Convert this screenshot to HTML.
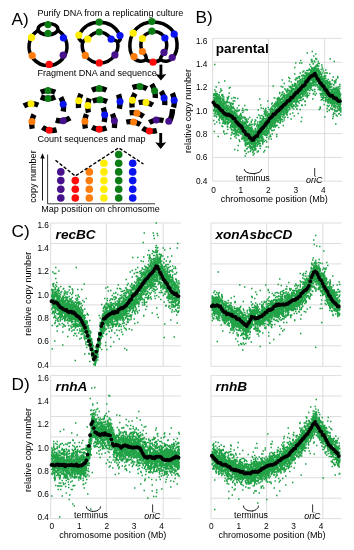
<!DOCTYPE html>
<html lang="en"><head><meta charset="utf-8"><title>Replication profiles</title>
<style>html,body{margin:0;padding:0;background:#fff;}body{width:354px;height:550px;overflow:hidden;}svg{display:block;font-family:'Liberation Sans', Arial, Helvetica, sans-serif;fill:#000;}</style></head><body>
<svg width="354" height="550" viewBox="0 0 354 550">
<rect width="354" height="550" fill="#fff"/>
<g id="plotB">
<path d="M212.6 38.4H342.4M212.6 62.2H342.4M212.6 86.0H342.4M212.6 109.8H342.4M212.6 133.6H342.4M212.6 157.4H342.4M212.6 181.2H342.4M268.5 38.4V181.2M324.7 38.4V181.2M212.6 38.4V181.2" stroke="#d9d9d9" stroke-width="0.9" fill="none"/>
<path d="M222.5 103h1.5M312 71.5h1.5M268.5 123.5h1.5M305 85.5h1.5M337.5 110h1.5M281.5 104h1.5M276.5 117h1.5M222 109h1.5M247 121.5h1.5M276.5 106h1.5M299.5 91h1.5M315 72h1.5M261.5 125.5h1.5M221.5 115.5h1.5M249.5 135.5h1.5M328.5 95.5h1.5M240 131.5h1.5M270.5 117h1.5M331.5 105h1.5M216 99h1.5M289.5 92h1.5M334 113.5h1.5M242 137h1.5M282.5 111h1.5M328.5 83.5h1.5M230 114.5h1.5M279.5 104.5h1.5M308.5 74.5h1.5M298 91.5h1.5M272.5 114.5h1.5M239 141.5h1.5M275.5 105h1.5M260.5 128h1.5M273.5 109h1.5M259.5 124h1.5M319.5 107h1.5M310.5 87h1.5M253 142h1.5M286 106.5h1.5M248 138.5h1.5M270.5 119.5h1.5M258 115h1.5M296.5 78.5h1.5M260 134.5h1.5M271.5 103h1.5M304.5 92.5h1.5M265.5 130h1.5M328 95h1.5M236 124.5h1.5M307 85.5h1.5M266.5 120h1.5M267 134h1.5M293.5 93.5h1.5M279.5 104.5h1.5M265.5 135.5h1.5M213 103.5h1.5M224.5 116h1.5M303 92.5h1.5M279.5 123h1.5M301.5 87h1.5M334.5 99h1.5M300 80.5h1.5M219.5 108h1.5M252 149.5h1.5M288.5 96h1.5M243 124h1.5M335.5 89h1.5M333 89.5h1.5M321 75h1.5M273 116.5h1.5M320 83.5h1.5M229.5 87.5h1.5M252 142h1.5M272 125.5h1.5M307.5 86h1.5M274.5 110h1.5M230.5 121.5h1.5M256.5 132h1.5M254 122h1.5M251 129.5h1.5M234 111.5h1.5M265.5 122.5h1.5M270 123.5h1.5M311.5 51.5h1.5M314 62h1.5M279.5 117h1.5M271.5 112.5h1.5M312 90h1.5M326 92.5h1.5M299 81h1.5M315 79h1.5M332.5 103h1.5M218 82.5h1.5M324.5 86.5h1.5M248 143.5h1.5M273.5 107h1.5M314.5 76.5h1.5M304 86.5h1.5M231.5 130h1.5M296.5 100h1.5M221.5 107h1.5M258.5 124.5h1.5M316.5 73.5h1.5M267.5 123h1.5M289 99.5h1.5M305.5 80h1.5M317.5 71.5h1.5M309.5 86.5h1.5M214 101h1.5M266.5 119h1.5M272 120.5h1.5M220 109.5h1.5M282 107h1.5M290 105.5h1.5M318.5 73h1.5M332.5 98.5h1.5M229 122h1.5M242 122.5h1.5M297 93.5h1.5M230 120h1.5M241.5 131h1.5M286 103h1.5M234.5 113.5h1.5M312.5 70.5h1.5M322 84.5h1.5M217 104h1.5M280.5 106.5h1.5M314.5 70.5h1.5M337 89.5h1.5M248 138.5h1.5M234.5 114.5h1.5M324.5 97.5h1.5M328.5 110.5h1.5M238 135.5h1.5M269 127.5h1.5M304.5 80h1.5M320.5 76.5h1.5M234.5 118.5h1.5M297.5 97.5h1.5M315.5 75h1.5M283 96.5h1.5M234 125h1.5M217.5 103h1.5M248.5 141h1.5M315.5 75h1.5M218.5 102h1.5M214 100.5h1.5M259 137h1.5M221 105.5h1.5M232 126.5h1.5M216 100h1.5M279.5 118.5h1.5M301.5 79h1.5M267 116h1.5M230 125h1.5M255 146h1.5M288 99h1.5M332.5 101.5h1.5M339 88.5h1.5M243.5 124h1.5M214 103.5h1.5M318.5 109.5h1.5M331 93.5h1.5M271.5 108.5h1.5M311 62h1.5M323 85.5h1.5M290.5 102h1.5M324 85h1.5M216 106h1.5M247.5 129.5h1.5M248 142.5h1.5M228 117.5h1.5M329 73.5h1.5M217 101.5h1.5M298.5 97.5h1.5M222 109h1.5M259 99h1.5M266 121.5h1.5M236 115h1.5M279 93.5h1.5M281 111h1.5M253 147h1.5M306.5 78h1.5M233.5 114h1.5M237.5 122h1.5M258 130h1.5M261 129h1.5M239 128.5h1.5M330 84.5h1.5M318.5 76.5h1.5M226.5 124h1.5M260 130h1.5M242.5 129.5h1.5M270.5 121h1.5M248 129.5h1.5M276.5 103.5h1.5M330.5 108.5h1.5M261.5 128.5h1.5M295.5 86h1.5M288.5 105h1.5M308.5 77h1.5M220.5 102.5h1.5M307.5 77h1.5M333.5 88.5h1.5M289.5 92.5h1.5M249.5 141.5h1.5M298.5 90h1.5M303.5 82.5h1.5M296.5 109h1.5M231.5 122h1.5M337 96.5h1.5M334.5 88.5h1.5M267 119.5h1.5M288.5 107.5h1.5M218 100h1.5M338.5 113.5h1.5M317 75h1.5M294 74h1.5M309.5 75.5h1.5M237 131.5h1.5M252 135h1.5M244.5 136h1.5M288.5 104h1.5M224.5 102.5h1.5M327 97.5h1.5M271.5 126h1.5M269.5 124.5h1.5M226 101.5h1.5M300 90h1.5M317 80.5h1.5M293 100.5h1.5M243.5 141h1.5M313 77h1.5M231.5 117.5h1.5M318 66h1.5M287 94.5h1.5M249.5 151.5h1.5M278 103.5h1.5M293 94h1.5M246 122h1.5M320.5 80.5h1.5M266.5 115.5h1.5M326.5 93h1.5M319 79.5h1.5M225.5 114h1.5M295 83.5h1.5M252.5 138h1.5M309 84h1.5M282 87h1.5M271 114.5h1.5M327 90h1.5M220 112.5h1.5M284 108.5h1.5M254.5 140.5h1.5M217.5 107.5h1.5M309 84h1.5M284.5 103h1.5M326.5 90h1.5M289 92h1.5M256 134h1.5M338.5 98.5h1.5M227.5 123h1.5M219.5 100h1.5M306 85h1.5M260 126h1.5M259 132h1.5M324.5 94h1.5M254.5 136.5h1.5M326 84h1.5M295 94h1.5M255 142.5h1.5M220.5 110h1.5M244 134.5h1.5M336 90.5h1.5M264.5 131.5h1.5M233.5 116.5h1.5M251 130h1.5M327.5 93.5h1.5M234 111h1.5M312 79.5h1.5M230 126h1.5M335 95h1.5M280.5 103h1.5M218.5 113.5h1.5M331.5 99.5h1.5M258.5 138h1.5M306 70.5h1.5M279.5 104.5h1.5M224.5 122.5h1.5M226.5 107.5h1.5M232 115h1.5M233.5 120.5h1.5M219.5 108.5h1.5M219 105.5h1.5M333.5 81h1.5M224.5 114.5h1.5M277.5 104.5h1.5M228 120h1.5M240 134h1.5M310 71.5h1.5M332.5 97h1.5M272.5 127h1.5M213.5 113.5h1.5M340 107.5h1.5M219 104h1.5M262.5 130.5h1.5M281.5 101.5h1.5M326.5 111.5h1.5M317.5 80h1.5M290.5 106.5h1.5M263.5 111.5h1.5M319 77h1.5M323.5 79h1.5M324 81h1.5M304 76.5h1.5M225.5 114.5h1.5M251 132.5h1.5M274.5 126h1.5M277 109.5h1.5M319 77h1.5M243 125h1.5M297.5 94.5h1.5M260.5 132.5h1.5M311.5 70.5h1.5M238 105.5h1.5M273.5 113.5h1.5M226 107h1.5M240 126h1.5M332 90.5h1.5M253 140.5h1.5M326.5 83.5h1.5M279.5 111h1.5M218 104.5h1.5M314 80h1.5M219.5 106.5h1.5M318 82.5h1.5M214 101.5h1.5M298.5 88.5h1.5M234 116h1.5M256.5 127h1.5M334 99h1.5M275 114.5h1.5M296.5 101.5h1.5M307 84h1.5M227 124.5h1.5M319.5 108.5h1.5M329 95.5h1.5M232.5 112.5h1.5M282.5 105h1.5M249 142h1.5M307 80.5h1.5M216.5 112h1.5M278 109h1.5M314 75h1.5M306.5 95h1.5M226.5 117h1.5M319 82h1.5M243 131.5h1.5M315.5 78.5h1.5M276 113h1.5M233.5 126h1.5M306.5 78.5h1.5M315.5 93.5h1.5M302 88h1.5M335.5 94h1.5M245.5 122.5h1.5M243 124h1.5M231.5 120.5h1.5M281.5 104.5h1.5M263.5 134h1.5M258.5 128h1.5M271.5 112h1.5M248 133h1.5M213.5 99.5h1.5M273 115.5h1.5M248 128h1.5M270 118.5h1.5M331 84h1.5M235.5 123h1.5M294 94h1.5M295 92.5h1.5M248.5 130.5h1.5M273 116.5h1.5M336.5 100.5h1.5M256.5 124.5h1.5M303.5 91h1.5M320 79.5h1.5M259 135.5h1.5M339 110.5h1.5M292.5 88.5h1.5M276.5 98.5h1.5M304 78.5h1.5M267 124h1.5M303.5 78.5h1.5M248 129.5h1.5M331 106h1.5M282 106h1.5M243.5 136h1.5M268.5 127.5h1.5M327 100.5h1.5M315.5 65.5h1.5M274.5 117.5h1.5M257.5 138.5h1.5M261 137h1.5M337.5 91h1.5M227 107.5h1.5M326 91.5h1.5M322 85h1.5M241.5 126h1.5M257.5 130.5h1.5M285.5 102h1.5M315 72h1.5M334 99.5h1.5M339 92.5h1.5M248.5 129.5h1.5M237.5 121h1.5M275 113.5h1.5M284 112h1.5M296.5 90h1.5M226.5 100h1.5M295 107h1.5M330 102.5h1.5M329.5 98h1.5M333 100h1.5M330.5 95h1.5M335 124h1.5M219 100h1.5M329.5 99h1.5M247.5 139h1.5M253.5 153.5h1.5M271.5 118h1.5M334.5 108h1.5M290 101.5h1.5M258 127.5h1.5M260.5 124h1.5M328 100.5h1.5M317.5 70.5h1.5M230.5 115h1.5M244.5 156h1.5M260 125h1.5M240.5 130.5h1.5M284.5 117h1.5M241.5 138h1.5M286 108h1.5M332 92h1.5M321 95h1.5M225.5 115.5h1.5M239 126.5h1.5M265.5 118.5h1.5M295 63h1.5M262 131.5h1.5M245 129h1.5M257 124.5h1.5M239 131h1.5M322.5 87.5h1.5M301.5 83.5h1.5M265 123h1.5M302 90h1.5M279 114h1.5M280 104h1.5M259.5 145.5h1.5M275 112.5h1.5M338.5 94.5h1.5M312.5 75h1.5M318 79.5h1.5M228.5 122.5h1.5M277 117h1.5M259.5 118h1.5M224 104h1.5M263 132.5h1.5M222.5 111.5h1.5M242.5 123.5h1.5M314.5 71h1.5M300 98.5h1.5M302 72h1.5M223 118.5h1.5M234 127h1.5M215.5 96.5h1.5M225.5 108.5h1.5M226 115h1.5M335 99.5h1.5M326.5 94h1.5M239 133h1.5M245 128.5h1.5M335 99.5h1.5M285.5 106.5h1.5M260 129h1.5M272.5 117.5h1.5M247.5 144h1.5M287 89h1.5M305 85.5h1.5M278.5 108h1.5M317.5 61.5h1.5M227.5 112.5h1.5M289.5 101.5h1.5M339 106.5h1.5M232 114h1.5M276 118h1.5M293 105h1.5M256 137.5h1.5M335.5 104h1.5M274.5 118h1.5M274 120h1.5M328 87h1.5M215 112h1.5M323.5 90h1.5M229.5 127.5h1.5M261 135h1.5M275 109.5h1.5M273.5 123.5h1.5M218 115h1.5M253 146h1.5M258.5 129.5h1.5M334.5 96h1.5M329.5 103h1.5M287.5 97h1.5M331.5 102h1.5M323 87h1.5M260.5 126.5h1.5M228 112.5h1.5M290 92h1.5M254 141.5h1.5M214 99.5h1.5M337.5 100.5h1.5M336 98.5h1.5M281 111h1.5M291.5 104h1.5M298 81.5h1.5M331 98.5h1.5M272.5 113.5h1.5M287 101h1.5M241.5 128h1.5M243.5 140.5h1.5M279.5 119.5h1.5M242 127.5h1.5M216.5 104.5h1.5M260 140.5h1.5M308.5 83.5h1.5M248 147h1.5M322.5 81.5h1.5M302.5 93.5h1.5M296 90h1.5M326.5 73h1.5M222.5 115h1.5M235.5 116.5h1.5M328.5 98.5h1.5M328.5 91.5h1.5M223 118.5h1.5M311.5 69h1.5M215 94.5h1.5M230 138.5h1.5M227 129.5h1.5M250.5 138.5h1.5M262.5 119h1.5M329 99.5h1.5M268.5 137h1.5M228.5 113h1.5M247.5 132.5h1.5M213.5 98h1.5M216.5 108.5h1.5M267.5 122h1.5M278 102h1.5M244.5 127h1.5M261 136h1.5M226 106h1.5M296.5 93.5h1.5M263 134.5h1.5M233.5 125h1.5M276 102.5h1.5M239.5 129.5h1.5M250 130.5h1.5M228.5 102.5h1.5M312 78h1.5M248.5 125.5h1.5M334.5 97h1.5M264.5 133.5h1.5M232.5 122.5h1.5M302.5 85h1.5M306 88h1.5M325 89.5h1.5M229.5 121h1.5M313.5 82h1.5M322.5 71h1.5M251.5 149h1.5M270.5 118h1.5M291.5 97.5h1.5M244 133.5h1.5M324 85.5h1.5M302 84h1.5M322 88h1.5M270 116h1.5M279 113.5h1.5M237.5 128.5h1.5M253 136h1.5M305.5 80.5h1.5M335 102h1.5M232.5 118.5h1.5M219.5 111.5h1.5M221.5 108.5h1.5M268.5 119.5h1.5M314 73h1.5M241.5 130h1.5M273.5 123h1.5M278.5 100.5h1.5M319.5 78h1.5M234 117.5h1.5M215 99h1.5M277.5 109h1.5M258 140.5h1.5M250 143.5h1.5M311 73.5h1.5M300 79.5h1.5M223.5 113h1.5M282.5 109.5h1.5M314.5 66.5h1.5M328.5 94.5h1.5M213 105h1.5M315.5 78.5h1.5M218.5 99.5h1.5M299.5 92h1.5M289 98.5h1.5M334 103h1.5M293.5 97h1.5M222 118h1.5M298 90.5h1.5M245.5 130.5h1.5M319 81.5h1.5M217 111h1.5M254 135.5h1.5M299 91.5h1.5M232.5 134h1.5M295 84h1.5M301.5 78.5h1.5M306.5 76.5h1.5M324.5 86h1.5M265.5 125h1.5M231 103.5h1.5M246 120.5h1.5M262.5 139h1.5M220 99h1.5M303 89.5h1.5M221 126h1.5M220 89h1.5M331.5 99.5h1.5M315.5 74.5h1.5M245 130h1.5M256.5 137.5h1.5M318 78h1.5M291.5 100.5h1.5M246.5 144.5h1.5M270 121.5h1.5M322 77h1.5M213 111h1.5M339 108h1.5M285 113h1.5M236 125h1.5M314.5 79h1.5M222.5 122h1.5M265 125h1.5M286 99.5h1.5M244.5 140h1.5M325.5 87.5h1.5M301.5 94h1.5M233.5 116.5h1.5M232.5 116h1.5M221 110.5h1.5M285.5 105.5h1.5M236.5 118.5h1.5M282 117h1.5M317 74.5h1.5M325 98.5h1.5M227.5 108.5h1.5M255 133h1.5M266 121h1.5M261.5 130.5h1.5M266 125h1.5M271.5 119.5h1.5M309 79.5h1.5M252 152.5h1.5M256.5 141h1.5M262.5 125.5h1.5M232 119.5h1.5M293 98.5h1.5M264 131.5h1.5M329.5 97.5h1.5M317.5 75.5h1.5M242 127h1.5M243.5 131h1.5M312.5 79h1.5M284 98.5h1.5M214 90h1.5M293 93.5h1.5M263 128h1.5M313 71.5h1.5M308 78h1.5M330.5 90h1.5M302 90h1.5M329 82h1.5M249 136h1.5M256 132h1.5M220.5 108.5h1.5M323 87.5h1.5M232.5 101h1.5M283 113h1.5M277.5 116h1.5M316.5 86h1.5M262.5 133.5h1.5M231 123h1.5M261.5 137h1.5M219 117h1.5M251.5 120h1.5M293 95h1.5M220 102.5h1.5M339 106.5h1.5M281 110h1.5M251 148.5h1.5M319 81.5h1.5M230.5 116h1.5M254 137.5h1.5M332 92h1.5M243.5 118h1.5M306 82h1.5M223 108h1.5M280.5 102.5h1.5M296.5 85h1.5M239.5 127h1.5M254.5 131h1.5M283 108h1.5M288 99.5h1.5M232.5 114.5h1.5M265 115.5h1.5M340 104h1.5M254 143.5h1.5M313 75h1.5M238.5 121.5h1.5M271.5 122h1.5M279 115.5h1.5M288.5 97.5h1.5M304 101h1.5M314 91.5h1.5M302 96h1.5M315.5 77h1.5M325.5 92.5h1.5M254.5 124h1.5M318 77.5h1.5M279 110.5h1.5M246 137h1.5M235 118.5h1.5M310 66.5h1.5M294 102h1.5M222 110h1.5M287.5 107h1.5M218.5 107.5h1.5M262.5 124.5h1.5M285.5 103.5h1.5M295.5 78h1.5M233 133.5h1.5M218.5 110.5h1.5M286 110h1.5M317 76h1.5M314.5 86h1.5M258.5 140.5h1.5M286.5 92h1.5M304.5 73.5h1.5M324 89h1.5M275.5 105.5h1.5M324.5 87h1.5M253.5 138h1.5M241 125.5h1.5M250.5 146.5h1.5M306 86h1.5M325.5 93.5h1.5M273 118.5h1.5M301.5 105.5h1.5M230.5 125h1.5M277.5 108h1.5M268 125h1.5M268 117.5h1.5M237 122.5h1.5M292 96h1.5M298.5 81.5h1.5M294 83.5h1.5M307.5 73.5h1.5M271 122h1.5M321.5 67h1.5M285.5 112h1.5M325 76h1.5M265 120.5h1.5M302 83.5h1.5M238 129h1.5M223.5 110.5h1.5M331.5 80.5h1.5M260 127.5h1.5M218.5 108.5h1.5M291.5 104h1.5M331.5 97.5h1.5M310.5 77h1.5M338.5 97h1.5M332 118.5h1.5M271 114h1.5M242.5 126.5h1.5M221 111h1.5M247.5 142.5h1.5M293.5 84.5h1.5M329 99.5h1.5M213 110h1.5M317 78.5h1.5M310 66.5h1.5M301 83.5h1.5M229 113.5h1.5M219.5 109.5h1.5M306.5 74h1.5M294.5 92.5h1.5M260 135.5h1.5M257 131.5h1.5M217 104h1.5M339.5 98.5h1.5M319.5 72h1.5M337 97.5h1.5M317 75.5h1.5M271.5 123h1.5M320.5 77.5h1.5M238 116.5h1.5M298.5 87h1.5M243 124h1.5M263 131.5h1.5M324 83.5h1.5M267 101h1.5M326.5 95h1.5M289 99h1.5M250.5 138.5h1.5M246 135.5h1.5M213.5 109.5h1.5M285.5 97.5h1.5M319.5 85h1.5M241.5 128.5h1.5M274 116h1.5M338 100h1.5M263 125h1.5M332.5 98h1.5M318 79h1.5M276 118h1.5M293.5 116h1.5M221 95h1.5M278.5 122.5h1.5M309.5 85.5h1.5M242 112.5h1.5M219.5 106.5h1.5M216.5 105.5h1.5M233.5 127h1.5M243 124h1.5M315.5 84.5h1.5M271.5 111.5h1.5M281 106h1.5M252.5 135.5h1.5M251 130.5h1.5M283.5 99h1.5M308 77h1.5M236 120.5h1.5M268 118h1.5M295 88h1.5M335 82.5h1.5M247 132.5h1.5M263 139.5h1.5M285.5 114h1.5M231 124.5h1.5M290.5 95.5h1.5M337 103h1.5M247.5 131.5h1.5M274 112.5h1.5M228 115.5h1.5M279 117h1.5M336.5 92.5h1.5M282 103h1.5M240 126.5h1.5M252.5 130.5h1.5M292.5 101.5h1.5M322 91h1.5M270.5 126.5h1.5M275.5 119h1.5M316 71.5h1.5M226.5 111.5h1.5M334 92h1.5M272 119.5h1.5M255 150h1.5M312 70.5h1.5M245.5 136.5h1.5M231.5 126.5h1.5M245.5 126h1.5M298.5 103h1.5M225.5 103h1.5M270.5 119h1.5M243 132h1.5M282.5 112.5h1.5M230.5 122h1.5M311.5 73.5h1.5M330.5 91h1.5M253.5 124h1.5M258 130.5h1.5M289 107.5h1.5M307 76.5h1.5M220.5 117h1.5M299 94h1.5M316.5 78.5h1.5M313.5 71h1.5M268.5 118h1.5M317.5 77.5h1.5M282.5 96h1.5M236.5 132h1.5M249.5 130h1.5M288.5 96.5h1.5M283 102h1.5M315 71.5h1.5M304 87h1.5M240 134h1.5M263.5 130.5h1.5M312 99h1.5M271 116.5h1.5M241.5 132.5h1.5M332 101.5h1.5M270 120.5h1.5M252 143.5h1.5M278 105h1.5M251 146.5h1.5M247.5 139.5h1.5M297 92.5h1.5M314 72h1.5M265 131h1.5M233.5 113h1.5M273.5 121h1.5M264 132.5h1.5M268.5 137h1.5M243.5 129.5h1.5M311 86h1.5M238.5 129h1.5M218 96.5h1.5M302 78.5h1.5M307.5 78h1.5M243.5 137.5h1.5M235 130.5h1.5M287 99h1.5M330 101h1.5M245 133.5h1.5M281.5 92.5h1.5M246.5 140.5h1.5M307.5 90h1.5M272.5 86h1.5M261 124h1.5M296.5 92h1.5M280.5 108.5h1.5M238.5 140h1.5M266 132h1.5M334.5 95h1.5M315 78h1.5M278 107.5h1.5M297 90h1.5M231 119h1.5M265.5 128.5h1.5M327 82.5h1.5M237 150.5h1.5M338 103.5h1.5M321 83.5h1.5M300 93h1.5M260.5 127h1.5M224.5 113.5h1.5M250.5 122.5h1.5M307 70.5h1.5M266.5 121.5h1.5M315 71h1.5M240.5 124.5h1.5M317.5 74h1.5M322.5 89h1.5M305 91.5h1.5M239 122.5h1.5M241.5 134.5h1.5M221 111.5h1.5M219.5 100h1.5M307 73h1.5M275.5 115h1.5M310 85.5h1.5M249 130.5h1.5M257 122h1.5M326.5 105.5h1.5M340 109h1.5M226 109.5h1.5M312 83h1.5M283.5 118h1.5M213.5 98h1.5M291.5 95h1.5M248.5 133.5h1.5M257.5 141h1.5M336 94.5h1.5M307.5 79h1.5M220 116h1.5M299.5 95.5h1.5M214.5 110.5h1.5M325.5 84h1.5M289 103h1.5M293 92h1.5M215 110h1.5M223.5 114h1.5M280 114h1.5M261.5 128.5h1.5M317 78h1.5M249 138.5h1.5M264 126h1.5M228 117h1.5M277 107h1.5M334.5 82h1.5M246.5 110h1.5M313.5 74h1.5M234 125.5h1.5M325.5 92.5h1.5M278 99.5h1.5M229 118h1.5M312.5 76.5h1.5M326 89.5h1.5M231.5 119.5h1.5M228 118h1.5M245 140.5h1.5M278.5 119h1.5M334 110h1.5M322.5 89h1.5M254 134.5h1.5M217.5 114.5h1.5M288.5 93h1.5M286 108.5h1.5M243.5 124.5h1.5M289.5 96h1.5M338 108.5h1.5M231.5 114.5h1.5M253 146h1.5M321 87.5h1.5M233 119h1.5M229.5 120.5h1.5M235 125.5h1.5M311 79h1.5M229 107.5h1.5M224.5 124h1.5M292.5 94.5h1.5M310.5 78h1.5M309 82.5h1.5M268 121.5h1.5M329.5 96h1.5M232 121h1.5M269 123h1.5M260 132.5h1.5M282.5 115.5h1.5M237.5 121.5h1.5M231.5 116h1.5M338 93.5h1.5M251.5 124.5h1.5M276.5 117.5h1.5M329.5 97.5h1.5M251.5 147.5h1.5M259.5 123h1.5M284.5 100h1.5M221.5 106h1.5M216 117h1.5M293.5 101h1.5M260 130.5h1.5M223 110.5h1.5M249.5 138.5h1.5M301 81h1.5M309.5 84.5h1.5M277 106h1.5M241 128.5h1.5M319.5 86h1.5M239.5 128h1.5M309 75h1.5M232.5 117.5h1.5M332 101.5h1.5M311.5 70.5h1.5M276.5 105h1.5M268 120.5h1.5M286 100h1.5M297 90.5h1.5M284 105.5h1.5M301.5 85h1.5M224 109h1.5M266 137.5h1.5M309 83.5h1.5M268.5 127h1.5M336.5 100h1.5M281 106h1.5M252.5 141.5h1.5M326.5 82h1.5M266.5 117h1.5M282.5 112h1.5M294.5 91.5h1.5M322 80.5h1.5M239.5 119.5h1.5M324 90.5h1.5M286 96h1.5M259.5 148.5h1.5M255.5 139h1.5M338 90h1.5M333.5 94.5h1.5M282.5 100.5h1.5M257 138h1.5M337 103h1.5M215 101h1.5M219 103.5h1.5M275 117.5h1.5M287.5 97.5h1.5M213.5 111h1.5M237 119h1.5M224 113h1.5M244.5 119.5h1.5M236 125h1.5M228.5 111.5h1.5M229.5 117.5h1.5M260 146h1.5M229.5 114.5h1.5M311.5 61.5h1.5M264 114h1.5M228 114.5h1.5M296 87h1.5M313 68h1.5M258.5 138.5h1.5M213.5 99.5h1.5M295.5 98.5h1.5M309 85h1.5M326 87.5h1.5M303.5 85.5h1.5M289 92.5h1.5M256.5 137.5h1.5M244 130h1.5M221 118h1.5M317 82h1.5M284 103.5h1.5M249.5 132h1.5M229 113.5h1.5M249.5 136.5h1.5M309.5 83.5h1.5M240.5 132.5h1.5M219.5 100h1.5M261.5 123h1.5M255.5 138h1.5M301.5 79h1.5M283.5 104.5h1.5M273 105.5h1.5M337 97.5h1.5M320.5 79h1.5M229 113.5h1.5M244.5 127h1.5M266.5 126.5h1.5M222 114.5h1.5M309.5 83h1.5M310.5 75.5h1.5M250 135h1.5M328 83h1.5M283 101h1.5M241.5 126.5h1.5M292 95h1.5M298.5 86h1.5M304 85h1.5M336.5 104.5h1.5M329 89.5h1.5M265.5 123h1.5M268 125h1.5M216 105.5h1.5M266 119h1.5M235.5 114.5h1.5M228 118h1.5M316.5 69.5h1.5M215.5 106.5h1.5M229.5 109.5h1.5M297.5 101.5h1.5M285 97.5h1.5M267.5 147h1.5M315.5 79h1.5M243 138h1.5M239 133h1.5M278.5 118h1.5M226.5 111h1.5M300.5 121.5h1.5M332 93.5h1.5M316 76.5h1.5M325 70h1.5M222 109.5h1.5M267 131h1.5M328 88.5h1.5M320 82.5h1.5M288.5 98.5h1.5M296 90.5h1.5M246.5 137.5h1.5M246.5 138.5h1.5M221.5 98.5h1.5M327.5 82h1.5M249.5 139.5h1.5M339 94.5h1.5M214 100.5h1.5M314.5 68.5h1.5M280 115.5h1.5M218 119.5h1.5M297.5 87.5h1.5M302.5 99h1.5M302 87.5h1.5M301.5 85h1.5M299 96h1.5M310.5 89.5h1.5M261.5 128h1.5M335 96.5h1.5M274.5 126.5h1.5M247 139h1.5M339 84.5h1.5M248.5 133h1.5M269 109.5h1.5M301.5 83h1.5M314.5 74.5h1.5M253 136h1.5M217.5 103.5h1.5M286.5 115h1.5M288 77.5h1.5M305.5 83.5h1.5M246 136.5h1.5M317.5 68.5h1.5M311.5 70h1.5M322.5 78.5h1.5M309 84.5h1.5M298.5 83.5h1.5M283.5 108.5h1.5M322 77.5h1.5M241.5 110.5h1.5M297.5 93.5h1.5M313.5 79.5h1.5M311.5 68.5h1.5M229.5 109.5h1.5M253 142.5h1.5M331.5 90h1.5M311.5 69.5h1.5M232.5 103.5h1.5M274.5 116.5h1.5M316 59h1.5M322.5 95.5h1.5M279 119.5h1.5M226 119.5h1.5M241 126h1.5M216 100.5h1.5M234 127h1.5M220.5 101.5h1.5M302 99.5h1.5M302 82.5h1.5M269.5 136.5h1.5M325 93.5h1.5M231.5 115h1.5M237.5 122.5h1.5M290.5 92.5h1.5M280 109.5h1.5M228.5 118h1.5M328.5 93h1.5M292 94.5h1.5M290.5 98.5h1.5M260.5 138h1.5M290 104h1.5M222 116h1.5M251 134.5h1.5M293.5 92h1.5M289 102.5h1.5M280 107h1.5M219.5 97.5h1.5M254 146.5h1.5M338 101h1.5M333 98h1.5M317.5 73.5h1.5M221 110h1.5M222 114.5h1.5M240 128h1.5M318 69.5h1.5M239 122h1.5M241.5 131h1.5M246 134h1.5M306 88h1.5M280 107h1.5M322.5 84.5h1.5M222.5 115h1.5M219.5 107h1.5M320.5 87.5h1.5M227 102h1.5M304 78.5h1.5M290 104h1.5M239.5 130h1.5M246 137h1.5M307 93h1.5M215.5 116.5h1.5M334.5 91h1.5M218.5 116h1.5M233.5 125h1.5M294.5 86.5h1.5M227.5 105.5h1.5M340 104h1.5M268 117.5h1.5M221.5 112h1.5M234 118h1.5M282 97.5h1.5M323.5 81.5h1.5M245.5 129.5h1.5M263.5 126.5h1.5M285.5 113.5h1.5M295.5 88.5h1.5M305 86h1.5M254 136h1.5M260 130h1.5M324 73h1.5M328 89.5h1.5M266 115h1.5M339.5 105.5h1.5M235 127.5h1.5M317.5 80h1.5M328.5 105.5h1.5M284.5 105.5h1.5M301 92h1.5M220.5 106h1.5M320 86h1.5M300 82h1.5M286.5 100h1.5M287 108h1.5M233.5 119h1.5M320.5 80.5h1.5M280 108h1.5M290.5 101h1.5M234.5 129h1.5M293 86h1.5M243 129h1.5M310 77h1.5M216.5 100.5h1.5M228.5 114.5h1.5M240 129h1.5M264 133h1.5M323.5 76h1.5M214 95.5h1.5M283.5 105.5h1.5M217.5 96.5h1.5M261 132h1.5M251 132h1.5M234 119h1.5M274 98h1.5M256.5 129h1.5M246 149h1.5M290.5 95.5h1.5M244 139h1.5M336.5 98.5h1.5M244.5 134.5h1.5M338.5 95.5h1.5M233.5 122h1.5M334 94h1.5M221 90.5h1.5M214 64.5h1.5M225.5 110.5h1.5M303 89h1.5M242.5 123.5h1.5M248 127.5h1.5M298.5 85.5h1.5M216.5 114.5h1.5M281.5 80h1.5M264 130h1.5M233.5 126h1.5M329 84.5h1.5M259 126h1.5M250 134h1.5M301.5 76h1.5M322 89.5h1.5M242 128h1.5M229 111.5h1.5M335 100h1.5M267.5 129.5h1.5M281 105h1.5M271 113h1.5M318 84h1.5M267.5 132.5h1.5M309 88h1.5M279.5 114h1.5M223 108.5h1.5M277.5 116h1.5M322 87.5h1.5M280.5 112h1.5M263 126.5h1.5M216 111h1.5M302 91.5h1.5M263 120h1.5M254 142h1.5M260 125h1.5M266 124.5h1.5M255.5 135h1.5M250 140h1.5M271.5 115h1.5M219 104.5h1.5M241.5 125h1.5M268.5 118h1.5M325.5 80.5h1.5M267.5 125.5h1.5M283.5 101.5h1.5M326.5 93h1.5M315.5 74h1.5M303.5 90.5h1.5M291.5 100.5h1.5M288.5 92h1.5M237 122.5h1.5M230 117.5h1.5M220 98h1.5M225 107.5h1.5M291 102.5h1.5M290.5 106h1.5M217.5 109.5h1.5M319.5 85.5h1.5M269 122.5h1.5M281.5 119.5h1.5M222.5 110h1.5M322 90.5h1.5M223 131h1.5M239.5 128.5h1.5M272 117.5h1.5M276 103.5h1.5M280.5 98.5h1.5M332 109.5h1.5M217.5 106h1.5M299 84h1.5M267.5 115.5h1.5M316 69h1.5M298 90.5h1.5M316.5 66.5h1.5M323 89.5h1.5M312 85.5h1.5M229.5 119h1.5M281.5 108h1.5M311.5 77h1.5M311.5 85.5h1.5M331 87h1.5M266 118.5h1.5M214 100h1.5M305.5 75.5h1.5M248.5 138.5h1.5M296.5 90h1.5M219 101.5h1.5M258 136.5h1.5M293.5 94.5h1.5M229 118h1.5M253.5 139h1.5M231.5 114.5h1.5M326.5 84h1.5M311.5 79.5h1.5M294 89h1.5M279 116.5h1.5M337.5 103.5h1.5M246 132.5h1.5M302.5 81h1.5M224 134h1.5M292 93h1.5M238 132h1.5M214 94.5h1.5M328.5 110h1.5M248.5 138h1.5M339 107.5h1.5M299.5 94.5h1.5M298.5 89.5h1.5M298.5 78h1.5M339 102h1.5M241.5 124h1.5M338.5 99h1.5M254 149h1.5M225 117.5h1.5M330 97h1.5M225.5 122h1.5M273.5 122h1.5M319 84h1.5M248 135h1.5M304.5 85h1.5M294.5 97.5h1.5M301 117.5h1.5M232 112h1.5M302.5 87h1.5M319.5 79h1.5M231 132.5h1.5M335 96h1.5M334 106h1.5M253.5 143h1.5M334.5 102h1.5M332.5 103.5h1.5M227.5 117.5h1.5M307.5 79.5h1.5M335.5 111h1.5M317.5 71.5h1.5M230 105.5h1.5M265 121.5h1.5M284.5 109.5h1.5M260 127.5h1.5M262 130h1.5M225 118.5h1.5M214 108h1.5M252 142.5h1.5M267 131h1.5M286.5 103.5h1.5M334.5 105.5h1.5M224.5 113.5h1.5M257 144.5h1.5M323.5 94.5h1.5M318 80h1.5M227 121.5h1.5M299 96h1.5M224.5 117.5h1.5M333 100.5h1.5M246 127h1.5M290 96.5h1.5M273 123.5h1.5M278 120.5h1.5M240 118.5h1.5M258.5 128.5h1.5M249 124.5h1.5M291 90.5h1.5M266.5 128.5h1.5M288 98h1.5M281 112h1.5M297.5 113.5h1.5M337 78h1.5M281 110.5h1.5M282.5 109.5h1.5M291 101.5h1.5M282.5 114h1.5M265 133.5h1.5M244 135.5h1.5M281 103.5h1.5M244 139h1.5M297 106h1.5M325.5 84.5h1.5M314.5 74h1.5M313 79h1.5M240 125.5h1.5M217 108.5h1.5M239 128.5h1.5M285.5 111.5h1.5M229 114.5h1.5M225.5 112.5h1.5M340 115h1.5M258 141.5h1.5M221 107.5h1.5M278 105.5h1.5M301.5 88h1.5M271.5 123h1.5M229.5 116h1.5M278.5 104h1.5M221.5 103h1.5M306 79.5h1.5M332.5 98h1.5M218 109.5h1.5M285.5 111.5h1.5M318.5 76h1.5M294.5 90h1.5M232 108.5h1.5M221.5 103.5h1.5M271 118h1.5M219 106h1.5M319.5 80.5h1.5M278.5 112.5h1.5M253 135h1.5M311 69h1.5M240 128.5h1.5M278.5 117.5h1.5M277.5 108h1.5M226 133.5h1.5M315 58.5h1.5M302 78h1.5M238 121.5h1.5M267.5 119h1.5M252.5 134h1.5M332 98.5h1.5M298 98h1.5M333 106h1.5M310.5 79.5h1.5M313.5 85h1.5M252.5 130.5h1.5M321 82.5h1.5M255.5 137h1.5M318 77h1.5M303 85h1.5M277.5 110.5h1.5M234.5 117.5h1.5M289.5 92.5h1.5M292.5 90h1.5M300 87h1.5M221.5 112h1.5M244.5 135h1.5M284.5 109.5h1.5M321.5 69h1.5M242.5 123.5h1.5M327 84.5h1.5M337 100h1.5M224 111.5h1.5M305 81h1.5M263.5 141.5h1.5M230.5 110.5h1.5M241 128.5h1.5M259 136h1.5M215 107.5h1.5M301.5 85.5h1.5M270.5 139h1.5M257 139h1.5M323.5 92.5h1.5M336 100.5h1.5M271 120h1.5M252.5 135h1.5M289.5 87.5h1.5M264.5 110h1.5M326.5 81h1.5M249.5 136.5h1.5M229 106.5h1.5M215 101h1.5M234.5 115.5h1.5M225 112h1.5M329 92.5h1.5M299.5 97.5h1.5M287 107.5h1.5M333 107h1.5M291.5 98h1.5M302.5 75h1.5M233 125.5h1.5M249.5 148.5h1.5M291.5 95h1.5M319.5 89.5h1.5M249 135h1.5M270.5 120h1.5M249 135h1.5M249.5 133h1.5M286 100h1.5M330 84h1.5M337 101h1.5M285 105h1.5M216 109.5h1.5M248 135h1.5M296.5 95h1.5M330.5 109h1.5M231.5 132.5h1.5M318.5 78.5h1.5M325 90.5h1.5M224.5 111.5h1.5M328 101h1.5M288.5 97h1.5M320.5 89.5h1.5M298.5 92.5h1.5M299.5 73h1.5M324 90.5h1.5M310 75h1.5M265 120h1.5M261.5 129.5h1.5M336 101.5h1.5M246.5 148.5h1.5M261 130.5h1.5M231 112.5h1.5M256 135h1.5M287 104.5h1.5M237.5 111h1.5M267 121.5h1.5M290.5 88.5h1.5M262 121.5h1.5M309 77h1.5M278.5 115.5h1.5M254.5 132h1.5M305 78h1.5M283.5 105h1.5M270.5 113h1.5M233.5 116.5h1.5M338.5 95.5h1.5M235 132h1.5M262 126h1.5M287.5 110h1.5M331.5 97h1.5M251.5 149.5h1.5M227.5 108h1.5M303 87h1.5M334 83h1.5M270.5 127.5h1.5M340 110.5h1.5M254 136h1.5M325 101.5h1.5M213 120.5h1.5M299.5 98.5h1.5M325.5 99.5h1.5M248.5 136h1.5M321 78h1.5M289 90.5h1.5M253.5 145h1.5M218.5 95h1.5M297 90.5h1.5M260.5 141h1.5M282 109.5h1.5M238 117h1.5M215.5 99h1.5M225 120h1.5M294.5 79.5h1.5M229 113h1.5M251 129.5h1.5M288 100.5h1.5M247.5 131h1.5M273 123h1.5M265.5 111h1.5M312 74h1.5M264 111.5h1.5M249 144h1.5M338.5 108.5h1.5M235 119.5h1.5M294.5 95.5h1.5M292.5 99.5h1.5M257.5 141h1.5M307.5 70.5h1.5M309 74h1.5M273.5 130h1.5M254 145.5h1.5M227.5 117.5h1.5M323.5 87h1.5M338 106h1.5M248.5 141h1.5M253.5 144h1.5M295 87h1.5M312 76.5h1.5M320.5 85h1.5M310.5 80h1.5M299.5 82.5h1.5M292 95.5h1.5M214.5 98h1.5M275 112h1.5M303 87h1.5M251.5 147h1.5M244.5 135h1.5M265.5 131.5h1.5M282 108h1.5M214.5 96h1.5M308.5 80.5h1.5M303 83h1.5M241.5 117.5h1.5M244.5 127.5h1.5M235 124.5h1.5M265.5 131.5h1.5M335 98h1.5M262.5 108.5h1.5M330.5 95h1.5M236 112h1.5M243.5 138h1.5M277.5 104.5h1.5M232 124h1.5M227.5 112.5h1.5M298 93h1.5M256.5 131h1.5M302 90h1.5M242 128.5h1.5M251 137h1.5M326.5 84.5h1.5M286.5 99h1.5M228.5 88h1.5M266.5 127h1.5M225.5 110.5h1.5M221.5 118.5h1.5M284.5 95h1.5M227 123.5h1.5M240 129.5h1.5M222 107h1.5M227 116.5h1.5M270 112h1.5M234 101h1.5M253 147h1.5M268.5 109.5h1.5M237.5 124.5h1.5M230 125h1.5M231.5 119h1.5M332.5 116.5h1.5M257.5 133h1.5M271 115h1.5M308.5 87h1.5M313 81h1.5M301.5 86.5h1.5M326.5 99.5h1.5M280.5 101.5h1.5M234 127h1.5M291 92.5h1.5M270.5 121h1.5M318.5 80h1.5M244 132h1.5M299 93h1.5M214 124h1.5M261.5 138.5h1.5M257 135.5h1.5M225 112.5h1.5M317.5 71.5h1.5M318 89.5h1.5M245 137.5h1.5M303.5 81.5h1.5M327.5 94h1.5M286.5 112h1.5M260 127.5h1.5M299.5 91h1.5M263 127.5h1.5M285.5 100h1.5M297 92.5h1.5M250 125h1.5M297 98h1.5M277.5 109.5h1.5M288.5 101.5h1.5M249.5 128.5h1.5M308 95.5h1.5M232 127.5h1.5M274 103.5h1.5M280.5 105h1.5M214 99h1.5M314.5 68h1.5M283.5 97.5h1.5M223 102h1.5M321 78h1.5M303.5 86.5h1.5M329.5 95.5h1.5M299.5 97h1.5M277 111.5h1.5M313.5 61h1.5M258.5 132h1.5M268.5 128.5h1.5M258 126h1.5M254.5 139h1.5M333 102h1.5M277.5 97.5h1.5M277.5 109h1.5M261 115.5h1.5M254.5 146.5h1.5M242.5 133h1.5M333.5 98h1.5M306 86.5h1.5M274 120h1.5M289 94.5h1.5M319.5 73h1.5M260 122.5h1.5M249 117.5h1.5M273.5 121h1.5M271.5 134h1.5M318.5 89h1.5M326.5 83h1.5M322 85h1.5M301 105h1.5M280 120.5h1.5M235 119.5h1.5M331.5 93.5h1.5M321.5 82h1.5M280 112h1.5M309 84.5h1.5M327.5 106.5h1.5M251.5 136h1.5M286 112h1.5M335 92.5h1.5M241.5 132h1.5M232 127h1.5M333.5 105h1.5M324.5 91h1.5M218.5 104.5h1.5M286.5 102h1.5M295 89h1.5M304 80.5h1.5M291.5 91.5h1.5M284.5 111.5h1.5M290 91.5h1.5M291.5 93h1.5M224.5 120h1.5M235 124h1.5M249.5 147.5h1.5M331 105.5h1.5M272.5 120.5h1.5M291 105h1.5M336 92.5h1.5M225.5 114h1.5M237.5 135h1.5M248.5 139h1.5M330 96.5h1.5M304.5 101.5h1.5M229.5 121.5h1.5M222 101h1.5M234.5 128.5h1.5M329.5 59h1.5M266.5 127.5h1.5M323.5 93.5h1.5M320.5 80.5h1.5M336 95h1.5M282 105h1.5M247.5 152h1.5M278.5 104.5h1.5M326.5 86.5h1.5M333.5 97h1.5M263.5 122.5h1.5M275 126h1.5M314.5 76.5h1.5M263.5 127h1.5M243.5 135.5h1.5M248.5 138h1.5M274 115h1.5M243 128.5h1.5M310 78h1.5M298 90.5h1.5M331.5 94h1.5M308 80.5h1.5M270.5 127.5h1.5M236 115.5h1.5M243 132.5h1.5M325.5 95h1.5M294 95h1.5M226.5 113.5h1.5M276.5 120.5h1.5M310.5 76h1.5M315.5 84h1.5M319.5 85.5h1.5M329 95.5h1.5M274.5 117h1.5M298 96.5h1.5M222 119.5h1.5M297 85.5h1.5M278.5 118h1.5M240 123h1.5M245 127h1.5M303 87.5h1.5M241.5 130h1.5M256.5 125h1.5M261 141h1.5M309.5 76.5h1.5M237.5 128.5h1.5M223 113.5h1.5M236 127h1.5M303.5 86h1.5M219.5 110h1.5M283.5 106.5h1.5M277 111h1.5M260.5 138h1.5M257 136h1.5M281.5 110.5h1.5M220.5 105.5h1.5M254 134.5h1.5M266 126h1.5M231 98.5h1.5M279.5 119h1.5M252.5 138h1.5M221 107.5h1.5M229 110h1.5M254.5 138.5h1.5M297 95.5h1.5M314.5 78.5h1.5M275 111h1.5M219 92.5h1.5M290 98.5h1.5M328 93h1.5M219.5 98.5h1.5M257 142.5h1.5M215 98.5h1.5M286.5 97.5h1.5M226 119h1.5M332.5 95h1.5M264.5 125h1.5M292 92h1.5M254.5 130h1.5M255.5 132h1.5M214.5 93.5h1.5M323 91h1.5M247 136.5h1.5M244.5 143.5h1.5M258.5 132.5h1.5M236.5 120h1.5M252.5 146h1.5M248.5 129h1.5M337 106.5h1.5M324.5 85.5h1.5M249 125h1.5M319.5 79.5h1.5M218 104.5h1.5M285 107.5h1.5M323 80h1.5M240.5 129h1.5M233.5 121.5h1.5M314 69.5h1.5M296 86h1.5M337 95.5h1.5M233 97.5h1.5M232 119h1.5M220 117.5h1.5M254 136h1.5M219 103.5h1.5M291 90.5h1.5M224 115h1.5M270.5 126h1.5M278.5 98h1.5M224 123.5h1.5M301 97h1.5M339 98h1.5M262.5 128.5h1.5M278.5 112h1.5M260.5 133h1.5M337.5 98.5h1.5M321 89.5h1.5M336 103.5h1.5M262 144h1.5M253 139h1.5M215 100.5h1.5M222.5 116.5h1.5M334.5 98.5h1.5M287.5 103h1.5M269.5 121h1.5M233 117.5h1.5M332.5 94h1.5M218 103.5h1.5M295.5 89h1.5M289 97h1.5M306 94h1.5M307.5 80.5h1.5M298.5 85.5h1.5M283.5 100h1.5M268 139h1.5M315 70h1.5M230 119h1.5M249 125.5h1.5M312.5 63.5h1.5M326 92h1.5M297 81.5h1.5M219 111h1.5M318.5 85h1.5M336 94.5h1.5M271.5 115.5h1.5M262.5 125.5h1.5M257.5 129.5h1.5M290 96.5h1.5M234.5 118.5h1.5M230 115h1.5M339 101.5h1.5M276.5 116h1.5M278.5 114h1.5M251 139h1.5M218.5 102.5h1.5M221 112h1.5M220.5 113h1.5M302.5 88h1.5M312 71.5h1.5M334 111h1.5M337.5 87h1.5M232 122.5h1.5M215 105.5h1.5M300 97.5h1.5M250 148.5h1.5M330.5 99h1.5M275 112h1.5M268.5 124.5h1.5M266.5 117h1.5M252 140h1.5M284.5 100h1.5M236.5 126h1.5M337 76.5h1.5M315.5 72.5h1.5M321.5 85.5h1.5M333.5 96h1.5M300 87h1.5M327.5 82.5h1.5M307 80.5h1.5M273 125.5h1.5M215.5 101h1.5M278.5 103.5h1.5M281.5 101.5h1.5M306.5 79.5h1.5M323.5 91h1.5M293 94.5h1.5M224 116h1.5M224.5 120h1.5M323.5 82h1.5M325 90.5h1.5M264 125h1.5M221.5 115h1.5M226.5 118h1.5M227.5 116.5h1.5M329 87.5h1.5M264.5 124h1.5M272 117.5h1.5M317 76.5h1.5M244 127h1.5M280.5 110h1.5M286.5 105h1.5M265.5 126.5h1.5M228 110h1.5M267 121h1.5M227 107h1.5M253.5 134.5h1.5M264 130.5h1.5M237 122.5h1.5M340 101h1.5M300.5 94.5h1.5M331.5 92.5h1.5M331.5 96h1.5M249.5 128h1.5M231.5 123.5h1.5M339 99h1.5M278 116.5h1.5M299 94h1.5M323 86h1.5M256 139h1.5M288.5 81h1.5M251 135h1.5M240.5 115.5h1.5M217.5 111.5h1.5M243 133h1.5M244.5 151h1.5M308 88.5h1.5M278.5 120h1.5M311.5 76h1.5M249.5 127.5h1.5M240 124h1.5M286.5 115h1.5M247.5 138h1.5M309 86.5h1.5M261.5 134h1.5M248.5 139.5h1.5M309 78h1.5M237 117h1.5M305 89h1.5M262.5 123h1.5M223.5 121h1.5M293 99.5h1.5M290.5 102.5h1.5M225.5 112.5h1.5M271.5 108.5h1.5M272 106h1.5M304 90.5h1.5M238 117h1.5M284 98h1.5M339 110.5h1.5M215 91.5h1.5M304 84h1.5M257.5 136.5h1.5M274.5 127h1.5M249 142.5h1.5M271.5 121h1.5M276 103h1.5M330 93h1.5M324 77.5h1.5M331.5 97.5h1.5M336 91h1.5M263 133.5h1.5M312.5 80h1.5M326 87.5h1.5M228 117h1.5M305.5 86.5h1.5M286.5 103.5h1.5M238 125h1.5M293.5 106h1.5M300.5 88.5h1.5M296 90.5h1.5M213.5 105.5h1.5M330.5 91h1.5M257.5 151h1.5M315 78.5h1.5M232.5 107h1.5M289.5 97.5h1.5M220.5 107.5h1.5M284 105h1.5M295.5 96.5h1.5M262 137h1.5M304.5 105h1.5M273.5 105h1.5M220 113.5h1.5M218 95h1.5M219.5 114h1.5M256 138.5h1.5M331 91h1.5M254.5 131h1.5M316.5 73.5h1.5M295 101h1.5M302.5 78.5h1.5M296.5 90h1.5M238.5 127.5h1.5M324 97.5h1.5M266 121h1.5M332 98h1.5M215 94.5h1.5M227.5 120.5h1.5M230 109.5h1.5M305.5 85.5h1.5M226.5 115.5h1.5M268 120h1.5M278 127.5h1.5M278.5 122.5h1.5M250.5 138h1.5M325 91h1.5M270.5 120.5h1.5M235 129h1.5M284 110h1.5M227 114.5h1.5M298 90h1.5M235 117h1.5M326 89h1.5M223 110.5h1.5M252.5 150h1.5M240.5 132h1.5M285.5 91h1.5M264.5 123h1.5M270.5 127h1.5M270 127h1.5M291 87.5h1.5M246 132h1.5M254 148h1.5M246 128.5h1.5M231.5 115.5h1.5M292.5 97h1.5M331.5 90h1.5M328.5 100h1.5M335.5 100.5h1.5M227 114.5h1.5M304 75.5h1.5M222.5 116h1.5M316.5 74.5h1.5M320.5 77.5h1.5M274 115h1.5M338.5 93h1.5M272 114.5h1.5M282 121.5h1.5M256 131h1.5M317 71.5h1.5M284.5 104.5h1.5M276.5 115h1.5M267 125.5h1.5M309 83h1.5M222 99.5h1.5M293.5 92.5h1.5M222 96.5h1.5M240.5 131.5h1.5M217 108.5h1.5M279 115.5h1.5M333 88h1.5M240 114.5h1.5M227.5 114h1.5M280 103.5h1.5M215.5 97.5h1.5M257.5 129h1.5M269.5 111h1.5M223 99h1.5M326 92h1.5M262 131h1.5M287.5 106h1.5M227 115.5h1.5M336 100h1.5M236 125h1.5M272 115.5h1.5M224 111.5h1.5M233 117h1.5M230 103h1.5M262 134h1.5M224 121.5h1.5M272.5 126.5h1.5M285 103h1.5M237 125.5h1.5M310.5 79h1.5M222.5 120.5h1.5M286 113h1.5M316 70.5h1.5M291 87h1.5M213.5 100h1.5M222.5 106h1.5M219 116.5h1.5M229.5 104h1.5M280 102.5h1.5M335 90h1.5M260 127h1.5M313 79h1.5M247.5 119h1.5M336.5 104.5h1.5M261.5 139.5h1.5M237.5 125h1.5M237 131h1.5M227.5 112.5h1.5M223.5 112.5h1.5M331 93.5h1.5M305 90.5h1.5M231.5 120h1.5M289.5 103.5h1.5M272 130.5h1.5M222 116h1.5M338.5 95h1.5M243 131.5h1.5M286 99h1.5M259 130h1.5M275 114.5h1.5M339 105h1.5M310.5 78h1.5M243 128.5h1.5M302.5 94h1.5M272 120.5h1.5M243 117h1.5M284 107.5h1.5M242.5 126.5h1.5M316 79.5h1.5M250.5 142h1.5M225.5 122.5h1.5M322.5 83.5h1.5M234.5 133h1.5M303 84.5h1.5M323.5 82.5h1.5M305.5 73.5h1.5M334 99.5h1.5M247.5 143h1.5M260.5 128h1.5M293.5 101.5h1.5M228 115h1.5M338.5 106h1.5M297 91h1.5M299.5 92.5h1.5M287 95.5h1.5M277 117h1.5M237.5 135.5h1.5M226.5 119.5h1.5M245.5 125h1.5M216.5 94h1.5M292 97.5h1.5M236 115.5h1.5M330 94h1.5M227 119.5h1.5M253.5 125h1.5M322 83.5h1.5M292 96h1.5M265.5 135h1.5M306 85h1.5M264 150.5h1.5M233 122h1.5M337.5 104.5h1.5M324 75.5h1.5M307 81.5h1.5M248.5 134h1.5M277.5 112h1.5M224 117.5h1.5M218 99h1.5M333.5 61.5h1.5M266 135.5h1.5M240.5 126.5h1.5M313.5 70h1.5M280 118.5h1.5M297 96.5h1.5M226.5 114.5h1.5M269.5 122.5h1.5M265 130.5h1.5M250.5 132h1.5M235.5 123h1.5M324 117h1.5M307.5 85h1.5M284.5 106.5h1.5M247.5 147h1.5M293.5 97h1.5M265 135.5h1.5M213 105h1.5M292 95.5h1.5M297.5 94h1.5M335.5 101h1.5M318 70.5h1.5M223 123h1.5M253 142.5h1.5M218.5 120.5h1.5M221.5 105h1.5M272 116h1.5M239.5 119h1.5M220.5 108h1.5M292.5 100.5h1.5M330 108h1.5M318 76h1.5M219.5 106h1.5M251 144.5h1.5M217.5 110h1.5M266.5 120h1.5M332 94h1.5M237.5 120.5h1.5M306 90.5h1.5M276 110.5h1.5M279 108.5h1.5M319 87.5h1.5M252.5 136.5h1.5M254.5 144.5h1.5M307 73.5h1.5M231 113.5h1.5M226.5 122h1.5M265 134.5h1.5M263 122.5h1.5M251.5 132h1.5M245 109.5h1.5M325 91h1.5M265 124h1.5M252 141.5h1.5M313 75h1.5M320.5 100h1.5M302 94.5h1.5M335.5 90h1.5M228.5 117h1.5M270 112.5h1.5M316 77h1.5M337 98.5h1.5M238 126.5h1.5M307.5 79h1.5M240 113.5h1.5M263.5 131h1.5M308.5 69h1.5M311 72h1.5M220 98h1.5M245.5 133.5h1.5M335.5 91.5h1.5M285.5 103h1.5M286.5 104h1.5M245.5 144.5h1.5M270.5 115.5h1.5M247.5 136h1.5M230.5 121h1.5M249 135.5h1.5M284 108.5h1.5M279.5 116h1.5M279.5 106h1.5M256.5 117.5h1.5M268.5 120h1.5M324 89.5h1.5M330 98h1.5M327 95h1.5M243 137h1.5M293.5 95.5h1.5M310.5 74.5h1.5M254.5 130.5h1.5M273.5 98h1.5M322 90.5h1.5M302.5 82.5h1.5M305.5 78.5h1.5M223 132h1.5M219.5 100h1.5M300.5 93.5h1.5M286 97h1.5M234.5 118h1.5M213.5 100h1.5M243 132h1.5M292 94.5h1.5M259 146h1.5M295.5 89.5h1.5M232.5 130.5h1.5M295.5 91h1.5M227 102.5h1.5M327 85.5h1.5M245.5 119h1.5M213.5 105h1.5M315 54h1.5M253.5 145.5h1.5M265 120h1.5M231.5 114.5h1.5M239 132h1.5M263.5 114h1.5M250 150.5h1.5M277 107h1.5M247 122h1.5M268.5 131h1.5M216.5 104h1.5M277 101.5h1.5M289.5 103.5h1.5M327 102h1.5M304 94.5h1.5M223 119h1.5M259.5 126h1.5M309.5 75.5h1.5M304.5 89.5h1.5M219.5 110.5h1.5M216.5 101h1.5M276 134.5h1.5M270 112h1.5M230.5 127h1.5M246.5 126.5h1.5M257.5 131h1.5M313 74h1.5M246 138h1.5M315.5 82h1.5M320 72h1.5M244.5 117.5h1.5M321.5 79.5h1.5M223 109.5h1.5M261.5 124.5h1.5M225.5 105.5h1.5M254 147.5h1.5M249 146.5h1.5M310 79h1.5M319 86h1.5M255.5 135h1.5M256 126h1.5M335.5 87.5h1.5M233.5 124h1.5M273 116h1.5M288 100h1.5M296.5 85.5h1.5M232.5 120h1.5M253 140.5h1.5M232 127h1.5M309 87.5h1.5M305.5 79h1.5M317.5 89.5h1.5M267.5 128.5h1.5M215.5 114.5h1.5M327.5 91.5h1.5M226.5 119.5h1.5M241.5 118h1.5M217 113.5h1.5M263 123h1.5M301 94h1.5M331 91.5h1.5M282.5 107h1.5M224 112.5h1.5M325.5 81.5h1.5M225.5 113.5h1.5M239 132h1.5M241 129.5h1.5M325.5 97.5h1.5M265 140.5h1.5M320 83.5h1.5M283.5 114.5h1.5M273.5 117.5h1.5M313 68.5h1.5M239.5 131.5h1.5M247.5 127h1.5M329 94.5h1.5M289.5 114h1.5M261.5 125.5h1.5M293 89h1.5M308 78h1.5M303.5 88h1.5M277.5 118h1.5M292.5 93h1.5M243 126h1.5M274 125h1.5M325 89h1.5M329 101h1.5M215.5 99.5h1.5M245.5 153.5h1.5M246 135h1.5M254.5 137.5h1.5M251.5 129h1.5M248.5 134h1.5M273 116h1.5M243.5 138h1.5M306 84h1.5M216.5 99h1.5M335.5 90.5h1.5M237 129.5h1.5M326.5 84h1.5M299.5 100.5h1.5M325.5 91.5h1.5M268 118.5h1.5M254 133h1.5M290.5 119h1.5M238 123.5h1.5M266.5 125h1.5M282 94.5h1.5M228.5 116h1.5M315 67h1.5M271 104h1.5M280.5 107.5h1.5M299.5 88.5h1.5M327 84h1.5M230.5 135h1.5M237.5 116.5h1.5M228.5 109.5h1.5M335.5 101h1.5M268 124.5h1.5M304.5 86h1.5M234 117h1.5M331 105.5h1.5M229 110.5h1.5M299 63h1.5M216.5 98.5h1.5M323 85h1.5M262.5 130h1.5M293 109h1.5M289 99h1.5M238.5 122.5h1.5M270.5 111.5h1.5M213 97.5h1.5M312.5 80.5h1.5M271 111.5h1.5M248 144h1.5M263 122h1.5M265 121.5h1.5M233 120h1.5M259.5 121.5h1.5M299 90.5h1.5M284 105h1.5M339 110h1.5M308 85h1.5M318.5 63.5h1.5M231.5 120.5h1.5M279 104h1.5M244 124.5h1.5M243.5 124.5h1.5M255 150h1.5M285.5 101h1.5M265.5 125h1.5M263.5 133h1.5M259.5 143.5h1.5M338.5 98.5h1.5M266.5 124.5h1.5M330 96h1.5M339 102h1.5M292 94h1.5M337 93h1.5M340 98.5h1.5M316.5 64.5h1.5M304 78.5h1.5M241 124h1.5M236.5 122.5h1.5M219.5 103.5h1.5M240.5 124.5h1.5M280 115h1.5M268.5 126h1.5M309 73h1.5M251 127h1.5M292 113h1.5M259 131.5h1.5M241 139h1.5M311.5 76.5h1.5M250 148.5h1.5M279 113h1.5M245 131h1.5M295.5 89.5h1.5M235 120.5h1.5M221 95.5h1.5M292.5 98h1.5M276 113.5h1.5M295.5 96.5h1.5M223 113.5h1.5M312 69.5h1.5M219 112h1.5M334.5 98.5h1.5M332.5 103.5h1.5M315 84h1.5M252.5 137h1.5M295 80h1.5M339 101h1.5M304 84h1.5M297 85.5h1.5M216.5 108h1.5M217.5 104.5h1.5M293 100h1.5M272 109.5h1.5M275.5 116h1.5M237.5 122.5h1.5M251.5 137.5h1.5M326 96.5h1.5M259.5 128h1.5M336.5 97h1.5M234 125.5h1.5M280.5 99h1.5M294 99h1.5M300 83.5h1.5M315.5 59.5h1.5M309 88h1.5M317 87h1.5M220.5 109h1.5M223 104h1.5M230 105h1.5M238 126.5h1.5M304.5 93.5h1.5M281.5 98h1.5M303 85h1.5M289 109.5h1.5M284 110h1.5M236.5 121.5h1.5M322.5 98h1.5M311 68.5h1.5M309 82.5h1.5M331.5 102.5h1.5M263 118.5h1.5M266.5 120h1.5M273 114h1.5M257.5 151.5h1.5M278 110.5h1.5M292.5 95h1.5M287.5 97.5h1.5M235.5 138h1.5M305 96h1.5M222 96h1.5M239.5 120.5h1.5M263.5 131h1.5M318 81.5h1.5M245 134h1.5M318 74h1.5M287 90.5h1.5M302 87.5h1.5M250.5 131.5h1.5M336.5 116h1.5M295.5 94h1.5M223 112h1.5M315.5 77h1.5M272.5 113.5h1.5M319 82h1.5M302 79.5h1.5M336 99h1.5M328.5 96.5h1.5M297.5 91.5h1.5M310.5 60h1.5M220.5 112h1.5M314 69.5h1.5M306.5 96h1.5M333 97.5h1.5M309 79h1.5M291.5 100.5h1.5M312 72.5h1.5M289.5 99.5h1.5M274.5 113h1.5M337.5 104h1.5M276 119.5h1.5M226 107h1.5M218.5 104h1.5M260 126.5h1.5M271 130.5h1.5M283.5 100.5h1.5M222 109h1.5M283 105h1.5M335 92.5h1.5M308.5 83.5h1.5M302.5 84.5h1.5M278.5 117.5h1.5M325.5 83.5h1.5M224.5 113.5h1.5M312 90.5h1.5M303.5 90.5h1.5M261 130h1.5M275.5 120h1.5M232 111h1.5M213.5 106.5h1.5M255.5 138.5h1.5M256 144h1.5M279 114h1.5M257 139.5h1.5M326 86.5h1.5M231.5 114.5h1.5M317.5 72h1.5M282 110.5h1.5M241 116.5h1.5M324.5 87.5h1.5M283.5 100.5h1.5M225 113.5h1.5M323 100.5h1.5M247.5 131h1.5M285.5 110.5h1.5M299.5 109.5h1.5M307.5 74h1.5M304 83.5h1.5M318.5 81.5h1.5M311 72h1.5M237 120.5h1.5M284 104h1.5M275.5 115h1.5M230 113h1.5M268 129h1.5M311.5 80h1.5M269.5 120h1.5M263 130h1.5M273.5 105.5h1.5M285 95h1.5M310 70h1.5M321.5 85.5h1.5M249.5 146h1.5M246.5 130.5h1.5M253 132h1.5M323 80h1.5M327.5 93.5h1.5M256.5 127h1.5M319 74.5h1.5M282 111h1.5M335 106h1.5M285.5 104.5h1.5M328 92.5h1.5M283.5 103.5h1.5M257.5 138h1.5M321 65h1.5M256 137h1.5M313 76.5h1.5M280.5 106.5h1.5M254 135.5h1.5M273.5 118.5h1.5M328 86h1.5M250.5 142h1.5M224 106h1.5M328 95.5h1.5M228 120h1.5M242.5 122.5h1.5M274 122h1.5M312 78.5h1.5M337.5 102h1.5M236.5 131.5h1.5M242.5 132h1.5M339.5 96h1.5M284.5 108.5h1.5M322.5 92.5h1.5M259.5 129.5h1.5M250 135.5h1.5M324 86h1.5M239 122.5h1.5M246.5 128.5h1.5M260 136h1.5M255.5 143h1.5M234 112.5h1.5M250 136h1.5M235 119.5h1.5M280.5 113h1.5M301.5 94h1.5M278.5 117h1.5M222 126.5h1.5M288 106.5h1.5M303.5 89h1.5M235.5 125h1.5M274.5 122h1.5M336.5 96.5h1.5M318 63.5h1.5M271 124.5h1.5M246 138.5h1.5M233.5 130h1.5M218.5 106.5h1.5M242.5 122.5h1.5M275 117h1.5M276.5 122h1.5M235 118h1.5M270.5 118.5h1.5M269 117.5h1.5M316 66h1.5M330 102.5h1.5M334.5 96h1.5M275 125h1.5M321 81h1.5M292 86h1.5M226 107h1.5M222 103.5h1.5M290 94.5h1.5M299.5 87.5h1.5M296 90.5h1.5M274.5 125.5h1.5M288.5 86.5h1.5M297.5 85h1.5M302.5 87h1.5M231 122.5h1.5M273.5 117h1.5M255 136.5h1.5M274.5 123h1.5M263 125h1.5M222 108h1.5M313.5 77h1.5M279.5 101h1.5M324 88h1.5M218.5 102h1.5M225 113.5h1.5M229 112.5h1.5M323.5 104.5h1.5M277.5 115.5h1.5M308.5 82h1.5M222.5 105h1.5M308 84h1.5M223 97h1.5M328.5 99h1.5M278 116.5h1.5M335 100h1.5M293.5 99h1.5M289.5 90.5h1.5M234 117.5h1.5M293.5 90h1.5M309 83h1.5M290.5 101.5h1.5M300.5 97.5h1.5M325.5 83h1.5M301.5 81.5h1.5M294.5 96.5h1.5M280 105.5h1.5M271 109.5h1.5M303.5 88.5h1.5M318.5 79h1.5M305.5 79.5h1.5M225.5 119h1.5M245.5 131.5h1.5M291 89h1.5M285 102.5h1.5M329.5 94.5h1.5M338 96.5h1.5M327 97.5h1.5M290 102.5h1.5M304.5 88.5h1.5M321 88.5h1.5M231.5 116.5h1.5M252.5 136.5h1.5M216 105.5h1.5M292.5 94h1.5M330 103.5h1.5M213.5 98h1.5M229 107.5h1.5M238.5 128.5h1.5M312 75.5h1.5M260 123h1.5M238 129.5h1.5M260.5 136h1.5M245.5 127.5h1.5M245 124.5h1.5M285 109.5h1.5M298 95h1.5M244.5 136.5h1.5M283 104.5h1.5M216.5 111h1.5M336.5 110.5h1.5M226 117.5h1.5M284 109.5h1.5M340 109.5h1.5M254 142h1.5M249.5 137h1.5M307 84.5h1.5M272 124h1.5M247 136.5h1.5M286 114.5h1.5M318 77h1.5M298 90.5h1.5M243.5 122h1.5M298 97h1.5M331 98.5h1.5M238 119h1.5M296 96h1.5M276.5 109h1.5M297.5 95h1.5M230.5 129h1.5M242.5 130.5h1.5M257 130.5h1.5M319.5 79.5h1.5M262 131h1.5M256 134h1.5M307.5 85.5h1.5M230.5 106h1.5M253.5 147.5h1.5M283 105.5h1.5M257 135h1.5M289 108h1.5M289.5 105.5h1.5M231 107h1.5M230 108h1.5M312.5 81.5h1.5M266 119.5h1.5M232 113h1.5M222.5 115h1.5M266 123.5h1.5M320 84.5h1.5M239 120.5h1.5M339.5 99h1.5M215.5 103.5h1.5M288.5 102h1.5M302 93h1.5M280.5 86.5h1.5M246 128h1.5M253 134.5h1.5M283.5 106.5h1.5M327 87h1.5M266.5 124.5h1.5M257 141.5h1.5M264 127.5h1.5M340 109.5h1.5M247 133.5h1.5M234.5 110h1.5M326.5 90.5h1.5M229 117h1.5M319.5 77.5h1.5M292.5 95.5h1.5M335 106h1.5M253.5 141.5h1.5M322 69h1.5M224 103.5h1.5M312.5 80h1.5M254.5 141h1.5M271.5 111h1.5M314.5 72.5h1.5M293.5 95.5h1.5M271 124.5h1.5M250 142h1.5M309 93.5h1.5M272 113.5h1.5M244 105.5h1.5M263 127.5h1.5M314 80.5h1.5M220.5 101.5h1.5M254 131.5h1.5M305.5 84.5h1.5M291 98h1.5M269 129h1.5M232.5 116.5h1.5M219 123h1.5M264 132h1.5M300.5 100.5h1.5M247 126h1.5M327.5 95.5h1.5M291.5 108h1.5M271 117.5h1.5M309 90.5h1.5M251 143h1.5M326.5 108.5h1.5M259.5 134.5h1.5M213.5 109.5h1.5M337.5 89.5h1.5M276 112.5h1.5M328 90h1.5M227 114h1.5M238.5 122.5h1.5M274.5 107.5h1.5M327 94h1.5M224.5 113.5h1.5M281.5 107.5h1.5M309.5 85h1.5M262.5 126h1.5M269.5 126h1.5M331.5 101h1.5M281 102.5h1.5M300.5 93h1.5M298.5 88.5h1.5M327 94h1.5M256.5 133h1.5M282.5 125.5h1.5M240 129.5h1.5M255 120.5h1.5M317.5 72h1.5M335.5 91h1.5M254.5 135.5h1.5M310 88.5h1.5M281.5 108.5h1.5M301 63h1.5M259.5 118.5h1.5M258 133.5h1.5M239 124h1.5M276.5 118h1.5M220 111.5h1.5M322.5 87h1.5M244 150.5h1.5M293.5 100h1.5M277.5 116.5h1.5M257 131.5h1.5M333 99.5h1.5M321 93.5h1.5M306.5 75h1.5M228 96.5h1.5M271.5 115h1.5M295.5 99.5h1.5M225 112h1.5M301.5 82.5h1.5M317 80h1.5M333.5 97.5h1.5M277 112.5h1.5M216.5 97h1.5M239.5 114.5h1.5M315.5 77h1.5M232 115h1.5M292 101h1.5M296 105h1.5M269.5 125.5h1.5M313 68h1.5M228.5 116.5h1.5M292 93.5h1.5M261.5 131.5h1.5M322 97.5h1.5M263.5 125.5h1.5M237 127h1.5M256.5 136h1.5M279.5 112.5h1.5M223 115.5h1.5M323 85.5h1.5M296 109h1.5M252.5 147.5h1.5M290.5 93h1.5M338 99.5h1.5M289.5 99h1.5M264.5 114h1.5M299.5 83.5h1.5M309 87h1.5M300.5 92h1.5M240 127h1.5M215.5 106h1.5M253 145h1.5M268 114.5h1.5M318.5 89h1.5M224 107.5h1.5M320 80h1.5M220.5 102h1.5M253 141.5h1.5M264.5 121h1.5M331.5 95.5h1.5M333.5 92h1.5M218 113.5h1.5M238 132.5h1.5M270 109h1.5M247.5 126h1.5M334 90h1.5M291 102.5h1.5M254.5 129.5h1.5M289 94h1.5M298.5 89h1.5M322 93.5h1.5M326 90.5h1.5M266.5 122h1.5M309.5 83h1.5M337 89.5h1.5M281 101.5h1.5M306 88.5h1.5M275 121h1.5M261.5 137h1.5M239 127.5h1.5M224.5 109.5h1.5M254 136.5h1.5M258 144h1.5M285.5 97.5h1.5M298 98h1.5M303.5 85h1.5M311 68h1.5M285.5 106.5h1.5M278 106.5h1.5M290.5 100.5h1.5M302.5 88.5h1.5M320.5 97h1.5M245 128h1.5M322 73h1.5M238 127h1.5M215 108h1.5M314.5 72.5h1.5M242.5 124.5h1.5M319.5 84.5h1.5M258.5 137.5h1.5M258 131h1.5M323.5 92h1.5M309.5 80h1.5M220.5 108h1.5M333 90h1.5M239.5 122h1.5M297.5 95h1.5M332.5 114.5h1.5M320 89h1.5M275 114h1.5M333.5 95.5h1.5M300 83h1.5M244.5 126.5h1.5M335.5 97h1.5M285 110h1.5M254 145.5h1.5M268 124h1.5M237.5 132h1.5M286 97.5h1.5M285 103h1.5M233 124h1.5M265.5 125h1.5M247 137.5h1.5M327 83.5h1.5M237.5 145.5h1.5M290.5 96.5h1.5M294.5 85.5h1.5M289.5 99.5h1.5M260.5 108h1.5M244 128.5h1.5M214 115.5h1.5M239 122h1.5M316.5 82h1.5M248.5 125h1.5M281 99.5h1.5M251 128h1.5M221 117h1.5M266.5 112h1.5M339 103h1.5M264 121.5h1.5M255.5 140.5h1.5M286 96.5h1.5M258.5 128.5h1.5M243 135h1.5M261.5 118.5h1.5M327.5 79.5h1.5M231 130h1.5M229.5 117h1.5M309 82.5h1.5M237 123.5h1.5M229.5 118h1.5M244 130.5h1.5M325 91.5h1.5M332.5 89h1.5M331.5 80h1.5M253 135.5h1.5M328 102.5h1.5M221 104.5h1.5M274 104h1.5M283 115.5h1.5M270 126h1.5M337.5 96.5h1.5M309 84.5h1.5M273.5 119.5h1.5M306 74.5h1.5M310 86h1.5M227 117.5h1.5M254 141h1.5M254.5 144.5h1.5M333 85h1.5M321.5 83.5h1.5M251 148h1.5M338.5 109h1.5M222 100.5h1.5M255.5 140.5h1.5M238.5 121h1.5M279 112.5h1.5M328 88.5h1.5M313 84h1.5M217.5 136.5h1.5M244.5 138h1.5M312 83.5h1.5M248.5 137h1.5M317 76h1.5M292 106.5h1.5M301.5 92.5h1.5M304 90h1.5M286.5 99h1.5M236.5 108h1.5M316 81.5h1.5M284.5 110.5h1.5M304.5 84.5h1.5M216 106h1.5M236 114h1.5M285 95.5h1.5M315 68h1.5M259 136.5h1.5M308.5 79h1.5M213 103h1.5M218.5 97.5h1.5M300.5 89h1.5M338.5 91h1.5M253 150.5h1.5M255.5 137h1.5M256 139h1.5M286.5 105.5h1.5M263 123h1.5M259 141h1.5M310.5 79.5h1.5M213 102h1.5M323.5 94h1.5M307 76h1.5M334.5 103h1.5M320 93.5h1.5M314 72h1.5M250 140.5h1.5M312 68.5h1.5M289 102h1.5M257.5 136.5h1.5M316 65.5h1.5M275 125h1.5M338 114h1.5M304.5 72.5h1.5M325 92h1.5M327.5 88h1.5M287.5 100.5h1.5M326.5 94h1.5M289 101h1.5M278 110.5h1.5M339.5 104h1.5M301.5 85h1.5M301 89.5h1.5M338.5 92.5h1.5M293 102h1.5M213.5 116h1.5M299 90.5h1.5M293 94.5h1.5M305.5 92h1.5M337 88h1.5M306.5 81h1.5M339.5 95h1.5M313 72h1.5M337.5 94h1.5M268.5 120.5h1.5M244 139h1.5M283 101.5h1.5M326 89h1.5M322.5 92.5h1.5M298 94h1.5M264.5 131.5h1.5M248 134.5h1.5M216 102h1.5M266 122h1.5M277 110.5h1.5M338 92.5h1.5M285 89.5h1.5M286.5 95.5h1.5M272 119h1.5M215 100.5h1.5M249.5 143.5h1.5M296.5 99.5h1.5M303 86.5h1.5M334 96h1.5M274 118.5h1.5M300.5 85h1.5M314.5 73h1.5M309.5 74h1.5M229 111.5h1.5M326 94.5h1.5M308.5 77.5h1.5M298 94h1.5M231 118h1.5M333 98h1.5M299.5 94.5h1.5M237 110.5h1.5M287.5 99h1.5M232 123h1.5M220 117h1.5M303.5 88.5h1.5M306.5 97.5h1.5M278.5 119h1.5M232 119.5h1.5M254.5 120h1.5M226 111h1.5M242 127.5h1.5M221.5 110h1.5M297.5 94h1.5M312 68.5h1.5M278.5 118.5h1.5M297 90h1.5M232 114.5h1.5M328.5 85.5h1.5M288.5 102h1.5M228.5 112.5h1.5M281 94.5h1.5M271.5 119h1.5M323.5 85.5h1.5M308.5 70h1.5M225.5 116h1.5M295.5 91.5h1.5M219.5 110.5h1.5M276 106h1.5M319.5 77.5h1.5M237 125.5h1.5M295.5 97.5h1.5M264.5 121.5h1.5M227.5 98h1.5M325.5 91h1.5M304.5 82.5h1.5M247 142.5h1.5M238.5 110.5h1.5M258.5 136h1.5M304 75.5h1.5M329.5 96h1.5M278.5 108.5h1.5M213.5 104.5h1.5M214.5 103.5h1.5M244 129.5h1.5M312.5 85.5h1.5M234.5 128h1.5M286 103h1.5M216.5 99.5h1.5M254 133h1.5M297 98.5h1.5M299.5 89.5h1.5M215 100h1.5M235.5 117.5h1.5M242.5 137.5h1.5M245.5 133h1.5M258.5 127.5h1.5M313 85h1.5M226 115h1.5M242 120.5h1.5M274.5 107.5h1.5M312 78h1.5M311 73h1.5M226.5 107h1.5M281 119.5h1.5M295.5 105.5h1.5M268.5 133h1.5M321.5 87h1.5M227 115h1.5M284 89h1.5M304 77.5h1.5M337.5 101h1.5M214 104.5h1.5M305 89.5h1.5M256.5 140.5h1.5M307.5 84h1.5M280 118.5h1.5M312 78h1.5M234 128.5h1.5M329.5 87.5h1.5M262 141h1.5M315 77.5h1.5M250 129h1.5M230 118.5h1.5M256.5 146h1.5M299 86.5h1.5M330 98h1.5M276 113h1.5M255.5 146h1.5M331.5 97.5h1.5M307 78h1.5M270.5 122.5h1.5M296 96h1.5M245.5 133h1.5M276.5 110h1.5M264 118.5h1.5M244 131h1.5M224 101.5h1.5M242 123.5h1.5M314.5 74.5h1.5M309.5 85.5h1.5M268.5 127h1.5M325 78.5h1.5M233 126h1.5M306.5 53h1.5M310 80h1.5M221.5 110h1.5M323 92h1.5M311.5 78.5h1.5M272 124.5h1.5M276 110h1.5M287 101h1.5M274 121.5h1.5M220 101h1.5M268 119h1.5M323 87h1.5M281 99h1.5M244 129.5h1.5M328.5 87.5h1.5M267 132.5h1.5M236.5 131h1.5M288.5 105h1.5M235 135.5h1.5M292.5 98h1.5M299 87.5h1.5M237.5 126.5h1.5M253 141.5h1.5M287.5 99.5h1.5M241 130h1.5M317.5 70.5h1.5M306 76.5h1.5M235 123.5h1.5M288 93.5h1.5M286 110.5h1.5M260.5 133.5h1.5M296.5 88.5h1.5M267.5 129.5h1.5M269.5 122h1.5M263 152h1.5M286 102h1.5M213 95.5h1.5M289.5 102.5h1.5M228 108.5h1.5M242 135h1.5M316.5 78.5h1.5M242 108.5h1.5M292 97h1.5M245 133.5h1.5M339.5 94h1.5M338 99h1.5M255 135h1.5M329 81.5h1.5M329 95.5h1.5M239 125h1.5M260.5 121h1.5M237 121h1.5M242 129.5h1.5M280 116.5h1.5M277 115.5h1.5M270.5 118h1.5M238 122.5h1.5M281 101.5h1.5M333.5 103.5h1.5M258.5 135h1.5M300.5 85h1.5M242 137.5h1.5M308.5 85h1.5M286 97.5h1.5M329.5 98h1.5M223 111.5h1.5M296.5 94.5h1.5M266.5 128.5h1.5M260 129.5h1.5M255.5 133.5h1.5M327.5 86h1.5M245 134h1.5M293.5 95h1.5M216 94.5h1.5M335.5 99.5h1.5M315 79.5h1.5M300.5 89h1.5M279 109h1.5M258.5 137.5h1.5M268.5 118.5h1.5M297 83h1.5M277.5 121.5h1.5M326.5 82.5h1.5M254 142.5h1.5M322.5 97h1.5M251 135.5h1.5M231.5 125.5h1.5M229 113h1.5M246.5 132.5h1.5M329.5 83.5h1.5M314.5 78h1.5M306.5 78.5h1.5M252 144h1.5M240.5 122h1.5M259 133.5h1.5M298 92h1.5M233.5 128.5h1.5M280 121.5h1.5M260 124.5h1.5M309.5 85h1.5M295 93.5h1.5M232 114.5h1.5M252 137h1.5M315.5 81h1.5M326 80.5h1.5M278 105h1.5M318 72.5h1.5M239.5 126.5h1.5M264.5 124.5h1.5M295 87h1.5M216.5 104h1.5M280.5 108h1.5M321.5 82h1.5M239.5 127h1.5M214.5 111h1.5M295.5 93.5h1.5M297 92.5h1.5M244 134.5h1.5M254.5 136h1.5M256.5 133.5h1.5M223.5 107h1.5M307.5 77h1.5M240 122h1.5M311 79.5h1.5M296 78.5h1.5M226 109.5h1.5M308 81.5h1.5M231 124h1.5M296.5 101h1.5M223 100.5h1.5M287 98h1.5M269.5 119.5h1.5M279.5 99h1.5M308 75.5h1.5M307 82h1.5M218.5 105h1.5M233.5 108.5h1.5M338 104.5h1.5M269 115.5h1.5M317.5 77.5h1.5M283 95.5h1.5M311.5 76.5h1.5M222 114.5h1.5M276.5 125.5h1.5M308.5 85h1.5M265.5 127.5h1.5M304 79h1.5M318.5 71h1.5M316.5 84.5h1.5M239 117.5h1.5M328.5 87.5h1.5M287 111.5h1.5M236 123h1.5M314 82.5h1.5M245.5 129h1.5M255 143h1.5M266 142h1.5M277 108.5h1.5M235 121h1.5M321 80h1.5M317 76h1.5M251.5 136h1.5M336.5 104h1.5M220.5 114h1.5M228.5 116.5h1.5M310.5 83h1.5M244 124.5h1.5M239.5 128.5h1.5M215.5 101h1.5M255 144h1.5M222.5 115h1.5M294 67.5h1.5M213.5 103h1.5M268.5 113.5h1.5M325.5 88h1.5M284.5 110.5h1.5M255 149.5h1.5M226.5 116h1.5M334.5 101h1.5M215 107.5h1.5M276.5 111.5h1.5M260 105h1.5M310.5 89.5h1.5M288 102.5h1.5M332.5 97h1.5M334 100h1.5M305.5 86h1.5M273.5 117h1.5M281 114.5h1.5M330 94h1.5M306.5 89h1.5M308 78.5h1.5M332.5 94.5h1.5M260.5 124.5h1.5M318.5 74.5h1.5M309 64.5h1.5M261.5 121.5h1.5M309 78h1.5M226.5 118.5h1.5M215 99h1.5M324 85.5h1.5M337 99h1.5M268 121.5h1.5M262.5 116.5h1.5M242 125h1.5M332 109.5h1.5M246 138.5h1.5M295 89.5h1.5M316.5 77.5h1.5M270.5 125.5h1.5M335 95.5h1.5M259.5 135.5h1.5M311.5 77.5h1.5M240 122h1.5M274 116h1.5M302 79.5h1.5M245 131.5h1.5M319 82h1.5M332.5 93.5h1.5M249.5 139.5h1.5M276 115h1.5M215 104.5h1.5M264.5 123.5h1.5M289 95h1.5M233.5 121h1.5M337.5 101h1.5M235 135.5h1.5M277.5 101.5h1.5M214 105h1.5M251 136.5h1.5M315 71h1.5M265 108.5h1.5M322 98.5h1.5M317 87h1.5M268 122h1.5M232.5 122h1.5M316 65.5h1.5M330 93h1.5M244 132h1.5M222.5 109.5h1.5M320.5 74h1.5M290.5 96.5h1.5M246 143h1.5M235 127.5h1.5M276 116h1.5M331 99h1.5M234 136.5h1.5M305 87h1.5M245 124.5h1.5M288 90.5h1.5M269.5 121h1.5M285 104h1.5M230 105h1.5M322.5 83h1.5M338 100h1.5M276 108.5h1.5M264 112.5h1.5M313.5 67.5h1.5M234.5 113h1.5M222 116.5h1.5M304 83h1.5M282.5 100h1.5M293.5 99h1.5M216.5 94.5h1.5M323 82.5h1.5M298 93.5h1.5M227 107.5h1.5M297 85h1.5M337.5 89.5h1.5M245.5 127h1.5M333 101.5h1.5M335 100.5h1.5M320 95h1.5M275 110.5h1.5M269.5 135h1.5M259 121.5h1.5M313 69h1.5M232 104.5h1.5M280.5 111h1.5M282.5 107.5h1.5M331.5 108.5h1.5M328.5 85.5h1.5M274.5 112h1.5M289 78.5h1.5M303 71h1.5M282 106.5h1.5M249 124h1.5M233 125.5h1.5M284.5 97.5h1.5M268.5 122.5h1.5M247.5 134.5h1.5M256.5 124h1.5M218.5 110h1.5M283.5 112h1.5M222.5 110h1.5M226.5 117h1.5M311 80.5h1.5M226.5 108.5h1.5M302 90.5h1.5M275 125h1.5M244 123.5h1.5M285.5 105.5h1.5M279.5 103h1.5M329 93h1.5M335.5 96.5h1.5M272 115h1.5M259.5 132h1.5M287.5 97.5h1.5M227 115h1.5M280 96h1.5M225.5 117h1.5M248 131h1.5M309.5 74.5h1.5M311 83.5h1.5M273.5 126h1.5M335.5 102.5h1.5M232 122h1.5M252.5 140.5h1.5M288.5 94.5h1.5M269.5 128h1.5M295.5 98.5h1.5M224 114.5h1.5M304.5 82.5h1.5M233.5 116.5h1.5M247.5 129.5h1.5M236 130.5h1.5M304.5 79h1.5M218 109.5h1.5M337 97h1.5M260.5 123.5h1.5M242.5 127.5h1.5M254.5 128.5h1.5M276 111.5h1.5M242 128h1.5M310 73h1.5M309 77h1.5M293 96.5h1.5M328 92.5h1.5M305 76h1.5M233.5 120h1.5M246.5 128.5h1.5M273.5 110h1.5M252.5 137.5h1.5M263.5 124.5h1.5M273.5 126.5h1.5M312.5 77h1.5M282 104h1.5M319.5 93.5h1.5M290.5 105.5h1.5M214 90h1.5M338.5 91.5h1.5M231.5 111.5h1.5M263 134h1.5M215.5 97h1.5M279.5 109h1.5M299 87.5h1.5M249.5 143.5h1.5M331 92.5h1.5M232 121h1.5M333.5 94.5h1.5M313 93.5h1.5M232.5 121.5h1.5M226 117h1.5M221.5 107h1.5M286.5 101.5h1.5M245 146h1.5M336.5 111h1.5M227.5 113.5h1.5M315.5 81.5h1.5M260.5 124h1.5M214.5 113h1.5M306.5 75h1.5M287.5 104h1.5M242 131.5h1.5M258 128.5h1.5M232 111.5h1.5M230 115.5h1.5M285.5 109.5h1.5M281.5 99h1.5M239 119.5h1.5M250.5 121.5h1.5M339.5 100.5h1.5M258 126.5h1.5M275 106.5h1.5M233 119h1.5M216 100.5h1.5M291 102.5h1.5M243.5 137h1.5M307.5 88h1.5M242.5 127h1.5M260 128.5h1.5M295.5 98h1.5M301 94h1.5M256.5 131.5h1.5M305.5 82.5h1.5M284.5 103h1.5M316.5 81h1.5M309.5 76h1.5M317.5 63.5h1.5M246.5 137h1.5M223 116h1.5M213.5 104h1.5M255 148.5h1.5M265.5 124.5h1.5M246.5 125.5h1.5M233.5 124.5h1.5M267.5 120h1.5M252 131h1.5M217 112.5h1.5M319.5 80.5h1.5M279 92.5h1.5M235 125h1.5M255 137h1.5M286 99.5h1.5M225 109h1.5M279 113.5h1.5M306.5 85.5h1.5M234 124.5h1.5M277.5 118.5h1.5M327 87.5h1.5M302.5 96h1.5M270 136.5h1.5M216 106h1.5M331.5 98.5h1.5M338 103.5h1.5M312.5 94h1.5M242 110.5h1.5M287 117.5h1.5M315 70.5h1.5M280.5 109h1.5M336.5 102h1.5M289 104h1.5M213.5 102h1.5M250.5 141h1.5M339.5 109h1.5M337.5 102h1.5M330.5 103h1.5M239 122.5h1.5M245 120h1.5M290 98h1.5M217.5 105.5h1.5M326.5 90h1.5M275 104.5h1.5M306 74h1.5M291 95h1.5M259 132.5h1.5M328 91h1.5M244 138h1.5M278 114.5h1.5M266.5 125h1.5M304.5 82.5h1.5M303 76h1.5M270.5 121.5h1.5M255 135h1.5M239.5 130.5h1.5M219 118.5h1.5M269 121h1.5M213.5 131.5h1.5M258 130h1.5M336 91h1.5M296 86.5h1.5M265.5 125.5h1.5M333 84.5h1.5M339.5 103h1.5M311.5 79h1.5M251.5 143.5h1.5M325.5 91.5h1.5M313.5 79.5h1.5M295.5 97.5h1.5M272.5 117.5h1.5M247 136h1.5M251 135h1.5M279 109h1.5M277 121.5h1.5M270.5 112h1.5M314 81h1.5M244.5 136h1.5M228.5 93h1.5M234.5 98h1.5M292 93.5h1.5M217 110.5h1.5M252.5 137h1.5M234.5 125.5h1.5M216.5 104h1.5M333 88.5h1.5M259 135h1.5M327.5 103h1.5M274 113.5h1.5M336.5 98h1.5M230.5 108.5h1.5M260 136h1.5M244.5 141.5h1.5M308 81h1.5M244 122h1.5M284 96.5h1.5M237 123h1.5M221.5 101h1.5M326 86.5h1.5M311 60h1.5M314 75h1.5M340 94.5h1.5M321 89h1.5M222 118.5h1.5M249 145h1.5M265.5 115h1.5M333.5 105h1.5M215.5 107h1.5M307 85.5h1.5M221.5 112h1.5M235 125.5h1.5M244 133.5h1.5M269.5 121.5h1.5M328 92.5h1.5M322 81h1.5M253 145.5h1.5M338 100h1.5M220.5 106.5h1.5M220.5 113.5h1.5M274 118.5h1.5M256 135h1.5M323.5 86.5h1.5M216 93.5h1.5M325.5 73h1.5M249 133.5h1.5M313.5 78.5h1.5M215 106.5h1.5M329.5 86.5h1.5M318 75.5h1.5M287 103h1.5M319 85h1.5M315 68.5h1.5M321.5 79h1.5M300 80.5h1.5M336.5 99h1.5M286.5 104h1.5M301.5 92.5h1.5M273.5 114.5h1.5M338.5 106.5h1.5M215.5 105h1.5M306.5 83h1.5M243.5 122.5h1.5M298.5 100.5h1.5M235.5 120.5h1.5M256.5 152h1.5M300.5 92h1.5M265 123.5h1.5M297.5 87.5h1.5M295 104h1.5M227.5 110h1.5M301 75.5h1.5M248.5 130.5h1.5M267 118h1.5M278 107h1.5M261 138.5h1.5M246.5 133.5h1.5M233.5 126.5h1.5M292.5 98.5h1.5M309 78.5h1.5M237 121.5h1.5M289.5 92.5h1.5M229.5 117.5h1.5M295 94h1.5M251 138h1.5M258.5 132h1.5M298.5 93.5h1.5M272 114h1.5M270 111.5h1.5M251.5 134.5h1.5M316.5 65h1.5M251.5 140h1.5M295.5 102.5h1.5M220.5 105h1.5M328.5 99.5h1.5M336 111h1.5M236 121h1.5M269 124h1.5M226.5 117h1.5M265.5 147h1.5M323.5 89h1.5M288.5 96h1.5M230.5 113h1.5M336.5 93.5h1.5M284 104h1.5M222.5 113.5h1.5M259.5 135.5h1.5M231.5 114.5h1.5M325.5 92.5h1.5M262.5 117.5h1.5M276.5 112.5h1.5M320 89.5h1.5M285 103h1.5M219 104.5h1.5M222.5 117.5h1.5M235 129.5h1.5M298.5 90h1.5M291.5 84.5h1.5M258.5 137.5h1.5M252.5 151h1.5M223 105h1.5M222 123.5h1.5M293.5 89.5h1.5M314 89.5h1.5M277 118.5h1.5M300.5 93h1.5M270 115.5h1.5M220 113h1.5M213 94h1.5M315 73.5h1.5M323 86.5h1.5M338 101h1.5M252 132.5h1.5M306.5 77.5h1.5M307 70.5h1.5M297.5 102h1.5M317.5 79h1.5M334.5 94.5h1.5M238.5 127h1.5M305.5 83h1.5M265.5 134.5h1.5M318 71h1.5M329 101h1.5M332.5 77h1.5M309 78.5h1.5M330 97.5h1.5M228 113h1.5M225 118h1.5M266 125.5h1.5M304.5 80.5h1.5M315.5 71.5h1.5M319.5 89.5h1.5M229.5 116h1.5M300 86.5h1.5M283.5 83.5h1.5M234 112h1.5M273.5 110.5h1.5M311.5 80.5h1.5M234 127.5h1.5M327 87.5h1.5M234 149.5h1.5M223.5 113.5h1.5M259 133h1.5M312 78h1.5M311.5 72h1.5M323 92.5h1.5M236 123.5h1.5M240.5 131.5h1.5M239 116h1.5M239.5 117.5h1.5M266.5 128.5h1.5M339.5 110.5h1.5M299 88.5h1.5M256 134h1.5M335 98.5h1.5M284.5 98h1.5M218 99.5h1.5M222 94.5h1.5M283.5 114h1.5M237.5 121h1.5M247 139h1.5M260.5 121.5h1.5M289 103.5h1.5M331.5 103.5h1.5M224 109.5h1.5M330.5 101.5h1.5M267.5 124.5h1.5M252.5 155h1.5M249.5 135.5h1.5M258.5 132h1.5M266.5 117.5h1.5M263.5 127h1.5M320.5 94h1.5M256 131.5h1.5M243.5 138.5h1.5M331.5 93h1.5M312 78h1.5M216.5 114h1.5M283.5 98h1.5M292.5 97.5h1.5M231.5 117h1.5M255 132.5h1.5M236 126h1.5M224 81h1.5M278 105h1.5M222.5 109.5h1.5M271.5 120h1.5M273.5 111h1.5M289 92h1.5M321.5 94.5h1.5M216.5 114h1.5M235.5 126h1.5M298 92h1.5M267.5 130h1.5M236 124.5h1.5M237 116h1.5M236.5 123.5h1.5M330 101h1.5M261.5 120h1.5M286 99.5h1.5M285.5 105h1.5M309 79.5h1.5M274 112h1.5M262 130.5h1.5M303.5 87.5h1.5M254.5 149.5h1.5M225.5 107.5h1.5M340 102h1.5M331.5 89.5h1.5M271 126h1.5M305 86h1.5M317 80.5h1.5M261.5 132.5h1.5M236 133.5h1.5M233 118h1.5M324.5 90h1.5M339 104.5h1.5M270 113.5h1.5M337.5 91h1.5M273 122h1.5M270.5 120h1.5M247 139h1.5M285 104h1.5M262.5 127h1.5M323 85h1.5M334 99.5h1.5M303.5 83h1.5M268.5 119h1.5M259.5 140h1.5M336.5 106.5h1.5M299.5 89.5h1.5M292.5 106.5h1.5M213 100h1.5M338.5 106.5h1.5M256 143h1.5M277 111.5h1.5M234 131h1.5M335.5 92.5h1.5M325 89h1.5M263.5 124.5h1.5M314.5 95h1.5M340 104h1.5M323.5 83h1.5M226 112h1.5M223 106h1.5M257 142h1.5M275 104h1.5M242.5 125h1.5M233 125.5h1.5M242.5 126.5h1.5M335 100h1.5M316 76h1.5M232.5 116.5h1.5M267.5 113.5h1.5M320.5 69.5h1.5M247.5 135.5h1.5M279 108.5h1.5M249.5 140h1.5M331 98.5h1.5M278 110.5h1.5M252 137.5h1.5M306.5 87h1.5M243 110.5h1.5M245.5 122h1.5M330.5 98h1.5M326.5 90h1.5M235 117h1.5M225.5 105h1.5M325 100h1.5M268 124.5h1.5M311 78.5h1.5M257.5 110h1.5M221 114.5h1.5M228.5 111h1.5M272 121h1.5M307.5 84h1.5M329 83.5h1.5M252.5 131.5h1.5M266.5 114.5h1.5M303.5 78.5h1.5M301 91.5h1.5M312.5 83h1.5M308 82h1.5M280 106.5h1.5M309 74.5h1.5M270 129h1.5M312 76h1.5M271.5 106.5h1.5M227 113.5h1.5M316 78.5h1.5M233 117h1.5M282 104h1.5M306 73h1.5M293 98.5h1.5M284.5 100h1.5M337 104h1.5M246.5 134h1.5M276.5 114h1.5M307.5 77h1.5M337.5 103h1.5M243 122.5h1.5M217 108h1.5M315.5 84h1.5M295 107h1.5M269.5 113.5h1.5M329 97h1.5M337.5 100.5h1.5M260.5 128.5h1.5M266.5 134.5h1.5M284 97h1.5M262 132.5h1.5M269.5 115h1.5M243 138h1.5M319 82.5h1.5M269.5 135.5h1.5M328 100.5h1.5M317.5 80.5h1.5M276 105.5h1.5M238.5 110h1.5M214.5 105h1.5M248.5 133.5h1.5M316 81.5h1.5M283.5 93.5h1.5M311 78h1.5M225.5 108h1.5M309 82h1.5M338.5 103h1.5M216 96h1.5M230 116.5h1.5M321.5 91h1.5M261.5 132h1.5M254 146h1.5M321 78.5h1.5M325 78.5h1.5M339 96.5h1.5M245 124.5h1.5M286.5 112.5h1.5M225.5 113h1.5M277 118h1.5M319.5 90.5h1.5M255 138h1.5M278 98.5h1.5M297.5 77h1.5M222 114h1.5M249.5 142h1.5M259.5 116h1.5M329.5 97h1.5M301.5 90.5h1.5M292 98h1.5M243.5 122h1.5M321.5 91.5h1.5M241.5 122h1.5M311 80.5h1.5M247.5 125.5h1.5M333.5 92h1.5M219.5 113h1.5M227 99h1.5M326.5 81.5h1.5M234 119.5h1.5M287.5 100h1.5M258.5 125.5h1.5M286.5 104.5h1.5M291 101h1.5M273 117.5h1.5M276 136.5h1.5M306.5 78h1.5M236 130.5h1.5M302 85.5h1.5M217 97h1.5M313 56h1.5M264.5 116h1.5M300 60.5h1.5M232 120h1.5M335.5 88h1.5M330 92.5h1.5M324.5 88h1.5M316.5 74.5h1.5M308.5 85h1.5M215.5 87h1.5M272.5 111h1.5M239.5 132h1.5M222.5 115.5h1.5M301.5 84.5h1.5M339 94.5h1.5M336.5 94.5h1.5M263 132h1.5M242 139h1.5M289.5 94.5h1.5M230 115h1.5M317 70.5h1.5M327 97.5h1.5M291 98h1.5M325.5 94.5h1.5M238.5 120.5h1.5M324.5 95.5h1.5M253.5 141.5h1.5M278 117h1.5M330 89.5h1.5M277 102.5h1.5M315 75h1.5M240 128h1.5M219 114h1.5M333 113h1.5M330 86.5h1.5M312.5 64h1.5M276 120.5h1.5M242.5 126h1.5M218 103.5h1.5M322 88.5h1.5M327 92.5h1.5M243.5 130.5h1.5M296.5 94.5h1.5M277 110h1.5M275.5 113h1.5M274.5 112h1.5M278 113h1.5M221.5 105h1.5M241.5 137h1.5M243 135h1.5M264 126h1.5M262 134.5h1.5M337.5 102h1.5M330.5 100h1.5M301.5 90h1.5M260 123h1.5M284.5 111.5h1.5M274 121.5h1.5M260 126h1.5M321.5 99.5h1.5M311.5 69h1.5M303.5 91h1.5M260 129h1.5M264.5 126h1.5M259 138h1.5M300.5 94.5h1.5M306.5 87h1.5M316 66.5h1.5M285 110.5h1.5M250.5 134h1.5M315 72.5h1.5M292 99h1.5M335.5 79.5h1.5M260.5 137.5h1.5M233.5 119h1.5M319.5 74.5h1.5M213 94h1.5M233 112h1.5M290.5 82h1.5M301 90h1.5M245 135h1.5M217 113.5h1.5M283.5 120h1.5M312 81.5h1.5M339 86.5h1.5M252.5 150h1.5M252 141h1.5M303 90h1.5M313 81h1.5M249.5 138h1.5M227 127h1.5M245 142h1.5M244.5 145h1.5M278 107.5h1.5M237.5 118h1.5M222.5 108.5h1.5M335.5 115h1.5M290 86.5h1.5M215 103h1.5M304 78h1.5M236 122h1.5M263 130h1.5M282.5 100.5h1.5M306 90h1.5M335.5 111.5h1.5M245 129h1.5M218 112h1.5M238.5 119.5h1.5M255 130.5h1.5M240.5 132h1.5M266.5 128.5h1.5M267.5 107.5h1.5M333.5 101.5h1.5M334 106.5h1.5M268.5 118h1.5M259 122.5h1.5M325.5 91.5h1.5M302 93h1.5M326 90h1.5M266.5 127h1.5M215.5 101.5h1.5M251 140h1.5M238.5 123.5h1.5M292 98h1.5M288 105.5h1.5M227 113h1.5M315 72.5h1.5M299.5 79.5h1.5M265.5 113h1.5M268.5 117.5h1.5M272.5 117h1.5M300 86.5h1.5M275 115h1.5M327.5 88h1.5M292.5 93h1.5M259 128.5h1.5M312 76h1.5M286.5 106.5h1.5M237 121.5h1.5M297.5 81h1.5M327 86h1.5M271.5 112.5h1.5M286.5 103h1.5M222.5 116h1.5M220 91h1.5M245.5 127.5h1.5M334 93.5h1.5M226.5 126.5h1.5M253.5 134.5h1.5M296.5 95h1.5M326.5 100h1.5M335 95.5h1.5M294.5 93h1.5M218.5 106h1.5M269 122h1.5M327 87h1.5M252 140h1.5M213.5 99.5h1.5M330.5 90.5h1.5M326 99.5h1.5M305.5 73.5h1.5M234 126.5h1.5M304 83h1.5M229 115h1.5M244.5 127h1.5M216 105.5h1.5M240.5 130.5h1.5M326 83h1.5M308 84h1.5M299 76.5h1.5M289.5 94h1.5M240.5 119h1.5M224 109h1.5M245 135.5h1.5M322 80h1.5M278.5 112h1.5M222 108h1.5M249 143.5h1.5M270.5 108h1.5M235.5 110.5h1.5M226.5 111h1.5M275 102h1.5M324.5 88.5h1.5M242.5 129.5h1.5M268 115.5h1.5M314.5 68.5h1.5M285 105.5h1.5M293 97.5h1.5M304 80h1.5M316.5 79.5h1.5M219.5 97h1.5M285.5 104.5h1.5M224 117.5h1.5M233 125.5h1.5M219.5 101h1.5M235 116h1.5M324 82h1.5M234.5 123h1.5M215.5 110h1.5M245 124h1.5M311 59.5h1.5M280.5 109.5h1.5M282 92h1.5M297 97h1.5M253 139h1.5M313.5 69.5h1.5M275.5 119.5h1.5M252 139h1.5M246.5 122.5h1.5M338 114h1.5M313 74.5h1.5M283.5 105.5h1.5M278 113h1.5M290 96h1.5M216 108h1.5M223.5 107.5h1.5M295.5 98.5h1.5M298.5 91h1.5M326 91.5h1.5M291.5 103.5h1.5M307.5 73.5h1.5M285 104h1.5M264 135h1.5M271 124.5h1.5M334.5 96.5h1.5M331.5 92h1.5M325.5 94.5h1.5M286 92h1.5M240 133h1.5M223 99h1.5M328.5 87h1.5M226 118h1.5M258 132.5h1.5M316.5 70h1.5M239 133h1.5M314.5 75.5h1.5M243 126h1.5M312.5 79h1.5M303.5 87h1.5M249.5 133h1.5M256 140.5h1.5M259 135h1.5M286.5 94h1.5M328.5 94.5h1.5M282.5 108.5h1.5M266 127h1.5M262.5 122.5h1.5M235 127.5h1.5M298 81h1.5M276 106h1.5M327 89.5h1.5M278.5 111h1.5M334.5 97h1.5M269 122h1.5M278.5 114h1.5M236 134.5h1.5M313.5 72.5h1.5M216.5 109.5h1.5M235.5 118.5h1.5M253 139h1.5M319.5 76.5h1.5M290.5 95h1.5M252 147h1.5M329.5 93h1.5M318.5 81.5h1.5M217 98h1.5M243.5 133.5h1.5M301.5 90h1.5M323.5 89.5h1.5M307.5 87.5h1.5M325.5 89.5h1.5M229 111.5h1.5M214 106h1.5M269 123.5h1.5M221 119.5h1.5M297 89h1.5M329.5 96h1.5M266 132.5h1.5M286.5 102h1.5M262 142.5h1.5M234 134h1.5M228 115h1.5M304 89h1.5M328 99h1.5M259.5 128.5h1.5M230 111.5h1.5M318.5 87h1.5M246.5 139h1.5M310.5 75.5h1.5M296 89h1.5M252.5 132.5h1.5M278 102.5h1.5M260 137h1.5M229 117.5h1.5M241.5 127.5h1.5M285.5 95h1.5M312 71h1.5M224.5 112.5h1.5M238 117h1.5M214.5 104h1.5M338 97h1.5M226.5 97.5h1.5M261 133h1.5M220 103.5h1.5M276.5 100h1.5M293.5 93.5h1.5M279.5 100.5h1.5M299 94.5h1.5M240.5 124h1.5M329.5 93h1.5M310.5 84h1.5M237 98.5h1.5M270.5 120h1.5M215.5 110h1.5M318.5 82.5h1.5M327 85h1.5M279.5 112h1.5M258.5 143h1.5M314.5 68h1.5M258 130h1.5M219 111h1.5M297.5 91h1.5M264.5 124.5h1.5M340 112h1.5M278.5 107h1.5M227.5 119.5h1.5M312.5 68h1.5M335 81h1.5M228.5 114.5h1.5M253.5 143h1.5M274.5 112h1.5M303 96h1.5M302.5 86.5h1.5M292.5 100h1.5M323 87.5h1.5M306.5 75.5h1.5M216 122h1.5M336.5 108h1.5M318.5 87.5h1.5M298.5 97.5h1.5M312.5 84h1.5M318 84h1.5M219 115h1.5M293.5 97h1.5" stroke="#21a246" stroke-width="1.5" fill="none"/>
<path d="M213.4 102.4h0M214.7 104.5h0M215.9 105.7h0M217.2 106.0h0M218.4 106.9h0M219.7 108.6h0M220.9 110.1h0M222.2 110.8h0M223.4 112.4h0M224.7 113.8h0M225.9 114.3h0M227.2 115.1h0M228.4 114.4h0M229.7 115.1h0M230.9 116.0h0M232.2 116.8h0M233.4 118.4h0M234.7 118.7h0M236.0 121.5h0M237.2 122.8h0M238.5 124.2h0M239.7 125.3h0M241.0 126.3h0M242.2 128.0h0M243.5 130.7h0M244.7 131.8h0M246.0 134.2h0M247.2 134.8h0M248.5 135.2h0M249.7 137.5h0M251.0 138.3h0M252.2 140.0h0M253.5 139.7h0M254.7 137.5h0M256.0 136.2h0M257.3 135.9h0M258.5 133.0h0M259.8 131.5h0M261.0 129.8h0M262.3 128.3h0M263.5 127.2h0M264.8 125.6h0M266.0 123.7h0M267.3 122.3h0M268.5 121.0h0M269.8 118.3h0M271.0 117.6h0M272.3 116.2h0M273.5 114.2h0M274.8 114.3h0M276.0 112.7h0M277.3 111.3h0M278.5 110.4h0M279.8 109.2h0M281.1 107.8h0M282.3 106.7h0M283.6 105.1h0M284.8 104.5h0M286.1 103.0h0M287.3 101.2h0M288.6 100.8h0M289.8 100.0h0M291.1 97.6h0M292.3 97.6h0M293.6 95.9h0M294.8 94.5h0M296.1 92.8h0M297.3 92.5h0M298.6 90.5h0M299.8 89.7h0M301.1 87.9h0M302.4 86.3h0M303.6 85.8h0M304.9 84.7h0M306.1 82.0h0M307.4 80.9h0M308.6 79.1h0M309.9 77.4h0M311.1 76.3h0M312.4 75.8h0M313.6 75.0h0M314.9 73.8h0M316.1 76.1h0M317.4 78.6h0M318.6 80.0h0M319.9 82.4h0M321.1 83.7h0M322.4 85.6h0M323.7 86.4h0M324.9 88.9h0M326.2 90.3h0M327.4 92.3h0M328.7 93.9h0M329.9 95.6h0M331.2 95.8h0M332.4 96.0h0M333.7 97.8h0M334.9 98.3h0M336.2 98.4h0M337.4 100.0h0M338.7 101.1h0M339.9 101.1h0" stroke="#000" stroke-width="3.9" fill="none" stroke-linecap="round"/>
<text x="215.8" y="52.8" font-size="13.6" text-anchor="start" font-weight="bold" font-style="normal" >parental</text>
<text x="207.5" y="43.8" font-size="8.3" text-anchor="end" font-weight="normal" font-style="normal" >1.6</text>
<text x="207.5" y="67.1" font-size="8.3" text-anchor="end" font-weight="normal" font-style="normal" >1.4</text>
<text x="207.5" y="90.4" font-size="8.3" text-anchor="end" font-weight="normal" font-style="normal" >1.2</text>
<text x="207.5" y="113.7" font-size="8.3" text-anchor="end" font-weight="normal" font-style="normal" >1.0</text>
<text x="207.5" y="137.0" font-size="8.3" text-anchor="end" font-weight="normal" font-style="normal" >0.8</text>
<text x="207.5" y="160.3" font-size="8.3" text-anchor="end" font-weight="normal" font-style="normal" >0.6</text>
<text x="207.5" y="183.6" font-size="8.3" text-anchor="end" font-weight="normal" font-style="normal" >0.4</text>
</g>
<text x="195.6" y="22.8" font-size="17.2" text-anchor="start" font-weight="normal" font-style="normal" >B)</text>
<text x="0" y="0" font-size="9.05" text-anchor="middle" font-weight="normal" font-style="normal" transform="translate(190.6 111) rotate(-90)">relative copy number</text>
<text x="213.5" y="192.8" font-size="8.3" text-anchor="middle" font-weight="normal" font-style="normal" >0</text>
<text x="240.9" y="192.8" font-size="8.3" text-anchor="middle" font-weight="normal" font-style="normal" >1</text>
<text x="268.4" y="192.8" font-size="8.3" text-anchor="middle" font-weight="normal" font-style="normal" >2</text>
<text x="295.9" y="192.8" font-size="8.3" text-anchor="middle" font-weight="normal" font-style="normal" >3</text>
<text x="323.3" y="192.8" font-size="8.3" text-anchor="middle" font-weight="normal" font-style="normal" >4</text>
<text x="274.3" y="202.0" font-size="9.05" text-anchor="middle" font-weight="normal" font-style="normal" >chromosome position (Mb)</text>
<text x="252.8" y="181.2" font-size="8.9" text-anchor="middle" font-weight="normal" font-style="normal" >terminus</text>
<path d="M244.2 169.0A8.7 4.6 0 0 0 261.6 169.0" stroke="#000" stroke-width="0.9" fill="none"/>
<text x="314.2" y="182.8" font-size="8.9" text-anchor="middle" font-weight="normal" font-style="italic" >oriC</text>
<path d="M314.7 168.0V176.3" stroke="#000" stroke-width="0.8" fill="none"/>
<g id="plotC1">
<path d="M50.7 223.0H181.0M50.7 243.5H181.0M50.7 263.9H181.0M50.7 284.4H181.0M50.7 304.9H181.0M50.7 325.4H181.0M50.7 345.8H181.0M50.7 366.3H181.0M106.4 223.0V366.3M163.2 223.0V366.3M50.7 223.0V366.3" stroke="#d9d9d9" stroke-width="0.9" fill="none"/>
<path d="M86.5 313.5h1.5M94 357.5h1.5M103.5 321.5h1.5M124.5 314h1.5M162.5 278h1.5M64.5 313.5h1.5M130.5 304h1.5M69.5 306h1.5M138.5 279h1.5M139 297h1.5M163 271h1.5M142.5 261.5h1.5M132 295h1.5M156.5 248h1.5M160 263.5h1.5M72 293h1.5M154 280.5h1.5M151 271h1.5M63.5 309.5h1.5M127.5 308h1.5M172 294.5h1.5M122.5 319h1.5M91.5 351h1.5M80.5 323h1.5M177 288h1.5M137.5 286h1.5M160.5 277.5h1.5M145 277h1.5M70 312.5h1.5M71.5 308h1.5M55 306.5h1.5M126 305h1.5M88.5 336.5h1.5M108 316h1.5M147 278h1.5M110.5 324h1.5M81 324h1.5M75 295.5h1.5M159 282.5h1.5M143 281h1.5M89.5 341h1.5M175 296h1.5M111.5 320h1.5M132 289h1.5M165 279.5h1.5M62.5 299h1.5M73.5 317h1.5M134.5 297.5h1.5M147.5 280.5h1.5M174 290h1.5M84.5 327.5h1.5M78 304.5h1.5M174 292.5h1.5M105 345.5h1.5M64.5 293h1.5M130.5 304h1.5M68.5 290h1.5M115 313.5h1.5M77.5 310h1.5M96 353.5h1.5M163 262.5h1.5M77 309h1.5M109 310h1.5M132 298h1.5M139 298.5h1.5M168 280h1.5M64 303h1.5M91 347h1.5M120.5 317.5h1.5M69 308h1.5M110 321h1.5M58 303h1.5M90 344h1.5M129 299h1.5M100 332.5h1.5M145 272h1.5M145 276h1.5M162.5 275.5h1.5M171 288h1.5M93 360h1.5M147.5 277h1.5M59 310h1.5M116.5 324h1.5M156.5 268h1.5M131.5 295h1.5M124 302h1.5M61.5 323.5h1.5M122 297h1.5M155.5 270h1.5M71.5 310h1.5M96 357h1.5M124.5 309h1.5M59.5 305.5h1.5M98.5 336.5h1.5M102.5 315.5h1.5M137 290h1.5M122.5 301h1.5M173 302h1.5M137.5 283h1.5M126.5 316h1.5M74.5 310.5h1.5M106.5 325h1.5M98.5 340.5h1.5M147 274h1.5M170 291h1.5M127 307h1.5M103 329h1.5M83.5 315h1.5M177 296h1.5M80 326.5h1.5M176.5 323h1.5M78.5 308.5h1.5M61 313.5h1.5M134 305h1.5M104 327h1.5M130 309.5h1.5M86 330.5h1.5M155 260h1.5M59 303.5h1.5M120.5 298.5h1.5M155.5 277.5h1.5M132.5 299.5h1.5M103.5 323.5h1.5M173 306.5h1.5M116.5 316.5h1.5M97 343.5h1.5M123 299.5h1.5M98 338h1.5M97.5 346h1.5M104.5 316h1.5M55.5 305h1.5M170.5 282h1.5M114.5 320h1.5M81 289.5h1.5M117.5 305.5h1.5M62 345h1.5M132.5 304.5h1.5M82.5 327.5h1.5M116 315.5h1.5M152 278.5h1.5M90.5 344h1.5M96 350h1.5M146.5 294h1.5M89 335h1.5M154 296h1.5M61 291.5h1.5M87.5 334h1.5M103 319h1.5M118.5 305.5h1.5M120.5 301.5h1.5M100 333h1.5M145 289.5h1.5M80 312.5h1.5M142 290h1.5M153.5 261.5h1.5M169 283h1.5M157 267.5h1.5M54 316h1.5M155 274.5h1.5M77.5 310h1.5M112.5 318h1.5M70 301.5h1.5M132.5 293.5h1.5M86 347.5h1.5M127.5 307h1.5M55.5 309h1.5M52.5 301.5h1.5M155.5 250h1.5M71 310.5h1.5M65 317.5h1.5M64 307h1.5M124.5 312h1.5M77.5 317.5h1.5M86 329h1.5M115.5 304.5h1.5M102.5 333.5h1.5M147 274.5h1.5M140.5 296h1.5M169 277h1.5M106 321.5h1.5M99.5 325h1.5M68 318.5h1.5M108 312h1.5M95 352.5h1.5M83.5 323.5h1.5M123 310.5h1.5M143.5 299.5h1.5M57 305.5h1.5M131.5 305.5h1.5M114 307h1.5M134 294.5h1.5M53.5 314h1.5M119.5 318.5h1.5M168.5 295.5h1.5M134 311h1.5M147.5 271h1.5M122 315.5h1.5M113.5 318.5h1.5M143 275h1.5M143 257h1.5M53 296.5h1.5M73 312h1.5M90 344.5h1.5M146 270h1.5M168 275.5h1.5M104 298.5h1.5M121.5 315.5h1.5M53 311.5h1.5M74.5 360.5h1.5M75.5 318h1.5M165.5 279h1.5M163 281.5h1.5M51.5 302.5h1.5M65 305h1.5M155 268h1.5M171.5 281.5h1.5M100.5 335.5h1.5M155 262h1.5M129 305.5h1.5M147 287h1.5M100.5 322.5h1.5M88 333.5h1.5M146 283.5h1.5M99 339h1.5M165 274.5h1.5M99.5 337.5h1.5M124.5 314.5h1.5M155.5 269.5h1.5M124.5 303h1.5M61 317h1.5M51.5 295.5h1.5M103 317.5h1.5M110 322.5h1.5M168.5 289.5h1.5M82 300.5h1.5M151.5 274.5h1.5M102 336.5h1.5M79 310.5h1.5M80.5 320h1.5M120.5 291.5h1.5M61 301.5h1.5M135 296h1.5M121 313.5h1.5M80.5 334.5h1.5M98.5 343.5h1.5M130.5 299.5h1.5M115.5 326h1.5M129.5 301h1.5M57.5 306.5h1.5M156.5 289h1.5M82 323h1.5M176 288h1.5M131 308.5h1.5M65.5 307.5h1.5M117 312.5h1.5M88.5 341.5h1.5M101.5 320.5h1.5M115 314h1.5M107.5 319.5h1.5M103 333h1.5M133.5 294h1.5M59 304.5h1.5M72.5 319.5h1.5M97.5 345h1.5M147.5 274.5h1.5M164 283.5h1.5M58.5 299.5h1.5M101.5 323h1.5M105 316.5h1.5M75.5 309.5h1.5M125.5 302.5h1.5M151 286h1.5M92 345.5h1.5M129 301.5h1.5M75 311.5h1.5M118.5 319h1.5M145.5 284h1.5M166.5 288h1.5M158.5 292.5h1.5M125 311.5h1.5M155.5 245.5h1.5M97 343h1.5M59 307h1.5M118.5 318h1.5M163 276.5h1.5M88 336.5h1.5M151 284.5h1.5M77.5 324.5h1.5M77 315.5h1.5M58.5 312h1.5M60.5 317h1.5M127.5 310.5h1.5M114.5 316.5h1.5M103.5 328.5h1.5M86 332h1.5M154.5 293h1.5M79 315h1.5M141 282h1.5M64 308h1.5M71 310h1.5M135.5 292h1.5M129 316.5h1.5M64.5 318.5h1.5M64.5 302h1.5M169 287h1.5M140 288h1.5M132 257.5h1.5M98.5 337.5h1.5M147.5 280.5h1.5M75.5 316.5h1.5M118.5 307.5h1.5M136 298h1.5M165.5 261h1.5M145 276h1.5M77.5 326.5h1.5M77 299.5h1.5M94.5 358.5h1.5M147.5 297h1.5M77.5 312.5h1.5M105.5 311.5h1.5M72 321.5h1.5M54.5 309.5h1.5M67 320h1.5M123 308.5h1.5M64.5 309.5h1.5M79 304h1.5M59.5 303.5h1.5M109 325.5h1.5M159 278h1.5M103 319h1.5M171.5 287h1.5M156 308h1.5M140 291h1.5M154.5 268h1.5M86 335h1.5M124 311.5h1.5M163 276h1.5M76 303.5h1.5M167.5 294.5h1.5M139 290h1.5M161 261h1.5M54 341h1.5M175 301.5h1.5M67.5 302h1.5M68 321h1.5M160 262h1.5M127 302.5h1.5M76.5 311.5h1.5M141 285.5h1.5M63 306h1.5M124 348.5h1.5M143 316h1.5M62.5 296h1.5M112 322h1.5M97.5 344h1.5M123 304h1.5M164 276.5h1.5M53.5 307.5h1.5M103.5 313h1.5M111 331h1.5M51 300h1.5M102.5 332h1.5M63 309.5h1.5M101.5 330.5h1.5M75.5 267.5h1.5M93.5 358.5h1.5M174.5 294h1.5M82 310h1.5M123 313.5h1.5M135 310.5h1.5M79.5 310h1.5M150 264.5h1.5M111 319.5h1.5M170 285h1.5M82.5 333h1.5M107 318h1.5M51.5 308h1.5M132.5 286.5h1.5M103.5 321h1.5M115 310.5h1.5M68 315h1.5M168.5 295h1.5M101.5 321.5h1.5M110 309h1.5M78.5 308h1.5M51 309.5h1.5M163.5 271.5h1.5M146.5 288.5h1.5M86.5 331.5h1.5M131 302.5h1.5M132.5 295.5h1.5M124 308.5h1.5M75 307h1.5M91 342.5h1.5M79 325h1.5M78 319.5h1.5M84.5 318h1.5M153 266h1.5M100.5 328h1.5M175 288.5h1.5M113.5 317.5h1.5M65.5 316h1.5M174 298h1.5M91.5 344.5h1.5M63.5 293h1.5M147 279.5h1.5M88 337.5h1.5M120 312h1.5M151.5 267.5h1.5M97.5 341.5h1.5M65 301h1.5M149.5 270.5h1.5M84.5 332h1.5M78 316h1.5M89.5 344h1.5M112 312.5h1.5M82.5 327h1.5M65 317h1.5M109.5 312h1.5M108.5 311.5h1.5M60.5 305.5h1.5M88 338h1.5M123.5 313h1.5M122.5 306.5h1.5M113.5 313.5h1.5M110 346.5h1.5M125.5 330h1.5M160 299.5h1.5M170 282h1.5M64.5 310.5h1.5M133.5 294h1.5M136.5 292h1.5M175 268.5h1.5M91.5 343.5h1.5M162 275.5h1.5M106.5 315h1.5M73.5 309.5h1.5M110.5 315.5h1.5M158.5 258.5h1.5M117.5 306.5h1.5M89.5 343.5h1.5M160.5 275h1.5M132.5 293.5h1.5M134 323.5h1.5M101.5 335.5h1.5M124 309h1.5M86.5 327.5h1.5M77.5 303.5h1.5M98 332.5h1.5M109 319.5h1.5M152 264h1.5M93.5 360.5h1.5M73 313h1.5M58 304h1.5M129 300h1.5M108 316h1.5M66 297h1.5M167 275h1.5M102 326.5h1.5M178 292h1.5M129 296.5h1.5M70 304.5h1.5M73.5 318.5h1.5M106.5 320.5h1.5M145.5 275h1.5M170 320h1.5M160.5 274.5h1.5M109.5 328h1.5M88 337.5h1.5M127 306h1.5M94.5 358.5h1.5M142 279h1.5M123 303.5h1.5M95 355.5h1.5M90 341.5h1.5M143.5 287h1.5M59.5 297h1.5M115 313.5h1.5M77.5 296h1.5M155 290h1.5M74 310.5h1.5M121.5 308h1.5M116 320.5h1.5M174.5 290.5h1.5M118.5 306.5h1.5M122.5 310h1.5M177.5 303h1.5M88 341h1.5M80.5 324h1.5M99 337h1.5M77.5 321.5h1.5M142.5 279h1.5M150.5 281h1.5M140 294.5h1.5M177 312.5h1.5M175 287h1.5M157.5 284.5h1.5M51.5 313.5h1.5M130.5 300h1.5M130 301h1.5M113 324.5h1.5M160 266.5h1.5M65 312h1.5M75 327h1.5M172 266h1.5M87 330.5h1.5M76 306.5h1.5M54.5 305.5h1.5M106.5 305h1.5M146.5 297.5h1.5M80 325.5h1.5M171 301.5h1.5M152 272h1.5M176 293h1.5M169 276h1.5M113 316.5h1.5M101.5 324h1.5M75.5 316h1.5M159 254.5h1.5M62 302.5h1.5M54 303h1.5M115 313h1.5M145 279.5h1.5M66.5 310.5h1.5M136.5 280.5h1.5M73 318.5h1.5M84 320.5h1.5M108 325h1.5M112.5 315h1.5M109 322.5h1.5M82 320.5h1.5M165.5 285h1.5M103.5 317.5h1.5M58.5 302h1.5M71 294.5h1.5M156.5 266h1.5M139.5 297.5h1.5M94 361h1.5M173.5 286h1.5M97.5 344h1.5M123 307h1.5M59 295.5h1.5M86.5 331h1.5M143 278h1.5M169.5 308.5h1.5M148.5 273.5h1.5M64.5 314h1.5M82 317h1.5M63 304.5h1.5M176.5 294h1.5M133 295.5h1.5M101.5 316.5h1.5M128.5 293.5h1.5M76 319h1.5M99.5 328.5h1.5M63 324.5h1.5M74 307.5h1.5M83.5 324h1.5M99.5 326h1.5M114 312h1.5M119.5 295.5h1.5M65.5 317h1.5M112.5 326h1.5M150.5 283.5h1.5M141 277h1.5M81.5 325.5h1.5M166.5 276h1.5M169.5 276h1.5M74 315.5h1.5M126 307.5h1.5M86 323h1.5M96.5 353h1.5M88 339h1.5M136 286h1.5M115.5 313h1.5M73.5 305.5h1.5M83 324.5h1.5M149.5 297.5h1.5M83.5 331.5h1.5M127 306h1.5M157 260h1.5M64.5 306h1.5M70.5 321.5h1.5M171.5 286.5h1.5M84.5 328.5h1.5M178.5 299h1.5M116 316h1.5M173.5 286h1.5M98 338h1.5M114 309h1.5M106 316.5h1.5M168 282h1.5M71.5 315h1.5M115.5 311.5h1.5M175 279h1.5M165.5 275h1.5M97.5 343h1.5M151 278h1.5M66.5 304h1.5M152.5 263h1.5M157.5 271h1.5M77 314h1.5M158 283.5h1.5M128 298h1.5M160 278.5h1.5M175 289h1.5M67 302h1.5M60 308h1.5M177 293.5h1.5M52.5 306h1.5M151.5 277.5h1.5M78.5 303.5h1.5M156.5 267.5h1.5M60.5 298.5h1.5M125.5 304.5h1.5M51 297h1.5M58 295.5h1.5M59 313.5h1.5M113 297h1.5M67.5 309h1.5M113 307.5h1.5M86.5 314.5h1.5M65 298h1.5M96.5 347h1.5M96 347.5h1.5M65.5 306h1.5M104.5 315.5h1.5M162.5 272.5h1.5M175 274h1.5M173.5 292h1.5M176 295h1.5M104 314.5h1.5M135.5 296h1.5M141 288h1.5M88 331.5h1.5M121.5 316h1.5M73.5 313h1.5M147 291.5h1.5M67.5 308.5h1.5M136.5 301h1.5M75.5 316h1.5M156 262.5h1.5M131.5 270.5h1.5M57.5 300.5h1.5M72.5 304.5h1.5M173.5 282h1.5M151 279h1.5M170 297.5h1.5M131 304.5h1.5M92.5 357h1.5M57.5 297.5h1.5M88 342h1.5M138.5 280.5h1.5M75.5 305.5h1.5M138.5 285h1.5M88 334h1.5M114.5 315h1.5M63 310h1.5M113 314h1.5M60.5 311h1.5M164 272.5h1.5M170.5 279.5h1.5M169 289h1.5M59.5 315h1.5M80.5 321h1.5M151 269h1.5M104.5 321.5h1.5M73.5 311h1.5M58 303h1.5M155.5 265.5h1.5M122.5 306h1.5M63 317h1.5M98.5 344h1.5M80.5 323h1.5M120.5 301.5h1.5M172 304.5h1.5M99.5 329.5h1.5M72.5 317h1.5M68.5 286.5h1.5M173.5 292.5h1.5M171.5 296h1.5M124 306.5h1.5M117.5 306.5h1.5M66 299.5h1.5M93.5 359h1.5M102 328.5h1.5M138.5 297h1.5M156.5 264h1.5M155 280h1.5M144 290.5h1.5M156 277h1.5M104 321.5h1.5M81.5 327h1.5M148 278.5h1.5M175 295h1.5M155.5 259.5h1.5M86.5 321.5h1.5M106.5 315.5h1.5M120.5 308h1.5M95.5 352h1.5M72 308h1.5M138.5 285.5h1.5M123 315h1.5M51 295.5h1.5M92.5 353h1.5M55 320.5h1.5M72 290h1.5M177 292.5h1.5M104 329.5h1.5M173 283.5h1.5M69 318h1.5M51.5 293h1.5M125.5 303h1.5M83 323.5h1.5M158 272.5h1.5M153 275.5h1.5M78.5 311.5h1.5M56 296h1.5M87.5 335h1.5M100 333.5h1.5M160 264h1.5M128 301h1.5M176 287h1.5M171.5 294.5h1.5M61 315.5h1.5M62.5 289h1.5M114 309.5h1.5M116 314.5h1.5M157.5 259h1.5M91 340.5h1.5M155 275.5h1.5M54 308.5h1.5M171.5 290h1.5M175 285.5h1.5M155.5 265h1.5M136 288.5h1.5M84 322.5h1.5M174.5 296h1.5M96 355h1.5M95 357.5h1.5M96.5 347.5h1.5M120.5 305h1.5M86.5 335.5h1.5M105 308h1.5M145.5 272h1.5M178 298h1.5M54.5 287.5h1.5M130.5 300.5h1.5M177.5 292.5h1.5M177 297.5h1.5M107 321.5h1.5M150.5 272.5h1.5M123 306h1.5M155 274.5h1.5M89 345.5h1.5M51.5 303.5h1.5M56 299.5h1.5M160 284h1.5M81 314h1.5M106 313.5h1.5M73.5 310.5h1.5M149 284.5h1.5M112.5 308h1.5M144.5 276h1.5M158 275.5h1.5M148 298.5h1.5M112 309.5h1.5M104 312.5h1.5M172.5 281h1.5M132.5 305.5h1.5M154.5 265.5h1.5M52.5 311.5h1.5M152.5 264.5h1.5M112 311.5h1.5M143.5 284.5h1.5M145 276h1.5M96 351.5h1.5M132 311h1.5M105.5 313.5h1.5M164.5 269h1.5M130.5 295.5h1.5M85.5 333h1.5M167 284h1.5M57.5 310h1.5M132 297.5h1.5M139.5 289h1.5M85.5 328.5h1.5M162 277h1.5M121.5 307h1.5M136 276h1.5M70.5 328h1.5M99.5 342h1.5M83 325.5h1.5M114 318.5h1.5M143.5 273h1.5M141.5 286h1.5M61 317h1.5M172.5 282.5h1.5M80 326h1.5M108 323h1.5M139.5 273.5h1.5M105.5 319.5h1.5M126 313.5h1.5M142.5 283.5h1.5M128.5 307.5h1.5M136.5 280.5h1.5M69.5 315.5h1.5M85 330.5h1.5M152 283.5h1.5M61.5 300h1.5M148.5 278h1.5M135.5 298h1.5M115 309h1.5M94 360h1.5M96 358h1.5M104.5 317.5h1.5M53.5 293h1.5M163 279h1.5M75 310.5h1.5M61.5 303h1.5M120.5 316h1.5M57.5 304h1.5M145.5 273h1.5M168.5 275h1.5M53.5 299h1.5M141 295.5h1.5M167 287h1.5M63.5 311.5h1.5M55 292.5h1.5M65.5 314h1.5M87 331h1.5M163 287.5h1.5M129 311h1.5M107.5 315.5h1.5M108.5 307h1.5M127 318.5h1.5M88.5 339h1.5M94 359h1.5M106.5 311.5h1.5M178 290h1.5M125 307h1.5M62 306.5h1.5M167 291.5h1.5M142.5 242.5h1.5M54.5 301h1.5M110.5 324.5h1.5M169.5 292h1.5M169 275.5h1.5M91.5 352h1.5M115.5 309h1.5M53 295h1.5M132 293h1.5M87.5 330h1.5M110.5 313.5h1.5M124.5 308h1.5M178.5 292.5h1.5M167.5 276.5h1.5M143 284h1.5M52.5 292h1.5M107 314.5h1.5M77.5 312h1.5M167.5 291h1.5M166.5 282h1.5M58.5 324h1.5M124 306.5h1.5M127 322.5h1.5M119 310h1.5M158.5 269.5h1.5M107.5 304h1.5M165 286h1.5M93.5 355.5h1.5M125.5 304h1.5M166 283h1.5M65.5 314.5h1.5M86 321h1.5M125.5 306h1.5M177.5 296h1.5M120 303.5h1.5M112 312h1.5M152.5 269.5h1.5M152.5 275.5h1.5M77 309h1.5M137 286.5h1.5M162.5 284.5h1.5M165 279h1.5M87.5 328.5h1.5M177 305.5h1.5M146.5 283h1.5M118 312h1.5M67 305.5h1.5M154.5 279.5h1.5M86.5 327.5h1.5M143.5 280h1.5M97.5 349h1.5M116 312h1.5M147 275.5h1.5M129.5 307h1.5M77 317.5h1.5M136 292.5h1.5M57 297.5h1.5M153.5 270.5h1.5M154 264.5h1.5M85 331.5h1.5M121 306.5h1.5M60.5 316h1.5M118.5 326h1.5M105 329.5h1.5M116 313.5h1.5M90 342h1.5M76.5 309h1.5M119.5 307h1.5M84 323.5h1.5M152 251h1.5M148.5 271h1.5M62 300h1.5M93.5 353.5h1.5M167.5 280.5h1.5M177 311.5h1.5M94 358.5h1.5M150 297h1.5M126.5 300h1.5M139.5 273.5h1.5M151 283h1.5M105.5 319h1.5M100.5 337.5h1.5M124 307h1.5M57 307.5h1.5M138.5 287h1.5M142.5 275h1.5M112 316h1.5M125 318.5h1.5M120.5 314.5h1.5M62 307.5h1.5M66 307h1.5M117.5 308h1.5M162.5 295.5h1.5M148 280.5h1.5M75 312h1.5M106 309.5h1.5M169.5 281h1.5M162 273.5h1.5M95.5 356h1.5M137 296h1.5M117 294.5h1.5M160.5 268h1.5M87.5 340h1.5M165.5 291.5h1.5M67 336.5h1.5M59 324.5h1.5M61 311h1.5M128 302h1.5M117 314.5h1.5M172 294.5h1.5M158.5 271.5h1.5M56.5 305h1.5M100 333h1.5M89.5 343h1.5M171 292h1.5M130.5 303h1.5M138.5 287.5h1.5M178 293.5h1.5M90 347.5h1.5M123.5 300.5h1.5M173.5 289h1.5M109 318h1.5M103.5 330.5h1.5M71 308h1.5M95.5 348.5h1.5M54.5 296.5h1.5M68.5 330h1.5M136.5 288h1.5M125 315h1.5M149.5 258h1.5M171.5 277.5h1.5M159.5 268h1.5M62 311.5h1.5M74 321.5h1.5M93 351.5h1.5M143 283.5h1.5M118 317h1.5M61 313.5h1.5M104.5 318h1.5M77.5 318h1.5M129 299.5h1.5M129 307.5h1.5M70 326h1.5M177.5 295h1.5M87.5 341h1.5M112 314.5h1.5M69 305.5h1.5M69.5 315h1.5M107.5 323.5h1.5M134 294.5h1.5M120.5 312.5h1.5M76 311h1.5M149 282h1.5M161.5 268.5h1.5M85.5 324h1.5M56.5 331h1.5M79 320h1.5M63.5 300.5h1.5M86 328.5h1.5M123.5 302h1.5M59.5 317h1.5M65 305h1.5M171 279.5h1.5M72 309.5h1.5M160 254.5h1.5M154 266.5h1.5M143.5 269.5h1.5M123 293.5h1.5M149.5 282h1.5M158 297h1.5M151.5 280h1.5M163 285h1.5M98 333h1.5M123.5 301h1.5M90 348h1.5M159.5 279.5h1.5M52 297.5h1.5M89 338h1.5M55.5 308.5h1.5M52 292h1.5M159.5 260.5h1.5M143.5 274h1.5M63.5 294h1.5M166.5 284h1.5M162.5 287h1.5M132.5 302.5h1.5M134.5 289h1.5M111.5 319h1.5M117 305.5h1.5M106.5 298.5h1.5M164.5 276.5h1.5M178 300h1.5M96.5 344h1.5M99.5 332h1.5M149 277h1.5M75.5 315.5h1.5M151 287.5h1.5M77 309h1.5M105 312h1.5M57.5 306h1.5M130.5 308.5h1.5M140.5 289h1.5M108.5 313h1.5M84 324h1.5M171.5 302.5h1.5M146.5 286.5h1.5M93 358.5h1.5M72 313h1.5M69.5 318h1.5M64 313h1.5M148 281.5h1.5M112 312.5h1.5M123 306.5h1.5M141.5 292.5h1.5M58.5 293.5h1.5M136.5 287h1.5M148 268h1.5M91.5 351.5h1.5M167 298h1.5M155.5 275h1.5M121.5 310.5h1.5M99.5 318h1.5M141.5 302.5h1.5M121 313h1.5M102.5 328.5h1.5M166.5 286.5h1.5M144 289.5h1.5M136 303h1.5M71.5 305.5h1.5M145 288h1.5M126 290h1.5M116.5 319h1.5M128 316h1.5M139.5 289.5h1.5M171.5 298h1.5M97 360h1.5M117.5 315.5h1.5M72.5 315h1.5M72 307.5h1.5M125 307h1.5M135 290.5h1.5M80.5 334h1.5M71 310h1.5M80.5 320h1.5M96.5 351.5h1.5M159 279h1.5M177.5 297h1.5M153 273.5h1.5M140 285.5h1.5M91 350.5h1.5M111 317.5h1.5M166.5 282h1.5M117.5 309h1.5M71.5 324.5h1.5M106 316.5h1.5M131.5 312.5h1.5M113.5 321.5h1.5M164 274h1.5M139.5 296h1.5M132.5 295.5h1.5M62.5 308h1.5M137.5 294h1.5M74 324.5h1.5M103.5 318h1.5M102.5 330h1.5M111 310.5h1.5M137.5 293.5h1.5M91.5 355.5h1.5M157 270h1.5M86.5 323h1.5M140.5 285.5h1.5M138.5 280h1.5M93.5 358h1.5M168.5 287h1.5M155.5 261.5h1.5M98 347h1.5M120 324.5h1.5M120.5 304h1.5M62 327h1.5M118.5 312h1.5M146 291h1.5M72.5 311h1.5M118 302.5h1.5M133.5 306.5h1.5M140.5 293h1.5M119.5 298h1.5M90 344h1.5M114.5 313.5h1.5M106 321.5h1.5M129.5 304.5h1.5M65 311h1.5M159 283.5h1.5M165 275.5h1.5M125 304h1.5M83 319h1.5M104.5 319h1.5M75 310h1.5M84 322h1.5M89 336h1.5M117 307.5h1.5M160.5 276h1.5M173.5 286.5h1.5M148 278h1.5M110 322h1.5M157 272h1.5M151.5 283h1.5M124 295h1.5M65.5 305h1.5M63.5 306h1.5M58.5 307h1.5M94.5 359.5h1.5M147.5 273.5h1.5M171.5 295h1.5M173.5 295h1.5M71 304h1.5M165 285.5h1.5M159 261.5h1.5M57.5 317.5h1.5M57 303h1.5M145.5 281.5h1.5M54 308.5h1.5M55.5 296.5h1.5M87.5 327.5h1.5M90.5 344.5h1.5M74.5 322.5h1.5M134.5 301.5h1.5M162 267.5h1.5M174 287h1.5M95 360.5h1.5M148 295.5h1.5M148 268.5h1.5M87 331h1.5M85.5 329h1.5M114.5 302h1.5M145 286.5h1.5M82.5 327h1.5M156 269.5h1.5M168.5 280h1.5M166.5 282h1.5M95 359h1.5M84.5 324h1.5M95 356h1.5M157 266h1.5M134.5 303.5h1.5M156.5 278.5h1.5M95.5 357.5h1.5M86 330.5h1.5M149.5 280h1.5M119 313.5h1.5M100 327h1.5M119.5 319h1.5M88 334h1.5M167 285.5h1.5M166.5 274.5h1.5M126.5 301.5h1.5M141 294.5h1.5M88.5 336.5h1.5M67.5 300.5h1.5M105 304h1.5M73.5 306h1.5M138 285.5h1.5M86.5 331.5h1.5M81 312h1.5M156 265h1.5M135.5 287.5h1.5M137 294.5h1.5M109 316h1.5M171.5 283.5h1.5M97 345.5h1.5M105 316h1.5M176.5 295.5h1.5M118.5 306.5h1.5M70.5 315h1.5M76 310.5h1.5M85.5 323h1.5M124.5 310.5h1.5M69.5 301.5h1.5M119.5 320h1.5M55 300h1.5M82 320h1.5M99.5 343h1.5M156 257.5h1.5M55 311h1.5M139 291h1.5M93 357h1.5M139.5 299h1.5M167.5 298.5h1.5M78 319h1.5M132 302h1.5M90.5 345.5h1.5M127 297h1.5M77.5 307.5h1.5M80.5 331.5h1.5M91.5 350.5h1.5M107.5 311h1.5M59.5 302h1.5M153 275h1.5M95 355.5h1.5M125.5 308h1.5M135 307.5h1.5M164.5 292h1.5M60.5 299h1.5M144 280.5h1.5M75 314h1.5M88 337h1.5M100.5 331.5h1.5M151 259h1.5M145 272.5h1.5M82.5 328.5h1.5M75.5 325h1.5M165.5 281.5h1.5M106.5 300.5h1.5M127.5 292.5h1.5M57.5 309h1.5M169 302h1.5M67 316h1.5M75 310h1.5M88 340h1.5M52 272h1.5M92.5 350.5h1.5M94.5 358h1.5M87 330h1.5M168.5 272.5h1.5M173.5 301h1.5M60.5 311h1.5M85.5 321h1.5M126.5 322h1.5M95.5 361h1.5M88 338h1.5M51.5 301h1.5M130.5 287.5h1.5M144 294h1.5M59.5 304h1.5M96 356h1.5M110.5 318h1.5M140 287.5h1.5M99 336h1.5M127.5 293h1.5M64.5 309.5h1.5M135 294.5h1.5M61.5 303h1.5M93.5 350.5h1.5M122.5 299.5h1.5M71 315h1.5M53 305h1.5M154.5 286.5h1.5M103 314.5h1.5M86.5 328h1.5M84 325.5h1.5M176.5 288h1.5M116 305h1.5M128.5 308.5h1.5M90.5 349h1.5M108 312.5h1.5M51.5 294.5h1.5M143 315.5h1.5M173 288.5h1.5M63.5 297.5h1.5M150 277h1.5M63.5 293.5h1.5M177 295h1.5M104.5 315.5h1.5M164.5 277.5h1.5M86 327h1.5M170 299h1.5M134 289h1.5M174.5 287.5h1.5M133.5 296.5h1.5M82.5 321.5h1.5M70.5 311h1.5M55 305.5h1.5M132.5 295.5h1.5M77.5 308h1.5M69 307.5h1.5M125 313.5h1.5M53.5 303.5h1.5M112 326h1.5M68 303.5h1.5M175 305h1.5M64 315.5h1.5M123.5 303h1.5M120.5 303.5h1.5M165 273.5h1.5M61.5 319.5h1.5M64.5 319h1.5M91 339h1.5M153.5 281.5h1.5M137.5 303.5h1.5M65 304.5h1.5M89 342.5h1.5M176.5 290h1.5M100 334.5h1.5M83 328h1.5M100 329.5h1.5M148 261h1.5M76.5 330h1.5M116 315.5h1.5M86 322h1.5M136.5 302h1.5M121 317h1.5M72 302.5h1.5M99 338.5h1.5M106.5 313h1.5M123 308h1.5M69.5 319h1.5M174 299.5h1.5M168.5 289h1.5M75.5 311.5h1.5M55 308h1.5M150 282h1.5M69 319h1.5M146 293.5h1.5M158.5 265.5h1.5M116.5 315h1.5M155.5 252h1.5M103 328.5h1.5M156 254.5h1.5M134.5 298.5h1.5M145 267.5h1.5M87 335.5h1.5M57.5 290.5h1.5M119.5 312.5h1.5M116.5 316h1.5M165.5 275h1.5M140.5 298h1.5M144.5 289h1.5M143 273.5h1.5M152 264.5h1.5M149.5 288.5h1.5M91 342h1.5M175.5 304.5h1.5M56.5 307h1.5M112.5 306h1.5M176 272.5h1.5M156.5 270h1.5M117.5 313h1.5M73.5 311h1.5M83.5 338h1.5M101 331h1.5M130.5 292.5h1.5M137 272.5h1.5M71.5 297.5h1.5M122 303h1.5M168.5 279h1.5M80.5 321.5h1.5M149 256h1.5M103.5 327h1.5M87 337h1.5M139 283.5h1.5M84.5 336.5h1.5M122 311.5h1.5M159 267h1.5M145 295h1.5M64 307h1.5M61 306h1.5M107.5 319.5h1.5M119 305.5h1.5M100.5 336.5h1.5M139.5 300.5h1.5M174 283.5h1.5M171.5 297h1.5M56 313.5h1.5M158.5 271h1.5M79.5 326h1.5M141.5 299.5h1.5M173.5 294.5h1.5M123.5 328h1.5M169 298h1.5M93 355h1.5M69.5 308.5h1.5M85 338.5h1.5M87 330.5h1.5M100.5 337.5h1.5M71.5 310.5h1.5M166.5 297h1.5M56 304h1.5M114 310.5h1.5M105 321h1.5M147 285h1.5M108 312.5h1.5M118 314.5h1.5M148 274.5h1.5M164 282.5h1.5M132.5 290h1.5M126 299h1.5M144.5 297.5h1.5M123 326h1.5M66 308.5h1.5M83 328h1.5M127.5 305.5h1.5M160 273.5h1.5M91.5 356h1.5M146 284h1.5M157.5 263.5h1.5M71 301.5h1.5M166.5 270h1.5M114.5 324.5h1.5M114.5 317h1.5M122.5 315h1.5M109.5 319.5h1.5M152 267.5h1.5M99 334h1.5M99.5 333.5h1.5M98.5 315.5h1.5M107.5 291h1.5M169.5 282.5h1.5M100.5 322.5h1.5M66.5 307h1.5M164 284h1.5M111.5 327.5h1.5M97.5 350.5h1.5M151 266h1.5M173 282.5h1.5M135 302h1.5M94.5 358h1.5M125 307.5h1.5M154.5 269.5h1.5M54.5 306h1.5M124.5 292.5h1.5M148.5 279h1.5M112.5 303.5h1.5M136.5 300h1.5M167 280h1.5M118 307h1.5M141.5 292h1.5M68 315.5h1.5M150.5 274.5h1.5M117 318.5h1.5M81.5 313h1.5M160.5 282.5h1.5M93 360.5h1.5M70.5 309.5h1.5M53.5 307.5h1.5M97.5 347.5h1.5M97 355h1.5M60 304h1.5M114 299.5h1.5M112 310.5h1.5M56 306.5h1.5M106 319h1.5M67.5 311h1.5M115.5 297.5h1.5M142.5 284h1.5M137 301.5h1.5M58 310.5h1.5M138.5 283h1.5M67.5 317h1.5M88 330.5h1.5M154.5 270h1.5M150 269h1.5M70.5 307.5h1.5M126.5 301h1.5M99 335h1.5M95.5 352h1.5M107 322h1.5M175 291.5h1.5M62.5 312.5h1.5M66 309.5h1.5M67 309h1.5M69 301h1.5M115.5 305h1.5M98 341h1.5M92 347.5h1.5M175 298h1.5M102 321h1.5M113.5 307.5h1.5M90 343h1.5M99.5 335.5h1.5M70 309h1.5M138 306.5h1.5M169.5 296.5h1.5M89.5 342h1.5M141 273h1.5M176.5 283h1.5M109 318.5h1.5M172.5 299h1.5M81 318h1.5M149 270h1.5M175 292h1.5M78.5 311.5h1.5M86.5 332h1.5M102 326.5h1.5M101 322h1.5M105.5 324h1.5M138.5 297.5h1.5M178 287.5h1.5M124 290.5h1.5M126.5 305.5h1.5M56 282.5h1.5M175.5 301h1.5M168 281.5h1.5M69 311h1.5M138.5 303h1.5M119 298.5h1.5M160 283.5h1.5M82.5 329.5h1.5M65.5 292h1.5M89 336h1.5M175.5 311h1.5M135 299.5h1.5M130 309.5h1.5M144.5 282h1.5M67.5 317h1.5M77 289.5h1.5M92 349.5h1.5M58 317.5h1.5M53 308h1.5M174.5 291h1.5M101 335h1.5M105.5 312.5h1.5M133 286h1.5M101.5 329h1.5M107.5 314.5h1.5M163 280h1.5M164 285h1.5M128 307h1.5M81.5 327h1.5M141.5 281.5h1.5M122 305h1.5M103.5 324h1.5M165.5 292h1.5M148 267.5h1.5M129.5 290h1.5M105.5 312.5h1.5M107 317.5h1.5M165 283.5h1.5M146 270.5h1.5M109 317.5h1.5M91 355h1.5M124 290.5h1.5M74 314.5h1.5M132.5 298.5h1.5M143 280.5h1.5M100.5 336.5h1.5M154 277h1.5M150.5 263h1.5M89.5 343.5h1.5M122 319h1.5M57.5 302h1.5M77.5 318h1.5M134.5 300h1.5M94.5 364h1.5M178.5 308h1.5M121 314h1.5M103.5 328h1.5M167.5 286.5h1.5M105 342.5h1.5M85.5 321.5h1.5M123 310h1.5M61.5 309.5h1.5M135.5 296.5h1.5M63.5 304h1.5M89.5 344.5h1.5M176.5 287h1.5M104.5 314.5h1.5M144.5 274h1.5M76.5 326.5h1.5M112.5 315h1.5M140 279.5h1.5M111 304.5h1.5M151.5 271h1.5M69.5 311.5h1.5M93.5 364.5h1.5M109.5 322h1.5M157 235.5h1.5M171 298.5h1.5M164.5 286h1.5M147 299h1.5M89.5 347h1.5M168.5 298h1.5M71 308h1.5M154.5 261h1.5M68 313.5h1.5M104.5 321.5h1.5M93 360.5h1.5M58.5 290.5h1.5M152 268.5h1.5M162.5 248h1.5M84 338h1.5M136 298h1.5M170 296.5h1.5M149.5 276h1.5M99.5 322.5h1.5M69.5 311.5h1.5M73 315h1.5M51.5 296h1.5M127.5 307h1.5M130 300h1.5M87.5 338.5h1.5M144 266h1.5M136.5 280.5h1.5M147.5 287h1.5M97.5 357h1.5M92.5 349.5h1.5M119 304.5h1.5M58 307h1.5M131 296.5h1.5M75 320h1.5M137.5 291h1.5M104.5 322.5h1.5M76.5 308.5h1.5M112.5 310.5h1.5M128.5 304.5h1.5M77 311.5h1.5M89 331h1.5M101.5 329.5h1.5M91.5 358h1.5M159.5 256.5h1.5M62 297h1.5M73.5 324h1.5M65.5 309.5h1.5M84 339.5h1.5M129.5 304.5h1.5M65 318h1.5M167 277.5h1.5M84 336.5h1.5M71.5 305.5h1.5M99.5 338h1.5M172.5 298h1.5M63 288.5h1.5M69.5 315.5h1.5M176.5 291h1.5M167.5 289h1.5M138 304.5h1.5M109.5 303h1.5M126 311.5h1.5M145.5 270.5h1.5M114.5 319.5h1.5M63 317h1.5M108.5 311h1.5M108 305h1.5M105 320.5h1.5M64.5 316h1.5M70.5 306.5h1.5M153.5 263.5h1.5M72 313.5h1.5M60.5 316h1.5M110 310h1.5M80.5 316h1.5M169 283h1.5M91.5 346h1.5M140.5 282.5h1.5M157.5 269.5h1.5M129.5 307.5h1.5M153 285.5h1.5M165 288.5h1.5M115.5 309h1.5M83.5 323h1.5M121.5 306.5h1.5M155 275h1.5M142 292h1.5M83.5 322.5h1.5M128 316h1.5M106.5 313.5h1.5M117.5 306h1.5M99 332.5h1.5M89 343h1.5M67 318.5h1.5M152 282.5h1.5M149.5 263h1.5M144.5 288h1.5M135.5 276.5h1.5M106 317h1.5M68.5 296.5h1.5M124 308.5h1.5M53.5 305h1.5M71 322.5h1.5M165 277.5h1.5M122.5 321.5h1.5M101 326h1.5M158 270h1.5M141.5 273.5h1.5M70.5 299h1.5M143.5 301h1.5M87.5 331.5h1.5M78 314h1.5M102 323.5h1.5M91 347h1.5M128.5 306.5h1.5M55 309.5h1.5M139 295h1.5M106 325h1.5M128.5 329h1.5M59.5 308h1.5M59 312.5h1.5M81 323.5h1.5M80.5 316.5h1.5M119 317.5h1.5M89 338h1.5M118.5 303h1.5M76 323.5h1.5M82.5 331h1.5M149 266.5h1.5M70 317h1.5M144.5 289h1.5M57 293h1.5M75 308h1.5M177 243.5h1.5M120.5 307h1.5M156 274.5h1.5M144 294h1.5M173.5 337h1.5M81 322h1.5M154 265.5h1.5M120.5 318h1.5M64 316.5h1.5M58 288h1.5M152 279h1.5M148.5 267h1.5M175.5 310.5h1.5M163 282h1.5M52 307h1.5M122 305h1.5M66.5 309h1.5M140.5 270.5h1.5M135 292.5h1.5M138 301.5h1.5M58 300h1.5M71 305h1.5M133.5 303.5h1.5M168.5 288h1.5M66 308h1.5M104.5 314h1.5M156 275h1.5M121 297h1.5M86 328h1.5M171.5 285.5h1.5M112.5 310.5h1.5M149 286h1.5M169 306h1.5M172 285h1.5M174 297.5h1.5M76 311.5h1.5M145 274.5h1.5M116.5 308.5h1.5M116.5 304h1.5M138.5 293.5h1.5M54.5 300.5h1.5M106 310h1.5M87.5 325.5h1.5M67.5 312h1.5M137.5 299h1.5M127.5 298h1.5M108 320h1.5M59.5 314.5h1.5M140.5 283h1.5M170 297h1.5M79.5 314.5h1.5M94.5 358h1.5M118 304.5h1.5M83.5 319.5h1.5M98 339h1.5M177 312h1.5M176.5 288h1.5M175 294h1.5M123.5 306.5h1.5M176.5 291h1.5M95 354.5h1.5M167 280h1.5M96 348.5h1.5M113 293.5h1.5M101 323.5h1.5M136 303.5h1.5M141 286.5h1.5M129 297.5h1.5M63.5 317h1.5M154.5 269h1.5M170 287h1.5M133 285h1.5M171.5 297h1.5M128 300.5h1.5M76 306.5h1.5M112 299.5h1.5M84 309h1.5M112.5 315h1.5M137 287.5h1.5M171 280.5h1.5M89.5 342.5h1.5M151 271h1.5M122.5 299.5h1.5M74 310.5h1.5M72 310h1.5M74 305h1.5M88 338.5h1.5M82 334h1.5M101 324h1.5M170.5 297.5h1.5M94.5 359h1.5M53 290h1.5M142.5 288.5h1.5M117 316h1.5M117.5 320h1.5M161.5 287h1.5M175 304h1.5M138.5 286.5h1.5M173 285.5h1.5M145 302.5h1.5M90.5 340h1.5M149 283h1.5M123 312h1.5M63.5 310.5h1.5M137 277h1.5M172.5 282h1.5M104 305.5h1.5M129.5 308h1.5M69.5 304.5h1.5M167 280h1.5M140 292h1.5M160 292.5h1.5M79 310.5h1.5M58 301h1.5M85.5 328h1.5M158.5 276.5h1.5M99.5 336.5h1.5M65 320h1.5M75 309h1.5M110 299h1.5M73.5 304.5h1.5M140.5 290h1.5M121.5 309.5h1.5M80.5 323.5h1.5M162 267.5h1.5M158.5 254h1.5M74.5 306h1.5M113 310h1.5M74.5 319h1.5M82.5 319.5h1.5M86.5 337.5h1.5M94.5 360h1.5M171.5 288h1.5M92.5 354h1.5M153 258.5h1.5M83 326.5h1.5M157 280h1.5M121 312.5h1.5M61.5 299h1.5M137.5 286.5h1.5M135.5 272.5h1.5M174.5 294h1.5M96 349h1.5M86.5 334h1.5M71.5 319h1.5M142.5 279h1.5M83.5 284h1.5M130 309.5h1.5M55.5 302h1.5M125 306.5h1.5M77 308h1.5M138 291h1.5M105.5 310.5h1.5M167.5 287.5h1.5M75.5 324h1.5M170.5 283h1.5M82 323h1.5M87 332h1.5M162 269h1.5M115 321h1.5M149.5 270.5h1.5M166.5 264.5h1.5M99.5 337h1.5M77.5 320h1.5M164.5 286h1.5M91 343.5h1.5M66 299h1.5M76.5 318h1.5M94 364.5h1.5M76 306.5h1.5M81.5 321.5h1.5M171 285.5h1.5M168.5 288h1.5M152.5 286h1.5M171 285h1.5M93 357.5h1.5M86 332h1.5M160 269.5h1.5M162.5 284h1.5M65.5 314.5h1.5M72.5 312.5h1.5M150 284.5h1.5M144 276.5h1.5M61.5 306h1.5M119.5 305.5h1.5M114 316.5h1.5M55.5 303.5h1.5M85 332h1.5M152 282.5h1.5M92 355.5h1.5M87 337h1.5M166.5 288h1.5M81 329h1.5M100 323h1.5M124.5 312h1.5M163 279h1.5M51.5 289.5h1.5M118.5 304h1.5M58.5 298h1.5M99 339h1.5M81 325.5h1.5M107.5 317.5h1.5M86 325.5h1.5M142 279h1.5M128 303h1.5M101 321h1.5M60.5 299.5h1.5M136.5 279h1.5M148.5 275h1.5M154.5 276.5h1.5M154.5 265h1.5M66.5 310.5h1.5M102.5 314h1.5M162.5 271h1.5M88.5 345.5h1.5M172 278.5h1.5M111 330h1.5M174 287.5h1.5M88.5 330.5h1.5M73 311.5h1.5M177.5 295.5h1.5M135 299h1.5M168.5 294h1.5M81 316.5h1.5M126 314h1.5M148.5 283h1.5M69.5 317h1.5M74 324h1.5M98 345.5h1.5M69 312h1.5M111 317h1.5M136 299.5h1.5M158.5 259h1.5M168.5 302.5h1.5M88 336.5h1.5M57 299.5h1.5M64.5 326h1.5M154.5 290.5h1.5M101 319.5h1.5M147.5 275.5h1.5M94 357.5h1.5M178 281h1.5M108 321h1.5M91 347.5h1.5M65 297h1.5M54 307h1.5M153 284h1.5M104 314h1.5M174 289h1.5M141.5 287h1.5M110 337.5h1.5M90 341h1.5M73.5 316.5h1.5M98 346.5h1.5M104 318.5h1.5M168 284.5h1.5M147.5 272h1.5M84 322h1.5M93.5 356h1.5M71 303.5h1.5M141.5 289h1.5M127.5 322h1.5M130.5 307h1.5M54 296h1.5M137 291h1.5M83.5 321h1.5M166.5 269h1.5M84 354h1.5M125.5 288h1.5M58.5 301.5h1.5M155 265.5h1.5M144.5 274.5h1.5M129.5 310h1.5M107 311.5h1.5M81 312.5h1.5M114.5 315.5h1.5M170.5 288h1.5M153 252h1.5M104.5 313.5h1.5M164 277h1.5M129 320h1.5M123 308h1.5M54.5 322.5h1.5M96 348.5h1.5M100.5 323.5h1.5M132.5 302.5h1.5M68.5 321h1.5M54.5 287.5h1.5M157 269.5h1.5M87.5 328.5h1.5M138 294.5h1.5M82.5 316.5h1.5M175 296.5h1.5M92.5 354.5h1.5M150.5 266h1.5M122 319.5h1.5M75 318.5h1.5M65.5 304h1.5M144 272.5h1.5M175 288.5h1.5M127 297h1.5M76 311h1.5M158.5 283h1.5M122.5 298h1.5M113 317.5h1.5M73.5 319.5h1.5M139 278.5h1.5M163.5 286h1.5M144.5 292h1.5M85 342h1.5M128 300h1.5M163.5 282.5h1.5M81.5 317h1.5M144.5 272h1.5M135.5 301h1.5M63 318.5h1.5M125.5 298.5h1.5M106.5 312.5h1.5M131 285h1.5M162 277.5h1.5M116.5 319h1.5M78 312h1.5M58 309.5h1.5M56.5 300.5h1.5M56.5 296.5h1.5M154.5 264.5h1.5M112 323.5h1.5M156 280.5h1.5M145.5 280.5h1.5M124 302.5h1.5M155 252h1.5M134 312.5h1.5M89 345.5h1.5M134.5 288h1.5M166.5 286h1.5M51.5 302h1.5M55.5 305.5h1.5M67 323h1.5M149 274h1.5M149.5 287h1.5M79 326h1.5M168 307h1.5M64 310h1.5M51.5 305h1.5M135.5 295h1.5M166 297.5h1.5M74.5 325.5h1.5M148 270.5h1.5M83 326h1.5M68.5 310h1.5M78 312.5h1.5M94 357h1.5M71 331h1.5M153 277h1.5M165 278h1.5M172 297.5h1.5M65.5 307.5h1.5M64.5 317h1.5M159.5 273h1.5M168 272h1.5M133 303.5h1.5M129 308h1.5M54.5 288.5h1.5M156 273.5h1.5M90 346.5h1.5M136 296h1.5M153 270.5h1.5M89 361.5h1.5M176.5 298.5h1.5M107 287h1.5M144 284.5h1.5M115 316.5h1.5M57 305h1.5M118.5 317.5h1.5M128.5 300h1.5M128 300.5h1.5M172 278h1.5M135 298.5h1.5M152.5 282h1.5M133.5 296.5h1.5M143 278.5h1.5M67 306.5h1.5M67 311.5h1.5M102 314.5h1.5M128 303.5h1.5M155.5 223h1.5M67 304h1.5M101 331h1.5M75 318.5h1.5M136.5 291.5h1.5M150.5 279h1.5M161.5 279h1.5M164.5 266.5h1.5M96.5 346.5h1.5M145.5 297.5h1.5M158.5 268h1.5M54 304h1.5M104 314h1.5M151.5 270h1.5M100 332h1.5M164 271.5h1.5M129 299.5h1.5M155.5 287h1.5M80.5 313h1.5M62 332h1.5M79 339h1.5M60 286.5h1.5M170.5 286h1.5M171.5 307h1.5M139 291h1.5M119.5 304h1.5M152 274h1.5M95.5 356h1.5M157 264h1.5M150 260.5h1.5M145.5 288h1.5M140 280.5h1.5M53 311h1.5M129 309h1.5M158.5 274h1.5M95 353h1.5M133 299.5h1.5M134 295.5h1.5M138.5 310.5h1.5M167 269h1.5M92 350h1.5M177.5 288.5h1.5M161 273.5h1.5M85 325.5h1.5M58 314.5h1.5M94.5 365h1.5M74.5 311.5h1.5M94 360.5h1.5M131.5 303h1.5M173 268.5h1.5M113.5 318.5h1.5M152.5 262h1.5M162 267h1.5M67 312h1.5M116.5 301h1.5M124 301h1.5M155 266.5h1.5M63.5 309.5h1.5M164.5 294h1.5M104 313h1.5M156 268.5h1.5M110 319.5h1.5M77 315.5h1.5M91.5 350h1.5M57 296h1.5M167 257h1.5M118.5 305.5h1.5M126.5 313.5h1.5M85 321.5h1.5M163 280h1.5M96.5 357.5h1.5M57 310.5h1.5M154 269.5h1.5M157 272h1.5M130.5 291h1.5M97.5 350h1.5M148 278h1.5M136 293h1.5M64 291h1.5M165 265h1.5M109 309.5h1.5M67.5 307.5h1.5M127.5 291h1.5M55 310.5h1.5M128 313.5h1.5M92.5 355.5h1.5M101 332.5h1.5M112.5 314h1.5M77 310.5h1.5M145.5 267h1.5M95 358h1.5M128 304h1.5M76.5 319h1.5M103 319.5h1.5M76 307h1.5M136 285h1.5M93.5 358h1.5M79 319.5h1.5M149 281h1.5M92 348.5h1.5M74 333.5h1.5M71.5 312h1.5M166.5 277.5h1.5M67.5 305h1.5M167 279h1.5M150 276.5h1.5M53 299.5h1.5M96.5 351.5h1.5M58.5 301h1.5M139 294h1.5M70.5 316h1.5M75 319h1.5M58 309.5h1.5M144 275.5h1.5M94 359h1.5M138.5 282.5h1.5M116 318h1.5M69 312h1.5M164 279h1.5M126 303.5h1.5M149 265.5h1.5M159.5 275h1.5M163.5 337.5h1.5M65 311h1.5M124 300h1.5M132 303h1.5M144 280h1.5M69.5 310h1.5M127 302.5h1.5M61.5 304h1.5M74.5 319.5h1.5M73 303.5h1.5M119 307.5h1.5M61 313h1.5M58 313.5h1.5M172.5 293h1.5M160 287h1.5M150.5 292.5h1.5M99.5 323.5h1.5M176 281h1.5M157.5 266.5h1.5M127.5 293h1.5M86 335h1.5M98.5 341h1.5M60 300.5h1.5M85.5 330.5h1.5M141.5 291.5h1.5M139.5 299.5h1.5M97 340h1.5M134.5 306.5h1.5M139.5 282.5h1.5M130 294.5h1.5M66.5 314h1.5M55 303h1.5M141.5 274.5h1.5M128 298.5h1.5M163.5 270.5h1.5M59.5 310h1.5M118 326.5h1.5M163 269h1.5M163.5 294h1.5M157.5 266.5h1.5M129 294h1.5M149.5 294h1.5M135 296h1.5M83.5 325h1.5M108.5 311.5h1.5M62 316.5h1.5M157 263.5h1.5M62.5 307.5h1.5M107.5 319.5h1.5M89.5 348h1.5M101.5 328.5h1.5M167.5 287.5h1.5M101.5 324h1.5M93 352.5h1.5M109.5 322.5h1.5M155 281h1.5M158 275h1.5M175.5 300.5h1.5M136 293h1.5M123 309h1.5M153 260h1.5M158.5 283h1.5M106 349.5h1.5M123.5 299h1.5M54.5 293h1.5M77 321.5h1.5M152.5 280h1.5M157 258h1.5M146 283h1.5M153.5 271.5h1.5M62.5 303.5h1.5M103 319h1.5M129.5 302.5h1.5M139.5 286h1.5M100.5 334h1.5M85.5 332.5h1.5M142 269h1.5M151.5 290.5h1.5M88 331.5h1.5M58 291.5h1.5M174 301h1.5M105 315.5h1.5M96.5 350h1.5M54.5 305h1.5M57 295h1.5M161.5 292.5h1.5M142 276.5h1.5M103.5 322h1.5M61 310.5h1.5M54.5 301.5h1.5M131.5 298h1.5M56 296h1.5M165 279h1.5M94 358h1.5M79 319h1.5M93 353h1.5M112 319h1.5M129.5 295.5h1.5M116.5 310h1.5M78.5 322.5h1.5M78.5 315.5h1.5M58.5 312.5h1.5M132 299.5h1.5M112 305h1.5M68 301.5h1.5M76.5 298h1.5M75 299h1.5M131.5 299h1.5M167.5 293h1.5M153.5 280.5h1.5M129.5 291h1.5M158 265.5h1.5M142 280.5h1.5M169.5 248.5h1.5M115 298.5h1.5M105 316h1.5M149 278.5h1.5M68 307h1.5M129 290h1.5M162 289h1.5M178 297h1.5M103.5 319h1.5M52.5 284h1.5M85.5 323.5h1.5M164 324h1.5M130.5 317h1.5M129.5 315h1.5M130.5 294h1.5M121 295h1.5M91.5 348.5h1.5M104 313h1.5M67.5 308.5h1.5M91.5 353h1.5M91.5 346.5h1.5M69.5 310h1.5M151.5 271h1.5M132 296.5h1.5M55 267.5h1.5M76.5 307h1.5M165 271.5h1.5M102 319h1.5M177.5 300h1.5M123.5 314.5h1.5M117 310.5h1.5M153 291.5h1.5M146 288h1.5M166.5 290.5h1.5M148.5 273.5h1.5M86.5 330h1.5M115.5 315.5h1.5M130.5 290.5h1.5M139 290h1.5M132 288h1.5M154.5 264h1.5M160 285h1.5M68.5 309.5h1.5M108 314.5h1.5M164 286.5h1.5M91.5 344h1.5M84.5 329h1.5M149 274h1.5M103 319h1.5M128.5 304h1.5M129 304h1.5M66 313.5h1.5M172 272h1.5M160.5 256h1.5M102 327h1.5M66.5 300h1.5M75 321.5h1.5M141 284h1.5M137 267.5h1.5M80.5 338h1.5M115.5 323.5h1.5M149 285h1.5M96 349h1.5M130 303h1.5M150.5 261.5h1.5M95 358h1.5M116 314h1.5M171.5 298h1.5M92.5 355h1.5M101 331h1.5M145 288.5h1.5M143.5 303.5h1.5M170.5 295.5h1.5M131 296h1.5M53.5 312h1.5M115 293h1.5M77.5 312h1.5M74.5 317h1.5M146.5 285.5h1.5M98 341.5h1.5M80.5 303.5h1.5M174 293h1.5M129.5 286h1.5M173.5 311.5h1.5M177 300.5h1.5M131.5 289h1.5M129.5 302.5h1.5M146.5 280.5h1.5M166.5 279.5h1.5M148.5 285.5h1.5M71.5 311.5h1.5M168 267.5h1.5M79 302h1.5M154.5 283.5h1.5M65 309h1.5M129 293.5h1.5M110.5 306h1.5M55 316h1.5M69.5 315.5h1.5M56.5 289.5h1.5M178.5 290.5h1.5M79 313.5h1.5M152.5 276.5h1.5M72.5 307h1.5M79.5 320h1.5M53.5 299.5h1.5M137.5 279.5h1.5M120 311h1.5M168.5 286.5h1.5M136.5 287.5h1.5M125 295.5h1.5M55 293h1.5M64 295h1.5M166.5 271.5h1.5M161 273h1.5M122.5 300.5h1.5M104.5 317h1.5M176 285h1.5M134.5 306.5h1.5M60 311.5h1.5M87.5 335.5h1.5M138 288h1.5M120 289h1.5M155.5 263.5h1.5M108.5 317h1.5M66 294h1.5M142 292.5h1.5M141 286.5h1.5M145 273.5h1.5M56 305.5h1.5M103.5 325.5h1.5M59.5 303.5h1.5M129 305.5h1.5M140.5 291.5h1.5M125 303.5h1.5M131.5 294.5h1.5M172 296h1.5M92.5 357.5h1.5M151.5 272h1.5M70 305.5h1.5M137 301.5h1.5M148.5 272h1.5M96 352h1.5M176.5 296h1.5M71 316.5h1.5M101 324.5h1.5M94.5 347h1.5M117 308h1.5M177 308h1.5M177 308h1.5M172.5 297.5h1.5M57 301h1.5M151.5 270.5h1.5M114.5 319h1.5M82 317h1.5M116.5 321.5h1.5M55 278.5h1.5M111.5 325h1.5M89.5 338h1.5M128.5 303.5h1.5M59.5 303.5h1.5M133.5 273.5h1.5M170.5 297.5h1.5M81.5 322.5h1.5M133.5 300.5h1.5M156.5 281.5h1.5M150.5 286h1.5M84.5 330h1.5M159 276h1.5M107.5 328h1.5M155 271h1.5M141.5 282h1.5M63 313h1.5M80.5 308h1.5M147 268.5h1.5M63 308.5h1.5M51.5 299h1.5M150 281h1.5M122.5 303.5h1.5M105 317.5h1.5M158.5 263h1.5M160.5 290.5h1.5M96.5 348.5h1.5M92 354h1.5M140 288h1.5M79 325.5h1.5M80 317h1.5M81 315h1.5M160.5 254.5h1.5M56.5 293.5h1.5M81.5 305.5h1.5M150 281.5h1.5M78.5 303.5h1.5M169.5 261h1.5M59 303.5h1.5M159.5 259.5h1.5M110 312.5h1.5M111.5 312h1.5M56 286.5h1.5M146 287h1.5M146.5 278.5h1.5M114.5 312.5h1.5M149 257.5h1.5M155.5 266.5h1.5M136.5 290.5h1.5M101.5 330h1.5M152.5 277h1.5M97.5 351h1.5M52 290.5h1.5M126 315h1.5M118.5 330.5h1.5M128 298.5h1.5M121 307.5h1.5M76 311h1.5M113.5 313h1.5M56 305.5h1.5M135.5 298.5h1.5M126 304h1.5M113 303.5h1.5M161 280h1.5M73.5 309.5h1.5M150.5 281.5h1.5M92 354h1.5M171.5 276.5h1.5M156.5 233.5h1.5M63 307h1.5M142.5 283h1.5M143 288h1.5M133.5 287.5h1.5M173.5 298h1.5M154.5 272.5h1.5M108.5 306h1.5M146 302h1.5M139.5 286.5h1.5M164 285h1.5M90 348h1.5M165.5 279.5h1.5M125 288h1.5M119 310.5h1.5M126 298.5h1.5M87.5 333.5h1.5M125.5 308h1.5M83.5 320h1.5M107 321h1.5M175.5 298h1.5M152 285h1.5M156 295.5h1.5M95.5 359.5h1.5M114.5 318.5h1.5M144.5 282.5h1.5M125 311.5h1.5M100.5 333.5h1.5M66 298.5h1.5M57 309.5h1.5M105 318h1.5M162.5 282.5h1.5M123.5 323h1.5M100 343.5h1.5M174.5 267h1.5M94 363h1.5M165.5 291h1.5M163 270h1.5M107 318.5h1.5M95 362h1.5M99 338.5h1.5M140 296.5h1.5M104.5 309.5h1.5M171.5 292.5h1.5M170.5 282.5h1.5M126 316.5h1.5M125.5 279.5h1.5M61.5 298h1.5M54 294h1.5M136 282h1.5M60 318.5h1.5M122 315h1.5M75 313h1.5M161 270h1.5M133.5 293.5h1.5M100.5 324.5h1.5M101.5 328h1.5M165 286h1.5M82 327.5h1.5M126 308h1.5M172 292h1.5M89 334h1.5M73 319.5h1.5M130 305h1.5M178.5 303h1.5M83.5 335h1.5M171.5 286h1.5M90 333h1.5M132 298h1.5M106 324.5h1.5M56.5 307h1.5M167.5 290h1.5M89.5 339.5h1.5M108 319.5h1.5M154 268.5h1.5M104 331h1.5M126.5 307h1.5M105 288h1.5M124.5 296.5h1.5M166 278h1.5M150 276.5h1.5M123 318h1.5M101.5 331.5h1.5M69 306h1.5M157 268.5h1.5M80 320h1.5M78.5 304h1.5M72.5 330h1.5M157 261h1.5M71 318.5h1.5M82.5 326h1.5M148.5 258.5h1.5M121.5 320h1.5M51.5 325.5h1.5M145.5 282h1.5M127 320h1.5M74 316.5h1.5M87 338h1.5M111 323.5h1.5M53 286.5h1.5M111.5 322.5h1.5M165.5 284.5h1.5M129 305h1.5M167 270h1.5M54 323.5h1.5M63 311.5h1.5M166 276.5h1.5M52.5 301h1.5M121 332h1.5M146 288.5h1.5M128.5 299.5h1.5M135 292.5h1.5M116 330h1.5M73.5 303h1.5M75.5 314.5h1.5M56.5 319h1.5M74 321.5h1.5M79.5 310.5h1.5M69.5 319.5h1.5M121.5 315.5h1.5M171.5 290h1.5M59.5 321h1.5M135.5 309h1.5M122.5 314.5h1.5M119 315.5h1.5M139.5 280.5h1.5M78.5 311h1.5M150.5 269h1.5M77.5 325.5h1.5M159.5 257h1.5M173.5 293h1.5M90.5 339h1.5M106 312h1.5M172 275h1.5M54 294.5h1.5M140.5 299.5h1.5M108 319.5h1.5M147.5 286h1.5M52 298.5h1.5M157.5 264.5h1.5M131 301.5h1.5M159 279.5h1.5M157 256.5h1.5M107 321.5h1.5M67 310h1.5M145 295h1.5M58.5 307h1.5M82 321.5h1.5M88 336h1.5M150.5 265h1.5M69 314h1.5M122.5 300.5h1.5M101 328h1.5M117.5 317h1.5M65.5 309.5h1.5M165 306h1.5M100 330h1.5M73 311.5h1.5M72 301h1.5M140 285h1.5M163.5 281h1.5M55 318h1.5M106.5 307h1.5M158.5 277h1.5M85.5 327.5h1.5M110.5 323h1.5M94.5 365.5h1.5M157.5 262.5h1.5M164.5 294h1.5M81 309.5h1.5M115.5 310.5h1.5M161.5 279h1.5M117 304.5h1.5M161 268h1.5M162 269h1.5M78 333h1.5M121 312h1.5M132.5 298.5h1.5M59 309.5h1.5M53.5 273.5h1.5M156 270.5h1.5M87.5 335.5h1.5M100.5 329.5h1.5M165.5 281h1.5M149.5 275h1.5M156 266.5h1.5M134 292h1.5M89.5 341h1.5M131.5 287h1.5M84 322.5h1.5M88 332.5h1.5M67 306.5h1.5M54.5 289.5h1.5M129.5 305.5h1.5M150.5 279.5h1.5M155.5 250h1.5M109 305h1.5M138 299.5h1.5M60.5 310.5h1.5M156.5 270.5h1.5M175.5 299h1.5M107 318h1.5M67 307h1.5M92.5 357.5h1.5M145 268h1.5M59.5 319.5h1.5M66 309h1.5M173 290.5h1.5M109 307h1.5M122.5 308h1.5M76 309.5h1.5M113 315h1.5M113.5 324h1.5M133 306.5h1.5M95.5 354h1.5M124 305h1.5M151.5 266.5h1.5M158 281.5h1.5M65 300h1.5M70 310h1.5M143.5 233h1.5M129.5 272h1.5M57 307h1.5M150.5 271.5h1.5M135.5 294h1.5M123 307h1.5M69 320.5h1.5M125 296.5h1.5M51.5 349h1.5M70 307.5h1.5M149 282h1.5M150 279.5h1.5M142 305h1.5M66.5 305.5h1.5M67 309.5h1.5M60 301.5h1.5M63.5 313h1.5M134.5 300h1.5M77.5 305.5h1.5M53 283.5h1.5M135.5 288.5h1.5M104 322h1.5M161.5 265.5h1.5M147.5 264.5h1.5M96 350.5h1.5M139 283h1.5M159 278h1.5M77 315h1.5M130 300h1.5M154.5 261h1.5M173 284.5h1.5M141 289h1.5M170.5 294h1.5M120.5 317h1.5M124 312.5h1.5M105.5 323h1.5M155 251h1.5M169.5 289h1.5M119.5 308h1.5M64 303h1.5M76.5 325h1.5M136 295h1.5M111.5 310h1.5M65 317.5h1.5M162.5 275.5h1.5M76 307.5h1.5M172.5 294.5h1.5M104 320.5h1.5M68.5 303.5h1.5M141 297.5h1.5M167.5 300.5h1.5M83 329h1.5M90.5 344h1.5M98.5 345.5h1.5M167.5 296h1.5M70 312h1.5M71 319.5h1.5M77 310h1.5M95 356h1.5M89.5 343h1.5M123 306h1.5M141 280h1.5M149 259h1.5M116.5 319.5h1.5M111.5 304h1.5M147.5 278.5h1.5M61.5 315h1.5M161 270h1.5M109 321.5h1.5M128 319.5h1.5M170 294.5h1.5M155.5 279.5h1.5M107 323h1.5M96.5 354.5h1.5M141 286h1.5M160.5 282.5h1.5M118.5 310h1.5M119.5 298h1.5M173.5 307h1.5M148.5 283h1.5M165 284h1.5M56.5 301.5h1.5M62 310h1.5M127.5 283.5h1.5M138.5 280.5h1.5M85.5 333.5h1.5M125.5 300.5h1.5M62.5 303.5h1.5M168.5 283h1.5M94.5 355h1.5M117 303.5h1.5M131 305.5h1.5M112 325h1.5M139.5 290h1.5M54 301.5h1.5M67 305h1.5M77.5 314h1.5M175 309.5h1.5M136 293h1.5M90 347h1.5M116.5 308.5h1.5M108 324.5h1.5M83 323.5h1.5M70 313h1.5M83 324h1.5M55.5 296h1.5M60.5 298.5h1.5M153.5 276.5h1.5M114.5 319h1.5M68.5 312.5h1.5M62 301.5h1.5M157 271h1.5M85.5 336h1.5M88 340.5h1.5M163.5 267h1.5M115.5 313h1.5M160.5 272h1.5M152.5 276h1.5M126 309h1.5M77 308h1.5M61 298.5h1.5M156.5 255h1.5M166 276.5h1.5M81.5 323.5h1.5M68.5 306.5h1.5M107.5 316h1.5M80.5 313.5h1.5M118 310.5h1.5M138 278h1.5M174.5 296h1.5M139.5 283h1.5M125 310h1.5M94 360.5h1.5M126.5 289.5h1.5M128.5 311.5h1.5M63 316.5h1.5M92 352.5h1.5M59 308h1.5M72.5 314.5h1.5M125.5 302.5h1.5M165 276.5h1.5M144.5 290h1.5M81.5 318h1.5M135 293.5h1.5M128 296h1.5M176 315h1.5M91 356h1.5M125 303h1.5M53 317.5h1.5M96 350.5h1.5M89 344h1.5M86 323.5h1.5M79 319h1.5M168.5 296h1.5M76 302.5h1.5M136.5 290.5h1.5M105.5 304h1.5M97 346h1.5M138 280.5h1.5M121.5 308h1.5M131.5 296h1.5M148 284.5h1.5M120.5 298h1.5M79 320.5h1.5M173 284.5h1.5M114 319h1.5M170 280.5h1.5M88.5 344.5h1.5M104.5 323h1.5M71 320h1.5M149.5 271h1.5M98 346h1.5M109 306.5h1.5M107 318h1.5M65 313.5h1.5M170 291h1.5M60 314.5h1.5M138 282h1.5M120 314.5h1.5M143 280h1.5M60 294.5h1.5M111 315h1.5M167.5 272h1.5M134 295h1.5M105 307h1.5M53.5 292.5h1.5M106.5 317.5h1.5M115.5 316h1.5M119 288.5h1.5M99 336.5h1.5M135 283h1.5M168 287h1.5M174 292.5h1.5M127 305.5h1.5M82 315.5h1.5M76 319.5h1.5M74.5 312h1.5M131.5 277h1.5M176 292h1.5M116.5 309.5h1.5M144 291.5h1.5M97.5 341h1.5M126 306.5h1.5M173 307h1.5M55 300.5h1.5M157.5 262h1.5M57 296h1.5M178 283h1.5M80.5 322h1.5M57 320.5h1.5M149 282.5h1.5M93.5 357h1.5M143 285.5h1.5M104.5 307.5h1.5M111.5 309h1.5M142.5 291h1.5M124.5 307h1.5M119.5 315h1.5M52 292h1.5M89 346h1.5M123.5 304h1.5M170 289h1.5M113.5 309.5h1.5M163 287h1.5M75.5 314h1.5M137.5 286.5h1.5M164.5 271h1.5M83.5 319h1.5M110.5 310h1.5M177.5 312h1.5M83.5 318h1.5M55 310.5h1.5M81 310h1.5M79 331h1.5M158 260.5h1.5M165.5 289h1.5M121 303.5h1.5M174.5 283.5h1.5M157.5 266.5h1.5M171.5 270h1.5M96.5 346h1.5M169.5 279.5h1.5M166.5 285.5h1.5M69.5 293h1.5M66 315.5h1.5M90.5 345.5h1.5M94 352.5h1.5M53.5 313.5h1.5M98 343.5h1.5M162 275.5h1.5M148.5 257.5h1.5M94 355.5h1.5M154.5 252.5h1.5M83.5 316.5h1.5M133.5 296h1.5M132 301.5h1.5M107.5 325h1.5M87 332.5h1.5M107 315h1.5M176 292h1.5M143.5 289.5h1.5M105.5 325h1.5M88 330.5h1.5M102 315.5h1.5M74.5 302h1.5M94.5 360h1.5M62.5 318.5h1.5M92 353.5h1.5M89.5 345.5h1.5M104 313h1.5M112 316.5h1.5M136 288.5h1.5M93 357h1.5M79.5 314.5h1.5M166 283.5h1.5M64 317h1.5M137.5 282.5h1.5M77 317h1.5M81 317.5h1.5M95 353h1.5M94.5 362h1.5M171 312h1.5M108.5 318.5h1.5M124 307h1.5M144.5 284h1.5M52 305h1.5M168.5 299h1.5M74.5 310h1.5M117.5 317.5h1.5M100.5 330.5h1.5M155.5 259.5h1.5M98.5 342h1.5M161 272h1.5M94.5 360h1.5M138.5 287h1.5M78.5 312h1.5M107.5 312h1.5M110.5 314h1.5M162.5 283.5h1.5M165.5 283.5h1.5M91.5 351h1.5M87 330h1.5M106 303h1.5M155.5 274.5h1.5M60 306h1.5M174 290h1.5M154.5 258.5h1.5M153 286.5h1.5M121 308.5h1.5M97.5 342.5h1.5M177.5 304h1.5M159 267h1.5M154.5 272.5h1.5M73 326.5h1.5M169 287h1.5M74.5 316h1.5M65.5 309.5h1.5M147 275h1.5M166.5 288.5h1.5M60.5 313.5h1.5M77 321h1.5M133.5 292h1.5M156.5 276.5h1.5M169.5 266.5h1.5M131.5 292.5h1.5M89.5 336h1.5M104.5 317h1.5M60 306h1.5M159.5 262.5h1.5M134 292.5h1.5M82 319h1.5M79.5 324h1.5M163 281.5h1.5M169 281.5h1.5M98 335h1.5M156 255h1.5M178 311h1.5M51 299.5h1.5M171 297h1.5M175.5 298h1.5M144 288.5h1.5M166 281.5h1.5M167.5 276.5h1.5M81.5 312.5h1.5M54 308.5h1.5M123 295.5h1.5M125 297.5h1.5M134.5 301h1.5M79.5 314h1.5M71.5 315h1.5M112.5 314h1.5M71 316h1.5M117 313.5h1.5M62.5 298h1.5M83 330.5h1.5M95 354h1.5M120.5 313h1.5M62 308h1.5M142 288h1.5M167.5 264.5h1.5M171.5 286.5h1.5M105.5 329h1.5M134.5 304h1.5M117.5 307h1.5M107 326h1.5M177 304h1.5M117 316h1.5M175 291.5h1.5M64 315h1.5M148.5 276h1.5M133 308h1.5M96 353.5h1.5M172 301.5h1.5M60.5 302h1.5M100.5 338.5h1.5M91 353.5h1.5M147.5 273.5h1.5M134.5 314h1.5M168.5 282h1.5M69.5 300h1.5M56 294.5h1.5M122 311h1.5M165.5 285h1.5M51 296h1.5M105.5 318h1.5M52 284.5h1.5M69 309.5h1.5M100 330h1.5M58.5 304.5h1.5M103 314h1.5M83.5 319h1.5M170 281h1.5M146.5 268h1.5M99 334.5h1.5M91.5 354h1.5M88.5 354h1.5M121.5 306h1.5M153.5 272.5h1.5M57 326h1.5M154.5 276h1.5M62 308h1.5M121.5 306.5h1.5M74.5 328h1.5M170 294h1.5M54.5 292h1.5M88 328.5h1.5M105.5 321h1.5M89 339h1.5M117 322.5h1.5M110.5 304.5h1.5M77.5 295h1.5M118 312.5h1.5M141.5 276.5h1.5M81.5 327.5h1.5M152.5 277.5h1.5M99.5 341h1.5M126.5 285h1.5M175.5 279.5h1.5M130.5 306.5h1.5M144.5 270h1.5M74 319.5h1.5M51.5 291h1.5M68 325.5h1.5M135.5 291.5h1.5M115 313h1.5M128.5 310.5h1.5M131 304h1.5M58.5 304h1.5M154.5 298.5h1.5M56 300h1.5M152.5 259.5h1.5M168.5 295.5h1.5M52 302h1.5M51.5 295h1.5M169 281.5h1.5M141 289.5h1.5M123.5 315.5h1.5M154 277.5h1.5M134 282h1.5M165.5 281h1.5M161 271.5h1.5M126 310.5h1.5M170 277.5h1.5M72.5 310h1.5M112 318h1.5M113 314h1.5M72.5 314h1.5M116 325h1.5M125.5 313h1.5M85.5 321.5h1.5M175 304.5h1.5M83 329.5h1.5M99.5 328.5h1.5M58 304h1.5M63.5 305.5h1.5M125 312.5h1.5M84 315.5h1.5M163 274.5h1.5M82.5 328h1.5M73 308h1.5M109 313h1.5M159 281.5h1.5M70 307h1.5M145 309.5h1.5M74 310.5h1.5M99.5 324h1.5M109.5 322.5h1.5M176.5 295.5h1.5M61.5 315h1.5M156.5 274h1.5M74.5 326h1.5M171.5 299.5h1.5M149 270.5h1.5M106 334h1.5M165 284h1.5M90 339.5h1.5M100 328.5h1.5M153 289h1.5M135.5 289h1.5M52.5 307.5h1.5M133.5 295.5h1.5M160.5 279.5h1.5M135 286h1.5M121.5 307h1.5M84.5 315.5h1.5M93.5 364h1.5M94.5 360h1.5M128.5 294h1.5M110.5 314h1.5M60.5 311.5h1.5M119.5 309h1.5M177 285h1.5M55 291.5h1.5M75.5 317h1.5M86 334.5h1.5M67 292h1.5M82 316.5h1.5M122.5 303.5h1.5M109 314.5h1.5M115 318h1.5M174 301h1.5M97.5 342h1.5M93 351.5h1.5M80 312h1.5M172.5 302.5h1.5M64.5 307.5h1.5M146.5 287.5h1.5M131.5 302.5h1.5M122 323.5h1.5M74.5 302h1.5M64.5 302h1.5M59.5 302.5h1.5M75 333.5h1.5M127.5 302h1.5M172 295.5h1.5M122.5 291h1.5M140 285.5h1.5M149 285.5h1.5M123 315h1.5M120.5 306.5h1.5M124.5 299.5h1.5M67.5 306.5h1.5M149 272.5h1.5M174.5 306.5h1.5M103 317h1.5M87 336h1.5M135 304.5h1.5M70 309h1.5M110.5 308h1.5M122 305h1.5M75 314h1.5M168 287h1.5M75 307.5h1.5M154 277.5h1.5M143 272.5h1.5M152 268.5h1.5M86 329.5h1.5M83.5 324h1.5M55 285h1.5M79.5 317.5h1.5M104.5 316h1.5M98.5 337h1.5M64 308.5h1.5M171.5 294.5h1.5M158 275h1.5M134.5 292.5h1.5M69 313.5h1.5M137 313h1.5M178.5 303h1.5M150.5 288h1.5M81.5 313.5h1.5M120.5 326.5h1.5M135.5 300.5h1.5M77.5 302h1.5M105.5 317h1.5M174 290.5h1.5M61.5 305h1.5M117 307h1.5M132.5 309h1.5M137 292.5h1.5M142.5 293h1.5M88.5 330.5h1.5M117.5 317h1.5M106 308h1.5M155.5 277h1.5M166 283.5h1.5M108 316h1.5M157 258h1.5M70.5 310h1.5M126.5 290h1.5M143.5 281.5h1.5M107 316h1.5M139.5 284.5h1.5M146.5 280.5h1.5M153 270.5h1.5M174 306h1.5M61.5 309h1.5M157.5 281.5h1.5M68.5 306.5h1.5M88.5 340h1.5M73.5 318h1.5M137.5 292h1.5M132 300.5h1.5M59 316.5h1.5M108 319h1.5M126 305.5h1.5M65.5 314h1.5M132.5 289h1.5M149 277h1.5M148 272h1.5M135.5 300h1.5M104 315.5h1.5M93 361h1.5M93 355.5h1.5M155.5 272h1.5M97 351h1.5M166 267h1.5M121 317.5h1.5M87 329h1.5M134.5 297h1.5M130 315.5h1.5M80.5 322.5h1.5M171.5 310h1.5M99 334h1.5M144.5 284.5h1.5M148.5 275.5h1.5M135 269.5h1.5M166 290h1.5M141.5 268h1.5M114.5 318.5h1.5M68.5 304h1.5M163 288h1.5M155.5 257.5h1.5M135 297.5h1.5M123 313.5h1.5M143.5 302h1.5M75 313h1.5M157 250.5h1.5M111 324h1.5M76 326h1.5M52 292h1.5M52.5 307h1.5M150.5 272h1.5M171.5 279.5h1.5M68.5 317h1.5M124 312h1.5M133 310.5h1.5M144.5 280.5h1.5M153 262h1.5M174 288h1.5M96 345.5h1.5M162.5 277.5h1.5M122.5 305h1.5M119.5 314h1.5M131.5 307.5h1.5M104.5 322h1.5M160 288h1.5M140 298.5h1.5M130.5 319h1.5M87.5 339.5h1.5M58 297h1.5M87 330h1.5M76 316h1.5M67 297.5h1.5M60 292.5h1.5M169.5 274.5h1.5M124.5 309.5h1.5M53 302.5h1.5M95 355h1.5M156.5 277.5h1.5M110.5 302.5h1.5M130 303h1.5M176.5 298h1.5M125.5 315h1.5M63.5 326h1.5M86 330.5h1.5M117 301.5h1.5M110.5 307.5h1.5M89 343.5h1.5M88.5 339h1.5M113.5 314h1.5M87.5 342.5h1.5M100.5 326h1.5M70 315.5h1.5M136.5 284h1.5M134 304h1.5M126 350h1.5M165.5 305.5h1.5M97 353.5h1.5M170.5 292.5h1.5M93.5 357.5h1.5M172.5 291.5h1.5M81 322h1.5M57.5 321.5h1.5M131 290h1.5M101.5 322h1.5M80.5 309.5h1.5M93.5 356.5h1.5M153 266h1.5M111 316.5h1.5M61 299.5h1.5M121.5 307h1.5M144 278h1.5M109.5 307.5h1.5M96 352.5h1.5M91 355h1.5M119 300h1.5M85.5 298.5h1.5M152 275h1.5M69 308h1.5M79 316h1.5M161 275.5h1.5M111 309.5h1.5M169 279.5h1.5M167.5 285h1.5M108 306.5h1.5M89 335.5h1.5M120 306.5h1.5M118.5 314h1.5M107.5 326h1.5M76.5 312.5h1.5M80.5 313h1.5M155 272h1.5M129.5 292h1.5M164.5 271.5h1.5M95.5 354h1.5M98.5 338.5h1.5M102 322.5h1.5M118 299h1.5M98.5 339.5h1.5M104.5 319.5h1.5M56.5 298h1.5M95 360.5h1.5M129 298h1.5M115 313.5h1.5M129.5 301h1.5M121.5 310.5h1.5M101.5 318.5h1.5M113.5 314.5h1.5M138.5 283.5h1.5M149 255h1.5M92 357h1.5M101.5 316h1.5M120 307h1.5M178.5 283.5h1.5M165.5 275.5h1.5M164.5 272h1.5M76 336h1.5M107.5 311.5h1.5M82 312.5h1.5M109 300.5h1.5M66 307.5h1.5M140 284.5h1.5M131.5 299.5h1.5M90 341.5h1.5M57 299h1.5M97.5 342h1.5M66.5 294h1.5M113 342h1.5M148 275h1.5M96 352h1.5M52 304.5h1.5M99.5 342.5h1.5M83 322h1.5M169 262h1.5M89 345.5h1.5M56.5 297h1.5M162 268h1.5M141 292.5h1.5M87 325.5h1.5M165.5 279.5h1.5M61.5 306h1.5M73 316h1.5M155 262h1.5M59 296.5h1.5M146.5 270h1.5M149 277h1.5M123 299h1.5M103 322h1.5M68 318h1.5M123.5 305.5h1.5M173 285.5h1.5M98 337h1.5M73 335.5h1.5M120.5 329.5h1.5M158.5 278.5h1.5M73 325.5h1.5M78 309.5h1.5M80.5 317.5h1.5M89 336.5h1.5M107 325.5h1.5M153 255.5h1.5M107 325h1.5M163.5 266.5h1.5M136 289h1.5M169.5 288.5h1.5M138.5 285h1.5M127 304.5h1.5M167.5 286.5h1.5M154 279.5h1.5M76 311.5h1.5M118.5 315h1.5M139 286.5h1.5M122.5 319h1.5M67 308.5h1.5M63.5 307h1.5M102.5 321h1.5M171 292.5h1.5M85.5 334h1.5M117.5 314.5h1.5M141.5 287h1.5M73 306h1.5M127.5 304.5h1.5M125.5 317h1.5M58.5 306.5h1.5M98.5 346.5h1.5M84.5 323h1.5M86 336h1.5M81 329.5h1.5M98.5 340.5h1.5M65 300h1.5M51 300h1.5M99 336h1.5M124.5 293h1.5M131.5 294h1.5M139 284h1.5M140 299h1.5M63 305h1.5M149.5 286h1.5M106 314h1.5M170 289.5h1.5M155 247.5h1.5M146 271.5h1.5M147.5 285h1.5M142.5 273.5h1.5M86.5 345h1.5M156 252.5h1.5M87.5 340.5h1.5M109.5 312.5h1.5M146.5 272h1.5M131.5 287h1.5M52 291.5h1.5M103.5 312h1.5M67 314.5h1.5M102.5 322h1.5M133 290h1.5M52 297.5h1.5M108.5 308h1.5M97.5 343h1.5M142 288h1.5M72 292h1.5M84.5 321.5h1.5M66 303h1.5M124 305h1.5M80.5 330.5h1.5M97.5 348.5h1.5M100.5 334.5h1.5M174.5 285h1.5M87 333h1.5M119 312h1.5M118.5 301.5h1.5M165.5 285.5h1.5M128 310.5h1.5M127 289.5h1.5M121.5 313.5h1.5M58 302.5h1.5M114 315.5h1.5M56.5 293h1.5M94.5 360h1.5M172 295.5h1.5M148 265h1.5M107.5 318h1.5M63 302h1.5M164 275h1.5M115 305.5h1.5M82.5 316.5h1.5M174.5 295.5h1.5M79 311h1.5M85 327h1.5M78.5 315h1.5M147 274h1.5M62 304.5h1.5M137.5 302.5h1.5M89.5 343h1.5M73.5 330h1.5M71.5 327h1.5M176 286.5h1.5M62 306h1.5M121.5 311h1.5M68.5 312h1.5M99.5 333h1.5M83 315.5h1.5M150 280h1.5M141.5 276h1.5M70.5 310h1.5M60.5 306h1.5M98 335h1.5M102.5 327.5h1.5M116.5 335.5h1.5M131.5 297.5h1.5M58 304.5h1.5M106 318.5h1.5M63.5 311h1.5M92 350.5h1.5M128 299.5h1.5M178.5 291h1.5M83.5 328h1.5M105.5 334.5h1.5M53 296.5h1.5M108.5 314.5h1.5M76.5 319.5h1.5M84 332.5h1.5M140.5 272.5h1.5M74 315.5h1.5M71.5 309.5h1.5M102.5 311h1.5M54.5 312.5h1.5M143.5 273h1.5M95 363h1.5M174.5 303h1.5M157 264.5h1.5M101 329.5h1.5M133.5 302.5h1.5M157.5 271h1.5M133.5 296.5h1.5M126 315.5h1.5M157.5 275h1.5M52 298.5h1.5M147 255h1.5M61.5 314h1.5M104.5 322.5h1.5M65.5 307.5h1.5M125 328.5h1.5M68 317h1.5M118.5 339h1.5M64 306.5h1.5M76.5 312.5h1.5M93.5 355.5h1.5M90.5 338.5h1.5M119.5 318.5h1.5M118 307.5h1.5M151.5 253.5h1.5M97 346.5h1.5M73 312.5h1.5M174.5 288h1.5M81 320.5h1.5M89 347h1.5M65.5 306.5h1.5M130.5 298h1.5M162 285.5h1.5M91 350.5h1.5M98.5 338h1.5M177.5 296h1.5M93 358h1.5M171 307h1.5M116.5 313h1.5M123.5 311.5h1.5M86 336h1.5M167.5 294h1.5M146.5 280.5h1.5M118.5 325h1.5M137 289.5h1.5M64 308.5h1.5M63.5 301h1.5M117.5 304h1.5M157 266h1.5M105 321h1.5M148.5 293h1.5M178 286.5h1.5M120.5 307h1.5M116 319.5h1.5M175.5 301.5h1.5M66 310.5h1.5M166.5 285.5h1.5M124.5 310h1.5M86 328.5h1.5M145.5 295h1.5M124.5 309.5h1.5M155 264h1.5M79 329h1.5M120.5 314.5h1.5M147 270h1.5M87.5 332h1.5M93 357h1.5M140 297h1.5M64 319.5h1.5M134.5 291.5h1.5M79.5 318.5h1.5M131 330h1.5M75 302.5h1.5M81.5 331.5h1.5M148 250.5h1.5M105.5 319h1.5M149.5 275h1.5M114.5 297h1.5M99.5 347.5h1.5M70.5 312.5h1.5M151.5 313h1.5M147 267.5h1.5M129 297.5h1.5M165 280h1.5M145.5 275.5h1.5M117 316.5h1.5M163.5 302h1.5M104.5 313h1.5M167.5 275h1.5M67.5 308h1.5M55 309h1.5M127 308h1.5M70.5 314h1.5M173 283h1.5M171.5 292.5h1.5M104.5 312.5h1.5M59 302h1.5M176.5 300.5h1.5M103 310.5h1.5M114.5 313h1.5M94.5 357h1.5M89.5 343.5h1.5M87.5 331.5h1.5M91.5 342.5h1.5M137.5 287h1.5M97 349h1.5M146.5 275.5h1.5M141.5 291h1.5M154 284.5h1.5M64.5 298h1.5M168 283.5h1.5M157 272.5h1.5M92 356h1.5M68.5 316.5h1.5M165.5 286h1.5M115.5 309h1.5M106.5 308.5h1.5M169 271h1.5M101 304.5h1.5M160.5 277.5h1.5M168.5 290h1.5M146.5 283.5h1.5M66 313.5h1.5M166.5 285h1.5M91.5 346.5h1.5M85.5 327.5h1.5M132.5 305h1.5M114 317h1.5M142 284h1.5M176.5 296.5h1.5M178.5 301.5h1.5M110 317.5h1.5M133 286.5h1.5M153 280h1.5M116 308.5h1.5M160.5 285.5h1.5M101 331.5h1.5M144.5 272.5h1.5M59.5 311.5h1.5M172.5 301h1.5M90 347.5h1.5M108.5 331.5h1.5M135 294h1.5M85.5 324h1.5M54 317h1.5M70.5 317h1.5M156.5 259h1.5M133 288h1.5M176 305h1.5M172.5 289h1.5M128.5 298.5h1.5M109 317h1.5M124.5 309h1.5M171 271h1.5M94.5 353h1.5M96 349h1.5M134.5 293h1.5M120 314.5h1.5M131 315h1.5M121.5 307h1.5M130.5 291h1.5M57.5 298h1.5M125.5 306.5h1.5M156 264h1.5M160 292.5h1.5M118.5 314.5h1.5M76.5 307.5h1.5M164 288h1.5M81 309.5h1.5M91.5 353.5h1.5M85 329.5h1.5M174 302h1.5M153.5 238.5h1.5M147 282h1.5M65.5 311.5h1.5M93.5 359.5h1.5M107 307h1.5M158 273h1.5M53 305h1.5M133.5 285h1.5M87.5 329.5h1.5M97.5 342.5h1.5M168.5 289.5h1.5M73.5 310h1.5M142 292h1.5M78.5 315.5h1.5M68.5 314h1.5M117.5 285h1.5M160 273.5h1.5M104 328.5h1.5M68 302.5h1.5M154 269h1.5M90 346.5h1.5M148 274h1.5M161 264.5h1.5M153.5 289.5h1.5M86 332h1.5M86 331h1.5M125.5 324.5h1.5M172.5 291h1.5M92.5 345.5h1.5M67 300.5h1.5M56 326.5h1.5M163 282h1.5M155.5 257h1.5M162 277h1.5M133 287h1.5M122.5 310.5h1.5M167.5 297h1.5M71 309.5h1.5M57 307h1.5M101.5 327h1.5M109 308.5h1.5M101 333.5h1.5M70 318h1.5M138 297.5h1.5M119 306.5h1.5M83 328h1.5M132.5 296.5h1.5M74 316h1.5M148.5 289.5h1.5M95 355h1.5M70.5 302.5h1.5M101.5 319h1.5M164.5 288.5h1.5M140.5 261h1.5M56.5 297.5h1.5M106 311.5h1.5M171 256h1.5M119 316h1.5M55.5 301.5h1.5M114 316h1.5M145.5 268h1.5M138 291h1.5M133.5 319h1.5M158.5 259h1.5M66 298h1.5M121 314h1.5M151 268.5h1.5M133.5 297h1.5M161 266.5h1.5M98.5 340.5h1.5M79.5 325.5h1.5M141 277h1.5M109 319.5h1.5M89 344h1.5M87.5 341h1.5M152.5 264h1.5M154 255.5h1.5M68.5 315h1.5M114 304h1.5M116.5 312h1.5M112 314.5h1.5M153.5 262.5h1.5M70 320h1.5M59.5 314h1.5M65.5 313h1.5M174 301.5h1.5M178 296h1.5M77 315.5h1.5M92.5 356.5h1.5M151.5 276.5h1.5M98.5 337h1.5M127.5 301.5h1.5M118.5 324h1.5M93 358.5h1.5M69 299h1.5M166 288h1.5M112.5 326.5h1.5M147 292h1.5M56.5 304h1.5M83.5 317.5h1.5M175.5 282h1.5M95.5 356h1.5M141 285.5h1.5M60.5 312h1.5M110 315h1.5M144.5 289.5h1.5M81.5 317.5h1.5M175 295.5h1.5M108 314h1.5M137.5 284.5h1.5M148.5 271.5h1.5M123 298h1.5M130.5 305.5h1.5M160.5 275h1.5M60 313h1.5M58 271h1.5M132 301h1.5M166 274h1.5M127.5 296.5h1.5M155.5 259.5h1.5M165.5 280.5h1.5M52.5 286h1.5M85 332h1.5M67.5 308h1.5M127.5 303.5h1.5M67.5 310.5h1.5M97 346.5h1.5M123 310h1.5M131.5 295h1.5M109.5 314h1.5M70 300h1.5M139 271.5h1.5M162.5 282h1.5M102.5 322h1.5M113.5 314h1.5M96.5 348h1.5M143 277.5h1.5M54 306.5h1.5M87 334h1.5M139 278h1.5M142 290.5h1.5M86.5 342h1.5M175 287h1.5M87.5 338h1.5M60.5 309.5h1.5M60 301h1.5M144.5 291h1.5M56.5 298h1.5M91.5 354.5h1.5M126 292h1.5M136 296.5h1.5M91 352h1.5M91.5 349h1.5M162 278h1.5M140.5 275.5h1.5M97.5 349h1.5M113.5 317.5h1.5M100.5 334.5h1.5M131 306.5h1.5M56.5 291h1.5M119 311.5h1.5M79.5 310.5h1.5M94.5 363.5h1.5M142.5 294.5h1.5M81 321.5h1.5M116.5 288.5h1.5M141 297.5h1.5M78.5 322.5h1.5M57.5 289.5h1.5M163.5 259h1.5M144 305h1.5M89 320.5h1.5M158.5 266.5h1.5M103.5 307h1.5M165 284.5h1.5M108.5 322h1.5M114 306.5h1.5M79 323h1.5M113 303.5h1.5M152.5 233h1.5M161 269h1.5M114 333h1.5M71.5 310.5h1.5M67.5 303h1.5M81.5 320.5h1.5M146 306.5h1.5M163 284.5h1.5M175 286h1.5M68 321h1.5M88.5 334h1.5M106 324h1.5M81.5 320.5h1.5M130 295.5h1.5M108.5 322.5h1.5M57.5 303h1.5M145 279.5h1.5M161.5 286h1.5M158.5 266h1.5M77 317h1.5M143.5 301h1.5M118 309.5h1.5M66.5 320.5h1.5M154 280h1.5M108 312.5h1.5M76.5 317h1.5M98 339h1.5M105 314h1.5M171 294h1.5M166.5 268.5h1.5M146 270.5h1.5M85.5 334h1.5M165.5 277h1.5M53 317.5h1.5M110 290.5h1.5M165 278.5h1.5M94 353.5h1.5M75.5 305h1.5M125 317.5h1.5M83.5 326h1.5M80.5 319h1.5M155.5 267.5h1.5M79 311h1.5M65 307.5h1.5M131.5 303h1.5M66 300.5h1.5M95.5 353.5h1.5M80 307h1.5M90 331.5h1.5M151.5 267.5h1.5M159.5 260.5h1.5M133.5 286h1.5M57.5 303h1.5M73.5 313h1.5M154 274.5h1.5M142 299h1.5M163 263h1.5M127 322.5h1.5M71.5 312.5h1.5M113 314.5h1.5M59.5 313h1.5M87.5 340h1.5M122 334.5h1.5M83.5 302h1.5M85 324h1.5M131.5 304.5h1.5M98 341.5h1.5M71.5 306.5h1.5M172 293h1.5M156 279h1.5M151.5 280.5h1.5M96.5 346h1.5M140.5 286h1.5M62.5 312h1.5M101.5 329.5h1.5M74.5 315.5h1.5M70.5 308h1.5M139.5 278.5h1.5M116.5 316.5h1.5M102.5 315h1.5M161.5 256h1.5M140.5 286h1.5M90.5 341h1.5M144 278h1.5M101 332h1.5M107.5 312h1.5M92.5 352h1.5M171.5 277.5h1.5M145 291h1.5M107 307h1.5M77 316.5h1.5M64 315.5h1.5M152.5 288.5h1.5M73.5 315h1.5M153.5 276.5h1.5M83 323.5h1.5M103 307.5h1.5M146.5 279.5h1.5M100 325h1.5M123.5 320h1.5M71.5 318h1.5M68 304.5h1.5M168.5 297h1.5M109.5 321.5h1.5M119 311h1.5M121.5 319.5h1.5M112.5 316h1.5M168.5 306h1.5M74.5 315.5h1.5M172 284h1.5M119 300.5h1.5M59 310.5h1.5M68 307h1.5M93 355.5h1.5M156 267h1.5M123 315h1.5M136.5 294h1.5M96 349.5h1.5M176 295.5h1.5M144 282.5h1.5M128.5 300h1.5M117 310h1.5M152.5 275h1.5M93 364.5h1.5M94.5 361.5h1.5M84 321.5h1.5M52.5 297h1.5M51 290h1.5M173.5 299h1.5M138.5 289h1.5M64.5 315h1.5M157 261h1.5M81 319h1.5M134.5 297h1.5M69 304h1.5M75.5 309h1.5M70.5 310.5h1.5M172.5 291h1.5M74 314h1.5M166.5 273.5h1.5M169.5 277h1.5M107 320.5h1.5M101.5 319.5h1.5M129 305h1.5M147.5 273h1.5M54 304.5h1.5M81 323.5h1.5M166.5 291.5h1.5M170.5 303h1.5M128.5 295h1.5M88.5 345h1.5M122.5 305h1.5M123.5 309.5h1.5M164 281.5h1.5M147.5 274.5h1.5M78.5 326h1.5M97.5 341h1.5M115 304h1.5M149 281.5h1.5M121 308.5h1.5M62 304h1.5M115 326h1.5M89 337.5h1.5M153.5 266h1.5M143.5 272h1.5M136.5 295.5h1.5M76 320.5h1.5M116.5 316h1.5M136.5 311.5h1.5M160.5 265.5h1.5M148.5 281.5h1.5M173 288h1.5M158 265.5h1.5M92.5 353h1.5M94.5 359h1.5M115.5 303.5h1.5M55 303.5h1.5M74 311h1.5M72.5 316h1.5M150.5 267.5h1.5M137 293h1.5M175 300.5h1.5M144 272.5h1.5M101 332.5h1.5M98.5 334h1.5M57.5 304h1.5M87.5 335.5h1.5M75.5 306h1.5M172.5 305h1.5M141 274h1.5M137.5 286.5h1.5M141 282.5h1.5M103 329h1.5M67.5 310h1.5M54.5 302h1.5M100.5 333h1.5M156 274h1.5M100 331h1.5M163.5 287.5h1.5M143.5 286.5h1.5M78.5 312.5h1.5M162 270h1.5M103.5 320h1.5M78.5 308.5h1.5M61.5 305.5h1.5M170 289.5h1.5M57 314h1.5M176.5 298h1.5M60.5 308h1.5M157.5 317.5h1.5M102.5 311h1.5M178.5 306h1.5M176.5 248h1.5M157 262h1.5M168.5 287.5h1.5M88 353.5h1.5M86.5 328h1.5M68.5 307h1.5M73 309.5h1.5M83 331.5h1.5M71 308h1.5M57.5 318.5h1.5M133 302h1.5M136.5 290h1.5M131.5 299h1.5M132.5 304.5h1.5M137 257.5h1.5M96.5 348.5h1.5M66 305.5h1.5M53.5 305h1.5M178 302h1.5M173 301.5h1.5M164.5 282.5h1.5M87 333h1.5M82 323h1.5M65.5 311.5h1.5M164 281h1.5M165 274.5h1.5M108 324.5h1.5M110.5 315h1.5M87.5 315h1.5M64 302.5h1.5M95.5 360.5h1.5M175 287.5h1.5M145 294.5h1.5M162 280h1.5M54.5 293h1.5M111 313h1.5M150.5 282h1.5M109 315h1.5M85.5 332h1.5M69 320.5h1.5M100 326h1.5M171 280h1.5M87.5 331h1.5M57 304.5h1.5M164 286h1.5M126.5 311.5h1.5M76 300.5h1.5M107 321h1.5M101 327.5h1.5M119 306.5h1.5M90.5 350.5h1.5M159 270h1.5M108 325.5h1.5M57 304h1.5M98 343.5h1.5M101 349.5h1.5M111 299h1.5M93.5 356h1.5M100.5 337.5h1.5M110 322h1.5M71 302h1.5M147.5 282h1.5M129.5 307.5h1.5M164 287h1.5M166.5 272.5h1.5M137 322.5h1.5M156.5 252h1.5M77.5 307.5h1.5M82 311h1.5M165.5 275h1.5M60.5 313.5h1.5M55.5 304.5h1.5M127 305h1.5M130 305h1.5M117 320h1.5M169 294.5h1.5M164 250h1.5M77.5 316.5h1.5M61 304.5h1.5M57 309h1.5M159.5 278.5h1.5M121.5 291.5h1.5M140.5 277.5h1.5M171 305h1.5M94 350.5h1.5M175 305.5h1.5M116.5 318h1.5M153.5 284.5h1.5M157 247.5h1.5M112 299h1.5M80 312.5h1.5M101.5 321h1.5M144 292h1.5M140 288h1.5M87.5 334h1.5M153 235.5h1.5M80 320.5h1.5M113 316.5h1.5M175.5 292h1.5M98 345h1.5M161 271h1.5M86.5 329.5h1.5M175.5 296h1.5M51 289.5h1.5M112 319h1.5M172 280h1.5M156 276.5h1.5M52.5 294.5h1.5M111.5 299h1.5M163 287h1.5M151.5 267.5h1.5M123.5 301.5h1.5M106 311.5h1.5M126.5 297.5h1.5M72 310h1.5M102.5 327.5h1.5M70.5 314h1.5M175 287h1.5M156.5 314.5h1.5M163 282.5h1.5M76.5 310.5h1.5M122 301.5h1.5M64 321h1.5M128.5 297.5h1.5M111.5 320.5h1.5M69 307.5h1.5M82 316.5h1.5M55 294.5h1.5M165.5 287h1.5M86 338.5h1.5M150.5 299h1.5M91 353.5h1.5M76 313.5h1.5M92 356.5h1.5M106.5 322.5h1.5M73 319h1.5M115 292.5h1.5M142.5 272h1.5M89 343.5h1.5M92 346.5h1.5M75 310.5h1.5M111 318h1.5M114 318h1.5M125.5 314h1.5M140 296.5h1.5M69 310.5h1.5M90 345h1.5M82 330h1.5M78.5 297h1.5M77.5 306h1.5M63 306.5h1.5M170.5 302.5h1.5M52 312h1.5M122.5 317.5h1.5M172 294h1.5M84 327h1.5M155 252.5h1.5M101 329.5h1.5M76 313.5h1.5M175 293.5h1.5M120.5 316h1.5M101.5 335.5h1.5M138.5 299.5h1.5M91 353.5h1.5M81.5 323.5h1.5M119.5 319h1.5M104.5 317h1.5M73.5 317.5h1.5M99.5 335.5h1.5M85 344h1.5M102.5 308.5h1.5M146.5 276.5h1.5M64 305h1.5M149.5 273h1.5M174 295h1.5M138.5 303h1.5M136 285h1.5M128.5 296h1.5M98.5 342.5h1.5M121 315h1.5M143.5 302.5h1.5M98.5 343.5h1.5M150 275.5h1.5M159 258h1.5M86 332h1.5M154 267.5h1.5M86 327h1.5M80 319.5h1.5M176 291h1.5M121.5 302h1.5M136 288.5h1.5M153.5 279h1.5M164.5 285h1.5M99.5 345h1.5M141 288h1.5M68.5 329h1.5M108 312h1.5M51.5 301h1.5M143 281.5h1.5M62 308.5h1.5M96.5 348h1.5M73 324h1.5M165.5 284.5h1.5M133.5 296h1.5M168.5 278h1.5M62 311h1.5M143 286h1.5M89 338.5h1.5M171 285.5h1.5M68 313.5h1.5M141 274.5h1.5M151 261h1.5M150 270h1.5M141 291h1.5M81.5 315h1.5M111.5 295.5h1.5M145 281h1.5M87.5 330h1.5M152 271h1.5M107 323.5h1.5M97 349h1.5M160 258h1.5M105.5 317.5h1.5M120 303.5h1.5M138 295h1.5M155.5 274h1.5M60.5 315h1.5M101 331h1.5M82.5 322.5h1.5M85 331h1.5M69.5 287h1.5M157.5 260h1.5M83.5 336.5h1.5M78.5 324h1.5M118.5 300h1.5M170 281h1.5M55 273.5h1.5M78 326h1.5M154 281.5h1.5M99.5 332.5h1.5M163 288.5h1.5M70 307.5h1.5M76.5 319h1.5M154.5 262.5h1.5M90 338.5h1.5M55.5 297h1.5M87 326h1.5M154.5 259h1.5M169.5 270.5h1.5M109.5 313.5h1.5M84.5 326.5h1.5M156.5 269.5h1.5M130 299.5h1.5M143.5 278h1.5M157 273.5h1.5M171 298h1.5M74.5 306h1.5M170.5 292h1.5M131.5 293h1.5M167.5 277.5h1.5M79.5 324h1.5M63.5 301.5h1.5M75.5 314h1.5M173 295h1.5M124 309h1.5M144 288.5h1.5M64 309h1.5M62.5 308h1.5M102 319.5h1.5M56 295.5h1.5M101.5 320h1.5M72 312h1.5M109 311.5h1.5M107 313.5h1.5M131 283.5h1.5M108.5 311h1.5M173.5 283.5h1.5M102 328.5h1.5M136 291.5h1.5M110 307.5h1.5M70 306.5h1.5M177 297h1.5M83.5 324h1.5M158 262h1.5M118.5 309h1.5M53.5 297.5h1.5M104 328.5h1.5M66.5 297.5h1.5M82 323h1.5M125.5 293.5h1.5M136 300h1.5M135.5 289.5h1.5M169.5 291h1.5M128 305h1.5M63.5 294h1.5M143 294h1.5M130.5 301h1.5M164 269h1.5M75 308h1.5M106 317.5h1.5M155.5 277h1.5M97 352.5h1.5M54.5 304h1.5M174 274h1.5M88 330.5h1.5M162 286h1.5M109 309.5h1.5M154 269.5h1.5M54 303h1.5M96 356h1.5M125 304h1.5M78.5 315h1.5M106.5 319h1.5M165.5 283.5h1.5M110.5 316.5h1.5M123.5 306h1.5M71.5 322h1.5M159 262.5h1.5M69 317.5h1.5M169 285.5h1.5M51.5 297h1.5M152 263h1.5M130 304h1.5M170.5 295.5h1.5M176.5 296.5h1.5M143.5 283h1.5M176 297h1.5M162 256h1.5M71.5 289h1.5M145 279h1.5M161 280h1.5M140.5 282.5h1.5" stroke="#21a246" stroke-width="1.5" fill="none"/>
<path d="M51.5 301.3h0M52.7 301.4h0M54.0 302.7h0M55.2 302.5h0M56.5 302.6h0M57.7 303.7h0M59.0 305.6h0M60.2 307.2h0M61.5 307.7h0M62.7 308.8h0M64.0 309.6h0M65.2 310.0h0M66.4 310.0h0M67.7 311.4h0M68.9 312.2h0M70.2 311.8h0M71.4 311.8h0M72.7 312.9h0M73.9 312.5h0M75.2 313.9h0M76.4 315.5h0M77.6 316.2h0M78.9 317.0h0M80.1 318.4h0M81.4 320.7h0M82.6 322.9h0M83.9 325.1h0M85.1 327.7h0M86.4 331.9h0M87.6 335.7h0M88.9 340.9h0M90.1 344.9h0M91.3 349.3h0M92.6 354.2h0M93.8 359.2h0M95.1 357.0h0M96.3 351.6h0M97.6 345.8h0M98.8 339.5h0M100.1 334.0h0M101.3 326.1h0M102.5 323.5h0M103.8 318.8h0M105.0 318.5h0M106.3 316.8h0M107.5 315.8h0M108.8 314.7h0M110.0 314.0h0M111.3 313.5h0M112.5 312.2h0M113.8 313.2h0M115.0 311.8h0M116.2 312.4h0M117.5 312.0h0M118.7 309.7h0M120.0 308.9h0M121.2 308.0h0M122.5 308.3h0M123.7 307.4h0M125.0 306.2h0M126.2 305.4h0M127.5 303.4h0M128.7 302.2h0M129.9 300.3h0M131.2 299.2h0M132.4 296.3h0M133.7 295.2h0M134.9 294.2h0M136.2 293.0h0M137.4 291.1h0M138.7 289.7h0M139.9 287.8h0M141.1 286.1h0M142.4 284.2h0M143.6 282.7h0M144.9 280.8h0M146.1 279.1h0M147.4 278.1h0M148.6 276.6h0M149.9 275.0h0M151.1 273.7h0M152.4 272.4h0M153.6 270.9h0M154.8 268.8h0M156.1 266.2h0M157.3 266.8h0M158.6 269.1h0M159.8 272.1h0M161.1 274.2h0M162.3 276.9h0M163.6 279.5h0M164.8 280.9h0M166.0 282.7h0M167.3 284.3h0M168.5 287.2h0M169.8 288.5h0M171.0 291.1h0M172.3 292.2h0M173.5 293.1h0M174.8 294.2h0M176.0 293.7h0M177.3 295.7h0M178.5 296.1h0" stroke="#000" stroke-width="3.9" fill="none" stroke-linecap="round"/>
<text x="55.6" y="239.0" font-size="13.6" text-anchor="start" font-weight="bold" font-style="italic" >recBC</text>
<text x="49.0" y="227.5" font-size="8.3" text-anchor="end" font-weight="normal" font-style="normal" >1.6</text>
<text x="49.0" y="250.8" font-size="8.3" text-anchor="end" font-weight="normal" font-style="normal" >1.4</text>
<text x="49.0" y="274.2" font-size="8.3" text-anchor="end" font-weight="normal" font-style="normal" >1.2</text>
<text x="49.0" y="297.5" font-size="8.3" text-anchor="end" font-weight="normal" font-style="normal" >1.0</text>
<text x="49.0" y="320.9" font-size="8.3" text-anchor="end" font-weight="normal" font-style="normal" >0.8</text>
<text x="49.0" y="344.2" font-size="8.3" text-anchor="end" font-weight="normal" font-style="normal" >0.6</text>
<text x="49.0" y="367.6" font-size="8.3" text-anchor="end" font-weight="normal" font-style="normal" >0.4</text>
</g>
<text x="11.6" y="236.9" font-size="17.2" text-anchor="start" font-weight="normal" font-style="normal" >C)</text>
<text x="0" y="0" font-size="9.05" text-anchor="middle" font-weight="normal" font-style="normal" transform="translate(30.6 293.8) rotate(-90)">relative copy number</text>
<g id="plotC2">
<path d="M211.0 223.0H341.3M211.0 243.5H341.3M211.0 263.9H341.3M211.0 284.4H341.3M211.0 304.9H341.3M211.0 325.4H341.3M211.0 345.8H341.3M211.0 366.3H341.3M266.6 223.0V366.3M322.8 223.0V366.3M211.0 223.0V366.3" stroke="#d9d9d9" stroke-width="0.9" fill="none"/>
<path d="M252.5 320h1.5M338 301h1.5M298.5 294.5h1.5M223 309.5h1.5M227 316.5h1.5M335 314h1.5M234 319h1.5M291 300h1.5M336.5 303h1.5M258.5 318h1.5M260.5 310h1.5M294 307.5h1.5M217.5 310.5h1.5M243 328.5h1.5M235.5 313.5h1.5M289 304h1.5M312 277.5h1.5M267 310h1.5M323 294.5h1.5M236 309.5h1.5M232.5 328.5h1.5M291 306.5h1.5M321.5 284.5h1.5M320 291.5h1.5M227 306.5h1.5M218.5 304h1.5M220.5 325h1.5M319 271h1.5M310 289.5h1.5M311.5 282.5h1.5M305 301h1.5M270.5 317h1.5M281 305.5h1.5M285 312.5h1.5M213.5 299.5h1.5M217.5 304.5h1.5M241 327.5h1.5M297 299.5h1.5M217.5 293.5h1.5M312.5 283.5h1.5M300.5 294.5h1.5M235.5 321.5h1.5M309.5 307.5h1.5M289 305.5h1.5M298.5 305.5h1.5M301.5 296.5h1.5M232 309h1.5M224.5 318.5h1.5M330.5 299.5h1.5M276 314.5h1.5M314 271.5h1.5M323 282h1.5M322 295.5h1.5M295.5 285h1.5M281.5 319h1.5M300.5 289.5h1.5M218.5 315.5h1.5M293.5 304h1.5M254 321.5h1.5M312 291.5h1.5M216 303.5h1.5M330.5 303.5h1.5M284 307.5h1.5M263 318.5h1.5M276 316.5h1.5M291 301h1.5M310.5 277.5h1.5M324.5 279h1.5M248.5 319.5h1.5M293 293h1.5M269 303.5h1.5M252 319.5h1.5M285.5 308.5h1.5M306.5 288h1.5M278 306h1.5M221.5 301.5h1.5M235 320.5h1.5M249.5 320.5h1.5M280.5 328.5h1.5M229.5 320h1.5M333.5 295h1.5M292 296h1.5M227 314h1.5M285 311.5h1.5M263 309h1.5M219.5 311.5h1.5M229.5 307.5h1.5M304.5 280.5h1.5M338 303h1.5M248 317.5h1.5M248.5 313.5h1.5M298.5 301h1.5M255 292h1.5M272.5 307h1.5M326.5 294h1.5M315.5 280h1.5M281.5 304.5h1.5M271 304.5h1.5M311.5 281.5h1.5M322 276.5h1.5M258.5 330.5h1.5M292.5 298.5h1.5M308 292h1.5M242 350h1.5M264 320h1.5M236.5 327h1.5M277 302.5h1.5M264.5 320.5h1.5M289.5 304.5h1.5M302.5 301h1.5M234.5 301.5h1.5M245.5 322h1.5M271 313.5h1.5M277 312.5h1.5M231 310.5h1.5M258.5 312.5h1.5M230 308.5h1.5M292 305h1.5M245.5 322.5h1.5M282.5 305h1.5M300.5 309h1.5M246 332h1.5M332 296h1.5M310.5 269h1.5M270.5 326.5h1.5M286 298.5h1.5M285 302h1.5M259 315.5h1.5M256 317.5h1.5M277 310.5h1.5M286 322.5h1.5M219 302h1.5M322 284h1.5M288 299.5h1.5M235 329h1.5M302.5 297h1.5M274 315h1.5M247.5 325h1.5M306.5 295.5h1.5M289 295h1.5M262 318.5h1.5M320.5 304h1.5M310.5 281h1.5M329 291h1.5M305.5 283.5h1.5M260.5 314h1.5M246 336.5h1.5M313 277.5h1.5M322.5 276h1.5M241 317h1.5M279 307.5h1.5M262.5 320.5h1.5M331 296h1.5M313.5 266.5h1.5M234 313.5h1.5M264.5 313.5h1.5M256 311.5h1.5M247.5 331h1.5M224 323.5h1.5M296.5 303.5h1.5M288.5 304h1.5M309 276.5h1.5M314 278.5h1.5M266.5 310.5h1.5M218 299h1.5M306 297.5h1.5M284.5 309h1.5M286 309.5h1.5M267 311h1.5M317 273h1.5M299 307.5h1.5M314 268h1.5M331 287h1.5M313.5 286.5h1.5M275 316.5h1.5M292.5 307h1.5M234.5 316h1.5M328 292.5h1.5M263 314h1.5M304 291.5h1.5M249.5 320h1.5M249.5 323.5h1.5M336.5 298h1.5M318.5 277.5h1.5M240 319.5h1.5M299.5 301h1.5M216.5 303h1.5M267.5 307h1.5M309.5 286.5h1.5M336.5 306h1.5M239 321.5h1.5M329.5 301.5h1.5M326.5 283h1.5M301.5 297.5h1.5M315 272h1.5M219 297.5h1.5M327 293.5h1.5M286 311h1.5M268.5 311.5h1.5M237 322.5h1.5M266 314.5h1.5M236.5 314h1.5M274 313h1.5M274 324.5h1.5M256.5 306h1.5M211.5 296h1.5M306 289h1.5M236.5 313.5h1.5M266.5 320.5h1.5M249 317h1.5M295 309.5h1.5M291 305.5h1.5M323.5 292.5h1.5M212.5 303h1.5M236.5 318h1.5M314.5 282.5h1.5M236 309h1.5M309.5 285.5h1.5M267 307.5h1.5M254 305.5h1.5M243 329.5h1.5M305 294h1.5M257.5 310.5h1.5M260.5 317h1.5M289.5 308.5h1.5M288 299h1.5M216.5 302h1.5M303.5 284h1.5M262 314.5h1.5M320.5 278.5h1.5M328.5 287h1.5M254 317.5h1.5M262 312.5h1.5M219.5 311h1.5M295 302h1.5M332.5 315.5h1.5M334 295h1.5M218 297h1.5M273.5 309h1.5M282 316h1.5M254.5 322h1.5M273.5 304.5h1.5M256 330.5h1.5M311 281h1.5M212.5 308.5h1.5M329.5 295h1.5M231.5 317.5h1.5M295.5 299.5h1.5M235.5 312h1.5M224.5 306h1.5M276 292.5h1.5M333 310h1.5M314.5 278h1.5M227 317.5h1.5M215 309h1.5M216.5 303.5h1.5M311.5 282.5h1.5M214.5 302h1.5M335.5 298h1.5M325.5 292h1.5M254 316.5h1.5M325 289.5h1.5M258.5 320.5h1.5M302.5 296.5h1.5M235 339h1.5M324.5 288h1.5M263.5 319h1.5M247.5 329.5h1.5M259.5 346.5h1.5M309 279h1.5M250 321.5h1.5M321 275h1.5M224.5 323.5h1.5M238.5 316.5h1.5M313.5 281h1.5M309.5 277.5h1.5M253.5 310h1.5M301 307.5h1.5M299.5 299.5h1.5M259 321h1.5M231.5 328h1.5M330.5 302h1.5M236.5 325.5h1.5M290.5 310h1.5M213.5 306.5h1.5M308.5 291.5h1.5M312 260h1.5M287.5 305.5h1.5M228 308.5h1.5M234.5 302.5h1.5M292.5 302.5h1.5M215.5 298h1.5M281.5 295h1.5M254 317.5h1.5M312 272.5h1.5M267 306.5h1.5M268 301h1.5M231 319h1.5M247 327h1.5M321.5 281.5h1.5M225 318.5h1.5M260 322h1.5M237 322.5h1.5M327.5 296h1.5M324 293h1.5M220 312.5h1.5M259 316h1.5M237 322h1.5M330.5 295.5h1.5M248 339h1.5M261 317h1.5M308.5 283.5h1.5M223 314.5h1.5M269 320.5h1.5M332 308h1.5M324.5 300.5h1.5M273 295.5h1.5M292 300h1.5M327.5 289h1.5M317.5 279.5h1.5M331 295.5h1.5M308 297h1.5M295 301h1.5M245.5 319.5h1.5M252 310.5h1.5M306.5 290.5h1.5M315 264h1.5M332.5 290.5h1.5M301 295h1.5M287 307h1.5M302 293h1.5M336.5 311h1.5M242.5 329.5h1.5M231 310.5h1.5M226 320h1.5M218 320h1.5M310 277.5h1.5M274 295.5h1.5M279.5 305.5h1.5M212 308.5h1.5M335.5 308h1.5M329 292h1.5M279 334.5h1.5M218 310h1.5M281 307.5h1.5M234.5 321.5h1.5M268 313.5h1.5M216 306.5h1.5M304 287h1.5M239 323.5h1.5M239.5 313h1.5M301 300.5h1.5M218.5 304.5h1.5M330 297h1.5M292 292.5h1.5M223.5 323h1.5M312.5 272.5h1.5M318 280h1.5M291 304h1.5M322 269.5h1.5M242.5 309h1.5M296.5 309h1.5M314.5 277.5h1.5M243.5 331.5h1.5M275.5 314h1.5M217 312h1.5M321 280.5h1.5M306.5 296h1.5M282.5 319h1.5M333 304h1.5M292 295.5h1.5M230.5 311h1.5M246.5 313h1.5M231 320h1.5M290.5 301h1.5M242.5 321h1.5M241.5 320.5h1.5M319.5 273.5h1.5M322 287h1.5M309.5 286.5h1.5M242 322.5h1.5M311 276.5h1.5M223 318.5h1.5M223 304.5h1.5M330.5 291.5h1.5M287.5 310h1.5M242 320.5h1.5M239 321.5h1.5M226 303h1.5M289 297.5h1.5M336.5 304h1.5M265.5 310h1.5M243 322h1.5M326 295.5h1.5M246.5 310.5h1.5M302.5 302h1.5M233 322.5h1.5M278.5 306h1.5M328 292.5h1.5M243 319.5h1.5M231.5 311h1.5M228 314.5h1.5M277.5 302.5h1.5M278 309.5h1.5M333.5 293.5h1.5M263.5 325.5h1.5M291.5 304h1.5M331 290.5h1.5M282 304h1.5M234 302.5h1.5M297.5 305h1.5M245.5 322h1.5M237 322.5h1.5M231.5 307h1.5M240.5 326.5h1.5M311.5 286h1.5M318.5 287.5h1.5M269.5 308h1.5M227.5 315h1.5M308.5 278h1.5M251.5 310h1.5M211.5 304.5h1.5M252 319h1.5M271.5 306.5h1.5M217 318.5h1.5M227.5 319h1.5M323 278h1.5M213 303h1.5M286.5 309h1.5M302.5 292h1.5M285 315h1.5M270 321h1.5M261 323.5h1.5M277.5 309h1.5M258 320h1.5M327.5 299h1.5M237.5 336h1.5M338.5 301.5h1.5M225.5 310h1.5M285.5 298h1.5M294.5 298.5h1.5M244 320.5h1.5M281 306.5h1.5M214 310.5h1.5M329 288h1.5M226 316h1.5M329 296h1.5M219.5 313h1.5M271.5 307.5h1.5M288.5 295.5h1.5M213 303.5h1.5M264.5 302h1.5M310 278h1.5M330 291h1.5M320.5 283h1.5M245.5 330.5h1.5M269 313.5h1.5M221.5 308h1.5M233.5 314h1.5M290 316h1.5M291.5 302.5h1.5M213.5 305h1.5M247.5 325.5h1.5M331 296.5h1.5M248.5 314h1.5M326.5 290.5h1.5M307 293h1.5M291.5 305h1.5M309 274h1.5M237.5 318h1.5M300 293h1.5M255 303h1.5M292 308h1.5M261 310h1.5M254 315.5h1.5M292.5 310.5h1.5M295 294.5h1.5M331 311h1.5M233.5 296.5h1.5M324 279h1.5M219.5 314.5h1.5M320.5 281.5h1.5M303.5 290.5h1.5M238.5 324.5h1.5M259 312h1.5M246.5 327.5h1.5M224.5 312h1.5M239 320h1.5M312 275h1.5M273.5 311.5h1.5M319 270h1.5M307.5 290.5h1.5M247 325.5h1.5M222 308.5h1.5M223 307.5h1.5M251.5 315h1.5M298 303h1.5M250.5 324h1.5M327 290h1.5M321 280h1.5M270.5 319h1.5M324 285h1.5M230 316.5h1.5M328.5 297h1.5M304.5 276h1.5M299.5 293h1.5M223.5 321.5h1.5M336 303h1.5M319.5 276h1.5M244.5 331h1.5M264 321h1.5M261.5 310h1.5M332.5 295h1.5M250 323.5h1.5M247 316h1.5M322 290.5h1.5M337 289.5h1.5M252 318h1.5M268.5 323.5h1.5M328.5 293.5h1.5M322 274h1.5M326.5 287.5h1.5M310.5 285.5h1.5M222.5 309.5h1.5M326.5 300h1.5M308.5 285.5h1.5M279 299h1.5M331 298.5h1.5M324.5 280h1.5M328 297h1.5M234.5 322.5h1.5M318 269.5h1.5M215 313.5h1.5M309 286h1.5M332 297h1.5M218 308.5h1.5M315 273.5h1.5M318 265h1.5M215 310.5h1.5M224 311.5h1.5M250.5 325.5h1.5M323 286h1.5M280 307h1.5M217.5 311h1.5M215.5 311h1.5M289 289h1.5M325 283h1.5M266.5 314h1.5M290.5 307h1.5M229 309h1.5M287.5 309h1.5M241.5 320h1.5M216.5 303h1.5M251.5 324.5h1.5M334.5 311h1.5M324.5 278.5h1.5M311 279h1.5M221.5 310.5h1.5M308.5 286.5h1.5M225 318h1.5M272.5 314h1.5M216 303h1.5M282 307.5h1.5M226.5 325h1.5M325 292.5h1.5M274.5 307h1.5M220.5 299.5h1.5M283 301.5h1.5M320.5 283.5h1.5M301 299.5h1.5M215.5 318.5h1.5M244 338.5h1.5M241 313h1.5M338.5 305.5h1.5M223.5 309.5h1.5M339 308.5h1.5M294 309.5h1.5M223 305.5h1.5M264.5 320.5h1.5M269.5 315h1.5M309.5 293.5h1.5M280.5 298h1.5M335.5 292h1.5M289 304.5h1.5M284 306h1.5M253 325.5h1.5M322.5 288h1.5M331.5 301h1.5M293.5 303.5h1.5M278 308.5h1.5M304 282.5h1.5M229 311.5h1.5M285.5 305h1.5M244.5 321.5h1.5M246.5 330h1.5M224.5 308h1.5M224 313h1.5M304.5 287.5h1.5M337 308.5h1.5M249.5 321h1.5M232 314.5h1.5M325.5 288.5h1.5M335.5 305.5h1.5M284.5 300.5h1.5M266.5 304h1.5M283 303.5h1.5M241 324h1.5M254.5 316.5h1.5M309.5 283.5h1.5M218 316.5h1.5M220.5 309h1.5M250 324.5h1.5M224 317.5h1.5M314.5 269h1.5M282.5 302.5h1.5M263.5 314.5h1.5M303.5 292h1.5M256.5 305h1.5M336 300.5h1.5M337.5 307.5h1.5M287 307h1.5M286 286.5h1.5M259 321h1.5M315 279h1.5M320 279.5h1.5M247.5 323.5h1.5M265 327h1.5M317.5 274h1.5M296 293h1.5M334 295.5h1.5M253 324.5h1.5M254 324h1.5M309 278.5h1.5M231 318.5h1.5M262.5 304h1.5M254.5 315.5h1.5M213 313.5h1.5M307.5 276h1.5M271 315h1.5M297 295h1.5M276 307h1.5M299 301.5h1.5M335.5 298.5h1.5M234.5 314h1.5M321 285h1.5M213 312.5h1.5M288 299h1.5M319 281.5h1.5M301.5 289h1.5M314.5 274.5h1.5M240.5 318.5h1.5M324 271.5h1.5M296 292h1.5M243 329h1.5M228 314h1.5M239.5 323h1.5M297.5 292h1.5M267.5 321.5h1.5M293.5 313.5h1.5M274.5 305h1.5M225.5 310h1.5M224 309.5h1.5M331 306.5h1.5M276.5 311h1.5M329 296h1.5M297.5 298h1.5M237.5 327h1.5M294.5 304h1.5M226.5 307.5h1.5M246.5 322h1.5M275.5 309.5h1.5M318 275.5h1.5M322.5 286.5h1.5M224.5 313h1.5M324 286h1.5M252.5 316h1.5M233.5 317h1.5M242 329.5h1.5M311 276h1.5M232.5 317.5h1.5M237.5 317h1.5M321 273h1.5M332.5 295.5h1.5M244 315h1.5M277.5 317.5h1.5M259 325h1.5M321 280h1.5M224.5 308.5h1.5M220.5 310h1.5M259 319h1.5M261 302h1.5M297.5 304h1.5M236.5 311h1.5M317.5 277.5h1.5M214.5 307h1.5M242.5 316h1.5M326.5 293h1.5M277.5 307.5h1.5M213.5 305.5h1.5M254.5 306.5h1.5M249.5 322h1.5M233.5 324h1.5M251 326.5h1.5M327.5 296.5h1.5M289.5 315h1.5M214 308h1.5M306 278.5h1.5M230 314.5h1.5M239 319h1.5M301.5 302.5h1.5M295.5 295.5h1.5M241 312.5h1.5M277 316.5h1.5M290.5 305.5h1.5M278.5 319h1.5M241.5 323h1.5M211.5 306h1.5M221 308h1.5M263 310h1.5M242.5 301.5h1.5M250.5 314h1.5M216.5 311h1.5M297.5 302.5h1.5M262 318h1.5M294 298h1.5M264.5 312.5h1.5M256.5 311h1.5M293 308h1.5M287.5 296h1.5M322 289.5h1.5M230 317.5h1.5M256.5 321h1.5M329 303.5h1.5M259.5 316.5h1.5M325.5 290h1.5M246 329.5h1.5M293.5 296h1.5M299.5 297h1.5M254 321h1.5M261 312.5h1.5M308 286.5h1.5M265 313.5h1.5M294 320.5h1.5M335 301.5h1.5M253.5 314.5h1.5M256 310.5h1.5M295.5 302.5h1.5M314 265.5h1.5M335 305.5h1.5M334 295h1.5M216 309h1.5M318 273h1.5M296 313.5h1.5M218 303h1.5M277.5 305h1.5M234 310.5h1.5M316.5 275h1.5M295 306h1.5M264 308.5h1.5M272 316h1.5M242.5 334h1.5M334.5 296h1.5M231.5 325.5h1.5M317.5 275h1.5M336 294.5h1.5M219.5 299.5h1.5M222.5 321h1.5M225.5 311h1.5M237.5 309.5h1.5M233 320.5h1.5M286 302.5h1.5M270.5 308h1.5M282 310.5h1.5M216.5 303.5h1.5M275.5 306h1.5M229 308h1.5M262.5 307h1.5M278.5 316h1.5M266 309h1.5M268 319.5h1.5M338 313.5h1.5M337.5 308h1.5M256.5 317h1.5M326.5 295.5h1.5M251 315h1.5M233 319.5h1.5M269 315.5h1.5M308.5 288h1.5M262 324h1.5M234.5 311h1.5M277 301h1.5M284.5 305h1.5M274.5 293h1.5M290 303h1.5M308.5 280h1.5M334 295.5h1.5M256.5 317.5h1.5M243.5 321h1.5M297 300.5h1.5M251 314h1.5M281 308h1.5M227 319.5h1.5M331.5 299.5h1.5M336 303.5h1.5M313.5 279.5h1.5M238.5 320.5h1.5M296.5 307h1.5M271.5 315h1.5M299 294h1.5M275 307h1.5M299.5 286h1.5M257 311.5h1.5M296.5 290.5h1.5M225 307h1.5M325 290h1.5M313.5 276h1.5M333.5 296h1.5M236 322.5h1.5M260 322.5h1.5M328 302.5h1.5M323.5 282h1.5M220 300h1.5M276 303h1.5M283.5 329.5h1.5M310 276.5h1.5M242.5 326h1.5M221 308h1.5M318.5 285h1.5M298.5 302h1.5M233 326.5h1.5M277.5 307h1.5M240.5 321.5h1.5M292.5 295h1.5M334.5 301.5h1.5M335 298h1.5M292.5 301.5h1.5M213.5 310h1.5M311.5 278.5h1.5M266.5 306h1.5M302.5 289.5h1.5M304.5 282h1.5M299.5 287h1.5M218.5 312h1.5M215 294.5h1.5M328.5 302.5h1.5M288 299.5h1.5M224.5 314.5h1.5M302 297h1.5M267.5 305.5h1.5M247 330h1.5M311 275.5h1.5M319.5 282.5h1.5M252.5 315h1.5M272.5 306h1.5M304 303.5h1.5M314 276h1.5M324 275.5h1.5M217.5 306h1.5M284.5 297h1.5M254.5 318h1.5M219 318h1.5M227.5 315h1.5M306 278h1.5M280 309.5h1.5M233.5 323.5h1.5M218.5 297h1.5M233 314h1.5M295.5 306h1.5M259.5 322h1.5M285 289h1.5M276 309h1.5M329 295h1.5M216.5 304h1.5M216.5 312.5h1.5M296 291.5h1.5M260 322.5h1.5M220 314.5h1.5M221 311h1.5M338.5 310.5h1.5M306 279.5h1.5M324 291.5h1.5M255 321.5h1.5M277.5 311.5h1.5M217.5 308h1.5M294 297h1.5M239.5 321.5h1.5M259 317.5h1.5M218.5 316h1.5M283.5 306h1.5M332.5 299h1.5M285 300.5h1.5M232 313h1.5M234.5 317h1.5M321 276h1.5M267 316h1.5M298 290h1.5M321.5 263.5h1.5M271.5 307h1.5M309.5 284.5h1.5M286 302h1.5M225 309h1.5M212 307h1.5M304.5 301h1.5M319 274.5h1.5M311 287h1.5M223 316.5h1.5M322.5 281.5h1.5M216.5 306h1.5M325 269.5h1.5M251.5 322h1.5M237.5 311h1.5M269.5 309h1.5M244 318.5h1.5M279 306.5h1.5M272.5 304.5h1.5M231 319h1.5M311.5 272.5h1.5M263.5 316h1.5M314 268.5h1.5M274.5 315.5h1.5M243 324h1.5M326.5 291h1.5M292 290.5h1.5M309.5 289h1.5M250 322.5h1.5M212.5 304.5h1.5M258 318h1.5M337.5 309h1.5M335 293h1.5M264.5 316h1.5M338 306h1.5M225.5 306h1.5M309 280h1.5M239 329h1.5M312.5 287h1.5M304.5 299h1.5M226.5 320h1.5M291.5 303.5h1.5M321.5 274.5h1.5M318 287.5h1.5M229.5 312.5h1.5M305 285.5h1.5M275 315h1.5M323.5 293h1.5M264.5 320.5h1.5M289.5 290.5h1.5M225 309h1.5M236 330h1.5M258.5 332h1.5M328.5 299h1.5M212.5 308.5h1.5M282.5 306h1.5M320 275.5h1.5M303.5 291h1.5M272.5 319h1.5M251 305h1.5M297.5 294.5h1.5M240 317h1.5M270.5 312h1.5M251.5 322h1.5M277 307.5h1.5M325.5 304.5h1.5M313 269.5h1.5M292.5 303.5h1.5M297.5 292.5h1.5M252.5 314h1.5M260 313.5h1.5M240.5 323.5h1.5M222.5 308.5h1.5M266 308.5h1.5M242.5 319h1.5M270 307h1.5M332.5 285.5h1.5M233 322h1.5M211.5 299h1.5M257 312.5h1.5M288 312.5h1.5M221 305h1.5M270 302.5h1.5M237.5 315h1.5M322 282.5h1.5M318 281h1.5M267 312h1.5M292 305h1.5M259 326h1.5M274 317h1.5M220.5 307h1.5M242 319h1.5M249 337.5h1.5M277.5 321.5h1.5M283 290.5h1.5M239.5 322h1.5M241.5 323.5h1.5M213.5 315h1.5M231 323.5h1.5M274.5 314.5h1.5M322 289h1.5M258.5 321h1.5M277.5 313h1.5M251.5 314h1.5M251 314h1.5M320 283.5h1.5M292.5 300.5h1.5M228 316h1.5M214 301.5h1.5M244 326.5h1.5M302 298h1.5M244.5 322.5h1.5M229.5 305h1.5M303.5 286.5h1.5M332.5 290h1.5M213 310.5h1.5M231.5 325h1.5M287.5 308h1.5M325.5 285h1.5M296.5 293h1.5M292.5 295h1.5M223 314.5h1.5M248.5 317.5h1.5M315 271.5h1.5M231 312.5h1.5M294.5 301h1.5M260.5 316.5h1.5M268.5 311h1.5M273.5 310.5h1.5M329 286h1.5M233.5 327h1.5M240 313.5h1.5M220 304.5h1.5M284 317.5h1.5M304.5 293h1.5M315 273h1.5M304 292.5h1.5M270 313.5h1.5M299.5 301.5h1.5M293 309.5h1.5M246 328.5h1.5M314 268.5h1.5M251.5 315h1.5M311 274.5h1.5M331.5 294h1.5M284.5 302.5h1.5M242 313h1.5M220 312.5h1.5M296 300.5h1.5M216.5 301h1.5M299.5 281h1.5M227 314h1.5M286 302h1.5M242 329.5h1.5M311 295h1.5M333.5 298.5h1.5M240 323h1.5M315 281.5h1.5M296.5 300h1.5M247.5 323h1.5M271.5 317h1.5M248 323.5h1.5M337 310h1.5M296 296h1.5M302 284h1.5M270.5 313.5h1.5M242.5 326.5h1.5M225.5 319.5h1.5M249 331.5h1.5M259.5 331.5h1.5M211.5 309.5h1.5M227 315h1.5M278 299h1.5M214 305.5h1.5M221 309h1.5M325.5 268h1.5M336 311.5h1.5M280 302.5h1.5M286 308h1.5M242.5 320.5h1.5M253 320.5h1.5M306 295.5h1.5M302.5 295.5h1.5M258 322.5h1.5M328.5 299.5h1.5M274.5 307.5h1.5M305.5 291h1.5M320.5 285.5h1.5M309.5 290h1.5M285 306h1.5M310.5 278.5h1.5M232 326.5h1.5M266.5 316h1.5M294.5 305h1.5M251 288.5h1.5M239.5 317h1.5M253.5 309.5h1.5M216 304h1.5M295 306h1.5M314.5 279h1.5M245 329h1.5M298.5 289.5h1.5M294 302h1.5M314 270h1.5M267.5 318h1.5M241.5 326h1.5M248 317.5h1.5M307.5 292h1.5M299.5 296.5h1.5M329 299h1.5M331 304h1.5M232.5 313.5h1.5M247 329h1.5M299.5 296h1.5M222 314h1.5M327 265.5h1.5M249.5 324.5h1.5M259 316.5h1.5M291.5 301h1.5M329.5 282.5h1.5M226.5 317.5h1.5M294 298h1.5M302 278h1.5M283.5 316h1.5M293 299.5h1.5M237.5 308.5h1.5M219 309h1.5M251 321.5h1.5M330.5 296h1.5M220 312h1.5M300 292.5h1.5M246.5 323.5h1.5M314.5 272h1.5M303.5 290h1.5M225 318.5h1.5M255 324h1.5M313.5 271h1.5M215.5 301.5h1.5M239.5 320.5h1.5M230.5 311.5h1.5M337 303.5h1.5M296.5 297.5h1.5M233.5 325.5h1.5M304 282.5h1.5M220.5 302h1.5M238 317h1.5M278 307h1.5M239 316h1.5M290 305h1.5M305.5 292h1.5M253 311.5h1.5M248 317.5h1.5M300.5 290h1.5M328 300h1.5M272.5 312.5h1.5M321.5 285.5h1.5M305.5 302.5h1.5M234.5 320h1.5M251.5 314h1.5M257.5 310.5h1.5M293.5 305.5h1.5M324 287h1.5M224.5 312.5h1.5M280.5 320h1.5M250 320.5h1.5M211.5 303h1.5M298.5 297.5h1.5M329 298h1.5M307 288h1.5M215 312.5h1.5M264 319.5h1.5M301.5 292.5h1.5M254 320.5h1.5M228.5 315h1.5M245.5 339h1.5M221.5 302h1.5M263 312.5h1.5M247.5 315h1.5M264 314h1.5M315.5 272.5h1.5M296 294h1.5M301.5 299.5h1.5M239.5 318h1.5M330.5 301.5h1.5M327.5 292h1.5M308 283h1.5M323 285h1.5M224.5 309.5h1.5M316 283.5h1.5M230 320.5h1.5M288 309.5h1.5M301 300.5h1.5M260 317.5h1.5M307 287.5h1.5M309.5 287.5h1.5M259.5 320h1.5M259 322h1.5M313.5 272h1.5M309 276.5h1.5M230.5 317.5h1.5M319.5 290h1.5M231.5 322.5h1.5M282 315h1.5M325.5 281h1.5M319.5 275.5h1.5M268.5 297h1.5M213 308h1.5M273 295h1.5M287 300.5h1.5M269 311.5h1.5M326 286.5h1.5M299.5 300h1.5M297 294h1.5M309 288h1.5M294.5 301.5h1.5M241.5 324.5h1.5M246 322.5h1.5M301 282h1.5M315 260.5h1.5M266.5 313h1.5M225 318h1.5M263.5 312h1.5M305.5 289.5h1.5M320.5 287.5h1.5M241.5 317.5h1.5M300 296.5h1.5M218 313.5h1.5M259.5 314h1.5M289 308h1.5M257.5 319h1.5M266.5 300h1.5M232 326.5h1.5M222 308h1.5M281 308h1.5M337.5 310.5h1.5M319 281.5h1.5M308.5 284h1.5M328.5 295.5h1.5M251.5 319.5h1.5M320 295.5h1.5M337.5 301h1.5M222 301h1.5M266.5 314h1.5M324 286.5h1.5M275.5 315h1.5M216 316.5h1.5M325.5 288h1.5M320 282h1.5M242.5 332.5h1.5M267 309h1.5M217.5 272h1.5M287.5 313.5h1.5M279.5 312h1.5M289 307.5h1.5M268 307.5h1.5M245.5 317.5h1.5M302.5 298h1.5M277 304.5h1.5M319 272h1.5M265.5 313.5h1.5M258.5 315h1.5M231 314.5h1.5M333 295h1.5M333.5 291.5h1.5M218.5 309.5h1.5M339 292h1.5M336.5 300.5h1.5M336.5 311h1.5M253.5 319.5h1.5M249.5 325h1.5M304 279h1.5M294 297.5h1.5M239 330.5h1.5M249 321.5h1.5M280 297h1.5M312.5 273h1.5M281 308.5h1.5M252 312h1.5M239.5 322h1.5M233 315h1.5M305.5 301h1.5M286 307h1.5M256.5 318.5h1.5M296 303.5h1.5M266.5 311.5h1.5M322.5 285h1.5M271.5 305h1.5M271 314.5h1.5M293.5 307h1.5M215.5 312h1.5M275 300.5h1.5M277.5 304h1.5M328.5 290.5h1.5M333.5 302.5h1.5M323 286.5h1.5M259.5 319h1.5M273 306.5h1.5M224.5 308.5h1.5M230 319.5h1.5M329 295h1.5M268 313h1.5M323 268h1.5M319.5 281.5h1.5M338 301h1.5M268.5 310.5h1.5M246.5 321.5h1.5M255 321h1.5M312 275h1.5M335 308.5h1.5M339 309.5h1.5M303 294h1.5M273.5 299.5h1.5M325.5 292h1.5M258.5 315.5h1.5M292 299h1.5M285 307.5h1.5M294.5 305.5h1.5M270.5 313h1.5M279 307.5h1.5M222 315.5h1.5M270.5 312.5h1.5M302.5 290h1.5M270.5 317.5h1.5M257 318.5h1.5M280.5 303h1.5M276 296.5h1.5M245.5 327.5h1.5M257.5 318h1.5M322 291h1.5M265 314.5h1.5M290 299h1.5M277.5 305h1.5M312 271h1.5M327.5 289.5h1.5M308 286.5h1.5M279 305h1.5M309.5 283.5h1.5M277 306.5h1.5M268 314h1.5M294.5 299h1.5M274 306.5h1.5M336.5 285h1.5M256.5 334h1.5M319 268.5h1.5M303.5 294.5h1.5M244 324.5h1.5M281 313h1.5M335 304h1.5M212.5 298.5h1.5M260.5 313h1.5M231 311.5h1.5M317.5 280.5h1.5M254 328.5h1.5M338.5 304.5h1.5M337 301h1.5M270 316h1.5M248.5 327h1.5M279 309h1.5M280 304h1.5M297 300.5h1.5M310 283h1.5M214.5 306.5h1.5M284 305h1.5M218 305.5h1.5M291 295h1.5M275.5 300.5h1.5M319 278.5h1.5M318 281.5h1.5M264.5 310.5h1.5M305.5 291.5h1.5M282.5 311.5h1.5M296 291h1.5M232 321h1.5M214.5 300h1.5M325.5 284.5h1.5M332 294.5h1.5M308 289h1.5M306 296.5h1.5M252.5 319.5h1.5M326.5 293.5h1.5M213.5 301h1.5M334.5 292.5h1.5M291 303.5h1.5M246.5 330.5h1.5M268.5 322h1.5M309.5 296h1.5M330.5 292.5h1.5M262 333h1.5M306 293h1.5M295.5 301h1.5M300 299.5h1.5M215.5 318.5h1.5M272.5 301h1.5M267.5 303.5h1.5M323.5 283h1.5M288.5 299.5h1.5M238.5 322.5h1.5M216 306h1.5M261 305h1.5M327.5 282h1.5M336 301h1.5M313 275.5h1.5M277.5 316h1.5M213 301h1.5M281.5 307.5h1.5M271.5 303h1.5M276 320h1.5M282.5 299.5h1.5M225 310h1.5M311.5 277h1.5M286.5 303.5h1.5M251.5 319h1.5M320 276.5h1.5M296.5 303.5h1.5M271 312h1.5M309 280h1.5M273 303h1.5M327 290h1.5M260 318h1.5M251 321h1.5M215.5 310h1.5M256.5 306h1.5M250.5 326h1.5M328.5 290h1.5M216 301.5h1.5M331 298.5h1.5M324 277h1.5M246 333.5h1.5M303.5 293h1.5M277.5 300h1.5M247 337.5h1.5M329 285h1.5M312 276.5h1.5M255 322h1.5M234.5 316.5h1.5M278 313h1.5M330.5 297h1.5M336 292.5h1.5M298.5 294.5h1.5M325.5 298h1.5M304 292h1.5M310 285h1.5M300.5 295h1.5M246.5 322.5h1.5M269 312.5h1.5M227.5 320.5h1.5M244.5 321.5h1.5M214 307h1.5M232.5 319.5h1.5M232.5 310.5h1.5M220 305.5h1.5M322.5 286.5h1.5M240 343.5h1.5M243 339h1.5M322 275h1.5M321 287h1.5M270.5 316.5h1.5M277.5 316.5h1.5M301 298.5h1.5M236.5 335h1.5M264 320h1.5M252 314.5h1.5M259.5 290.5h1.5M261.5 308.5h1.5M252 311h1.5M211.5 306.5h1.5M326.5 290.5h1.5M249 329h1.5M280 312h1.5M259 322h1.5M220.5 300.5h1.5M271 309h1.5M273.5 319.5h1.5M213 310.5h1.5M239 323h1.5M229 306.5h1.5M231 320.5h1.5M260 321.5h1.5M299 291.5h1.5M281.5 291h1.5M316 278h1.5M233 312.5h1.5M279.5 313h1.5M293.5 301.5h1.5M271 324.5h1.5M233 320.5h1.5M228 306.5h1.5M216 317.5h1.5M256.5 320h1.5M310.5 276h1.5M236.5 308h1.5M267 319.5h1.5M313.5 281.5h1.5M242 330.5h1.5M266.5 313.5h1.5M327.5 294h1.5M217 300h1.5M299.5 284.5h1.5M295.5 295h1.5M285 296h1.5M235 323.5h1.5M277 310.5h1.5M270 310.5h1.5M328 288h1.5M276.5 310h1.5M221 310h1.5M215 308h1.5M268 332.5h1.5M311 280.5h1.5M272 313h1.5M215.5 310.5h1.5M240 320h1.5M213 300h1.5M328 297h1.5M314 274h1.5M245.5 322.5h1.5M220.5 310.5h1.5M256.5 322.5h1.5M257 319.5h1.5M300.5 295.5h1.5M258.5 322h1.5M319 268.5h1.5M299.5 294.5h1.5M261 311h1.5M292 299h1.5M287 309.5h1.5M232 318h1.5M293 300.5h1.5M247.5 332h1.5M294 300.5h1.5M301.5 301h1.5M284 311h1.5M280.5 302h1.5M325 278h1.5M231 314h1.5M283.5 293h1.5M216 312h1.5M278.5 312.5h1.5M291 315h1.5M223.5 311.5h1.5M261 313.5h1.5M253 325.5h1.5M235.5 321h1.5M334 302h1.5M322 273.5h1.5M235.5 325.5h1.5M305.5 297h1.5M286.5 304.5h1.5M225.5 320.5h1.5M288 297h1.5M227 310h1.5M253.5 318.5h1.5M266.5 314.5h1.5M326 291.5h1.5M296 299h1.5M313.5 267.5h1.5M287 299h1.5M230 316.5h1.5M249.5 317.5h1.5M308.5 280h1.5M251.5 317h1.5M246.5 325.5h1.5M312 273.5h1.5M336.5 295h1.5M230 322.5h1.5M238.5 321h1.5M317 277.5h1.5M307.5 287h1.5M257 315h1.5M246.5 316.5h1.5M314.5 275h1.5M281.5 302h1.5M305.5 292h1.5M279.5 300.5h1.5M317.5 280.5h1.5M281.5 312h1.5M255 324.5h1.5M325 296h1.5M298 304.5h1.5M220 309.5h1.5M239.5 321.5h1.5M231 313h1.5M318.5 284h1.5M331.5 295.5h1.5M278.5 315.5h1.5M224 301.5h1.5M261.5 314h1.5M276 308.5h1.5M335 305h1.5M260 324.5h1.5M256.5 319.5h1.5M317 266.5h1.5M262 320h1.5M233.5 327.5h1.5M222 331h1.5M311.5 283.5h1.5M227.5 303h1.5M253 324.5h1.5M235 322h1.5M255.5 317.5h1.5M312 276h1.5M237 316.5h1.5M271 309.5h1.5M217 303.5h1.5M311.5 276.5h1.5M221.5 319.5h1.5M326.5 297.5h1.5M314.5 275.5h1.5M223.5 311h1.5M225.5 318.5h1.5M328 305.5h1.5M217 302h1.5M294 295.5h1.5M231 319.5h1.5M214.5 300.5h1.5M337.5 297.5h1.5M272.5 306h1.5M280.5 307.5h1.5M328.5 300.5h1.5M334.5 300.5h1.5M265 318h1.5M297.5 297h1.5M266.5 309.5h1.5M305 302h1.5M291.5 302h1.5M323 287.5h1.5M265.5 306.5h1.5M292.5 305h1.5M323 274h1.5M336.5 309.5h1.5M218 320h1.5M288 299h1.5M260.5 314.5h1.5M250.5 323h1.5M306 282.5h1.5M248 318h1.5M273 308h1.5M246 330.5h1.5M294.5 308.5h1.5M298 294.5h1.5M230 319.5h1.5M314 272.5h1.5M333 296h1.5M339 314h1.5M334 292.5h1.5M285.5 304h1.5M316 279.5h1.5M306.5 283h1.5M323 291.5h1.5M309.5 282.5h1.5M299 298h1.5M287 301h1.5M269.5 303.5h1.5M243.5 324.5h1.5M290.5 309h1.5M336.5 308h1.5M303 291.5h1.5M335.5 302.5h1.5M296.5 301h1.5M326.5 296h1.5M299.5 295h1.5M315 291h1.5M229 315.5h1.5M216.5 299h1.5M251 318.5h1.5M253.5 309.5h1.5M224.5 319h1.5M244.5 322h1.5M302.5 300.5h1.5M279.5 303h1.5M241.5 328.5h1.5M303 288h1.5M257 323.5h1.5M231 328h1.5M305.5 297h1.5M244 287h1.5M305 291h1.5M235 325.5h1.5M237 327h1.5M214.5 310h1.5M333.5 298h1.5M319.5 271h1.5M233 313.5h1.5M221.5 298h1.5M274 310h1.5M293.5 290.5h1.5M219.5 309h1.5M271 314h1.5M293.5 304.5h1.5M324 288h1.5M291 308h1.5M281.5 306h1.5M238.5 323.5h1.5M264.5 312h1.5M265.5 311h1.5M240 323.5h1.5M239 320.5h1.5M233.5 316h1.5M238.5 321h1.5M217 301h1.5M296 301h1.5M324.5 290h1.5M248.5 322.5h1.5M263 317h1.5M294.5 297h1.5M236.5 308h1.5M329.5 281.5h1.5M221 305.5h1.5M316.5 269.5h1.5M225 314h1.5M275.5 307h1.5M255 308.5h1.5M288 307h1.5M289 289h1.5M225.5 317.5h1.5M277.5 305.5h1.5M231 310h1.5M263 311.5h1.5M287 307h1.5M296 297.5h1.5M329 305h1.5M224 312h1.5M317.5 268.5h1.5M309.5 285h1.5M269.5 313.5h1.5M255 329.5h1.5M271.5 301.5h1.5M283 304h1.5M306.5 281h1.5M220 311h1.5M251.5 297.5h1.5M294.5 297h1.5M301.5 301h1.5M275 313.5h1.5M300 294h1.5M251 296.5h1.5M288.5 298h1.5M256 312h1.5M227 313.5h1.5M249.5 318h1.5M236 317h1.5M217.5 301.5h1.5M299.5 294.5h1.5M277.5 311h1.5M223.5 309.5h1.5M332 301.5h1.5M336.5 306h1.5M322 290h1.5M336.5 306.5h1.5M332 291.5h1.5M280.5 298.5h1.5M238.5 317.5h1.5M297 297h1.5M320.5 273.5h1.5M255 318.5h1.5M280.5 307h1.5M266.5 320h1.5M211.5 304h1.5M323 276.5h1.5M283.5 296.5h1.5M259.5 312h1.5M300 333.5h1.5M259.5 316h1.5M291 302h1.5M333 294h1.5M211.5 310.5h1.5M221.5 296.5h1.5M304 285.5h1.5M277.5 309h1.5M270 309h1.5M282.5 319h1.5M309 282h1.5M300.5 304.5h1.5M273.5 303.5h1.5M328.5 293.5h1.5M335.5 300.5h1.5M321 285.5h1.5M317.5 281h1.5M315.5 268h1.5M321 300h1.5M273 312h1.5M317.5 268.5h1.5M234.5 320.5h1.5M269.5 311.5h1.5M249.5 324h1.5M301.5 297h1.5M246 321h1.5M311 286h1.5M325.5 278h1.5M276 303.5h1.5M276.5 309h1.5M317 271.5h1.5M264 315h1.5M331.5 293.5h1.5M259 313h1.5M263.5 319h1.5M289 299h1.5M331.5 290h1.5M213 312h1.5M241.5 318h1.5M274 315h1.5M275 310.5h1.5M286 303h1.5M312.5 277.5h1.5M257 322h1.5M257 317h1.5M244 312.5h1.5M330.5 294h1.5M305.5 282.5h1.5M287.5 305.5h1.5M213.5 307.5h1.5M316 267.5h1.5M218.5 313.5h1.5M266 308h1.5M249 321.5h1.5M224 310h1.5M338.5 302h1.5M234.5 326h1.5M288.5 303h1.5M248.5 310h1.5M306.5 283h1.5M215 303h1.5M218.5 310.5h1.5M217.5 305.5h1.5M235.5 317h1.5M271 310h1.5M327 294h1.5M326.5 288h1.5M334 303h1.5M286 301.5h1.5M273.5 313.5h1.5M284.5 293h1.5M218.5 297h1.5M225.5 314h1.5M330.5 294.5h1.5M240.5 344h1.5M239 324.5h1.5M273.5 311h1.5M330 307h1.5M228.5 318.5h1.5M323.5 281.5h1.5M254.5 317.5h1.5M301.5 294.5h1.5M261.5 323.5h1.5M301.5 298h1.5M317 273.5h1.5M230 312h1.5M220 301.5h1.5M328.5 295h1.5M220.5 299h1.5M267.5 319.5h1.5M237.5 320h1.5M235 325h1.5M302 287h1.5M245 332.5h1.5M313.5 274h1.5M235 312h1.5M318 283.5h1.5M257.5 321h1.5M294.5 303.5h1.5M224 309h1.5M295.5 303.5h1.5M327 303.5h1.5M298.5 302.5h1.5M282 305.5h1.5M254 310.5h1.5M286.5 295.5h1.5M320.5 288h1.5M337.5 306h1.5M314.5 275.5h1.5M315.5 277.5h1.5M216.5 341.5h1.5M306.5 290.5h1.5M233.5 327h1.5M324.5 286h1.5M305 294h1.5M226.5 315.5h1.5M288.5 295.5h1.5M264.5 311.5h1.5M276.5 300h1.5M212.5 304h1.5M271.5 314h1.5M274.5 320.5h1.5M219 313.5h1.5M234.5 326h1.5M246.5 323h1.5M248 317.5h1.5M255 322h1.5M279 304h1.5M242.5 328.5h1.5M300.5 309.5h1.5M258 315h1.5M214 306.5h1.5M282.5 307.5h1.5M240.5 317h1.5M222 312.5h1.5M234 319.5h1.5M253 319.5h1.5M216.5 298.5h1.5M329.5 296.5h1.5M307 288.5h1.5M266 318.5h1.5M307 282.5h1.5M311.5 283.5h1.5M291.5 299h1.5M298.5 300.5h1.5M310 272h1.5M251.5 319h1.5M228 309.5h1.5M312.5 269h1.5M278 304h1.5M310 283.5h1.5M284 295.5h1.5M247 325h1.5M260.5 317h1.5M248 315.5h1.5M307.5 289.5h1.5M239.5 326.5h1.5M273 313.5h1.5M321 322.5h1.5M264.5 319.5h1.5M243.5 318.5h1.5M267.5 289.5h1.5M222 312h1.5M329 297h1.5M253 307.5h1.5M296 298h1.5M325.5 291h1.5M241.5 323h1.5M277.5 304.5h1.5M332 305h1.5M214.5 309.5h1.5M260 322h1.5M304.5 291.5h1.5M258.5 319.5h1.5M246.5 320.5h1.5M296.5 298.5h1.5M213.5 302h1.5M281.5 300h1.5M256.5 324h1.5M220.5 305.5h1.5M329.5 300h1.5M231 314.5h1.5M336.5 306h1.5M324 269h1.5M322.5 290h1.5M316.5 281h1.5M264 320.5h1.5M294 298.5h1.5M287.5 311.5h1.5M316 267.5h1.5M212 318h1.5M282.5 309h1.5M231.5 314h1.5M338.5 307h1.5M296 299.5h1.5M254 298.5h1.5M329 292h1.5M297.5 295.5h1.5M329.5 284h1.5M321.5 291h1.5M331.5 292.5h1.5M274 314.5h1.5M218 296h1.5M256 294.5h1.5M276 317h1.5M231.5 316.5h1.5M286 322.5h1.5M282.5 310h1.5M224.5 319.5h1.5M319 271.5h1.5M273.5 316h1.5M250 317.5h1.5M278.5 309.5h1.5M312 283.5h1.5M227 310h1.5M321 288h1.5M230 328.5h1.5M315 261h1.5M221 308.5h1.5M298.5 295h1.5M242.5 332.5h1.5M318.5 279.5h1.5M233.5 316.5h1.5M272 312.5h1.5M230 313.5h1.5M333.5 306h1.5M269 320h1.5M262 311.5h1.5M288.5 301.5h1.5M289.5 296.5h1.5M317.5 283h1.5M293.5 307.5h1.5M304.5 295h1.5M313 276h1.5M294.5 308.5h1.5M249.5 309h1.5M268 309.5h1.5M336 307.5h1.5M302 274.5h1.5M246.5 311h1.5M235 320.5h1.5M316 279h1.5M223 314.5h1.5M248.5 324h1.5M315.5 276.5h1.5M300 297.5h1.5M234 312h1.5M299.5 293.5h1.5M332 276h1.5M219.5 307.5h1.5M290 300h1.5M259.5 319h1.5M296 305h1.5M331.5 305h1.5M331.5 299h1.5M256.5 313.5h1.5M294.5 303h1.5M338.5 307h1.5M232.5 319h1.5M235.5 319h1.5M306 283h1.5M242.5 314.5h1.5M239 318.5h1.5M303.5 285.5h1.5M267.5 312.5h1.5M273 310.5h1.5M230 310.5h1.5M326.5 293h1.5M227 310h1.5M286.5 311h1.5M330.5 292h1.5M264 309.5h1.5M251 315h1.5M261 324h1.5M285 307.5h1.5M249 316.5h1.5M243.5 322.5h1.5M283.5 307.5h1.5M312 286.5h1.5M267 313h1.5M337 302h1.5M296.5 302.5h1.5M242.5 315.5h1.5M222 312.5h1.5M285 298.5h1.5M249.5 313.5h1.5M314 268h1.5M286.5 299h1.5M239 323h1.5M332 303.5h1.5M337.5 289.5h1.5M232 318h1.5M242 317h1.5M337 301h1.5M225.5 320h1.5M238.5 314h1.5M297.5 295h1.5M307.5 283.5h1.5M257.5 314.5h1.5M317.5 269.5h1.5M226.5 314h1.5M288 295h1.5M283 307h1.5M333.5 301.5h1.5M330 304h1.5M259 324h1.5M303 293h1.5M235 317h1.5M337 315h1.5M331.5 296.5h1.5M315.5 284.5h1.5M286 302.5h1.5M215.5 302.5h1.5M266 318.5h1.5M319 283.5h1.5M290.5 302.5h1.5M278.5 299.5h1.5M220.5 310h1.5M258.5 309h1.5M226 315h1.5M248.5 320.5h1.5M281.5 299h1.5M211.5 298.5h1.5M252.5 318.5h1.5M282.5 306h1.5M257.5 328h1.5M303 297h1.5M275.5 313h1.5M334 303h1.5M229.5 303h1.5M299.5 296.5h1.5M283.5 306h1.5M300.5 300.5h1.5M228.5 320h1.5M309 278.5h1.5M312 286h1.5M316 285h1.5M268.5 321.5h1.5M246.5 323h1.5M329 286h1.5M243.5 329h1.5M325.5 296.5h1.5M280.5 308.5h1.5M278.5 308h1.5M280 303.5h1.5M212.5 297h1.5M329.5 297h1.5M324 284h1.5M276 306.5h1.5M297.5 292.5h1.5M327 302.5h1.5M239.5 316h1.5M280.5 298.5h1.5M332 300h1.5M313.5 270.5h1.5M301 291.5h1.5M287.5 305h1.5M214.5 310h1.5M229.5 314h1.5M249.5 320h1.5M318.5 267h1.5M245 343.5h1.5M292 298.5h1.5M257.5 330.5h1.5M221 300.5h1.5M245.5 326.5h1.5M278.5 307h1.5M267 307h1.5M282.5 311.5h1.5M215 301.5h1.5M299.5 304.5h1.5M310.5 286h1.5M263 319.5h1.5M326.5 300h1.5M296.5 286h1.5M292 300.5h1.5M280 313h1.5M213.5 312.5h1.5M328.5 291.5h1.5M264.5 323.5h1.5M222 300.5h1.5M243 322h1.5M272 315h1.5M295.5 291h1.5M293.5 299.5h1.5M246 338h1.5M216 306.5h1.5M251.5 316.5h1.5M286 304.5h1.5M219.5 307.5h1.5M333.5 295.5h1.5M316.5 278h1.5M290 300.5h1.5M220 312.5h1.5M327 303.5h1.5M302.5 275.5h1.5M230.5 330h1.5M308.5 283.5h1.5M321 292h1.5M259 325h1.5M321 284h1.5M266 316h1.5M214 297.5h1.5M279 299.5h1.5M241 314h1.5M220.5 304.5h1.5M289.5 305h1.5M330 293.5h1.5M318.5 280.5h1.5M225 302.5h1.5M238.5 328.5h1.5M336.5 302.5h1.5M288.5 309.5h1.5M303.5 297.5h1.5M264 321h1.5M317.5 275h1.5M318.5 272h1.5M279.5 317.5h1.5M215.5 305h1.5M326 290.5h1.5M291 297h1.5M331.5 294.5h1.5M212 300.5h1.5M302 290.5h1.5M259.5 325.5h1.5M296.5 303.5h1.5M264.5 314h1.5M329.5 304h1.5M239.5 307.5h1.5M248 326h1.5M234 323h1.5M236 333h1.5M325.5 285.5h1.5M312.5 268h1.5M236.5 313.5h1.5M312 277h1.5M282.5 292.5h1.5M319 282h1.5M275 311h1.5M336.5 299h1.5M227.5 311h1.5M284.5 295.5h1.5M216.5 313.5h1.5M283.5 303h1.5M271.5 311.5h1.5M237.5 322.5h1.5M222.5 309h1.5M216 302h1.5M281.5 304h1.5M292.5 304.5h1.5M214.5 305.5h1.5M237 341.5h1.5M238.5 313h1.5M244.5 318h1.5M276 305h1.5M291.5 305h1.5M247.5 322h1.5M293.5 290.5h1.5M333.5 290h1.5M300 297.5h1.5M239.5 318h1.5M301 294h1.5M315 269h1.5M280 313h1.5M311.5 277h1.5M288 303h1.5M333.5 306h1.5M228 305.5h1.5M326 279h1.5M285 310h1.5M216 308h1.5M246 331.5h1.5M316.5 277h1.5M320.5 286h1.5M249 318.5h1.5M331.5 296.5h1.5M265 308.5h1.5M274.5 303h1.5M219 313h1.5M324 285h1.5M329.5 294.5h1.5M318 262.5h1.5M215.5 312.5h1.5M254.5 313.5h1.5M216.5 297.5h1.5M306.5 279.5h1.5M259 318h1.5M223.5 317.5h1.5M308 286.5h1.5M258 319.5h1.5M305 312h1.5M336.5 310h1.5M337.5 301.5h1.5M233.5 310.5h1.5M333 294h1.5M318.5 280.5h1.5M245.5 324.5h1.5M315.5 274.5h1.5M320 277.5h1.5M223 308.5h1.5M334 305h1.5M300.5 300.5h1.5M328.5 299.5h1.5M231.5 321h1.5M215 311h1.5M304.5 283h1.5M261 316.5h1.5M293.5 305.5h1.5M300 300h1.5M224 320.5h1.5M322.5 288h1.5M245.5 333h1.5M231 320.5h1.5M259 317h1.5M311 279h1.5M258.5 322.5h1.5M215 300h1.5M302.5 282h1.5M220 307.5h1.5M268 319h1.5M255.5 318h1.5M274 313h1.5M249 317h1.5M230.5 310.5h1.5M304.5 287h1.5M329 295.5h1.5M301 299h1.5M283.5 305h1.5M331 296h1.5M310.5 267.5h1.5M282.5 314h1.5M327 291h1.5M276.5 311.5h1.5M221.5 304h1.5M256.5 318h1.5M297.5 305.5h1.5M273 308.5h1.5M279 304.5h1.5M255.5 323.5h1.5M245 328.5h1.5M249.5 332.5h1.5M280.5 302h1.5M232.5 324.5h1.5M293 304.5h1.5M337.5 305.5h1.5M225 312.5h1.5M302.5 298h1.5M219 312h1.5M334.5 297h1.5M244.5 323.5h1.5M213 311h1.5M261 306h1.5M287.5 298h1.5M223 315h1.5M312.5 280.5h1.5M249.5 315h1.5M315.5 280.5h1.5M332.5 303.5h1.5M252.5 316.5h1.5M214 291h1.5M277.5 303h1.5M215 307.5h1.5M315.5 274.5h1.5M270 313.5h1.5M245.5 331h1.5M262 324.5h1.5M275 315.5h1.5M313.5 265.5h1.5M283.5 303h1.5M292.5 300.5h1.5M254.5 321h1.5M279 326h1.5M217.5 314.5h1.5M254 316h1.5M266.5 315h1.5M286 307.5h1.5M263.5 317h1.5M293 303h1.5M267.5 290.5h1.5M222.5 319.5h1.5M334 298h1.5M257 318.5h1.5M226 307h1.5M338 301.5h1.5M337 305.5h1.5M303 292.5h1.5M338 309h1.5M338.5 296h1.5M338.5 299.5h1.5M238.5 318h1.5M297 306h1.5M304.5 285.5h1.5M304.5 285h1.5M275 300h1.5M318 276h1.5M230.5 303h1.5M294 298h1.5M289 309.5h1.5M298 295h1.5M303 283.5h1.5M268 313.5h1.5M311.5 265h1.5M244 315.5h1.5M319.5 284.5h1.5M331 299h1.5M302.5 289h1.5M308.5 286.5h1.5M254.5 315h1.5M255 321.5h1.5M338 313.5h1.5M279.5 320h1.5M230.5 316h1.5M219 311h1.5M266 317h1.5M329.5 308.5h1.5M273 303.5h1.5M268.5 292.5h1.5M250.5 327.5h1.5M276.5 308.5h1.5M337 312.5h1.5M303.5 291h1.5M329 304.5h1.5M333.5 305h1.5M288.5 307h1.5M273.5 304.5h1.5M219.5 301.5h1.5M269 343h1.5M239 318h1.5M298 293.5h1.5M283 313.5h1.5M213.5 303h1.5M281.5 295.5h1.5M253.5 317h1.5M305 289.5h1.5M218.5 314.5h1.5M320.5 279h1.5M246 324.5h1.5M231 316h1.5M270.5 304.5h1.5M295 288.5h1.5M334.5 311h1.5M214 298.5h1.5M256.5 328h1.5M241.5 316h1.5M332.5 301h1.5M261.5 317.5h1.5M231.5 315h1.5M261 317h1.5M297.5 302h1.5M327.5 293.5h1.5M311 279h1.5M253 313.5h1.5M258 336h1.5M299 307h1.5M335 304.5h1.5M273.5 306.5h1.5M333.5 292h1.5M218 306h1.5M324 286h1.5M241.5 318h1.5M230.5 314.5h1.5M247.5 327.5h1.5M216 309h1.5M288 282.5h1.5M270 301.5h1.5M222.5 312.5h1.5M272.5 307h1.5M300 295h1.5M225.5 319h1.5M332 301h1.5M229.5 313.5h1.5M256 316.5h1.5M245.5 328.5h1.5M234.5 321h1.5M262.5 314.5h1.5M228 315.5h1.5M214.5 294.5h1.5M315 235.5h1.5M250.5 319h1.5M337 310h1.5M339 284.5h1.5M218 293.5h1.5M248.5 323h1.5M312 276.5h1.5M269.5 309.5h1.5M250 317.5h1.5M251.5 318.5h1.5M338.5 305h1.5M250 324.5h1.5M239.5 326.5h1.5M257.5 319h1.5M307.5 285h1.5M307.5 284h1.5M289.5 307.5h1.5M220.5 309h1.5M276.5 315h1.5M337 303.5h1.5M286.5 302h1.5M263 321.5h1.5M225 314.5h1.5M233 312h1.5M243.5 330h1.5M254.5 313.5h1.5M277 306.5h1.5M271.5 317.5h1.5M242 315h1.5M333.5 297h1.5M337 303h1.5M224 303.5h1.5M299 297h1.5M211.5 302.5h1.5M213 307h1.5M331.5 311.5h1.5M215.5 301.5h1.5M280.5 302.5h1.5M335.5 298h1.5M339 300.5h1.5M237 319h1.5M294 306h1.5M309 288.5h1.5M319.5 282.5h1.5M232 322.5h1.5M245 317.5h1.5M255 326.5h1.5M211.5 302.5h1.5M335.5 292h1.5M215 308.5h1.5M242 319.5h1.5M238.5 327h1.5M314.5 267.5h1.5M222.5 315h1.5M297.5 300.5h1.5M296 294h1.5M241.5 325h1.5M296.5 296h1.5M225.5 310.5h1.5M270.5 317h1.5M318.5 259.5h1.5M229 332.5h1.5M298 295h1.5M306.5 287h1.5M245 335h1.5M324 285.5h1.5M269 301h1.5M299.5 292.5h1.5M334 304.5h1.5M311 282h1.5M311 281h1.5M326 299.5h1.5M305 284.5h1.5M230 316h1.5M232 321.5h1.5M296.5 288h1.5M304 291h1.5M286.5 310h1.5M231 315.5h1.5M311.5 275h1.5M284.5 302h1.5M297 296.5h1.5M304.5 287h1.5M313 266.5h1.5M230.5 315.5h1.5M271.5 308.5h1.5M224.5 308h1.5M319.5 274h1.5M240 335.5h1.5M228 311.5h1.5M265 319.5h1.5M212 302h1.5M288.5 304.5h1.5M331.5 293.5h1.5M247.5 329h1.5M238.5 314h1.5M227 314h1.5M274.5 307h1.5M260.5 310.5h1.5M250 322h1.5M295.5 295h1.5M269 311h1.5M263.5 320h1.5M224.5 316h1.5M333.5 308.5h1.5M279.5 307h1.5M317.5 277h1.5M313 271.5h1.5M337.5 307h1.5M227.5 311h1.5M336.5 307h1.5M262 310h1.5M294 290.5h1.5M267 313.5h1.5M237 322.5h1.5M218.5 314h1.5M238.5 314h1.5M307 286.5h1.5M237 322h1.5M221 316.5h1.5M339 301.5h1.5M276 314h1.5M212.5 310h1.5M279.5 313h1.5M240 328.5h1.5M268.5 312h1.5M271.5 305.5h1.5M263.5 318.5h1.5M269 311h1.5M330 293h1.5M256.5 304.5h1.5M282.5 307.5h1.5M329 308h1.5M258.5 312.5h1.5M247 330.5h1.5M240 331h1.5M336 302.5h1.5M233.5 331h1.5M212 301.5h1.5M263.5 317h1.5M244 320.5h1.5M225.5 314.5h1.5M232 321h1.5M273 319h1.5M277 307h1.5M243 327h1.5M213 301.5h1.5M294.5 303.5h1.5M250 322h1.5M226.5 313h1.5M265.5 304h1.5M305 295.5h1.5M248 324h1.5M263.5 318h1.5M319 272.5h1.5M215 299.5h1.5M250 315h1.5M326 289.5h1.5M272 310.5h1.5M265.5 311h1.5M231 315h1.5M283 308h1.5M284 297.5h1.5M291.5 304h1.5M279 301h1.5M213.5 305.5h1.5M215.5 307.5h1.5M275.5 302.5h1.5M284 307.5h1.5M305.5 297.5h1.5M292.5 293h1.5M258.5 315h1.5M334.5 299h1.5M242.5 337.5h1.5M288 307h1.5M222 304h1.5M215 309.5h1.5M317 268h1.5M320 279.5h1.5M288 308h1.5M253 314.5h1.5M233 324h1.5M227 318h1.5M317.5 276.5h1.5M254.5 307.5h1.5M229.5 315.5h1.5M213 311.5h1.5M299 289.5h1.5M259.5 323.5h1.5M283 308.5h1.5M238.5 317.5h1.5M238.5 308h1.5M226.5 315h1.5M228 325.5h1.5M246 325h1.5M273.5 313h1.5M288 306h1.5M323.5 293h1.5M307.5 282.5h1.5M275 297.5h1.5M275 311h1.5M285 310h1.5M248.5 307.5h1.5M216 297h1.5M237 315h1.5M252.5 325h1.5M275.5 310h1.5M257 318.5h1.5M241.5 319.5h1.5M301.5 293.5h1.5M337.5 304h1.5M235 311.5h1.5M337 314h1.5M316 281.5h1.5M332.5 301h1.5M276.5 314.5h1.5M256.5 313.5h1.5M239.5 325.5h1.5M280.5 314h1.5M339 291h1.5M337.5 292h1.5M338.5 315.5h1.5M304.5 294h1.5M214 308h1.5M332 293.5h1.5M332 301.5h1.5M213.5 315.5h1.5M283 308h1.5M318 282h1.5M292.5 304h1.5M334 298.5h1.5M250.5 312.5h1.5M249 311h1.5M279 310.5h1.5M238.5 320.5h1.5M316.5 278.5h1.5M259 316.5h1.5M239 322.5h1.5M278 314.5h1.5M232.5 333h1.5M297.5 292h1.5M239 320.5h1.5M277.5 309.5h1.5M309 286.5h1.5M309 281h1.5M289.5 302.5h1.5M259.5 312.5h1.5M297.5 290.5h1.5M332 299h1.5M322 279h1.5M332 302h1.5M293.5 298.5h1.5M319 281h1.5M329 297h1.5M261 317.5h1.5M330 302h1.5M303.5 295.5h1.5M243 330h1.5M215.5 297h1.5M332 305h1.5M337.5 313.5h1.5M338.5 296.5h1.5M261 312h1.5M263.5 308h1.5M254 319h1.5M234.5 321h1.5M218.5 303.5h1.5M221 312.5h1.5M329.5 287h1.5M308 283.5h1.5M310.5 276h1.5M290.5 302h1.5M213 319h1.5M238 315h1.5M329 290.5h1.5M212 303h1.5M249 334.5h1.5M305 296.5h1.5M338 305.5h1.5M329.5 289.5h1.5M237.5 334.5h1.5M326 301.5h1.5M294 306.5h1.5M243 322.5h1.5M216.5 314.5h1.5M318.5 276.5h1.5M243.5 323.5h1.5M263.5 319h1.5M323 283h1.5M310.5 271h1.5M317.5 289.5h1.5M289.5 301h1.5M285 309h1.5M211.5 308.5h1.5M216 308h1.5M306.5 287.5h1.5M248 321.5h1.5M232 313.5h1.5M303.5 283.5h1.5M262.5 317h1.5M221.5 303.5h1.5M242 315.5h1.5M328.5 292.5h1.5M316.5 272.5h1.5M317.5 269.5h1.5M249.5 314h1.5M304.5 291.5h1.5M215.5 300h1.5M230 321.5h1.5M240 320.5h1.5M275.5 313h1.5M296.5 294h1.5M223.5 310h1.5M305 273.5h1.5M275 311.5h1.5M231.5 326h1.5M319.5 269h1.5M277.5 308h1.5M324 286.5h1.5M276.5 317.5h1.5M277 297h1.5M238 320h1.5M213 309h1.5M250 324.5h1.5M272.5 309h1.5M284.5 298.5h1.5M286.5 304h1.5M313.5 270h1.5M326.5 294h1.5M273 310h1.5M295 302h1.5M245.5 325h1.5M223.5 316h1.5M318.5 284h1.5M308.5 281h1.5M308.5 287.5h1.5M240.5 311.5h1.5M334 300.5h1.5M312 280h1.5M315 270h1.5M270.5 314h1.5M241.5 318.5h1.5M297.5 296.5h1.5M314.5 263h1.5M249.5 331.5h1.5M223.5 319h1.5M220.5 307h1.5M288.5 310h1.5M232.5 318h1.5M322.5 285.5h1.5M324.5 294h1.5M268 317.5h1.5M225 309h1.5M212 305.5h1.5M268 312h1.5M249 317h1.5M277 309.5h1.5M314 266h1.5M303.5 299h1.5M329 294h1.5M312 264.5h1.5M219 305h1.5M281 310.5h1.5M234.5 323h1.5M216 308h1.5M306 293h1.5M231 315.5h1.5M321 283.5h1.5M220.5 308.5h1.5M283.5 304h1.5M265 310.5h1.5M285.5 308h1.5M276 299.5h1.5M249 320.5h1.5M307.5 279h1.5M219.5 306.5h1.5M295.5 294h1.5M259.5 317h1.5M300.5 295.5h1.5M243 323.5h1.5M258 324h1.5M245.5 336.5h1.5M295 284h1.5M294 300h1.5M260 323.5h1.5M263.5 307.5h1.5M262.5 313.5h1.5M312 283.5h1.5M323.5 290.5h1.5M312 277.5h1.5M286.5 306h1.5M326.5 283.5h1.5M229.5 307.5h1.5M302 306.5h1.5M258 316h1.5M253.5 315h1.5M329 290.5h1.5M270 317.5h1.5M256.5 319.5h1.5M251 315h1.5M296 294h1.5M335 301h1.5M253.5 319h1.5M326 284h1.5M232.5 314h1.5M296 302h1.5M282 313h1.5M269 304h1.5M250.5 342h1.5M232 324.5h1.5M239 321.5h1.5M331.5 293h1.5M290 308h1.5M287.5 292.5h1.5M265 312.5h1.5M317 272h1.5M282 307h1.5M220.5 316h1.5M337.5 305.5h1.5M281 300.5h1.5M271.5 293.5h1.5M319 246.5h1.5M330.5 298h1.5M212.5 298h1.5M246 328h1.5M236 321.5h1.5M234 323.5h1.5M249.5 331.5h1.5M318.5 280.5h1.5M222 308.5h1.5M312 283h1.5M262.5 322h1.5M300 302h1.5M306.5 290h1.5M238 323h1.5M255.5 309.5h1.5M312 280.5h1.5M318.5 278.5h1.5M234 322.5h1.5M235 311h1.5M316 275.5h1.5M241.5 320h1.5M259 322.5h1.5M224 316.5h1.5M272 310.5h1.5M253.5 315h1.5M229.5 311.5h1.5M313.5 276h1.5M274 310.5h1.5M245 323.5h1.5M338 307.5h1.5M213.5 312h1.5M313.5 244.5h1.5M265.5 319.5h1.5M312.5 284h1.5M271 306h1.5M222 312h1.5M253.5 316h1.5M310 285h1.5M224 309.5h1.5M215 313h1.5M275 307.5h1.5M285.5 316h1.5M224 303.5h1.5M249.5 320.5h1.5M332.5 294h1.5M231 310.5h1.5M236 322h1.5M283 319h1.5M225 314h1.5M310.5 281h1.5M298 303.5h1.5M227 316.5h1.5M255.5 322h1.5M293.5 300.5h1.5M233.5 323.5h1.5M294 301h1.5M337.5 305h1.5M298.5 312h1.5M335.5 301h1.5M300 304.5h1.5M219 306h1.5M226 316h1.5M257.5 321h1.5M254.5 315.5h1.5M267.5 324.5h1.5M217 307h1.5M317 277h1.5M277 301h1.5M332 314.5h1.5M319 278.5h1.5M242 318h1.5M232.5 322.5h1.5M268 314h1.5M213.5 308h1.5M279 309.5h1.5M255 310.5h1.5M315 275h1.5M328 295.5h1.5M267 307.5h1.5M326.5 294h1.5M214.5 306h1.5M232 316.5h1.5M299.5 293.5h1.5M230.5 321.5h1.5M247.5 320.5h1.5M236.5 319.5h1.5M323 284.5h1.5M291 310h1.5M336.5 307h1.5M243 320.5h1.5M285.5 316h1.5M329 306.5h1.5M238 345h1.5M221 302.5h1.5M311.5 282h1.5M304.5 280h1.5M285.5 303h1.5M309 299h1.5M295.5 297.5h1.5M312.5 274h1.5M241.5 318h1.5M235 318.5h1.5M323 274.5h1.5M271 307.5h1.5M285 317h1.5M253 329h1.5M290 306h1.5M234.5 318h1.5M244 322.5h1.5M314.5 278h1.5M294.5 303.5h1.5M233.5 314.5h1.5M227.5 308h1.5M302.5 292h1.5M236 323.5h1.5M236 310.5h1.5M304.5 285.5h1.5M236.5 323.5h1.5M296.5 300h1.5M279.5 302.5h1.5M321 275h1.5M279 309.5h1.5M228 317.5h1.5M304 284h1.5M313.5 280h1.5M230.5 321h1.5M289.5 303h1.5M303.5 283.5h1.5M265 285h1.5M221 307h1.5M334 304.5h1.5M327.5 294.5h1.5M282 318.5h1.5M323.5 287.5h1.5M271 309.5h1.5M274.5 312.5h1.5M220.5 312.5h1.5M304 279h1.5M293 308h1.5M313.5 276.5h1.5M279.5 305.5h1.5M316 280.5h1.5M319 277h1.5M249 324.5h1.5M221 317.5h1.5M289 305h1.5M230 311.5h1.5M228.5 325.5h1.5M320 274.5h1.5M321.5 291h1.5M233.5 319h1.5M286 310h1.5M216 301.5h1.5M275 307h1.5M291 310.5h1.5M306.5 309h1.5M335.5 295.5h1.5M310 279.5h1.5M317 272h1.5M291 292.5h1.5M237.5 318h1.5M291.5 304h1.5M252 315.5h1.5M232.5 322h1.5M237.5 326h1.5M249 327.5h1.5M265.5 319.5h1.5M214 307.5h1.5M264 308.5h1.5M318.5 271.5h1.5M333.5 302h1.5M283 299.5h1.5M314.5 276h1.5M318.5 276h1.5M219.5 305.5h1.5M297.5 285.5h1.5M254 324h1.5M324.5 291.5h1.5M242.5 317.5h1.5M230.5 317h1.5M309.5 287h1.5M263.5 302.5h1.5M259.5 313h1.5M318 283.5h1.5M250 312.5h1.5M317.5 272.5h1.5M305.5 301.5h1.5M261.5 310.5h1.5M262.5 322.5h1.5M241 319.5h1.5M277.5 284.5h1.5M281 302h1.5M326.5 291h1.5M287.5 304.5h1.5M320 281.5h1.5M230.5 298h1.5M231.5 317h1.5M298.5 306h1.5M263 309.5h1.5M284.5 298.5h1.5M233 327.5h1.5M251.5 318h1.5M261.5 307.5h1.5M262 310.5h1.5M287 299.5h1.5M305 292.5h1.5M233 322h1.5M274 313.5h1.5M308.5 291.5h1.5M270.5 315h1.5M239.5 322h1.5M230.5 321h1.5M309 278h1.5M315 282h1.5M254 317.5h1.5M264.5 315h1.5M322.5 287.5h1.5M271.5 302h1.5M330 293h1.5M222.5 310.5h1.5M234 315.5h1.5M282 301.5h1.5M256 318h1.5M261 321.5h1.5M266.5 324.5h1.5M223 320.5h1.5M315.5 289.5h1.5M214 310.5h1.5M227 324h1.5M319.5 285h1.5M311 263h1.5M327 297.5h1.5M294.5 300h1.5M316.5 278.5h1.5M307 293h1.5M331 294.5h1.5M292 308.5h1.5M264.5 320h1.5M245.5 325h1.5M290.5 298.5h1.5M285.5 299h1.5M273.5 312h1.5M314.5 282h1.5M218.5 301h1.5M315.5 273h1.5M258.5 320h1.5M226.5 317.5h1.5M248 330.5h1.5M325.5 294.5h1.5M323 280h1.5M329.5 286.5h1.5M301.5 303.5h1.5M276 309.5h1.5M304 285.5h1.5M291.5 307h1.5M276.5 311.5h1.5M262 324h1.5M293.5 305h1.5M323.5 289.5h1.5M318.5 275h1.5M259.5 313h1.5M214.5 299.5h1.5M236.5 324h1.5M259.5 317.5h1.5M228.5 308.5h1.5M242.5 321h1.5M323.5 287.5h1.5M233.5 320h1.5M251.5 307.5h1.5M257 329h1.5M299 290h1.5M222 316h1.5M254 310.5h1.5M320 278h1.5M235 326h1.5M297.5 303h1.5M251.5 318h1.5M276.5 308h1.5M225.5 311h1.5M281 309h1.5M304 300.5h1.5M337.5 302.5h1.5M300 282h1.5M248.5 328h1.5M213 313.5h1.5M271 308.5h1.5M296 293.5h1.5M264 323.5h1.5M276 312.5h1.5M308.5 281.5h1.5M261 307.5h1.5M312.5 272h1.5M318.5 274.5h1.5M249 309.5h1.5M332.5 296h1.5M299.5 273.5h1.5M232 311h1.5M276.5 321h1.5M238 313h1.5M251 318h1.5M318 268h1.5M211.5 320.5h1.5M304 289.5h1.5M317.5 288.5h1.5M236 318.5h1.5M268.5 318h1.5M225 315h1.5M294 286h1.5M247 328.5h1.5M316 281.5h1.5M316.5 268.5h1.5M245.5 331h1.5M214 314.5h1.5M311 264h1.5M247 322h1.5M268 321h1.5M331 307h1.5M278 311h1.5M239 328.5h1.5M245 329h1.5M259 313.5h1.5M274 300h1.5M330.5 306h1.5M333 295h1.5M295 290.5h1.5M255 314h1.5M261.5 312h1.5M237 324.5h1.5M303 294.5h1.5M269 317h1.5M336 300h1.5M330 295.5h1.5M305.5 271.5h1.5M235.5 308.5h1.5M274 303h1.5M286 289h1.5M240 306.5h1.5M276.5 306.5h1.5M254.5 318.5h1.5M240 313h1.5M293.5 293.5h1.5M262 318.5h1.5M255 318h1.5M296 292.5h1.5M244.5 322h1.5M227.5 310h1.5M300 295.5h1.5M273.5 300.5h1.5M213 302.5h1.5M320 284.5h1.5M277.5 293h1.5M283 322.5h1.5M329.5 297h1.5M256.5 308.5h1.5M324 281.5h1.5M214 303h1.5M303.5 294h1.5M291 293.5h1.5M325 292h1.5M284 302h1.5M226.5 321h1.5M253 317.5h1.5M323 279.5h1.5M281.5 298h1.5M273 309h1.5M226 318h1.5M271.5 313.5h1.5M291 306.5h1.5M255 318.5h1.5M265.5 314h1.5M323.5 285.5h1.5M295.5 302h1.5M303.5 292.5h1.5M281 302h1.5M244.5 323.5h1.5M227 312.5h1.5M334 303.5h1.5M280 303.5h1.5M318.5 287.5h1.5M319 287h1.5M214 312.5h1.5M317 281h1.5M296.5 296h1.5M285 302.5h1.5M306 282.5h1.5M304 287.5h1.5M317 279h1.5M293.5 301h1.5M251 312.5h1.5M246.5 330h1.5M286.5 307.5h1.5M262 315.5h1.5M317 278h1.5M222.5 313h1.5M217.5 298h1.5M332 294.5h1.5M277.5 307h1.5M309.5 283.5h1.5M280.5 304.5h1.5M311.5 291h1.5M291.5 301.5h1.5M243 317.5h1.5M213.5 314.5h1.5M267.5 314.5h1.5M231 307.5h1.5M234.5 322h1.5M328 286.5h1.5M287 300h1.5M228.5 323.5h1.5M228 312h1.5M239 317.5h1.5M230.5 314.5h1.5M223 318h1.5M324 288h1.5M310.5 279h1.5M261.5 323h1.5M250.5 321h1.5M257 321h1.5M232.5 320.5h1.5M290.5 289h1.5M286.5 315.5h1.5M237.5 330h1.5M250.5 314.5h1.5M290 307h1.5M318.5 283h1.5M305.5 280h1.5M313 269.5h1.5M219 320.5h1.5M306 289h1.5M278.5 306h1.5M309 275.5h1.5M242.5 318.5h1.5M229 314.5h1.5M252 318.5h1.5M220 313.5h1.5M263 315h1.5M322 280h1.5M287.5 300h1.5M311.5 281.5h1.5M218 300.5h1.5M253 318.5h1.5M300 319h1.5M232.5 314.5h1.5M276.5 301.5h1.5M282 305.5h1.5M330.5 289h1.5M295.5 301h1.5M336 299.5h1.5M310 289h1.5M277 312h1.5M312.5 258h1.5M219.5 307h1.5M233 320h1.5M235 318h1.5M269 305.5h1.5M323.5 281h1.5M213.5 309.5h1.5M284 302h1.5M239.5 312.5h1.5M240.5 317h1.5M275 302h1.5M309.5 272.5h1.5M234.5 323.5h1.5M319.5 277h1.5M328.5 287h1.5M236 313.5h1.5M255 312.5h1.5M284.5 298h1.5M321.5 293h1.5M238 330.5h1.5M324 282h1.5M233.5 324.5h1.5M257.5 323h1.5M225 319.5h1.5M307.5 285.5h1.5M300 300.5h1.5M308 284h1.5M331 300h1.5M286.5 303h1.5M218.5 303.5h1.5M217 306h1.5M236.5 326h1.5M303.5 298.5h1.5M310 294h1.5M234.5 326h1.5M312 276h1.5M318.5 276h1.5M323 277.5h1.5M224 305h1.5M323 284h1.5M311 282.5h1.5M230.5 316.5h1.5M212.5 303h1.5M314.5 265.5h1.5M312 269h1.5M287 314h1.5M233.5 307h1.5M305.5 285h1.5M320.5 276h1.5M303.5 279h1.5M300.5 302h1.5M314.5 267h1.5M310.5 284h1.5M231 317.5h1.5M329 299.5h1.5M219 307h1.5M314.5 273h1.5M315.5 270h1.5M312 279.5h1.5M335.5 309h1.5M338.5 282h1.5M272 309.5h1.5M261.5 315h1.5M274 303.5h1.5M313 270h1.5M323 294.5h1.5M300 292.5h1.5M286.5 297h1.5M331.5 307.5h1.5M271 300.5h1.5M213 309.5h1.5M211.5 309h1.5M309 283.5h1.5M234 311h1.5M289.5 301h1.5M323 283h1.5M243.5 334.5h1.5M333.5 296h1.5M305.5 289.5h1.5M311.5 281.5h1.5M317 279h1.5M230.5 305.5h1.5M232.5 326.5h1.5M276.5 309h1.5M240.5 316h1.5M290 309.5h1.5M300.5 315h1.5M232.5 323h1.5M213 318h1.5M278.5 314h1.5M240 324h1.5M319 275h1.5M238.5 322.5h1.5M244.5 333.5h1.5M220.5 301.5h1.5M312.5 280h1.5M290.5 304.5h1.5M275.5 307h1.5M243 325.5h1.5M294.5 298.5h1.5M284.5 308.5h1.5M300 302h1.5M246.5 325h1.5M321.5 292h1.5M311.5 274h1.5M217.5 309h1.5M251 312h1.5M315.5 271h1.5M267 318h1.5M254 311.5h1.5M271 321.5h1.5M259 304h1.5M331.5 291.5h1.5M297.5 291h1.5M242.5 321.5h1.5M309 281h1.5M245.5 335h1.5M315 288h1.5M252 304h1.5M234 321.5h1.5M331 299h1.5M276.5 316h1.5M224.5 314.5h1.5M290.5 307.5h1.5M214.5 308.5h1.5M303 293h1.5M228 322.5h1.5M244 330h1.5M241 316h1.5M274.5 310h1.5M248.5 324h1.5M224.5 315h1.5M285.5 292h1.5M330.5 294h1.5M330.5 290.5h1.5M277.5 304.5h1.5M299.5 301.5h1.5M228.5 315.5h1.5M252.5 310h1.5M306 295.5h1.5M276 314.5h1.5M271.5 308h1.5M231 312h1.5M278.5 309h1.5M334 310.5h1.5M218 301h1.5M249.5 321h1.5M247.5 326h1.5M278 308.5h1.5M298.5 292.5h1.5M299 309.5h1.5M332.5 292.5h1.5M294 320h1.5M297 299.5h1.5M213.5 305h1.5M320 275h1.5M244 315.5h1.5M299 294.5h1.5M265 328.5h1.5M231 324h1.5M221 309.5h1.5M245 321h1.5M253 317.5h1.5M331 297h1.5M316.5 271.5h1.5M247 335.5h1.5M236 321h1.5M221.5 311.5h1.5M338.5 309h1.5M214 301.5h1.5M291 299h1.5M328 297.5h1.5M216 292.5h1.5M290 317.5h1.5M222 310.5h1.5M235.5 327h1.5M263 312.5h1.5M338 303h1.5M291.5 296.5h1.5M256.5 318.5h1.5M247 322h1.5M305 300.5h1.5M335.5 301.5h1.5M265.5 319h1.5M211.5 314h1.5M213 303.5h1.5M272 313.5h1.5M244 322.5h1.5M233 320.5h1.5M299.5 297h1.5M288.5 303.5h1.5M222.5 303h1.5M318 279.5h1.5M244.5 314.5h1.5M256.5 312.5h1.5M280 294.5h1.5M270.5 310.5h1.5M216 311.5h1.5M219 310.5h1.5M271 308h1.5M217.5 305.5h1.5M217 298.5h1.5M326 295h1.5M322.5 284h1.5M260 319h1.5M282.5 313h1.5M247 325.5h1.5M329.5 280h1.5M257 330h1.5M317.5 276.5h1.5M224 319h1.5M230.5 308.5h1.5M251 315.5h1.5M213.5 306.5h1.5M299.5 300.5h1.5M242.5 329h1.5M267.5 298.5h1.5M335.5 310.5h1.5M315.5 273h1.5M243.5 344.5h1.5M249 326.5h1.5M267 310h1.5M290.5 308h1.5M279.5 293h1.5M305.5 290h1.5M320 278h1.5M272 313.5h1.5M281.5 296.5h1.5M222 308.5h1.5M318 272.5h1.5M249.5 319.5h1.5M296 306.5h1.5M219.5 308.5h1.5M241 344.5h1.5M324.5 291.5h1.5M287 296h1.5M255.5 328.5h1.5M302 296h1.5M300 294h1.5M273 310.5h1.5M236.5 311.5h1.5M218.5 301.5h1.5M249 323.5h1.5M294 299h1.5M314.5 274h1.5M321 290.5h1.5M227 313h1.5M332.5 299h1.5M313.5 270h1.5M241 325.5h1.5M323.5 273h1.5M234 308.5h1.5M336 301h1.5M321 286.5h1.5M337.5 303h1.5M223.5 308h1.5M228.5 311.5h1.5M224 312h1.5M315 281.5h1.5M244.5 323.5h1.5M297.5 300h1.5M330 289.5h1.5M287 307h1.5M239 309.5h1.5M228.5 317.5h1.5M267.5 310.5h1.5M284 307h1.5M337 308h1.5M230 305.5h1.5M338 313h1.5M235 317.5h1.5M230.5 308h1.5M307 291h1.5M295.5 291h1.5M227.5 319.5h1.5M332.5 298.5h1.5M295 298h1.5M222 314h1.5M268.5 320.5h1.5M238 309h1.5M337 316.5h1.5M243 315h1.5M296 292h1.5M280.5 285.5h1.5M250.5 310.5h1.5M246 323.5h1.5M222.5 307h1.5M255.5 316.5h1.5M265.5 302h1.5M213.5 307.5h1.5M256.5 324h1.5M272 313.5h1.5M245 327h1.5M222 308.5h1.5M333.5 305h1.5M304 300h1.5M245.5 317h1.5M311.5 274h1.5M298 295.5h1.5M336.5 304.5h1.5M227 306h1.5M213.5 305.5h1.5M297 294.5h1.5M269.5 317.5h1.5M227 317.5h1.5M211.5 296h1.5M295 294h1.5M271 327.5h1.5M298.5 297.5h1.5M243 320h1.5M330.5 293.5h1.5M281 314.5h1.5M250 324.5h1.5M307.5 286h1.5M243.5 338.5h1.5M220.5 300h1.5M308 286.5h1.5M216 297.5h1.5M285.5 311h1.5M313.5 279.5h1.5M263.5 301.5h1.5M270.5 312.5h1.5M320 285h1.5M332 304h1.5M276 308h1.5M299.5 301h1.5M331 310.5h1.5M277 313.5h1.5M233.5 322.5h1.5M289 303.5h1.5M269.5 322h1.5M332.5 302h1.5M280 292h1.5M326.5 292h1.5M332 305.5h1.5M226 315.5h1.5M275.5 299.5h1.5M296 299.5h1.5M286 302h1.5M314 273h1.5M309 275.5h1.5M250.5 318.5h1.5M335.5 308h1.5M249 322.5h1.5M256 308h1.5M245 315.5h1.5M253 313h1.5M218.5 310.5h1.5M234 314.5h1.5M289 294h1.5M262 321.5h1.5M211.5 301h1.5M260.5 313h1.5M267 313.5h1.5M229 312h1.5M227.5 323.5h1.5M238 323.5h1.5M211.5 305.5h1.5M250.5 302h1.5M262 324.5h1.5M273 339.5h1.5M300.5 294h1.5M328.5 292.5h1.5M298.5 301h1.5M282.5 311.5h1.5M301.5 293.5h1.5M297.5 301h1.5M217.5 305.5h1.5M232.5 317h1.5M310.5 276.5h1.5M338.5 305.5h1.5M291.5 294.5h1.5M225.5 313h1.5M222 301h1.5M287 312h1.5M264.5 317h1.5M253.5 314h1.5M260 321h1.5M273 308.5h1.5M329 291.5h1.5M247 330.5h1.5M305.5 289.5h1.5M265 313h1.5M220.5 308h1.5M306.5 289.5h1.5M273 307h1.5M331.5 298.5h1.5M314.5 263.5h1.5M334.5 305h1.5M254.5 327h1.5M291.5 310.5h1.5M251.5 323.5h1.5M282.5 294h1.5M233 329.5h1.5M264 309.5h1.5M287 309h1.5M307 291h1.5M313.5 263.5h1.5M260 315h1.5M310.5 284.5h1.5M255 312h1.5M261.5 321.5h1.5M312 279.5h1.5M317.5 277h1.5M287.5 313.5h1.5M310 287h1.5M327 301h1.5M338.5 295.5h1.5M217 320h1.5M249.5 328.5h1.5M225 302h1.5M329 310.5h1.5M246.5 325h1.5M221.5 312.5h1.5M322 282h1.5M242.5 334.5h1.5M288.5 299.5h1.5M301.5 289h1.5M293.5 304.5h1.5M241 324.5h1.5M270 309.5h1.5M265 310.5h1.5M218 312.5h1.5M316 267h1.5M274 309h1.5M285.5 310h1.5M291.5 308h1.5M338.5 313.5h1.5M329 294h1.5M247 331.5h1.5M304.5 284.5h1.5M334 308h1.5M311 283h1.5M214 310h1.5M251 312h1.5M227 316.5h1.5M261 315h1.5M256.5 324h1.5M248 329.5h1.5M246 326.5h1.5M243 328.5h1.5M317.5 281.5h1.5M313.5 272h1.5M279.5 304.5h1.5M254 316h1.5M301 301.5h1.5M244.5 323.5h1.5M272 304.5h1.5M252.5 319.5h1.5M329.5 301h1.5M321 278.5h1.5M253 320.5h1.5M283 316.5h1.5M283.5 306h1.5M211.5 297h1.5M233 326h1.5M246 330h1.5M286 294h1.5M302 288.5h1.5M220 311.5h1.5M252.5 315.5h1.5M221 317.5h1.5M291 298.5h1.5M334 301.5h1.5M287 302.5h1.5M253.5 310.5h1.5M214 297.5h1.5M314 262.5h1.5M239.5 313h1.5M213.5 313h1.5M227.5 311h1.5M316.5 268h1.5M243 325.5h1.5M214.5 308h1.5M217.5 313.5h1.5M262.5 318.5h1.5M253 310.5h1.5M237 319.5h1.5M270.5 312h1.5M318.5 282.5h1.5M295 311.5h1.5M326 290h1.5M302 306h1.5M231.5 314h1.5M239.5 320.5h1.5M231 311.5h1.5M323.5 284h1.5M286 303h1.5M301.5 304h1.5M265.5 311.5h1.5M323.5 289h1.5M213 292.5h1.5M312 279.5h1.5M326 262.5h1.5M234.5 312.5h1.5M225.5 321.5h1.5M285.5 300h1.5M219.5 314h1.5M253.5 312.5h1.5M243 328h1.5M257.5 307h1.5M252.5 311.5h1.5M267.5 316h1.5M272.5 308.5h1.5M256 307h1.5M331 299h1.5M275 307.5h1.5M275 316h1.5M266 318h1.5M290 305.5h1.5M280 301.5h1.5M254.5 314.5h1.5M332.5 298.5h1.5M218 314.5h1.5M301 292.5h1.5M306.5 287.5h1.5M282 304.5h1.5M228.5 319h1.5M308.5 298.5h1.5M303.5 311.5h1.5M215 302.5h1.5M262.5 313h1.5M318.5 271h1.5M211.5 302.5h1.5M217.5 314.5h1.5M308.5 290.5h1.5M253.5 311h1.5M311.5 273.5h1.5M319.5 286h1.5M284 301.5h1.5M214 300.5h1.5M314.5 271h1.5M328.5 283h1.5M244.5 319h1.5M322 280.5h1.5M254 316.5h1.5M223 310.5h1.5M305.5 288.5h1.5M333 296.5h1.5M217.5 300.5h1.5M317.5 277.5h1.5M242 318h1.5M271.5 325h1.5M328 304h1.5M233.5 317.5h1.5M311.5 279h1.5M223 313h1.5M237 322.5h1.5M257 325h1.5M261.5 312.5h1.5M219 313.5h1.5M232.5 311.5h1.5M250 312.5h1.5M302.5 282h1.5M222 312h1.5M277.5 310.5h1.5M281.5 310h1.5M255.5 331h1.5M211.5 316h1.5M317 275h1.5M271.5 303.5h1.5M273 319.5h1.5M334.5 308h1.5M307.5 280.5h1.5M299.5 301h1.5M265.5 306.5h1.5M269.5 322h1.5M221 294.5h1.5M301 290.5h1.5M309.5 282.5h1.5M290 306h1.5M316 263h1.5M312 280h1.5M284 304h1.5M219.5 315h1.5M231.5 330h1.5M322 284h1.5M267 313h1.5M261 311h1.5M225.5 304.5h1.5M270 310h1.5M321.5 274.5h1.5M328.5 292h1.5M325.5 285h1.5M314 279.5h1.5M239.5 320.5h1.5M314 270h1.5M226.5 314h1.5M288 309h1.5M293.5 293h1.5M297 295h1.5M289 301h1.5M299 303.5h1.5M215 305h1.5M287.5 315h1.5M256.5 331h1.5M224.5 310.5h1.5M249.5 319.5h1.5M298.5 295.5h1.5M256 321h1.5M297.5 303.5h1.5M226.5 317.5h1.5M322 283.5h1.5M279 314h1.5M249.5 315h1.5M233 322.5h1.5M307.5 295.5h1.5M223 310h1.5M328 288.5h1.5M306 278.5h1.5M278.5 305h1.5M332.5 291h1.5M242.5 326h1.5M300 296.5h1.5M229.5 320h1.5M270 312.5h1.5M222 313.5h1.5M321 280.5h1.5M212 299.5h1.5M287 302.5h1.5M260.5 320.5h1.5M252.5 318h1.5M313.5 278.5h1.5M334.5 295h1.5M228.5 326h1.5M307.5 287h1.5M301 296.5h1.5M261.5 314.5h1.5M232.5 312.5h1.5M241 333.5h1.5M290.5 301.5h1.5M268 303.5h1.5M301.5 293h1.5M260 320.5h1.5M279.5 299h1.5M281.5 305h1.5M222.5 308h1.5M296.5 290.5h1.5M289.5 303.5h1.5M326 283.5h1.5M258.5 311.5h1.5M242.5 343h1.5M336.5 302h1.5M231 326h1.5M293.5 299h1.5M299.5 297.5h1.5M268 325.5h1.5M241 335h1.5M264 328h1.5M319 269.5h1.5M309.5 277h1.5M277 304h1.5M333 293.5h1.5M280 299h1.5M308 288h1.5M293 292h1.5M276.5 306.5h1.5M258 319.5h1.5M291 297h1.5M212.5 313h1.5M309.5 293.5h1.5M224 313.5h1.5M332.5 300.5h1.5M334.5 310h1.5M232 315h1.5M219 312.5h1.5M248.5 323h1.5M306.5 288h1.5M335 303.5h1.5M324 279.5h1.5M257 326h1.5M298 300.5h1.5M226.5 312h1.5M232 313.5h1.5M217.5 311.5h1.5M292.5 301.5h1.5M309 280.5h1.5M316 280.5h1.5M319.5 308.5h1.5M271 310.5h1.5M331 305h1.5M217.5 310.5h1.5M324.5 303.5h1.5M338 304h1.5M257.5 322h1.5M300.5 299.5h1.5M235 311h1.5M234.5 321h1.5M280 310h1.5M269 322.5h1.5M222 318h1.5M266.5 315.5h1.5M238.5 313h1.5M331 287.5h1.5M291.5 299.5h1.5M297 300h1.5M321.5 279.5h1.5M271 303.5h1.5M234 323.5h1.5M228 312.5h1.5M278 296h1.5M325 287.5h1.5M290.5 308h1.5M295 304h1.5M255.5 311.5h1.5M297 291.5h1.5M298 294.5h1.5M227.5 314h1.5M334.5 301h1.5M314 274.5h1.5M306 292.5h1.5M331.5 297h1.5M283.5 306h1.5M241 321h1.5M319.5 263h1.5M306.5 287h1.5M255 311h1.5M304.5 287.5h1.5M234.5 325.5h1.5M222 315.5h1.5M289 306h1.5M316.5 281h1.5M227.5 300.5h1.5M287.5 303h1.5M263 311h1.5M330 297h1.5M229.5 313h1.5M328.5 292.5h1.5M225.5 311h1.5M299.5 303h1.5M222.5 315h1.5M314 288.5h1.5M232.5 315h1.5M235.5 324h1.5M299 297.5h1.5M236.5 327h1.5M324 287.5h1.5M294 308h1.5M242.5 330.5h1.5M239.5 318.5h1.5M289 297h1.5M248 316h1.5M296.5 297.5h1.5M303 273.5h1.5M281 310.5h1.5M252.5 313.5h1.5M225 322.5h1.5M300 297.5h1.5M293 304.5h1.5M248.5 326.5h1.5M252 315.5h1.5M292 305.5h1.5M236.5 320h1.5M235.5 316h1.5M227.5 317h1.5M325.5 280h1.5M290.5 296h1.5M276.5 306h1.5M272 311h1.5M268 336h1.5M214.5 309h1.5M321.5 276h1.5M299.5 304.5h1.5M301.5 303.5h1.5M274 308h1.5M233.5 315.5h1.5M239.5 327h1.5M301.5 296h1.5M291 304.5h1.5M287.5 313.5h1.5M258.5 318h1.5M302 293.5h1.5M236.5 321.5h1.5M223 311.5h1.5M268 308.5h1.5M219.5 311h1.5M288.5 301.5h1.5M255 318h1.5M287 314.5h1.5M236.5 317.5h1.5M226 314.5h1.5M220 306h1.5M271 304.5h1.5M218.5 306.5h1.5M331.5 297h1.5M327.5 294h1.5M257 314.5h1.5M230 314.5h1.5M262 320.5h1.5M257 309.5h1.5M292 309h1.5M282.5 314.5h1.5M222 320h1.5M241.5 313h1.5M250.5 312h1.5M226 310h1.5M217 299h1.5M305 293h1.5M253 320.5h1.5M269.5 324h1.5M308.5 288h1.5M322 294h1.5M221 296h1.5M317.5 272h1.5M275 307.5h1.5M334 296h1.5M219 304.5h1.5M239.5 311h1.5M246.5 326.5h1.5M287 308h1.5M246.5 327.5h1.5M249 322h1.5M255 319h1.5M317 273.5h1.5M293 295h1.5M246.5 337.5h1.5M281 315h1.5M240.5 319.5h1.5M215.5 316.5h1.5M260 316.5h1.5M254.5 316.5h1.5M323.5 289.5h1.5M236 314h1.5M301.5 298h1.5M216.5 307.5h1.5M289 288.5h1.5M265.5 301.5h1.5M337 313.5h1.5M319 275h1.5M213.5 299h1.5M316 265.5h1.5M302.5 300.5h1.5M279.5 296.5h1.5M285 304h1.5M322.5 277.5h1.5M310.5 275h1.5M216 311h1.5M309 297h1.5M305 276h1.5M328.5 294h1.5M319.5 281.5h1.5M219 304h1.5M320 280h1.5M232.5 319h1.5M267.5 312.5h1.5M326.5 286.5h1.5M250.5 323h1.5M335.5 294.5h1.5M245 323.5h1.5M247 328h1.5M301.5 291h1.5M330.5 298.5h1.5M329.5 299.5h1.5M228.5 311.5h1.5M241 323.5h1.5M230 330h1.5M240.5 320h1.5M277 301.5h1.5M320 280.5h1.5M273 300h1.5M320 278h1.5M223.5 316.5h1.5M244 329h1.5M262 305.5h1.5M310 295h1.5M327 282h1.5M313.5 274.5h1.5M304.5 292.5h1.5M229.5 315h1.5M268.5 315h1.5M240.5 323.5h1.5M282 331h1.5M314 288h1.5M318 284.5h1.5M269 314.5h1.5M288.5 297h1.5M257.5 328h1.5M254.5 316h1.5M244 317.5h1.5M257.5 334h1.5M305 293.5h1.5M319.5 286h1.5M328.5 294h1.5M236.5 324.5h1.5M271.5 314h1.5M309 284.5h1.5M333.5 305h1.5M323 285.5h1.5M316.5 277.5h1.5M327.5 289.5h1.5M262.5 323.5h1.5M322.5 289.5h1.5M239 285h1.5M319 289h1.5M258 318.5h1.5M271.5 313.5h1.5M255 318h1.5M212.5 303.5h1.5M271 317h1.5M332 298.5h1.5M259 324.5h1.5M279.5 302h1.5M289.5 303h1.5M308.5 285.5h1.5M217.5 294.5h1.5M230 318h1.5M324.5 287h1.5M253.5 309.5h1.5M246.5 330.5h1.5M333.5 298.5h1.5M258 318.5h1.5M321 278.5h1.5M337.5 315.5h1.5M294 297.5h1.5M218.5 292.5h1.5M246 318h1.5M252.5 318h1.5M318 278h1.5M266 309.5h1.5M250 325h1.5M243 310.5h1.5M298 293h1.5M321.5 308.5h1.5M305 289h1.5M275 311h1.5M337 302h1.5M294 306h1.5M329 287h1.5M244 325h1.5M320 277h1.5M292 306h1.5M274.5 310.5h1.5M278 306.5h1.5M287 294h1.5M308.5 291h1.5M239 326h1.5M332 307h1.5M272.5 314h1.5M238.5 311h1.5M235.5 317h1.5M225.5 305h1.5M298 311.5h1.5M236.5 314h1.5M339 295h1.5M238.5 328.5h1.5M220.5 306.5h1.5M254.5 323.5h1.5M329 292h1.5M265 311h1.5M326 290h1.5M270 307h1.5M296.5 299h1.5M317.5 272h1.5M246.5 328.5h1.5M214 302.5h1.5M287.5 309h1.5M280.5 301.5h1.5M292 303h1.5M252.5 320.5h1.5M294 297h1.5M218 315h1.5M334.5 308.5h1.5M303.5 299.5h1.5M237 316.5h1.5M279 279h1.5M323 251h1.5M212 304h1.5M239 330h1.5M298 304h1.5M312.5 273h1.5M246.5 331h1.5M312 278h1.5M297.5 293h1.5M217.5 318h1.5M230 309h1.5M254 329h1.5M333.5 297h1.5M212 298.5h1.5M241.5 321.5h1.5M290.5 297h1.5M333 298h1.5M333.5 294h1.5M332 300.5h1.5M315 276.5h1.5M301 294h1.5M233.5 323h1.5M318.5 272h1.5M285 307h1.5M235.5 324.5h1.5M305.5 293.5h1.5M335 298.5h1.5M245.5 331.5h1.5M240.5 318.5h1.5M310 283.5h1.5M323 285h1.5M314.9 347.3h1.5M313 240h1.5M316 246h1.5" stroke="#21a246" stroke-width="1.5" fill="none"/>
<path d="M211.8 306.2h0M213.0 305.3h0M214.3 305.8h0M215.5 305.7h0M216.8 305.3h0M218.0 305.6h0M219.3 306.6h0M220.5 306.5h0M221.8 309.0h0M223.0 310.9h0M224.3 312.1h0M225.5 312.3h0M226.7 314.3h0M228.0 313.7h0M229.2 314.1h0M230.5 315.0h0M231.7 314.6h0M233.0 316.4h0M234.2 316.6h0M235.5 316.9h0M236.7 318.8h0M237.9 319.0h0M239.2 319.1h0M240.4 320.6h0M241.7 321.7h0M242.9 322.7h0M244.2 324.0h0M245.4 325.0h0M246.7 326.1h0M247.9 323.9h0M249.2 322.1h0M250.4 319.8h0M251.6 316.6h0M252.9 317.5h0M254.1 317.4h0M255.4 318.5h0M256.6 318.3h0M257.9 318.0h0M259.1 317.1h0M260.4 316.8h0M261.6 316.4h0M262.8 314.9h0M264.1 314.3h0M265.3 312.8h0M266.6 312.2h0M267.8 310.6h0M269.1 309.8h0M270.3 310.0h0M271.6 309.2h0M272.8 308.6h0M274.1 306.4h0M275.3 306.1h0M276.5 304.6h0M277.8 305.3h0M279.0 304.3h0M280.3 304.9h0M281.5 304.6h0M282.8 304.5h0M284.0 304.8h0M285.3 304.5h0M286.5 304.0h0M287.8 303.9h0M289.0 302.7h0M290.2 301.9h0M291.5 301.1h0M292.7 300.2h0M294.0 300.0h0M295.2 299.8h0M296.5 298.5h0M297.7 298.2h0M299.0 296.7h0M300.2 296.0h0M301.4 293.5h0M302.7 292.6h0M303.9 291.1h0M305.2 290.3h0M306.4 289.5h0M307.7 287.7h0M308.9 285.7h0M310.2 281.3h0M311.4 277.3h0M312.7 274.7h0M313.9 272.1h0M315.1 271.4h0M316.4 272.3h0M317.6 274.3h0M318.9 277.3h0M320.1 279.4h0M321.4 280.6h0M322.6 283.4h0M323.9 286.3h0M325.1 288.5h0M326.3 290.1h0M327.6 292.0h0M328.8 295.0h0M330.1 296.4h0M331.3 299.0h0M332.6 300.8h0M333.8 302.1h0M335.1 303.2h0M336.3 304.7h0M337.6 306.3h0M338.8 306.5h0" stroke="#000" stroke-width="3.9" fill="none" stroke-linecap="round"/>
<text x="215.4" y="238.6" font-size="13.6" text-anchor="start" font-weight="bold" font-style="italic" >xonAsbcCD</text>
</g>
<g id="plotD1">
<path d="M50.7 375.6H181.0M50.7 396.0H181.0M50.7 416.5H181.0M50.7 436.9H181.0M50.7 457.3H181.0M50.7 477.8H181.0M50.7 498.2H181.0M50.7 518.6H181.0M106.4 375.6V518.6M163.2 375.6V518.6M50.7 375.6V518.6" stroke="#d9d9d9" stroke-width="0.9" fill="none"/>
<path d="M67.5 459.5h1.5M123.5 442.5h1.5M157 456.5h1.5M96.5 446.5h1.5M137 448h1.5M94.5 431.5h1.5M83.5 463.5h1.5M159.5 454h1.5M62.5 483h1.5M171.5 458h1.5M97 435.5h1.5M89 437h1.5M108 439h1.5M175.5 473.5h1.5M127 441.5h1.5M145.5 457.5h1.5M130.5 445h1.5M169 464.5h1.5M76.5 456.5h1.5M140.5 472.5h1.5M105.5 432h1.5M117.5 460.5h1.5M172.5 462.5h1.5M82.5 471.5h1.5M148 461.5h1.5M143.5 451h1.5M104.5 438h1.5M137.5 444h1.5M94.5 431h1.5M123.5 446h1.5M166.5 464.5h1.5M124.5 452h1.5M117.5 437.5h1.5M82.5 466h1.5M137 446h1.5M144.5 441.5h1.5M84.5 461h1.5M112.5 447.5h1.5M157 454h1.5M125 432.5h1.5M63 459.5h1.5M82.5 478.5h1.5M104.5 431.5h1.5M135.5 437.5h1.5M139.5 452.5h1.5M64 465.5h1.5M117 442h1.5M93 425h1.5M57 466.5h1.5M88.5 446h1.5M89.5 442h1.5M161 467h1.5M87 454h1.5M94.5 441.5h1.5M80 452h1.5M52 468.5h1.5M112.5 443h1.5M92.5 418.5h1.5M166.5 452.5h1.5M114.5 442.5h1.5M106.5 421.5h1.5M145.5 450.5h1.5M64.5 464h1.5M168.5 450.5h1.5M171.5 458h1.5M148.5 449h1.5M159 459.5h1.5M156 490h1.5M121 450.5h1.5M151.5 439.5h1.5M54 460.5h1.5M159.5 453.5h1.5M138.5 454.5h1.5M123 438.5h1.5M135.5 448h1.5M64.5 460h1.5M173 446h1.5M76.5 461h1.5M124.5 450.5h1.5M166.5 453h1.5M65 476h1.5M83 461.5h1.5M52.5 456h1.5M145 445h1.5M82.5 484.5h1.5M147.5 448h1.5M146 456.5h1.5M92 437.5h1.5M142 448.5h1.5M52 460.5h1.5M55 461.5h1.5M176.5 467.5h1.5M105.5 436.5h1.5M108 431.5h1.5M136 438.5h1.5M136 434h1.5M157 452h1.5M106 404h1.5M101.5 432h1.5M68.5 468.5h1.5M53.5 469.5h1.5M114.5 452.5h1.5M135.5 452.5h1.5M127.5 451h1.5M102 431.5h1.5M76 468h1.5M63.5 450.5h1.5M108.5 429h1.5M86 476h1.5M53.5 448.5h1.5M56.5 467.5h1.5M73 456h1.5M62 457h1.5M175 464h1.5M116 446.5h1.5M102.5 439.5h1.5M52.5 464.5h1.5M158.5 458h1.5M68.5 461h1.5M77.5 470.5h1.5M148.5 462h1.5M152 464h1.5M121.5 449.5h1.5M155.5 451h1.5M128 443.5h1.5M82.5 462h1.5M155.5 448h1.5M55 465.5h1.5M88.5 447h1.5M57.5 473h1.5M55 443.5h1.5M106.5 432h1.5M124.5 456.5h1.5M71.5 463.5h1.5M117.5 453.5h1.5M142.5 460.5h1.5M134.5 446.5h1.5M125 437h1.5M110.5 446h1.5M67 454h1.5M155 465.5h1.5M130.5 442h1.5M96.5 424h1.5M77.5 469.5h1.5M175.5 447.5h1.5M165 454.5h1.5M96.5 432.5h1.5M149.5 449.5h1.5M65.5 466.5h1.5M145.5 458.5h1.5M116 452.5h1.5M132 446.5h1.5M167 457h1.5M95 433h1.5M109.5 433h1.5M90.5 433h1.5M171.5 450.5h1.5M112 441h1.5M83.5 460h1.5M98.5 420h1.5M138.5 453h1.5M137.5 430h1.5M100 436.5h1.5M70 461h1.5M104.5 443h1.5M159 449h1.5M127 444h1.5M56.5 447h1.5M125.5 440.5h1.5M171 444.5h1.5M93.5 418.5h1.5M92 434.5h1.5M51.5 450.5h1.5M162.5 465h1.5M121.5 461h1.5M171 450h1.5M176 457h1.5M72 468h1.5M58 458h1.5M155 461h1.5M63 462h1.5M83 456h1.5M79.5 471h1.5M118.5 454.5h1.5M169.5 454h1.5M76 477.5h1.5M114 436.5h1.5M121 447.5h1.5M98 447.5h1.5M137 449h1.5M169.5 471h1.5M56 467.5h1.5M165.5 471.5h1.5M110 433.5h1.5M141.5 445.5h1.5M61.5 480.5h1.5M54 470h1.5M87.5 457h1.5M89 442h1.5M172.5 453h1.5M140 456h1.5M171 475h1.5M175.5 456.5h1.5M106 426.5h1.5M161 447h1.5M122.5 441.5h1.5M63 453.5h1.5M139 455h1.5M128.5 449h1.5M112.5 433h1.5M99 435h1.5M155.5 428h1.5M92.5 422h1.5M73 460.5h1.5M75.5 457h1.5M153 463.5h1.5M128 454.5h1.5M170 455.5h1.5M59 468.5h1.5M170 467.5h1.5M87 451.5h1.5M157 459.5h1.5M126.5 448h1.5M163 458h1.5M112.5 442.5h1.5M87.5 460.5h1.5M67.5 473h1.5M136.5 442h1.5M148 472.5h1.5M130.5 441h1.5M142.5 450.5h1.5M133.5 452.5h1.5M161 454.5h1.5M176.5 465.5h1.5M143.5 449h1.5M154 466.5h1.5M86 462.5h1.5M167 465.5h1.5M66.5 469.5h1.5M177.5 447.5h1.5M165.5 462h1.5M170 462.5h1.5M129 450.5h1.5M171 454h1.5M116 463h1.5M80.5 457.5h1.5M153.5 469.5h1.5M100.5 445.5h1.5M150.5 459h1.5M64 459.5h1.5M72.5 472h1.5M59.5 453h1.5M133.5 433h1.5M90.5 429h1.5M113.5 450h1.5M129 435h1.5M146 446h1.5M157 436h1.5M135 444h1.5M93 432.5h1.5M113.5 438.5h1.5M159 447.5h1.5M121 450.5h1.5M110.5 428h1.5M107 443h1.5M156 466.5h1.5M108.5 452.5h1.5M118 441h1.5M108 431h1.5M90 424.5h1.5M96 432.5h1.5M149.5 461.5h1.5M164.5 458h1.5M66.5 460h1.5M171 445h1.5M79.5 468h1.5M123.5 432h1.5M162.5 456h1.5M165 454.5h1.5M79.5 461.5h1.5M75.5 472.5h1.5M65.5 449h1.5M132.5 446.5h1.5M133 454.5h1.5M159.5 464.5h1.5M133.5 442h1.5M89.5 440h1.5M145.5 462h1.5M110.5 447h1.5M115 452.5h1.5M144 443.5h1.5M138 443.5h1.5M61.5 469.5h1.5M171 464h1.5M160 449.5h1.5M90.5 455h1.5M167 458.5h1.5M155.5 459.5h1.5M94.5 437h1.5M101.5 440.5h1.5M138 437h1.5M119.5 443h1.5M118.5 434.5h1.5M142.5 465h1.5M58 458.5h1.5M69.5 464h1.5M148.5 456h1.5M130 448h1.5M114 443.5h1.5M95 412h1.5M69.5 460h1.5M97 439.5h1.5M149.5 467h1.5M156.5 444h1.5M178.5 456.5h1.5M76.5 451.5h1.5M131.5 448h1.5M108 436.5h1.5M103 440.5h1.5M114 448.5h1.5M55 466.5h1.5M100 436h1.5M116 445h1.5M126.5 443h1.5M149 454h1.5M152.5 457h1.5M87 453h1.5M69 474h1.5M128 451h1.5M178.5 462.5h1.5M76 468h1.5M157 467.5h1.5M142 438.5h1.5M150 455.5h1.5M170 465.5h1.5M105.5 437h1.5M128.5 446.5h1.5M67.5 469.5h1.5M156 460h1.5M77 467h1.5M98.5 424.5h1.5M155 455.5h1.5M125 443.5h1.5M108.5 418h1.5M174 463h1.5M75 477h1.5M119.5 442h1.5M55 457h1.5M81.5 459.5h1.5M116.5 454h1.5M115 439h1.5M126.5 451.5h1.5M150.5 465h1.5M153 467.5h1.5M107.5 423h1.5M57.5 471h1.5M93 418.5h1.5M58.5 455h1.5M138 452.5h1.5M165 459.5h1.5M136 464.5h1.5M66.5 456h1.5M159 466h1.5M170 462h1.5M141 451.5h1.5M170.5 458h1.5M103.5 427.5h1.5M94.5 445.5h1.5M148 462h1.5M54.5 471h1.5M107 422h1.5M174.5 460.5h1.5M112.5 454.5h1.5M124 447.5h1.5M140 459h1.5M124.5 441.5h1.5M115 445h1.5M90.5 426h1.5M73.5 460h1.5M157.5 462h1.5M88 442.5h1.5M124 439h1.5M115 452h1.5M103 425h1.5M138 411.5h1.5M86.5 458.5h1.5M142 448h1.5M88 455h1.5M66.5 467h1.5M87.5 460h1.5M121.5 444.5h1.5M70.5 476h1.5M143.5 448h1.5M63.5 455.5h1.5M127 451.5h1.5M148.5 461.5h1.5M152 461h1.5M131 463h1.5M97.5 430h1.5M103 443.5h1.5M115.5 455.5h1.5M140 471.5h1.5M113.5 451.5h1.5M156 455h1.5M87 461h1.5M107.5 443h1.5M175 457.5h1.5M84 461h1.5M108 432h1.5M134 488h1.5M165.5 474.5h1.5M135 453h1.5M132 439.5h1.5M60 486h1.5M87 461.5h1.5M158.5 450h1.5M63 461h1.5M123 439.5h1.5M70.5 489.5h1.5M93.5 431h1.5M138 452.5h1.5M123 436h1.5M89 445.5h1.5M166.5 456.5h1.5M89 457.5h1.5M167.5 446.5h1.5M122.5 454.5h1.5M109 446h1.5M89.5 443.5h1.5M165 468.5h1.5M138.5 437h1.5M62 459.5h1.5M168 463h1.5M147.5 456h1.5M164.5 450.5h1.5M154 455.5h1.5M53.5 463h1.5M171.5 455.5h1.5M110.5 437h1.5M57 466h1.5M114 445h1.5M168.5 445.5h1.5M114.5 449h1.5M72.5 471h1.5M144.5 454h1.5M133 458h1.5M177.5 452.5h1.5M151.5 461.5h1.5M154 463.5h1.5M123.5 441h1.5M94 447h1.5M78 460.5h1.5M167 468h1.5M55 463.5h1.5M68.5 458h1.5M111 429h1.5M68 460.5h1.5M69.5 456h1.5M97.5 417.5h1.5M87.5 452h1.5M92.5 427.5h1.5M154.5 453h1.5M148 469h1.5M175.5 461h1.5M76 466h1.5M81 474.5h1.5M172.5 470h1.5M139 459.5h1.5M57 455h1.5M92.5 428.5h1.5M121.5 453.5h1.5M82 465.5h1.5M164.5 457h1.5M110.5 432h1.5M72.5 457h1.5M79.5 477h1.5M53.5 473h1.5M66 453.5h1.5M92 426.5h1.5M136.5 439h1.5M88.5 456h1.5M110 428h1.5M107.5 435.5h1.5M75 477.5h1.5M87 455.5h1.5M165.5 454h1.5M110.5 462.5h1.5M138 443.5h1.5M87 460.5h1.5M151 452.5h1.5M54 476h1.5M144 480.5h1.5M101 423h1.5M114 453h1.5M136.5 442.5h1.5M164 454.5h1.5M82.5 462.5h1.5M158 456h1.5M90 444h1.5M145.5 456h1.5M96 422.5h1.5M74 462.5h1.5M91 441h1.5M77.5 471.5h1.5M72.5 464h1.5M116 454.5h1.5M115 442h1.5M66 473.5h1.5M123.5 451h1.5M177.5 455h1.5M125 434.5h1.5M55 456h1.5M71.5 481h1.5M173 461h1.5M136 446h1.5M55.5 468h1.5M97 427.5h1.5M131.5 455h1.5M116.5 448h1.5M152 455.5h1.5M68.5 463.5h1.5M118.5 451h1.5M98.5 419.5h1.5M130 454.5h1.5M90 410.5h1.5M126 454.5h1.5M163 453h1.5M83.5 464h1.5M121 454h1.5M166.5 463.5h1.5M89.5 434.5h1.5M161 452.5h1.5M85.5 468.5h1.5M106 447.5h1.5M72 440h1.5M51.5 463.5h1.5M101 437.5h1.5M174 471h1.5M147 467.5h1.5M121.5 447.5h1.5M79 471.5h1.5M158 460h1.5M170.5 467h1.5M143 453h1.5M150.5 447h1.5M69 472h1.5M69 468.5h1.5M147.5 465h1.5M121 441h1.5M96 433h1.5M85.5 466h1.5M166.5 465h1.5M118 445.5h1.5M170 463h1.5M54.5 463.5h1.5M172.5 444.5h1.5M78.5 463.5h1.5M54.5 458h1.5M113.5 435.5h1.5M96.5 403h1.5M125.5 445h1.5M91 429.5h1.5M109 439h1.5M83 468h1.5M83 469h1.5M76 453.5h1.5M61.5 468.5h1.5M171 453.5h1.5M90 438h1.5M148.5 446.5h1.5M170 460h1.5M91.5 425.5h1.5M85.5 468h1.5M97.5 432h1.5M160.5 466.5h1.5M73 456.5h1.5M95 434h1.5M102 435h1.5M76.5 462.5h1.5M104.5 421.5h1.5M127 439.5h1.5M163 467.5h1.5M110.5 435h1.5M147 451h1.5M175.5 455.5h1.5M128.5 435h1.5M85 453.5h1.5M141 452.5h1.5M59.5 461h1.5M161.5 449.5h1.5M89.5 398.5h1.5M66 457h1.5M118.5 452h1.5M113.5 437.5h1.5M170.5 452h1.5M127 455.5h1.5M112 444.5h1.5M146 457.5h1.5M129 439h1.5M58.5 473h1.5M120.5 450.5h1.5M63.5 463.5h1.5M168.5 454.5h1.5M73.5 460.5h1.5M94 436h1.5M74.5 466.5h1.5M166 454h1.5M81.5 460.5h1.5M90.5 435.5h1.5M63.5 467.5h1.5M172 469h1.5M151 448.5h1.5M55 466.5h1.5M54 456.5h1.5M62 458.5h1.5M156.5 460h1.5M158 458h1.5M155.5 456h1.5M144.5 452h1.5M61 461.5h1.5M52 453.5h1.5M125 458.5h1.5M152.5 449.5h1.5M164.5 454h1.5M56 458h1.5M142.5 460h1.5M161 465h1.5M169 434h1.5M138 456h1.5M161.5 451.5h1.5M153 470h1.5M72.5 485.5h1.5M98.5 423.5h1.5M61 450h1.5M129.5 442h1.5M55.5 472h1.5M165 444.5h1.5M169.5 447.5h1.5M137 438.5h1.5M131.5 461.5h1.5M92 430h1.5M139 442.5h1.5M151.5 463h1.5M166 456h1.5M128.5 444h1.5M100.5 424h1.5M148 440h1.5M116 447.5h1.5M168 459.5h1.5M146.5 462h1.5M166 455.5h1.5M91 441h1.5M115.5 451.5h1.5M168 462h1.5M85.5 469h1.5M109 436h1.5M172 455.5h1.5M162 458h1.5M123 444h1.5M112.5 430h1.5M75 467h1.5M96.5 433.5h1.5M121 450h1.5M117.5 441.5h1.5M145.5 462h1.5M66 468h1.5M153.5 446.5h1.5M150 447.5h1.5M102 429.5h1.5M159.5 445.5h1.5M59 466h1.5M161.5 463.5h1.5M64.5 451.5h1.5M71 469h1.5M121.5 460.5h1.5M78.5 461h1.5M137 440h1.5M75.5 457.5h1.5M83 467.5h1.5M104.5 422h1.5M147.5 454.5h1.5M156 458h1.5M90 425.5h1.5M134.5 453.5h1.5M120 450.5h1.5M63.5 460.5h1.5M165 482h1.5M127 436.5h1.5M93 430h1.5M177.5 457.5h1.5M101.5 425.5h1.5M93 446h1.5M128.5 452.5h1.5M151 447.5h1.5M126.5 447h1.5M83.5 463.5h1.5M111.5 438h1.5M138.5 445h1.5M62.5 466.5h1.5M94 435h1.5M80.5 466h1.5M175 453.5h1.5M140.5 448h1.5M166.5 449.5h1.5M105 438.5h1.5M57.5 467h1.5M145 461h1.5M118 468.5h1.5M153.5 460h1.5M170.5 457h1.5M148 472h1.5M156.5 454.5h1.5M143.5 450.5h1.5M145 458.5h1.5M173 453h1.5M68 451h1.5M172.5 454h1.5M121 452.5h1.5M78.5 464h1.5M137 440.5h1.5M139.5 457h1.5M69.5 465.5h1.5M135.5 444.5h1.5M122.5 444.5h1.5M55 465.5h1.5M84.5 470h1.5M127 448.5h1.5M114.5 450.5h1.5M72.5 472.5h1.5M110.5 439.5h1.5M59.5 472h1.5M54.5 459h1.5M129 443h1.5M141.5 449.5h1.5M90 414.5h1.5M159.5 479.5h1.5M129.5 455.5h1.5M156 469.5h1.5M58 460.5h1.5M165 446h1.5M57 464h1.5M120 432h1.5M136.5 444.5h1.5M130 444.5h1.5M177 463h1.5M154.5 454h1.5M177 454h1.5M97 431h1.5M99 427h1.5M77.5 462h1.5M130.5 443h1.5M54 475.5h1.5M115.5 460.5h1.5M95 431h1.5M106 431h1.5M122.5 447h1.5M75.5 469.5h1.5M99.5 447h1.5M161.5 461h1.5M55 449h1.5M83.5 453h1.5M84 463.5h1.5M177 461h1.5M106.5 425h1.5M65 470.5h1.5M84 464h1.5M113.5 457.5h1.5M90 438h1.5M65 471.5h1.5M132.5 449.5h1.5M118.5 431h1.5M165 451.5h1.5M154.5 446h1.5M154.5 461h1.5M89 443.5h1.5M122 444.5h1.5M155.5 463.5h1.5M169 447h1.5M137 455.5h1.5M80.5 452.5h1.5M80 474.5h1.5M102.5 439h1.5M164 461.5h1.5M57.5 458.5h1.5M74 471.5h1.5M165 468h1.5M108.5 437.5h1.5M89.5 448h1.5M85 467.5h1.5M92 423.5h1.5M160 457.5h1.5M173.5 465h1.5M110.5 439.5h1.5M89 447h1.5M96.5 432h1.5M127 450.5h1.5M115.5 444.5h1.5M82.5 457h1.5M99 436h1.5M134 452h1.5M73.5 457h1.5M95.5 428h1.5M82.5 457h1.5M130.5 448.5h1.5M76.5 452.5h1.5M68.5 468h1.5M137.5 433.5h1.5M113.5 450h1.5M116.5 455.5h1.5M65 474.5h1.5M130 448h1.5M71 461h1.5M124.5 449h1.5M102.5 434h1.5M91.5 416.5h1.5M88.5 446h1.5M152.5 455.5h1.5M120 456.5h1.5M97 437.5h1.5M176 465h1.5M97.5 434h1.5M116.5 450.5h1.5M92.5 425h1.5M87 453h1.5M74 469h1.5M169.5 465.5h1.5M142 435h1.5M108.5 423.5h1.5M128 441h1.5M167.5 457h1.5M159.5 461.5h1.5M134.5 446h1.5M156.5 451h1.5M85.5 467.5h1.5M155.5 459.5h1.5M138.5 463h1.5M121 442h1.5M130.5 433.5h1.5M96.5 424h1.5M67.5 463.5h1.5M75.5 464h1.5M99.5 430h1.5M56.5 454h1.5M165.5 465.5h1.5M168.5 461h1.5M149.5 471h1.5M171 471.5h1.5M92.5 429h1.5M159 471.5h1.5M105 426.5h1.5M176 458h1.5M153 461.5h1.5M107.5 435.5h1.5M54.5 470.5h1.5M113 443.5h1.5M82 457.5h1.5M130 452.5h1.5M133.5 448.5h1.5M138 449.5h1.5M92.5 418h1.5M137.5 446.5h1.5M121.5 449h1.5M159.5 451h1.5M151.5 440h1.5M138 448h1.5M63 469.5h1.5M178 451h1.5M166 465h1.5M144 447.5h1.5M116.5 437h1.5M155 453.5h1.5M92.5 419.5h1.5M144.5 458.5h1.5M172 446.5h1.5M152 473h1.5M77 468.5h1.5M87.5 453h1.5M91.5 427.5h1.5M83.5 453.5h1.5M91.5 417.5h1.5M123 440h1.5M134.5 441h1.5M162.5 460.5h1.5M113.5 444.5h1.5M127 461h1.5M98.5 428.5h1.5M110 424h1.5M102 432.5h1.5M163.5 454.5h1.5M53 447.5h1.5M58.5 475h1.5M152 463.5h1.5M70 478h1.5M99 441.5h1.5M96.5 429h1.5M71.5 475.5h1.5M171.5 457h1.5M91 440h1.5M158 459.5h1.5M89.5 444h1.5M58.5 460.5h1.5M76 470.5h1.5M57 469.5h1.5M95.5 421.5h1.5M150.5 464h1.5M146 463.5h1.5M90.5 440.5h1.5M126.5 452.5h1.5M87 447.5h1.5M102.5 422h1.5M139 449h1.5M115.5 441h1.5M91 421h1.5M92 425h1.5M175.5 455.5h1.5M51.5 451.5h1.5M166.5 454h1.5M76 469h1.5M120 451h1.5M171.5 459h1.5M134 445.5h1.5M84 461h1.5M167.5 455.5h1.5M118 473.5h1.5M120.5 451.5h1.5M125 455h1.5M57 468h1.5M137 446h1.5M71 469h1.5M87.5 451h1.5M142.5 446.5h1.5M104.5 453h1.5M153 458h1.5M163.5 471.5h1.5M102.5 434.5h1.5M77.5 458h1.5M168.5 469h1.5M64.5 461h1.5M72.5 454.5h1.5M117 453h1.5M71 471.5h1.5M164 433h1.5M60.5 462h1.5M160 455.5h1.5M125.5 452h1.5M116 447h1.5M152 460.5h1.5M67.5 460.5h1.5M78 461h1.5M125.5 455.5h1.5M95.5 421.5h1.5M142.5 450h1.5M107.5 436h1.5M102.5 431h1.5M97 431.5h1.5M167.5 460.5h1.5M175 441.5h1.5M145 463.5h1.5M53.5 472.5h1.5M103 442h1.5M167.5 465h1.5M171 463h1.5M63 462h1.5M162.5 456h1.5M144.5 450.5h1.5M94 427h1.5M74.5 461.5h1.5M58 458.5h1.5M113 432h1.5M60.5 453h1.5M102 423h1.5M56.5 454h1.5M166.5 473.5h1.5M150 465h1.5M76.5 454.5h1.5M89 445.5h1.5M81.5 473.5h1.5M123 452h1.5M161.5 448h1.5M146 459.5h1.5M79 452.5h1.5M71.5 464.5h1.5M57.5 461h1.5M85 459h1.5M145 454h1.5M178.5 454.5h1.5M138.5 468.5h1.5M167 460h1.5M119.5 444.5h1.5M140 453h1.5M98.5 443h1.5M59 468h1.5M119.5 450.5h1.5M54 476.5h1.5M67.5 460.5h1.5M145.5 443h1.5M122 432.5h1.5M109 439h1.5M57.5 489.5h1.5M173 448.5h1.5M70 466.5h1.5M102.5 447.5h1.5M163.5 465h1.5M175.5 455h1.5M155.5 446.5h1.5M145.5 457h1.5M122 440.5h1.5M155.5 471h1.5M161 454.5h1.5M169 452.5h1.5M123 447h1.5M69 453.5h1.5M105.5 437h1.5M92 413.5h1.5M74 449.5h1.5M89.5 438.5h1.5M176.5 459.5h1.5M149.5 458h1.5M84 464.5h1.5M86.5 427h1.5M66 450h1.5M56.5 462h1.5M127.5 451h1.5M152.5 457.5h1.5M76.5 450.5h1.5M163.5 465h1.5M59.5 431.5h1.5M136 442h1.5M146 452.5h1.5M99.5 434h1.5M144 442h1.5M75 468.5h1.5M128.5 436.5h1.5M132 438h1.5M92.5 416.5h1.5M84.5 476h1.5M175.5 460h1.5M63.5 462.5h1.5M118 449.5h1.5M109.5 435.5h1.5M106 432.5h1.5M65 475.5h1.5M129.5 453h1.5M127.5 451h1.5M177.5 457.5h1.5M101 431h1.5M174.5 462.5h1.5M106 439.5h1.5M134.5 450.5h1.5M154.5 462.5h1.5M159 441.5h1.5M154.5 471.5h1.5M72 456h1.5M177.5 462h1.5M110 423h1.5M167 463h1.5M87.5 451.5h1.5M158.5 468.5h1.5M56.5 463h1.5M128.5 465h1.5M158.5 453.5h1.5M81 469.5h1.5M159 469h1.5M62 470.5h1.5M75 468h1.5M113 441.5h1.5M93.5 433h1.5M118 455h1.5M98 434.5h1.5M107.5 429h1.5M124.5 454h1.5M163.5 458h1.5M175.5 452.5h1.5M141 441.5h1.5M151.5 457.5h1.5M78.5 469h1.5M123 456h1.5M90.5 440h1.5M141.5 455.5h1.5M175.5 467h1.5M137 436h1.5M117.5 448h1.5M125.5 447.5h1.5M80.5 465.5h1.5M57 475h1.5M166.5 477h1.5M136 445.5h1.5M160 451.5h1.5M95.5 424.5h1.5M72.5 465h1.5M154.5 455h1.5M68 472.5h1.5M138.5 437.5h1.5M75 469.5h1.5M156 458.5h1.5M165.5 463.5h1.5M106 430h1.5M55 465h1.5M103.5 443.5h1.5M75 458h1.5M108 434h1.5M89.5 448h1.5M155 448.5h1.5M63 467h1.5M80.5 471.5h1.5M118 441.5h1.5M109.5 424.5h1.5M96.5 432.5h1.5M74.5 468h1.5M67 473h1.5M102 442h1.5M126 446h1.5M156 465h1.5M171 451.5h1.5M103 429h1.5M129 440.5h1.5M149.5 440.5h1.5M55 470.5h1.5M93.5 423h1.5M157 466h1.5M122.5 457h1.5M107.5 442h1.5M138 449h1.5M67.5 467h1.5M125.5 443.5h1.5M52.5 473.5h1.5M107.5 420h1.5M52 463.5h1.5M108.5 429.5h1.5M177.5 460h1.5M93.5 420.5h1.5M178.5 450h1.5M107.5 451.5h1.5M107.5 430h1.5M168 454h1.5M103.5 435h1.5M166 448.5h1.5M107.5 430.5h1.5M51.5 459h1.5M177 473.5h1.5M74 462h1.5M53.5 465.5h1.5M58 475.5h1.5M160.5 462h1.5M87.5 471h1.5M122.5 437.5h1.5M154 455.5h1.5M84 459.5h1.5M60.5 463.5h1.5M155.5 451h1.5M168.5 454.5h1.5M99.5 450h1.5M171.5 453h1.5M92.5 414.5h1.5M74.5 448h1.5M120 456h1.5M120.5 436h1.5M74.5 474h1.5M152.5 455h1.5M124.5 437h1.5M173.5 450h1.5M128 453.5h1.5M112.5 435.5h1.5M144.5 454.5h1.5M171.5 472h1.5M73.5 469h1.5M162.5 470h1.5M178 469h1.5M88.5 456.5h1.5M148 450.5h1.5M103.5 429.5h1.5M110.5 440h1.5M93 423h1.5M112 446h1.5M172.5 453h1.5M145.5 463h1.5M81.5 455h1.5M142.5 449h1.5M59.5 458.5h1.5M170.5 454.5h1.5M128.5 460h1.5M76.5 446.5h1.5M170.5 447.5h1.5M138 446.5h1.5M149.5 459.5h1.5M107.5 433h1.5M125 438h1.5M151.5 464h1.5M141.5 447h1.5M82 463.5h1.5M128.5 440h1.5M139 446h1.5M70.5 474h1.5M94.5 432.5h1.5M87 457h1.5M162 453h1.5M65 460h1.5M94 432h1.5M116 456.5h1.5M84 474h1.5M174 446h1.5M113 452.5h1.5M165 472.5h1.5M170 481h1.5M171 451.5h1.5M163.5 471.5h1.5M121.5 456h1.5M89 445.5h1.5M89 448.5h1.5M93 421.5h1.5M139 443h1.5M96.5 425h1.5M66 461.5h1.5M119.5 448.5h1.5M144 463.5h1.5M156.5 457.5h1.5M92 416.5h1.5M100 426h1.5M167.5 459h1.5M152.5 451h1.5M149 444h1.5M144 456.5h1.5M92 427h1.5M74.5 470h1.5M65.5 463.5h1.5M109 431.5h1.5M100 434h1.5M172 467h1.5M96 431.5h1.5M58.5 462h1.5M153 454.5h1.5M133 446h1.5M80 479h1.5M109.5 442h1.5M61 473h1.5M178 468.5h1.5M51 462h1.5M88 457.5h1.5M90.5 428h1.5M119 442h1.5M170 448h1.5M159.5 453h1.5M153 437.5h1.5M56 454h1.5M120 440h1.5M95 425.5h1.5M142 449.5h1.5M165 467h1.5M84.5 469.5h1.5M164 474h1.5M155 456h1.5M75 467.5h1.5M169 447h1.5M51.5 464.5h1.5M92.5 436h1.5M62.5 467.5h1.5M155 462.5h1.5M55.5 465.5h1.5M92 404h1.5M103 430.5h1.5M79.5 468.5h1.5M94 423h1.5M101 430.5h1.5M175 448.5h1.5M156 460h1.5M177 469.5h1.5M98.5 437.5h1.5M168.5 463.5h1.5M58 470.5h1.5M56.5 454.5h1.5M143.5 453.5h1.5M142.5 456h1.5M64.5 469h1.5M124.5 450h1.5M61.5 466.5h1.5M101.5 448.5h1.5M146.5 457.5h1.5M62.5 452.5h1.5M150.5 463.5h1.5M82.5 457h1.5M116.5 459h1.5M154 450.5h1.5M122.5 435h1.5M177 458.5h1.5M97 440.5h1.5M61.5 462h1.5M63.5 457.5h1.5M86.5 464h1.5M107 436h1.5M173.5 453.5h1.5M145.5 462.5h1.5M144 456h1.5M120 446.5h1.5M137.5 442h1.5M73 469h1.5M68.5 446.5h1.5M58.5 463.5h1.5M176 453h1.5M113 440h1.5M165.5 449.5h1.5M171 461h1.5M86.5 454.5h1.5M62 471h1.5M140 452.5h1.5M96 434h1.5M171 467.5h1.5M141 453h1.5M61.5 466.5h1.5M104 432.5h1.5M143.5 447.5h1.5M131 452.5h1.5M61.5 462h1.5M139.5 432.5h1.5M145.5 462.5h1.5M51.5 452.5h1.5M137 447h1.5M60 472.5h1.5M161.5 462.5h1.5M57 474h1.5M55 458.5h1.5M133 445h1.5M139.5 440h1.5M72.5 467h1.5M107.5 429.5h1.5M131.5 439h1.5M123.5 445.5h1.5M172 459h1.5M154 463.5h1.5M169 458.5h1.5M174.5 452.5h1.5M171.5 463.5h1.5M84.5 457.5h1.5M151 454.5h1.5M97 427.5h1.5M157.5 456.5h1.5M133 464h1.5M133.5 456h1.5M71 468.5h1.5M107.5 431h1.5M112.5 460h1.5M149.5 455h1.5M160.5 459.5h1.5M127 447h1.5M76 447h1.5M120.5 438.5h1.5M119.5 444.5h1.5M174 460h1.5M78 472.5h1.5M89.5 444.5h1.5M125 452h1.5M106 433h1.5M56.5 458.5h1.5M115.5 444h1.5M79.5 475.5h1.5M69.5 470h1.5M136.5 444.5h1.5M55.5 465.5h1.5M94.5 422.5h1.5M76 461.5h1.5M166.5 457h1.5M102.5 430.5h1.5M67.5 465h1.5M152.5 453.5h1.5M127.5 447h1.5M95 432h1.5M121 452h1.5M66.5 478h1.5M153 449h1.5M156.5 471h1.5M129.5 444h1.5M75.5 460.5h1.5M165.5 448h1.5M62.5 466h1.5M55.5 457.5h1.5M102 449h1.5M126.5 438h1.5M173 462.5h1.5M81.5 455.5h1.5M142 464h1.5M105 446.5h1.5M104.5 431h1.5M54 452.5h1.5M55.5 453h1.5M79.5 464h1.5M112.5 444.5h1.5M53.5 467h1.5M72 459h1.5M54 468.5h1.5M64.5 464.5h1.5M82 457.5h1.5M52 458h1.5M81.5 462.5h1.5M171.5 463h1.5M63.5 468h1.5M167 465.5h1.5M96.5 441.5h1.5M100.5 443h1.5M112.5 436h1.5M150.5 452.5h1.5M88.5 440.5h1.5M152 461.5h1.5M167 464h1.5M132.5 426.5h1.5M99.5 431.5h1.5M96.5 446.5h1.5M58 459.5h1.5M130.5 436.5h1.5M139 449h1.5M148.5 461.5h1.5M139.5 440h1.5M136 443h1.5M178.5 456.5h1.5M97.5 428.5h1.5M151.5 449h1.5M86 463.5h1.5M177.5 457.5h1.5M81.5 461h1.5M174.5 452h1.5M165.5 450.5h1.5M62.5 464h1.5M85.5 463.5h1.5M117.5 436.5h1.5M127.5 442h1.5M112.5 439.5h1.5M105 432.5h1.5M131.5 432.5h1.5M169.5 450h1.5M89 454.5h1.5M108.5 426.5h1.5M158.5 447.5h1.5M80.5 472h1.5M67.5 468.5h1.5M99.5 418h1.5M83 473.5h1.5M90.5 437h1.5M136.5 435h1.5M63 473h1.5M95.5 444.5h1.5M158.5 456h1.5M64.5 464h1.5M102.5 436.5h1.5M58.5 460h1.5M61.5 454.5h1.5M120.5 445h1.5M70.5 459h1.5M116 415h1.5M168.5 458h1.5M153.5 468h1.5M59 469h1.5M169 453.5h1.5M166 473h1.5M93 414h1.5M136 464.5h1.5M173 463h1.5M104.5 434h1.5M107 440h1.5M155.5 456.5h1.5M66.5 456.5h1.5M123.5 450.5h1.5M158 450h1.5M99.5 430h1.5M70.5 465h1.5M146.5 465h1.5M55.5 460.5h1.5M53 458.5h1.5M132 457h1.5M139 440h1.5M163.5 475h1.5M123 441h1.5M100.5 436h1.5M133 433.5h1.5M108 423h1.5M146 453.5h1.5M114 453.5h1.5M115 440h1.5M108 432.5h1.5M151.5 453.5h1.5M137 469.5h1.5M88 453.5h1.5M88.5 458h1.5M130 432.5h1.5M158.5 462.5h1.5M100 429.5h1.5M177 468h1.5M162 453h1.5M112 436h1.5M97 429h1.5M115 453.5h1.5M53 441.5h1.5M124.5 454.5h1.5M103 441.5h1.5M91.5 419h1.5M85.5 447.5h1.5M56 471.5h1.5M93 427h1.5M63 454.5h1.5M151.5 455.5h1.5M102.5 439.5h1.5M133.5 454.5h1.5M109.5 466h1.5M123 447.5h1.5M138.5 451h1.5M167.5 454.5h1.5M87.5 454h1.5M91 441h1.5M70 476h1.5M112 427.5h1.5M153 457h1.5M71 463h1.5M119 447h1.5M126 445.5h1.5M135 450.5h1.5M161 460h1.5M145.5 471.5h1.5M95 432.5h1.5M89.5 445.5h1.5M174 455h1.5M151.5 485h1.5M75 452h1.5M84 466.5h1.5M166.5 465h1.5M127 449h1.5M137 444h1.5M64.5 466.5h1.5M137 449.5h1.5M124 443h1.5M76 464.5h1.5M125.5 441.5h1.5M158.5 460.5h1.5M137 454.5h1.5M137 450h1.5M82 468h1.5M177.5 450h1.5M89.5 436h1.5M87 460h1.5M119 438.5h1.5M113.5 454h1.5M123.5 445h1.5M65.5 475h1.5M104 422.5h1.5M51 448h1.5M58.5 459.5h1.5M66 459.5h1.5M93.5 437.5h1.5M77 469h1.5M82.5 480.5h1.5M170 461h1.5M160.5 476h1.5M163.5 464h1.5M71.5 476.5h1.5M176.5 456.5h1.5M75.5 455h1.5M52.5 472.5h1.5M76 462.5h1.5M177 450h1.5M95 426h1.5M125 445h1.5M178 442.5h1.5M153 457.5h1.5M145 450.5h1.5M150 452.5h1.5M149 457h1.5M99 426.5h1.5M151.5 459h1.5M166.5 459.5h1.5M117.5 450h1.5M158 455.5h1.5M145 465.5h1.5M136.5 439.5h1.5M161 460.5h1.5M171 464.5h1.5M61 467h1.5M78 467.5h1.5M174 458h1.5M142 442.5h1.5M171 464h1.5M141.5 439.5h1.5M153.5 455h1.5M171 471h1.5M101.5 437.5h1.5M58.5 462.5h1.5M71.5 449.5h1.5M115.5 436.5h1.5M75 464.5h1.5M122.5 447.5h1.5M108 395.5h1.5M87.5 468.5h1.5M104.5 453h1.5M117.5 464.5h1.5M54.5 465h1.5M108 435h1.5M144 458h1.5M122.5 456.5h1.5M87 445.5h1.5M111.5 444.5h1.5M142.5 446.5h1.5M168.5 466.5h1.5M102 426.5h1.5M111.5 444.5h1.5M102 436.5h1.5M63.5 474.5h1.5M116 435h1.5M111 441h1.5M106 437h1.5M129 455h1.5M153 456.5h1.5M83.5 458h1.5M161 463.5h1.5M114.5 445.5h1.5M150.5 456h1.5M116 450h1.5M165 455.5h1.5M71.5 453h1.5M176 447.5h1.5M63.5 474h1.5M173 463.5h1.5M107 460h1.5M101 427.5h1.5M159 456h1.5M119.5 453h1.5M123.5 447.5h1.5M154.5 460.5h1.5M107.5 425h1.5M154.5 467h1.5M175.5 459.5h1.5M159.5 454.5h1.5M92 435h1.5M130.5 448.5h1.5M143.5 460h1.5M173 458.5h1.5M119.5 440h1.5M162 462h1.5M177.5 458.5h1.5M68.5 463h1.5M160.5 450.5h1.5M162 463.5h1.5M92.5 423h1.5M51.5 473.5h1.5M119.5 448h1.5M123.5 439.5h1.5M127.5 445.5h1.5M111.5 438h1.5M161 471h1.5M125.5 442h1.5M97 423h1.5M70 470h1.5M170 456.5h1.5M74 475.5h1.5M97 427.5h1.5M147 450.5h1.5M89 442.5h1.5M105.5 436h1.5M61.5 496h1.5M108.5 462h1.5M133.5 433h1.5M178.5 453h1.5M68.5 451.5h1.5M176.5 443.5h1.5M111 430.5h1.5M118 439.5h1.5M139 450h1.5M59.5 453h1.5M177.5 455h1.5M175 458.5h1.5M73.5 506h1.5M82.5 464.5h1.5M176 457.5h1.5M71 463h1.5M130.5 450.5h1.5M117.5 460h1.5M104 448.5h1.5M129 447.5h1.5M146 455h1.5M87 458h1.5M131 460h1.5M58.5 486h1.5M102 427h1.5M58 461h1.5M155.5 480h1.5M167.5 475h1.5M103.5 418.5h1.5M108 445.5h1.5M108 411.5h1.5M114.5 449.5h1.5M144.5 451.5h1.5M128.5 445.5h1.5M168 456h1.5M98 429.5h1.5M69.5 467h1.5M140.5 454.5h1.5M174 455.5h1.5M75 459h1.5M97.5 443h1.5M101.5 446h1.5M161 455.5h1.5M153.5 456h1.5M85.5 450h1.5M53 470.5h1.5M94 422h1.5M99 437h1.5M52.5 456.5h1.5M73.5 466.5h1.5M102.5 441.5h1.5M86 460h1.5M122 448h1.5M137.5 455h1.5M56 463h1.5M62.5 470h1.5M149.5 451h1.5M111.5 436.5h1.5M129.5 448.5h1.5M119 445h1.5M176.5 474h1.5M91.5 431h1.5M54.5 458h1.5M103.5 417h1.5M98.5 432.5h1.5M149 460.5h1.5M88 455.5h1.5M165 469h1.5M64.5 454.5h1.5M144 462h1.5M82 467h1.5M154 442.5h1.5M134 432h1.5M176.5 467.5h1.5M85 460h1.5M62.5 461h1.5M60.5 460.5h1.5M166 465.5h1.5M117.5 442h1.5M82 456.5h1.5M148 460h1.5M69.5 467h1.5M53 465h1.5M161.5 451h1.5M87 464h1.5M144 447h1.5M108 432h1.5M162 463.5h1.5M167.5 459.5h1.5M108.5 436.5h1.5M110 441h1.5M133 446h1.5M103.5 430h1.5M73.5 453h1.5M82.5 467.5h1.5M166.5 455h1.5M51 466h1.5M100 425.5h1.5M115 448.5h1.5M123 444h1.5M127.5 443.5h1.5M116.5 453.5h1.5M115.5 436.5h1.5M68 466h1.5M161.5 443h1.5M114.5 436h1.5M95.5 426.5h1.5M105.5 463.5h1.5M123 447.5h1.5M91.5 434h1.5M151 455.5h1.5M138 439h1.5M120.5 447h1.5M115.5 445h1.5M139.5 448h1.5M132 461h1.5M107.5 437.5h1.5M73.5 461.5h1.5M151.5 457.5h1.5M109.5 449.5h1.5M130 444.5h1.5M102 433h1.5M117 442h1.5M79 464h1.5M80 464.5h1.5M167 450h1.5M131 436.5h1.5M130 448.5h1.5M79.5 462h1.5M79 463h1.5M53.5 466.5h1.5M123.5 439h1.5M135.5 465.5h1.5M95 421h1.5M116 459.5h1.5M92.5 418h1.5M135.5 428h1.5M126.5 440h1.5M150 469.5h1.5M148.5 461h1.5M72 463h1.5M172.5 457h1.5M68.5 462h1.5M174 452.5h1.5M147.5 463.5h1.5M102 419h1.5M166 450.5h1.5M139 455h1.5M156 465.5h1.5M165.5 462.5h1.5M177 451h1.5M92.5 429h1.5M125.5 454.5h1.5M161.5 450h1.5M173.5 444h1.5M65.5 461h1.5M96 439.5h1.5M61.5 466h1.5M58 464.5h1.5M170 465h1.5M128.5 457h1.5M136 444.5h1.5M74 473.5h1.5M167 440.5h1.5M112 447h1.5M139.5 420h1.5M164 453h1.5M170.5 467.5h1.5M161 489h1.5M96.5 432h1.5M161 459h1.5M120 452.5h1.5M81 468.5h1.5M162.5 454.5h1.5M57.5 453h1.5M77 464h1.5M55 458.5h1.5M120.5 444h1.5M98.5 431h1.5M88 457h1.5M101 437h1.5M162 457.5h1.5M170 455h1.5M151 455.5h1.5M125.5 433h1.5M173.5 457.5h1.5M82 452.5h1.5M166 458h1.5M72.5 471.5h1.5M172 455h1.5M117.5 442h1.5M59.5 463h1.5M108 439h1.5M177.5 453.5h1.5M114 443.5h1.5M172 451.5h1.5M91.5 420h1.5M58.5 475.5h1.5M152 453h1.5M133 457.5h1.5M155 441.5h1.5M80 477.5h1.5M126.5 455.5h1.5M141.5 452h1.5M139.5 441.5h1.5M107 445h1.5M57.5 462.5h1.5M177.5 467.5h1.5M59 468h1.5M114 444.5h1.5M143 448.5h1.5M118 440.5h1.5M136 455h1.5M140.5 451h1.5M91.5 423.5h1.5M78.5 460.5h1.5M173.5 458.5h1.5M168 460h1.5M97.5 437.5h1.5M162.5 462h1.5M174.5 467h1.5M149.5 461h1.5M110.5 427h1.5M68.5 451h1.5M131 444.5h1.5M85 470.5h1.5M104 429.5h1.5M140.5 439h1.5M125 448.5h1.5M87 462h1.5M164.5 458h1.5M177 456.5h1.5M94.5 435h1.5M173 448.5h1.5M127.5 455.5h1.5M57.5 457h1.5M53.5 465.5h1.5M112 435.5h1.5M108.5 447.5h1.5M152.5 452.5h1.5M134.5 443.5h1.5M67 466.5h1.5M94 423.5h1.5M108 439.5h1.5M170.5 452.5h1.5M141.5 457h1.5M117.5 437.5h1.5M105.5 447h1.5M78 467h1.5M176.5 458h1.5M92 417h1.5M150 455.5h1.5M146 469.5h1.5M102.5 431.5h1.5M115 448.5h1.5M89 456.5h1.5M140 441.5h1.5M161 459.5h1.5M77.5 463.5h1.5M66.5 471h1.5M93.5 425h1.5M149.5 451.5h1.5M106.5 438.5h1.5M68.5 464h1.5M53.5 467h1.5M70.5 461h1.5M165.5 458.5h1.5M130 437h1.5M170.5 458.5h1.5M165 455h1.5M151 467h1.5M153 458h1.5M84.5 453h1.5M81.5 471.5h1.5M132.5 439.5h1.5M135.5 446h1.5M97 408.5h1.5M85 469h1.5M53 457.5h1.5M170 449h1.5M82.5 466.5h1.5M166.5 449h1.5M151 460h1.5M136.5 462.5h1.5M90 447h1.5M160 469h1.5M53.5 478h1.5M88.5 465.5h1.5M127 442.5h1.5M88.5 451.5h1.5M142.5 461h1.5M64 468.5h1.5M120 451h1.5M162.5 453h1.5M162.5 459.5h1.5M68.5 467h1.5M87 458.5h1.5M130.5 450h1.5M57.5 473h1.5M96.5 435.5h1.5M150.5 455h1.5M54.5 479h1.5M106.5 438h1.5M123 441.5h1.5M138 462h1.5M67.5 473.5h1.5M112 432h1.5M78.5 460.5h1.5M126.5 460h1.5M105.5 424h1.5M53 462h1.5M104 429.5h1.5M72 469h1.5M77.5 462h1.5M109.5 439h1.5M104 436.5h1.5M127 459h1.5M125 453h1.5M176 461.5h1.5M81 457h1.5M140.5 447.5h1.5M162.5 460h1.5M88 457.5h1.5M133.5 445h1.5M149 457.5h1.5M131.5 448.5h1.5M148 439h1.5M81.5 471h1.5M151.5 491h1.5M115 440.5h1.5M109.5 431h1.5M125.5 419.5h1.5M70.5 466h1.5M76 464h1.5M81.5 466.5h1.5M79.5 474h1.5M83.5 452h1.5M130 429h1.5M154 463h1.5M163 470h1.5M60 469h1.5M137 446h1.5M130.5 458h1.5M122.5 459h1.5M80.5 465.5h1.5M53.5 464h1.5M58.5 473h1.5M69.5 467.5h1.5M159 452.5h1.5M77.5 474h1.5M53 456h1.5M132.5 450.5h1.5M81.5 458h1.5M177 462h1.5M115.5 442h1.5M155.5 496.5h1.5M98.5 434h1.5M170 473h1.5M134 447h1.5M127 440.5h1.5M90.5 431h1.5M171 469h1.5M58.5 468h1.5M109.5 438.5h1.5M66.5 468.5h1.5M174.5 461h1.5M92.5 410.5h1.5M150.5 461.5h1.5M83 459h1.5M165 460h1.5M84 463h1.5M151.5 467.5h1.5M55 462h1.5M165 450.5h1.5M110 435.5h1.5M174 456h1.5M147 465.5h1.5M145.5 444h1.5M113.5 450.5h1.5M57 457.5h1.5M143 450h1.5M63 464.5h1.5M125.5 441h1.5M170.5 471.5h1.5M79 471.5h1.5M121 447.5h1.5M75.5 458.5h1.5M146.5 450h1.5M54.5 456.5h1.5M125.5 453.5h1.5M163.5 458.5h1.5M128.5 436.5h1.5M174.5 464.5h1.5M177.5 468h1.5M97.5 430h1.5M150 443.5h1.5M164 451.5h1.5M171 461h1.5M117.5 440h1.5M152 457h1.5M71.5 470h1.5M161.5 460.5h1.5M134.5 453.5h1.5M107.5 435h1.5M149 452h1.5M160 451h1.5M143 453h1.5M57 462.5h1.5M96.5 443h1.5M63 463h1.5M77 455h1.5M142 463.5h1.5M84 457.5h1.5M167.5 462.5h1.5M153.5 454.5h1.5M75 464.5h1.5M134.5 455.5h1.5M112.5 440h1.5M169 469h1.5M87 454h1.5M162 455h1.5M91.5 414h1.5M177.5 457.5h1.5M124 431.5h1.5M127 445h1.5M118.5 433h1.5M117.5 448h1.5M159 463h1.5M78 480h1.5M100.5 427.5h1.5M111 449.5h1.5M115 451.5h1.5M121.5 455.5h1.5M127.5 439.5h1.5M176 444.5h1.5M178 460.5h1.5M74 467.5h1.5M137.5 453.5h1.5M96 453h1.5M55 458h1.5M139 445h1.5M163.5 454.5h1.5M153.5 449.5h1.5M129 443.5h1.5M119 452h1.5M79.5 458h1.5M161 446h1.5M155 454h1.5M92.5 422.5h1.5M155.5 471.5h1.5M73.5 472h1.5M53.5 462.5h1.5M89.5 447.5h1.5M61 471h1.5M91 437h1.5M137.5 443h1.5M90 437h1.5M87 458h1.5M64 460h1.5M149.5 450.5h1.5M128 445h1.5M135.5 448.5h1.5M57 473h1.5M135.5 451h1.5M151 479.5h1.5M65 469.5h1.5M67.5 474h1.5M63 465h1.5M128.5 437.5h1.5M121.5 449h1.5M108.5 434h1.5M116 444h1.5M147.5 458h1.5M71.5 461.5h1.5M60 461.5h1.5M94.5 436h1.5M126.5 455h1.5M140.5 440.5h1.5M167 460.5h1.5M87 462.5h1.5M168 456h1.5M120 440h1.5M86.5 456h1.5M90 440h1.5M141.5 446h1.5M83.5 459h1.5M54.5 465h1.5M53.5 472.5h1.5M111.5 440h1.5M53.5 452h1.5M51.5 464.5h1.5M117.5 449h1.5M136 438.5h1.5M161 453.5h1.5M81 460h1.5M77.5 467.5h1.5M148 460.5h1.5M89 458.5h1.5M132 443h1.5M145 445h1.5M77.5 457h1.5M132.5 453h1.5M69 471.5h1.5M59.5 475h1.5M66.5 456.5h1.5M88 458.5h1.5M129 451h1.5M175.5 453h1.5M104.5 430h1.5M54 463.5h1.5M176.5 484h1.5M142.5 460h1.5M144.5 453h1.5M132 451h1.5M89.5 446.5h1.5M105 428.5h1.5M103 431h1.5M145.5 455.5h1.5M126.5 459.5h1.5M130.5 439h1.5M135.5 445h1.5M68 467.5h1.5M138.5 449h1.5M174.5 453h1.5M125 437.5h1.5M67.5 459.5h1.5M95.5 435.5h1.5M138 448h1.5M86.5 463.5h1.5M62 465h1.5M70 456h1.5M147.5 449h1.5M173.5 473h1.5M98 431.5h1.5M128.5 448h1.5M90.5 449h1.5M59 461h1.5M149 455h1.5M52.5 467.5h1.5M177.5 452.5h1.5M177.5 452.5h1.5M174 460.5h1.5M83 458.5h1.5M120.5 452.5h1.5M170 451h1.5M66.5 463.5h1.5M113.5 444.5h1.5M129 472h1.5M75.5 468.5h1.5M158.5 453.5h1.5M158 470h1.5M145 459.5h1.5M112 435.5h1.5M63.5 464.5h1.5M124.5 445.5h1.5M163.5 454.5h1.5M80 467h1.5M178.5 465h1.5M112.5 438.5h1.5M124 453.5h1.5M160 465.5h1.5M63 451.5h1.5M144 443.5h1.5M167.5 446h1.5M127 448h1.5M79 451h1.5M58.5 467.5h1.5M159 456.5h1.5M166.5 458.5h1.5M135 446.5h1.5M96 443.5h1.5M82.5 459h1.5M146.5 461.5h1.5M173.5 462.5h1.5M111 431.5h1.5M61.5 448.5h1.5M159 447h1.5M156 460.5h1.5M109.5 431h1.5M139.5 445.5h1.5M164.5 446h1.5M67.5 471.5h1.5M166 462h1.5M99.5 429.5h1.5M119 459h1.5M110 420h1.5M125 446h1.5M116.5 442.5h1.5M173 455.5h1.5M167 449.5h1.5M160.5 468h1.5M160.5 451.5h1.5M126 439.5h1.5M88.5 444.5h1.5M145 426.5h1.5M160.5 460h1.5M133.5 449h1.5M85 473.5h1.5M62.5 462h1.5M52 459h1.5M76.5 472.5h1.5M132.5 445.5h1.5M65 486.5h1.5M112.5 440h1.5M176 459.5h1.5M91.5 430.5h1.5M86.5 446.5h1.5M57 471h1.5M82.5 462h1.5M68 487.5h1.5M84 453.5h1.5M59 469.5h1.5M105 431.5h1.5M136.5 461h1.5M118.5 462.5h1.5M97 437h1.5M178 463h1.5M65 463h1.5M115 445.5h1.5M161.5 458h1.5M82.5 466h1.5M127 454h1.5M175 459h1.5M71 468h1.5M159.5 452.5h1.5M137.5 463.5h1.5M84.5 466h1.5M161.5 466h1.5M85 477h1.5M139 449h1.5M92.5 430.5h1.5M95 422.5h1.5M77 470h1.5M98.5 434.5h1.5M138.5 448.5h1.5M156 445h1.5M125 455h1.5M115 443.5h1.5M88.5 455.5h1.5M126 451.5h1.5M126.5 446h1.5M151 454.5h1.5M172.5 459.5h1.5M100 422h1.5M63 474.5h1.5M60 489.5h1.5M126.5 453h1.5M104 443h1.5M78 461.5h1.5M61.5 453h1.5M149.5 441.5h1.5M95.5 429h1.5M99 434h1.5M80 459.5h1.5M84.5 467h1.5M153 439.5h1.5M71 476h1.5M136.5 460h1.5M145 446.5h1.5M124.5 440.5h1.5M83.5 459.5h1.5M105.5 445.5h1.5M73 466.5h1.5M65.5 480.5h1.5M100.5 445.5h1.5M150 464.5h1.5M161 453h1.5M57.5 451h1.5M166.5 454h1.5M94.5 432.5h1.5M53 458h1.5M162.5 475.5h1.5M104.5 415.5h1.5M58.5 447.5h1.5M93.5 424h1.5M158.5 452.5h1.5M177.5 454.5h1.5M119.5 442h1.5M171 458h1.5M96.5 440.5h1.5M174 463.5h1.5M82 461.5h1.5M59 464h1.5M147 452h1.5M66.5 473h1.5M86 465.5h1.5M122 446.5h1.5M115.5 446.5h1.5M125.5 469h1.5M115 438.5h1.5M140.5 457.5h1.5M108.5 467h1.5M160.5 446h1.5M113.5 434h1.5M171 452.5h1.5M74 461h1.5M145.5 463.5h1.5M146.5 447h1.5M88.5 448h1.5M129.5 444h1.5M153.5 460.5h1.5M88 463.5h1.5M147 442.5h1.5M103.5 427.5h1.5M95 427.5h1.5M114 448.5h1.5M61.5 463.5h1.5M116.5 443h1.5M173 473h1.5M111 445.5h1.5M168.5 461h1.5M104.5 432.5h1.5M100 439h1.5M96.5 426h1.5M157 458h1.5M138 455h1.5M90 454.5h1.5M160.5 458.5h1.5M98 451h1.5M134.5 442.5h1.5M153 458h1.5M94.5 420.5h1.5M83.5 462h1.5M112 444h1.5M117 465.5h1.5M135.5 447h1.5M116.5 441.5h1.5M142.5 456h1.5M178 448.5h1.5M105 430.5h1.5M149.5 468.5h1.5M67 468.5h1.5M160.5 453h1.5M105.5 433h1.5M117.5 447.5h1.5M151 459h1.5M83.5 464.5h1.5M100 437.5h1.5M173.5 465h1.5M83.5 461h1.5M153.5 457h1.5M88 471.5h1.5M81.5 465.5h1.5M122.5 454h1.5M80 465.5h1.5M99 438.5h1.5M62 465.5h1.5M118.5 435h1.5M100 422h1.5M176.5 461.5h1.5M97 427.5h1.5M58.5 483h1.5M112.5 434h1.5M148.5 447.5h1.5M85 472.5h1.5M142.5 458.5h1.5M102.5 432.5h1.5M91.5 431h1.5M68 479.5h1.5M150 458.5h1.5M150.5 454.5h1.5M141.5 444.5h1.5M66 466.5h1.5M161.5 471h1.5M55 468h1.5M131.5 446h1.5M93.5 428h1.5M174 460h1.5M78 457h1.5M73.5 467.5h1.5M167.5 455h1.5M87 474.5h1.5M132 440.5h1.5M59 451.5h1.5M84 464h1.5M72 459h1.5M57.5 465h1.5M151.5 444h1.5M112.5 438.5h1.5M145.5 453.5h1.5M163.5 443.5h1.5M140 447.5h1.5M165.5 459h1.5M66 461.5h1.5M69.5 474.5h1.5M78.5 468.5h1.5M104 445h1.5M98 428h1.5M91 425h1.5M108 441.5h1.5M86.5 458.5h1.5M170 458.5h1.5M152.5 458h1.5M150 466.5h1.5M125 448.5h1.5M144.5 462.5h1.5M89.5 451.5h1.5M130.5 441h1.5M68 472h1.5M173 458.5h1.5M78 470h1.5M95.5 420.5h1.5M135 448.5h1.5M102.5 432.5h1.5M149 453h1.5M101 423h1.5M148.5 448.5h1.5M148.5 454.5h1.5M163.5 434h1.5M162.5 458h1.5M78 477h1.5M128 442h1.5M90 440h1.5M107.5 425.5h1.5M74.5 466h1.5M58.5 462h1.5M129.5 454h1.5M169.5 472h1.5M171 466.5h1.5M86 463.5h1.5M95 419h1.5M83.5 472.5h1.5M89.5 447.5h1.5M162 458.5h1.5M147 459h1.5M138.5 442.5h1.5M132.5 435h1.5M56.5 444.5h1.5M65.5 493h1.5M150.5 449h1.5M126 449h1.5M66 456.5h1.5M155.5 458.5h1.5M113.5 450.5h1.5M145.5 458.5h1.5M51.5 465.5h1.5M106 433h1.5M78 458.5h1.5M176 455.5h1.5M122 443h1.5M110.5 432.5h1.5M178.5 453.5h1.5M69 459h1.5M69 495h1.5M137.5 466h1.5M176 456.5h1.5M115.5 441h1.5M172 448.5h1.5M166 463.5h1.5M66 476.5h1.5M107 440h1.5M154 451.5h1.5M127 455.5h1.5M166 459h1.5M63 473h1.5M135 440.5h1.5M88.5 455.5h1.5M145.5 458.5h1.5M166 453.5h1.5M135 437h1.5M141 455.5h1.5M125 446h1.5M113.5 448h1.5M87.5 455.5h1.5M85.5 461h1.5M99 436.5h1.5M121.5 466h1.5M167.5 461h1.5M129.5 438h1.5M154 458.5h1.5M126 442.5h1.5M79.5 456h1.5M178.5 476h1.5M112 443h1.5M160.5 438h1.5M71 473h1.5M54.5 478.5h1.5M148 457h1.5M60 466.5h1.5M160.5 459.5h1.5M131 456.5h1.5M136 444.5h1.5M114.5 436.5h1.5M108 429.5h1.5M92 427h1.5M54 469.5h1.5M158 465.5h1.5M120.5 445h1.5M101.5 437.5h1.5M94 387.5h1.5M164 436.5h1.5M125.5 461.5h1.5M104.5 435h1.5M122 447.5h1.5M94.5 435.5h1.5M136 458h1.5M104.5 440h1.5M57 486h1.5M174.5 470h1.5M136 447.5h1.5M171 461h1.5M125 445h1.5M63.5 454h1.5M129 444.5h1.5M126 452h1.5M112 468h1.5M130 451h1.5M147.5 467.5h1.5M84.5 470h1.5M110.5 428h1.5M125.5 442.5h1.5M53 465h1.5M51.5 458h1.5M104.5 428.5h1.5M98.5 411.5h1.5M73 467h1.5M105.5 428h1.5M164.5 450.5h1.5M61 459.5h1.5M58.5 477.5h1.5M91.5 427.5h1.5M68 462.5h1.5M80.5 449.5h1.5M98.5 434.5h1.5M88.5 456.5h1.5M152 460.5h1.5M102 447.5h1.5M73.5 474h1.5M132 454h1.5M157 452h1.5M140 441.5h1.5M71.5 462h1.5M98 441h1.5M137 441h1.5M130 446h1.5M106.5 441.5h1.5M80 472.5h1.5M140.5 450h1.5M96 437h1.5M56.5 466.5h1.5M57 465.5h1.5M84.5 467h1.5M65.5 473h1.5M168 458h1.5M72.5 463.5h1.5M165 459h1.5M94 427.5h1.5M69.5 461h1.5M145 453h1.5M91.5 425h1.5M161.5 466h1.5M140.5 440h1.5M134.5 452.5h1.5M85 463.5h1.5M106.5 432.5h1.5M129.5 448h1.5M171.5 466.5h1.5M71.5 471.5h1.5M176.5 438.5h1.5M110.5 445h1.5M109.5 436.5h1.5M87.5 456h1.5M100 428.5h1.5M140 439.5h1.5M68 464.5h1.5M84 449h1.5M176 461h1.5M156 455h1.5M69.5 469.5h1.5M110.5 445h1.5M86 456.5h1.5M71.5 473h1.5M114 462h1.5M80 465.5h1.5M170 487h1.5M173.5 458h1.5M126.5 441h1.5M136.5 444h1.5M58 456.5h1.5M125.5 460h1.5M79 473h1.5M127.5 446h1.5M145.5 453h1.5M126.5 443h1.5M59.5 466.5h1.5M69 471.5h1.5M177.5 459.5h1.5M154 453h1.5M147 461h1.5M54 463.5h1.5M87 494h1.5M149.5 446h1.5M173.5 461h1.5M137.5 448.5h1.5M157.5 440h1.5M149 467.5h1.5M62.5 461.5h1.5M55 455.5h1.5M141.5 459.5h1.5M69.5 465.5h1.5M126 453.5h1.5M164 455.5h1.5M134 457h1.5M101 440h1.5M122 439h1.5M120.5 445.5h1.5M91 425.5h1.5M133 443.5h1.5M139 451h1.5M112 440.5h1.5M173 453h1.5M101.5 445.5h1.5M132.5 432h1.5M78 478h1.5M56.5 465h1.5M136.5 461.5h1.5M104.5 430.5h1.5M56.5 454h1.5M145.5 464.5h1.5M123 440h1.5M77 458.5h1.5M144.5 457.5h1.5M144 467h1.5M80 469h1.5M168.5 461.5h1.5M167 449.5h1.5M54 462h1.5M168 456.5h1.5M156 453h1.5M136.5 445h1.5M93.5 416.5h1.5M141 453h1.5M103 433h1.5M136 418h1.5M73.5 470h1.5M124.5 456.5h1.5M90 438h1.5M145.5 459.5h1.5M91 434.5h1.5M160.5 454h1.5M146 459.5h1.5M85.5 470h1.5M67.5 465h1.5M145 460.5h1.5M157.5 458.5h1.5M133 454h1.5M142 450.5h1.5M68 459.5h1.5M106.5 439.5h1.5M133.5 452.5h1.5M93 428h1.5M125 437h1.5M116.5 452.5h1.5M72 462h1.5M125.5 443.5h1.5M173.5 464.5h1.5M161.5 459h1.5M159.5 452h1.5M110 427h1.5M129 429h1.5M84.5 457.5h1.5M59 460h1.5M121.5 453h1.5M59.5 463.5h1.5M103.5 443.5h1.5M53.5 450h1.5M142 447.5h1.5M99.5 422.5h1.5M154.5 460h1.5M85 483h1.5M72 454h1.5M113.5 441h1.5M55.5 466.5h1.5M139 463.5h1.5M59 460.5h1.5M164.5 471.5h1.5M78.5 459h1.5M131.5 434.5h1.5M139.5 444.5h1.5M131.5 439.5h1.5M63 463.5h1.5M54 455.5h1.5M99 431.5h1.5M66 463.5h1.5M54 466h1.5M53 444h1.5M152.5 452h1.5M91.5 416.5h1.5M58.5 467.5h1.5M144.5 457.5h1.5M156 463.5h1.5M66 471h1.5M151.5 448.5h1.5M89 436.5h1.5M123 440.5h1.5M137.5 441h1.5M119 438.5h1.5M59.5 471.5h1.5M66 474h1.5M144 451h1.5M144 463h1.5M116 440h1.5M76.5 451.5h1.5M96.5 415h1.5M52.5 469h1.5M94 428.5h1.5M59.5 444.5h1.5M119.5 453h1.5M80.5 469h1.5M155.5 445.5h1.5M98 441h1.5M166 466.5h1.5M82 472.5h1.5M160 451h1.5M160.5 454.5h1.5M104 429.5h1.5M61.5 458h1.5M144.5 467h1.5M123.5 456.5h1.5M91 425h1.5M170.5 428h1.5M174.5 471.5h1.5M120.5 447.5h1.5M167 456.5h1.5M62.5 474h1.5M160.5 464h1.5M110.5 438.5h1.5M105 433h1.5M105 437h1.5M96.5 439h1.5M89 450.5h1.5M72.5 486h1.5M164.5 456h1.5M162 457h1.5M106.5 433h1.5M128 459.5h1.5M130.5 457h1.5M149.5 469h1.5M148 462.5h1.5M169 451h1.5M87.5 459.5h1.5M142 459.5h1.5M129 440h1.5M169 457h1.5M104.5 422h1.5M101.5 433.5h1.5M171.5 458h1.5M119.5 447.5h1.5M116.5 427.5h1.5M135 446h1.5M99.5 420h1.5M98 436h1.5M173 460h1.5M133.5 448.5h1.5M106.5 421h1.5M73.5 476.5h1.5M158.5 447.5h1.5M116 437h1.5M168.5 468.5h1.5M71.5 474.5h1.5M156 492.5h1.5M123 451h1.5M141 463h1.5M105 438.5h1.5M97.5 444h1.5M111 444h1.5M153 466h1.5M99.5 430.5h1.5M127 447.5h1.5M145 453h1.5M119.5 453.5h1.5M57.5 469.5h1.5M124.5 458.5h1.5M127 445h1.5M109 396h1.5M103 446h1.5M74.5 461h1.5M57.5 466h1.5M107.5 427h1.5M76.5 461.5h1.5M113 454.5h1.5M51.5 449.5h1.5M113.5 438.5h1.5M138 447.5h1.5M157 447.5h1.5M95.5 426h1.5M124.5 441.5h1.5M109 425h1.5M95.5 446.5h1.5M118.5 445.5h1.5M145.5 450h1.5M52.5 469.5h1.5M82.5 449h1.5M59.5 462.5h1.5M65.5 471h1.5M146.5 453h1.5M136.5 442.5h1.5M147 498h1.5M164.5 460h1.5M63.5 449.5h1.5M78.5 469.5h1.5M154 465h1.5M107.5 422h1.5M136 443h1.5M164.5 458h1.5M69.5 465.5h1.5M109 437.5h1.5M132 450h1.5M90 422.5h1.5M76.5 468h1.5M143 441.5h1.5M51.5 474.5h1.5M162 458h1.5M152.5 456h1.5M121.5 455h1.5M144.5 454.5h1.5M165.5 469h1.5M136 448h1.5M162.5 452.5h1.5M157.5 457.5h1.5M68 454h1.5M66 478h1.5M161 446.5h1.5M152 456h1.5M109 430h1.5M153.5 461.5h1.5M168.5 457h1.5M143.5 462.5h1.5M101 433h1.5M112 443h1.5M108 430h1.5M68 467h1.5M144.5 458h1.5M91 419.5h1.5M127 455h1.5M168.5 456h1.5M144 443.5h1.5M95 438h1.5M146.5 455.5h1.5M69 443h1.5M105.5 437.5h1.5M136.5 445h1.5M156.5 459h1.5M95 425.5h1.5M88 460h1.5M173.5 469h1.5M54.5 455h1.5M81.5 469h1.5M173.5 452h1.5M51 459h1.5M135.5 455h1.5M142.5 453.5h1.5M79 461.5h1.5M110.5 430h1.5M129.5 455h1.5M177.5 458.5h1.5M110 430h1.5M127.5 443h1.5M128 445.5h1.5M128.5 459.5h1.5M69 464h1.5M78 460.5h1.5M174.5 478.5h1.5M93.5 413.5h1.5M101 435h1.5M94 434.5h1.5M163.5 460.5h1.5M63 458.5h1.5M79.5 464.5h1.5M89.5 453h1.5M73 452.5h1.5M148 458h1.5M125 452.5h1.5M131.5 421h1.5M119 415.5h1.5M141.5 459.5h1.5M137 440.5h1.5M95.5 430.5h1.5M107.5 434.5h1.5M78 460.5h1.5M101 428h1.5M147 454.5h1.5M61 486h1.5M99.5 422h1.5M94.5 435h1.5M156.5 434h1.5M122.5 448.5h1.5M64 464h1.5M71.5 459h1.5M104 429h1.5M116.5 454.5h1.5M150.5 467.5h1.5M175 466.5h1.5M115.5 444h1.5M113.5 448.5h1.5M146.5 456.5h1.5M115.5 441.5h1.5M151 465.5h1.5M60.5 457h1.5M147 461.5h1.5M138.5 453.5h1.5M144.5 450h1.5M92.5 427h1.5M169 459.5h1.5M81.5 465.5h1.5M84.5 457h1.5M140 436h1.5M71.5 466h1.5M140.5 448h1.5M105.5 434.5h1.5M92.5 426h1.5M91 418.5h1.5M75 471h1.5M59.5 468.5h1.5M129 452h1.5M81.5 461.5h1.5M77 464h1.5M69.5 442.5h1.5M151.5 459.5h1.5M102.5 435.5h1.5M131.5 448h1.5M97 436h1.5M138.5 441.5h1.5M110.5 437.5h1.5M83 464.5h1.5M112.5 433.5h1.5M122 452h1.5M163.5 446.5h1.5M94.5 437h1.5M98.5 423.5h1.5M56.5 441.5h1.5M54.5 465.5h1.5M125.5 439.5h1.5M164 472.5h1.5M165.5 469.5h1.5M72 466.5h1.5M60.5 461.5h1.5M143.5 450.5h1.5M155 430h1.5M88 460h1.5M121 449.5h1.5M93.5 426h1.5M118.5 445.5h1.5M168 456h1.5M141.5 475.5h1.5M123 459h1.5M167 452.5h1.5M71.5 457h1.5M95 438h1.5M173 455.5h1.5M124 436.5h1.5M116.5 445h1.5M114.5 436h1.5M89 456h1.5M113 441h1.5M93 433h1.5M101.5 428.5h1.5M169.5 454h1.5M144 462h1.5M99 430.5h1.5M63 472h1.5M89.5 434h1.5M57 463h1.5M95.5 434.5h1.5M148.5 460.5h1.5M140.5 455h1.5M152.5 454h1.5M167 463h1.5M154 465.5h1.5M65 460.5h1.5M165.5 479.5h1.5M139 435.5h1.5M73 460.5h1.5M79 446.5h1.5M164.5 458h1.5M71.5 466h1.5M101.5 445h1.5M51.5 455.5h1.5M83 473.5h1.5M127 426h1.5M128 442h1.5M71.5 456h1.5M127 445h1.5M75 423h1.5M87 450.5h1.5M178.5 467h1.5M76.5 469h1.5M177.5 465h1.5M97 443.5h1.5M65 468.5h1.5M125.5 455.5h1.5M137 435h1.5M119.5 444h1.5M58 466h1.5M141 450.5h1.5M120.5 460.5h1.5M156 456h1.5M111 424h1.5M101.5 439h1.5M114.5 474.5h1.5M51.5 460.5h1.5M66.5 457.5h1.5M73 467h1.5M157 457.5h1.5M132.5 444h1.5M54 449.5h1.5M105 427.5h1.5M176 458.5h1.5M81 472h1.5M85.5 449h1.5M69 476h1.5M135.5 443.5h1.5M57 456h1.5M82 474h1.5M147 459.5h1.5M56.5 460h1.5M78.5 442.5h1.5M120.5 439.5h1.5M64.5 477.5h1.5M71 467.5h1.5M138 436.5h1.5M78.5 458.5h1.5M165 463.5h1.5M53.5 467h1.5M170 466.5h1.5M159 468.5h1.5M64 476.5h1.5M90 438h1.5M157 460h1.5M178 432.5h1.5M111 444h1.5M76 477.5h1.5M147.5 465.5h1.5M86 457h1.5M60 458h1.5M159 454h1.5M144 456h1.5M55.5 453.5h1.5M101.5 435h1.5M77 473.5h1.5M174.5 453.5h1.5M128 457h1.5M158.5 463.5h1.5M107 441h1.5M143 451.5h1.5M96.5 429h1.5M98.5 442h1.5M105 435h1.5M101 430h1.5M69 465.5h1.5M137.5 455h1.5M121.5 450.5h1.5M114.5 460h1.5M152 459.5h1.5M64.5 462h1.5M92 422h1.5M165 449.5h1.5M172 459h1.5M134 448.5h1.5M145 469.5h1.5M90.5 439h1.5M61.5 463h1.5M132 453h1.5M101.5 426h1.5M134.5 450.5h1.5M123.5 443.5h1.5M165 459h1.5M90.5 426.5h1.5M131.5 451.5h1.5M55.5 466h1.5M150.5 464.5h1.5M135.5 456h1.5M80.5 475h1.5M102 430.5h1.5M103.5 426.5h1.5M165.5 465h1.5M80 458.5h1.5M84 462h1.5M117 447.5h1.5M67.5 467.5h1.5M67 461.5h1.5M174 450.5h1.5M76 458.5h1.5M174 454.5h1.5M167 455h1.5M170 462h1.5M78.5 451.5h1.5M176 466h1.5M178.5 452.5h1.5M65.5 455h1.5M112 437h1.5M110 434h1.5M84 468.5h1.5M91 433.5h1.5M130 445h1.5M107.5 437h1.5M176.5 467.5h1.5M178 449.5h1.5M98.5 454h1.5M166.5 453.5h1.5M77.5 461h1.5M168.5 462.5h1.5M67 479h1.5M57.5 468.5h1.5M72 466h1.5M145 456.5h1.5M104 432h1.5M130 425.5h1.5M121.5 450.5h1.5M96 436.5h1.5M90.5 443h1.5M66 467.5h1.5M88.5 450h1.5M96 432.5h1.5M173 439.5h1.5M147 458h1.5M87 459.5h1.5M88.5 476h1.5M146 455.5h1.5M98 441h1.5M109 449h1.5M54 469.5h1.5M52 458h1.5M118 438.5h1.5M154.5 447h1.5M137 444h1.5M134.5 457.5h1.5M164.5 464h1.5M150 464.5h1.5M89.5 445h1.5M125.5 432h1.5M102.5 443.5h1.5M153.5 444.5h1.5M81.5 467.5h1.5M67 465h1.5M162 464h1.5M55.5 472h1.5M153 453.5h1.5M65.5 453.5h1.5M83.5 464h1.5M70.5 473h1.5M128 444.5h1.5M113.5 448.5h1.5M77 449.5h1.5M113.5 445.5h1.5M153 471.5h1.5M166 453h1.5M71 433h1.5M178.5 459h1.5M87.5 456.5h1.5M95 436h1.5M122.5 458h1.5M115.5 452h1.5M142.5 453.5h1.5M171 461.5h1.5M65 478h1.5M177.5 475.5h1.5M135.5 432.5h1.5M92 427.5h1.5M103 425h1.5M114.5 447h1.5M139 444.5h1.5M166.5 448.5h1.5M68 460.5h1.5M142.5 456.5h1.5M170 458.5h1.5M74.5 459h1.5M122.5 442.5h1.5M73.5 465.5h1.5M101 423h1.5M91.5 431h1.5M98.5 435h1.5M109.5 445h1.5M100.5 430h1.5M120 439h1.5M113 451.5h1.5M129 448.5h1.5M67.5 443h1.5M119.5 449.5h1.5M54 467h1.5M97.5 428h1.5M129.5 433.5h1.5M121 454h1.5M118.5 467h1.5M72 445.5h1.5M167.5 457.5h1.5M102.5 432h1.5M63 467.5h1.5M104.5 424.5h1.5M129.5 443.5h1.5M177.5 458.5h1.5M88.5 454.5h1.5M66 453h1.5M103.5 429.5h1.5M109.5 431h1.5M160.5 452.5h1.5M123.5 444.5h1.5M91 433.5h1.5M155 467.5h1.5M90 438h1.5M176 459.5h1.5M113 430h1.5M142 460h1.5M117 445h1.5M102.5 435.5h1.5M94.5 425.5h1.5M164.5 465h1.5M77 472h1.5M126 446.5h1.5M71 463h1.5M77 467h1.5M56.5 456h1.5M78.5 467.5h1.5M85 466.5h1.5M161 466h1.5M83 453h1.5M143.5 459.5h1.5M131.5 445h1.5M174 456h1.5M173.5 454h1.5M103.5 440.5h1.5M162 462.5h1.5M102.5 440.5h1.5M60 462h1.5M72 461h1.5M157 453.5h1.5M120 442h1.5M106.5 416.5h1.5M72.5 460h1.5M124.5 441.5h1.5M175.5 455h1.5M177.5 467.5h1.5M152 463.5h1.5M156.5 447.5h1.5M120.5 439.5h1.5M87.5 459h1.5M176 453.5h1.5M155.5 460.5h1.5M168 455h1.5M69.5 459.5h1.5M161.5 460.5h1.5M139 447.5h1.5M109.5 429h1.5M55 471.5h1.5M145 459.5h1.5M165.5 462.5h1.5M91 439.5h1.5M91.5 417h1.5M90 446.5h1.5M76.5 463.5h1.5M62.5 462h1.5M167.5 461h1.5M53 454h1.5M126 443h1.5M113 447.5h1.5M143 439h1.5M130.5 456h1.5M138 447h1.5M134.5 446.5h1.5M103 419.5h1.5M135 442h1.5M131 442.5h1.5M71.5 463h1.5M120.5 447h1.5M89 447h1.5M60.5 458.5h1.5M51 454.5h1.5M166.5 465.5h1.5M73 451h1.5M165.5 448.5h1.5M166.5 445h1.5M71.5 465.5h1.5M56 464.5h1.5M139.5 460.5h1.5M80 475h1.5M56 459h1.5M77 462.5h1.5M146 456h1.5M67.5 467h1.5M167.5 456.5h1.5M63.5 457.5h1.5M54 479.5h1.5M114.5 453.5h1.5M120.5 449.5h1.5M147 451h1.5M149.5 452h1.5M61.5 464h1.5M134.5 451.5h1.5M111.5 436h1.5M137 443.5h1.5M73.5 465h1.5M147.5 468.5h1.5M155.5 443h1.5M143.5 427h1.5M151 472h1.5M91.5 426.5h1.5M79.5 476.5h1.5M115.5 458h1.5M83.5 467h1.5M95 438.5h1.5M129 451h1.5M79 469h1.5M156 461.5h1.5M62 459h1.5M79 464h1.5M158 462h1.5M113.5 438.5h1.5M72 467h1.5M125.5 450h1.5M167 457.5h1.5M134 439h1.5M83 460h1.5M123 445.5h1.5M161.5 452h1.5M166.5 451h1.5M167.5 458.5h1.5M115 442.5h1.5M95.5 430.5h1.5M61 465.5h1.5M59.5 463.5h1.5M60.5 467h1.5M117.5 442.5h1.5M129 434h1.5M86 461.5h1.5M81.5 459h1.5M155 451.5h1.5M85 467h1.5M137.5 473.5h1.5M163.5 457.5h1.5M160 456h1.5M95.5 436h1.5M105.5 429h1.5M76 454.5h1.5M70.5 462h1.5M120.5 454.5h1.5M160 464h1.5M83 471.5h1.5M121 438.5h1.5M120.5 452.5h1.5M55 485.5h1.5M98 422.5h1.5M161 448.5h1.5M158.5 460.5h1.5M138.5 446.5h1.5M84.5 463.5h1.5M68.5 464.5h1.5M103 442.5h1.5M88.5 449h1.5M103.5 434h1.5M53 446h1.5M119.5 447h1.5M144.5 479h1.5M138.5 455h1.5M175 452.5h1.5M58.5 467.5h1.5M178.5 434h1.5M152 459.5h1.5M151 468.5h1.5M93.5 430.5h1.5M115 436.5h1.5M66 457h1.5M166.5 451h1.5M149 452.5h1.5M159.5 441.5h1.5M68 461h1.5M65 470h1.5M165.5 451.5h1.5M51 496h1.5M54 474h1.5M121.5 435.5h1.5M148 442.5h1.5M73.5 463.5h1.5M129.5 444.5h1.5M177.5 464.5h1.5M65.5 462h1.5M119 439.5h1.5M161 462.5h1.5M161 458.5h1.5M125 465.5h1.5M86 463h1.5M84.5 466h1.5M80 466.5h1.5M79 473h1.5M127.5 445.5h1.5M155 453h1.5M178 459.5h1.5M62.5 466h1.5M59.5 469h1.5M116 446h1.5M79.5 469h1.5M142.5 430.5h1.5M92 427.5h1.5M109 457h1.5M51 452.5h1.5M177 456h1.5M138 436h1.5M82.5 468h1.5M91.5 415h1.5M135.5 439h1.5M164 455.5h1.5M158 457.5h1.5M133 458h1.5M145.5 433.5h1.5M166 452h1.5M68 460.5h1.5M176 462h1.5M141 456.5h1.5M72.5 453.5h1.5M130 451.5h1.5M111.5 439.5h1.5M125 454.5h1.5M126.5 447h1.5M93 418h1.5M59.5 458h1.5M125 448.5h1.5M82 463h1.5M64.5 469.5h1.5M76.5 450h1.5M100.5 434h1.5M111 437.5h1.5M173.5 460h1.5M52 458.5h1.5M158.5 472.5h1.5M161 450.5h1.5M174.5 461h1.5M151 454.5h1.5M77 464h1.5M147.5 466.5h1.5M130.5 443.5h1.5M120.5 457h1.5M103 431h1.5M145 474.5h1.5M115.5 453h1.5M76.5 471.5h1.5M81 466h1.5M149.5 459h1.5M123.5 449.5h1.5M118.5 444.5h1.5M151.5 459h1.5M142 452.5h1.5M56.5 448.5h1.5M127 445.5h1.5M108 426.5h1.5M79 478h1.5M175 462.5h1.5M140 438.5h1.5M73 468h1.5M83.5 488h1.5M128 455.5h1.5M134 440.5h1.5M61.5 443.5h1.5M86 465.5h1.5M105.5 429h1.5M178 466.5h1.5M117 435.5h1.5M53 461.5h1.5M121.5 437.5h1.5M168 453h1.5M162.5 447.5h1.5M177.5 474.5h1.5M125 443.5h1.5M151.5 459.5h1.5M74.5 465h1.5M161 456.5h1.5M135 439h1.5M149 460.5h1.5M59 452.5h1.5M104 444h1.5M71.5 465.5h1.5M149.5 466h1.5M122 460.5h1.5M171 453h1.5M98 428.5h1.5M142.5 445.5h1.5M95.5 444.5h1.5M144 457h1.5M164.5 452.5h1.5M61 459h1.5M83.5 473h1.5M55.5 452.5h1.5M144.5 454.5h1.5M171.5 467h1.5M144 453h1.5M102 431.5h1.5M163 451h1.5M154.5 467h1.5M102 430.5h1.5M80 459.5h1.5M80 473.5h1.5M176 453h1.5M111.5 428.5h1.5M63.5 470.5h1.5M161 447h1.5M68.5 474h1.5M111.5 439h1.5M146.5 453h1.5M107.5 429h1.5M83 484h1.5M126 439h1.5M101 443h1.5M80 460.5h1.5M62 458.5h1.5M134 452.5h1.5M117 440.5h1.5M61.5 470h1.5M154 465h1.5M175 462.5h1.5M52 465.5h1.5M94 425.5h1.5M165 451.5h1.5M66 457h1.5M81 455.5h1.5M99.5 457.5h1.5M102.5 437h1.5M125.5 449.5h1.5M141.5 467.5h1.5M176 460h1.5M101 427.5h1.5M108 427.5h1.5M96 409.5h1.5M160 452h1.5M156.5 463h1.5M102.5 428.5h1.5M57 473.5h1.5M136 434h1.5M125.5 432.5h1.5M143 441.5h1.5M123 427.5h1.5M102 447.5h1.5M76.5 468h1.5M70 465h1.5M106.5 437h1.5M75.5 469h1.5M144.5 451.5h1.5M76.5 459.5h1.5M72 465.5h1.5M130 439h1.5M104 439h1.5M168 451h1.5M100 423h1.5M59.5 477.5h1.5M118 437.5h1.5M59.5 466h1.5M140 484h1.5M141 453h1.5M115 458h1.5M106 439.5h1.5M110.5 446.5h1.5M87 458h1.5M66 458.5h1.5M103 437h1.5M72 466.5h1.5M169 471h1.5M166 455.5h1.5M70.5 460h1.5M154.5 460.5h1.5M139.5 447.5h1.5M66.5 461.5h1.5M141 461h1.5M132 465.5h1.5M107.5 430.5h1.5M55 463h1.5M121 456h1.5M140 450h1.5M87 465h1.5M157 458h1.5M97.5 439.5h1.5M133 451.5h1.5M146 464.5h1.5M90 432.5h1.5M56 468.5h1.5M57.5 461.5h1.5M158.5 457.5h1.5M162.5 454h1.5M170.5 458.5h1.5M177 467h1.5M141.5 446h1.5M158.5 477h1.5M136.5 452h1.5M85.5 445.5h1.5M114.5 451.5h1.5M92 420h1.5M126 470.5h1.5M139.5 450.5h1.5M93.5 427.5h1.5M159.5 463.5h1.5M58 465.5h1.5M171 464h1.5M172 467h1.5M100.5 440h1.5M54 480.5h1.5M75.5 455.5h1.5M145 455.5h1.5M74.5 473.5h1.5M177 463h1.5M60 483h1.5M72.5 456h1.5M52 455.5h1.5M66.5 461h1.5M164 449.5h1.5M122 438.5h1.5M126.5 444h1.5M138 447.5h1.5M115 439.5h1.5M156 441.5h1.5M153.5 461h1.5M164.5 465.5h1.5M167.5 455.5h1.5M61 468h1.5M158.5 462h1.5M164 456.5h1.5M82 461.5h1.5M52 467h1.5M59 466.5h1.5M129.5 437.5h1.5M128 421.5h1.5M73.5 465h1.5M61 474h1.5M172 466.5h1.5M142 464h1.5M51.5 450.5h1.5M130.5 448.5h1.5M100 441h1.5M168.5 465h1.5M76 455h1.5M164 455h1.5M58.5 446h1.5M170 446h1.5M118.5 454.5h1.5M76.5 474.5h1.5M151.5 460.5h1.5M111 442h1.5M124 448h1.5M51.5 462.5h1.5M122 442h1.5M86 470.5h1.5M87 448.5h1.5M73 471h1.5M106.5 435h1.5M51.5 457.5h1.5M53 464.5h1.5M88.5 457.5h1.5M178.5 454.5h1.5M115 437h1.5M117 443h1.5M166.5 451h1.5M99.5 427.5h1.5M66.5 452h1.5M124.5 451.5h1.5M124.5 447.5h1.5M92.5 422h1.5M110.5 426.5h1.5M91.5 436.5h1.5M97 426h1.5M151 467h1.5M95 439.5h1.5M66 467h1.5M92.5 434h1.5M99 433.5h1.5M55.5 471h1.5M109 419h1.5M90 435h1.5M131 452.5h1.5M133 451h1.5M117 456.5h1.5M162 458.5h1.5M100 444h1.5M146.5 462h1.5M67.5 482h1.5M104.5 434h1.5M105.5 439h1.5M176 466h1.5M81.5 470.5h1.5M119 455.5h1.5M171.5 458h1.5M68 484.5h1.5M164 458.5h1.5M149 447.5h1.5M100.5 435h1.5M167 462h1.5M145.5 439h1.5M176 452h1.5M129 434h1.5M134.5 436.5h1.5M116 440h1.5M67 457.5h1.5M51.5 466.5h1.5M101.5 424h1.5M137.5 449h1.5M92 413.5h1.5M161.5 461.5h1.5M174.5 450.5h1.5M97.5 437.5h1.5M109.5 432h1.5M139 465.5h1.5M177 454h1.5M130 447h1.5M161.5 466.5h1.5M63 478h1.5M125 455h1.5M119 449.5h1.5M108 443.5h1.5M107.5 432.5h1.5M144 456h1.5M94.5 441.5h1.5M112 436.5h1.5M116 453h1.5M114.5 447h1.5M175.5 466h1.5M126 445h1.5M166 466.5h1.5M156 461h1.5M170 460h1.5M77.5 470.5h1.5M153 496.5h1.5M145.5 463h1.5M106 436.5h1.5M98.5 427.5h1.5M98.5 443h1.5M108.5 435.5h1.5M104.5 438h1.5M100 423.5h1.5M176.5 456.5h1.5M71 467.5h1.5M62.5 469h1.5M173 445.5h1.5M111.5 439.5h1.5M116.5 450h1.5M97.5 424.5h1.5M162 456h1.5M59 451h1.5M154 462h1.5M111 428h1.5M76 462h1.5M90.5 410h1.5M142 450.5h1.5M123 450h1.5M62.5 463h1.5M100 429.5h1.5M53 469.5h1.5M79.5 462.5h1.5M66.5 459.5h1.5M59.5 462.5h1.5M130.5 449h1.5M67.5 457.5h1.5M100 437h1.5M66 473h1.5M107.5 440h1.5M119.5 445h1.5M85 453.5h1.5M128.5 453.5h1.5M92 425.5h1.5M130 449h1.5M114.5 446.5h1.5M83 470.5h1.5M72.5 450.5h1.5M148 469h1.5M59 467h1.5M120.5 442h1.5M66 469h1.5M97 435.5h1.5M125.5 425h1.5M108 424.5h1.5M169 453h1.5M159.5 471h1.5M72.5 477.5h1.5M111 428h1.5M57.5 463.5h1.5M178 446.5h1.5M153.5 439h1.5M177 467h1.5M170.5 461h1.5M107 434.5h1.5M67 473h1.5M172.5 454.5h1.5M55 472h1.5M135 446h1.5M140 453.5h1.5M87 465.5h1.5M72.5 440.5h1.5M53 456h1.5M118.5 448h1.5M111 434.5h1.5M91.5 417h1.5M150 454h1.5M174 444h1.5M120 452h1.5M133 436.5h1.5M100.5 422h1.5M177.5 443h1.5M108.5 439h1.5M170.5 456.5h1.5M65.5 474h1.5M62 464.5h1.5M71 454h1.5M132.5 440.5h1.5M81.5 466.5h1.5M139 457h1.5M175.5 458h1.5M118.5 455h1.5M143.5 451.5h1.5M142.5 465.5h1.5M111 439.5h1.5M73 472h1.5M82.5 455h1.5M64 461h1.5M80 458.5h1.5M67 477.5h1.5M135.5 437.5h1.5M152.5 449.5h1.5M114 439h1.5M94.5 433.5h1.5M58.5 461.5h1.5M88.5 442h1.5M123.5 441h1.5M127.5 452h1.5M128.5 442h1.5M95 438h1.5M115.5 438h1.5M95 439h1.5M131 454.5h1.5M77 464.5h1.5M117.5 437h1.5M92 418h1.5M139 447h1.5M176 456h1.5M168.5 458h1.5M165 456.5h1.5M143.5 463h1.5M146.5 453.5h1.5M100.5 438h1.5M155.5 453.5h1.5M81 470h1.5M110.5 426h1.5M156.5 448.5h1.5M59 479h1.5M155.5 451.5h1.5M79.5 469h1.5M91 426h1.5M150.5 468.5h1.5M143.5 468.5h1.5M132.5 440.5h1.5M162.5 465.5h1.5M80 472h1.5M90 438h1.5M75 451.5h1.5M62 450h1.5M151 457h1.5M99 436.5h1.5M156.5 456h1.5M99 443h1.5M135.5 429h1.5M61.5 462h1.5M133.5 445h1.5M57.5 458h1.5M177.5 457h1.5M136.5 456.5h1.5M94 430.5h1.5M73.5 460.5h1.5M122.5 442.5h1.5M63 459.5h1.5M166.5 468.5h1.5M64 469h1.5M104 416h1.5M125.5 443h1.5M51 456h1.5M121 428h1.5M155 459h1.5M142 454.5h1.5M170.5 468.5h1.5M169 459h1.5M153 454h1.5M57 466.5h1.5M136 446h1.5M129.5 450h1.5M103 432.5h1.5M174.5 459h1.5M137 456.5h1.5M159 449.5h1.5M133 441.5h1.5M172.5 463h1.5M139.5 463h1.5M123 449.5h1.5M57.5 460.5h1.5M68 466h1.5M148.5 467h1.5M160 451.5h1.5M100.5 438h1.5M88 445h1.5M70.5 466h1.5M56 457h1.5M100.5 432h1.5M75.5 473h1.5M138 440h1.5M56 475.5h1.5M102 443h1.5M73.5 446.5h1.5M165.5 457h1.5M66.5 444.5h1.5M178.5 463h1.5M168.5 452.5h1.5M136.5 448.5h1.5M118.5 455h1.5M126 440h1.5M178.5 446.5h1.5M65 465h1.5M82 467h1.5M113.5 447.5h1.5M60 460h1.5M106.5 438.5h1.5M166 452.5h1.5M82.5 469h1.5M154.5 457.5h1.5M154.5 456h1.5M94 431.5h1.5M176.5 455.5h1.5M93.5 420.5h1.5M55.5 453h1.5M119 444h1.5M154 450.5h1.5M134 451h1.5M84 471.5h1.5M68 450h1.5M134 462h1.5M100.5 437.5h1.5M64.5 483.5h1.5M69.5 460h1.5M164.5 461.5h1.5M120.5 459h1.5M107.5 430h1.5M108.5 443h1.5M140.5 448.5h1.5M95.5 436h1.5M80 477h1.5M121.5 446.5h1.5M95 437.5h1.5M91.5 429h1.5M82 449.5h1.5M159 463h1.5M147.5 458.5h1.5M93 413h1.5M77 451.5h1.5M142.5 460.5h1.5M170 461h1.5M137.5 460h1.5M172.5 458.5h1.5M118.5 450.5h1.5M78.5 467h1.5M149 448.5h1.5M109 438h1.5M148 466h1.5M91.5 472.5h1.5M137 444h1.5M143 451h1.5M154 458h1.5M138.5 447h1.5M144.5 462.5h1.5M151 458.5h1.5M124.5 457h1.5M160.5 441.5h1.5M143 457h1.5M102 440h1.5M132.5 462h1.5M75 466.5h1.5M58.5 460.5h1.5M68 464h1.5M132.5 428.5h1.5M153.5 455h1.5M54.5 471.5h1.5M161 459.5h1.5M94 434.5h1.5M73 462.5h1.5M119 453.5h1.5M82 457h1.5M100 425.5h1.5M129.5 459.5h1.5M76 476.5h1.5M89.5 448.5h1.5M165.5 451.5h1.5M71 457.5h1.5M173.5 459h1.5M52 463.5h1.5M83 456.5h1.5M155.5 453.5h1.5M139.5 458h1.5M145.5 451h1.5M126 435h1.5M131.5 450.5h1.5M59.5 455.5h1.5M119 456.5h1.5M74 443h1.5M147.5 462.5h1.5M73.5 463.5h1.5M72 466h1.5M92 424h1.5M157.5 456h1.5M75 454.5h1.5M57 468h1.5M68 456.5h1.5M120 448h1.5M65 444h1.5M102.5 448h1.5M56 456h1.5M140.5 448.5h1.5M53 450h1.5M157 454.5h1.5M98 437h1.5M128.5 435.5h1.5M173 481.5h1.5M137.5 445h1.5M119 422.5h1.5M162 459h1.5M117 449h1.5M124.5 469h1.5M174 466h1.5M71 464h1.5M149 456h1.5M151 460.5h1.5M151.5 443h1.5M116.5 450.5h1.5M74.5 449.5h1.5M101 430.5h1.5M72.5 465h1.5M57.5 463.5h1.5M137.5 454.5h1.5M142.5 448.5h1.5M131 439.5h1.5M107.5 443h1.5M85.5 465.5h1.5M166 455.5h1.5M178.5 454.5h1.5M124 439h1.5M168 468.5h1.5M54.5 478h1.5M159 474h1.5M133 455h1.5M130.5 449.5h1.5M101 432.5h1.5M166 448.5h1.5M99 431.5h1.5M173 460h1.5M172 457.5h1.5M154.5 438h1.5M84.5 472.5h1.5M78.5 474h1.5M56 459h1.5M92.5 430h1.5M92 405h1.5M78 460h1.5M169 454.5h1.5M56.5 461h1.5M165 450.5h1.5M70 466h1.5M82 440.5h1.5M176.5 454h1.5M169 449.5h1.5M61 473.5h1.5M123.5 442h1.5M119 457.5h1.5M80.5 469.5h1.5M72 504h1.5M164 460.5h1.5M85.5 463.5h1.5M164.5 453.5h1.5M88.5 451.5h1.5M174.5 475h1.5M105.5 413.5h1.5M146 461h1.5M83 474h1.5M171 455h1.5M63.5 467.5h1.5M121.5 439.5h1.5M64.5 466h1.5M86.5 462h1.5M94 435h1.5M139 453h1.5M109 418.5h1.5M94 413.5h1.5M141 425h1.5M164 471.5h1.5M93.5 419h1.5M173 443h1.5M138 452.5h1.5M135.5 453.5h1.5M149 455.5h1.5M100 432.5h1.5M141 440h1.5M164 459.5h1.5M171.5 464.5h1.5M84 468h1.5M93 443.5h1.5M157 433.5h1.5M63 458.5h1.5M164 453h1.5M122 447.5h1.5M83 455.5h1.5M116 440.5h1.5M127 451h1.5M142 455.5h1.5M168.5 449.5h1.5M171 455.5h1.5M173.5 452h1.5M92 416.5h1.5M80.5 470h1.5M127 439h1.5M89.5 441.5h1.5M83.5 460h1.5M132 444.5h1.5M115 445h1.5M121 459h1.5M162.5 455h1.5M110 433h1.5M100.5 427.5h1.5M115 444.5h1.5M135 442.5h1.5M140 452.5h1.5M62 454h1.5M165 461h1.5M103 436.5h1.5M143.5 437.5h1.5M72 450.5h1.5M149 456.5h1.5M143.5 443h1.5M171 455.5h1.5M164.5 466.5h1.5M73 453.5h1.5M60.5 454.5h1.5M95 438.5h1.5M171 457.5h1.5M91.5 428.5h1.5M63 429.5h1.5M133 443.5h1.5M121 447.5h1.5M159.5 471h1.5M93 427h1.5M101 454h1.5M166.5 467h1.5M144 462.5h1.5M87.5 457.5h1.5M87.5 460h1.5M90 444.5h1.5M160.5 461h1.5M169.5 452h1.5M86 479.5h1.5M125 452h1.5M92.5 418.5h1.5M56.5 461h1.5M113 456h1.5M107 432.5h1.5M78 462h1.5M176 457h1.5M175 457.5h1.5M109.5 437.5h1.5M155 458.5h1.5M112.5 445.5h1.5M55.5 462h1.5M163 437.5h1.5M102 431h1.5M170 453.5h1.5M88.5 439.5h1.5M60 465h1.5M138.5 460h1.5M75 454.5h1.5M89.5 441.5h1.5M61.5 473h1.5M122 442.5h1.5M108 442.5h1.5M58.5 465.5h1.5M172.5 447h1.5M96 426.5h1.5M129 444h1.5M144 458h1.5M60.5 461.5h1.5M176 463.5h1.5M60.5 465.5h1.5M70.5 457.5h1.5M72.5 465h1.5M136.5 454h1.5M70.5 465h1.5M115 439h1.5M157.5 468.5h1.5M127.5 447.5h1.5M124.5 449h1.5M83.5 466h1.5M68.5 471h1.5M167.5 469h1.5M119 441h1.5M77.5 461.5h1.5M143.5 444.5h1.5M139.5 456.5h1.5M136.5 442h1.5M120 433.5h1.5M148 477.5h1.5M75 455.5h1.5M98.5 420h1.5M162 464h1.5M69 462.5h1.5M72.5 470.5h1.5M111.5 448h1.5M158.5 464h1.5M92.5 424h1.5M119 443h1.5M177 451.5h1.5M175.5 471h1.5M140 435h1.5M168.5 461.5h1.5M81 443h1.5M58 459h1.5M76.5 456.5h1.5M155.5 454.5h1.5M134.5 452h1.5M174 457h1.5M138 447.5h1.5M154 454h1.5M103.5 427h1.5M113.5 439h1.5M174 458h1.5M140 453.5h1.5M87 449.5h1.5M130.5 449h1.5M63.5 476h1.5M147 455.5h1.5M104 437h1.5M112.5 447h1.5M83.5 463.5h1.5M174.5 455h1.5M109 445.5h1.5M100.5 432.5h1.5M144.5 455.5h1.5M142 459.5h1.5M67.5 465h1.5M97.5 427.5h1.5M80.5 470h1.5M85 467h1.5M160.5 459h1.5M85.5 457.5h1.5M114.5 440h1.5M63 484.5h1.5M66.5 471h1.5M91 433h1.5M93.5 435h1.5M90.5 428h1.5M59 466.5h1.5M163.5 455.5h1.5M81.5 464.5h1.5M112 437.5h1.5M161 470h1.5M109.5 431.5h1.5M141.5 458.5h1.5M92.5 423h1.5M67.5 468.5h1.5M129.5 439.5h1.5M167 458.5h1.5M75.5 457.5h1.5M121.5 452h1.5M74.5 470.5h1.5M52 471.5h1.5M51 464.5h1.5M77.5 467.5h1.5M115.5 445.5h1.5M72 461.5h1.5M164 465.5h1.5M122 446h1.5M147 461.5h1.5M121 459h1.5M83.5 452.5h1.5M114 437.5h1.5M157.5 458.5h1.5M107.5 433.5h1.5M85 474h1.5M65 460h1.5M166.5 457h1.5M94 410h1.5M133.5 452h1.5M173.5 451.5h1.5M63.5 452h1.5M86 460.5h1.5M90.5 435.5h1.5M52 473.5h1.5M73 455h1.5M140 446.5h1.5M174 459h1.5M131.5 454h1.5M145.5 453h1.5M94.5 415h1.5M126 462h1.5M114 452h1.5M127.5 451.5h1.5M60 444h1.5M123.5 449.5h1.5M90.5 439h1.5M121.5 456h1.5M178.5 457.5h1.5M124.5 432h1.5M89.5 450h1.5M71 462h1.5M62 462.5h1.5M74 453h1.5M161.5 473.5h1.5M145 463h1.5M166 465.5h1.5M159 454.5h1.5M113 436h1.5M96 419h1.5M122 447.5h1.5M149.5 461.5h1.5M70.5 465.5h1.5M105 436.5h1.5M177 467h1.5M148.5 446h1.5M83 463.5h1.5M119 445.5h1.5M75 467.5h1.5M151 462.5h1.5M118.5 443h1.5M148 467h1.5M83.5 475h1.5M75.5 476.5h1.5M157 461h1.5M66 462h1.5M119.5 438h1.5M59 463.5h1.5M73.5 464h1.5M73.5 470h1.5M157.5 446.5h1.5M53 461.5h1.5M102 441h1.5M154.5 464h1.5M118 446h1.5M112 444h1.5M161.5 465h1.5M164 445.5h1.5M82.5 474.5h1.5M94 447h1.5M55 455h1.5M125 445.5h1.5M100 425.5h1.5M79 451.5h1.5M175 469.5h1.5M125 453.5h1.5M96 444h1.5M57 469h1.5M145.5 454.5h1.5M142 446.5h1.5M178 459.5h1.5M131 439h1.5M122.5 428h1.5M88 463h1.5M81.5 468.5h1.5M92.5 435h1.5M124 462.5h1.5M175 453h1.5M166 452h1.5M66.5 459.5h1.5M70 482h1.5M55 471h1.5M174 459h1.5M169.5 447h1.5M94 430.5h1.5M127 449h1.5M141.5 434h1.5M69.5 460.5h1.5M177 463h1.5M106.5 448.5h1.5M110 436.5h1.5M161.5 456.5h1.5M80 470.5h1.5M176.5 453.5h1.5M114.5 453.5h1.5M107 424h1.5M148.5 454.5h1.5M76 455.5h1.5M127.5 442.5h1.5M68.5 473h1.5M99 431.5h1.5M177 443h1.5M156.5 465h1.5M152 445.5h1.5M108.5 445h1.5M117.5 444h1.5M92 417.5h1.5M76.5 464h1.5M89 455.5h1.5M67 460h1.5M88.5 463h1.5M168.5 462h1.5M129.5 444h1.5M140.5 454h1.5M148.5 459.5h1.5M53.5 466.5h1.5M130.5 463h1.5M166 455.5h1.5M118.5 447h1.5M79.5 462h1.5M155 462.5h1.5M67.5 474h1.5M159 457h1.5M101 419.5h1.5M173 464.5h1.5M134 430h1.5M135.5 442h1.5M131 455.5h1.5M74 485.5h1.5M109 439.5h1.5M83 476h1.5M68.5 468h1.5M51 473.5h1.5M137 457.5h1.5M53.5 455h1.5M66.5 476h1.5M160 453.5h1.5M142.5 456h1.5M71 463.5h1.5M169.5 460h1.5M78 465h1.5M118.5 439.5h1.5M104 428.5h1.5M96.5 426.5h1.5M90.5 426h1.5M76.5 435h1.5M137.5 444h1.5M140 440.5h1.5M66.5 473.5h1.5M82 457.5h1.5M81.5 470.5h1.5M157 456h1.5M139.5 440.5h1.5M177 460h1.5M174 458.5h1.5M114 453h1.5M76.5 468.5h1.5M170.5 465h1.5M123 455.5h1.5M67 465h1.5M56 463.5h1.5M124 466.5h1.5M163.5 468h1.5M73 459.5h1.5M174.5 460h1.5M171.5 468.5h1.5M51 469.5h1.5M122.5 441.5h1.5M132 436.5h1.5M85.5 448h1.5M56 461.5h1.5M96 426.5h1.5M138.5 441h1.5M157.5 455h1.5M55.5 472.5h1.5M91.5 433h1.5M129 443.5h1.5M95.5 442.5h1.5M87.5 465.5h1.5M129 450.5h1.5M165.5 462.5h1.5M174 459.5h1.5M59.5 476h1.5M118 429.5h1.5M164.5 457.5h1.5M155.5 464h1.5M140 450.5h1.5M165.5 457h1.5M149.5 472.5h1.5M100 430.5h1.5M77 460.5h1.5M97.5 422h1.5M145 445h1.5M176.5 446.5h1.5M97.5 434h1.5M111.5 441h1.5M122.5 433h1.5M76.5 459h1.5M178 443.5h1.5M162.5 462.5h1.5M120.5 437h1.5M109.5 429.5h1.5M57 458.5h1.5M144 459.5h1.5M146 459.5h1.5M85 453.5h1.5M167.5 440h1.5M58 468h1.5M59 470.5h1.5M71 455.5h1.5M138.5 457.5h1.5M91 440h1.5M120 454h1.5M100 426h1.5M133.5 448h1.5M149 463h1.5M156 457.5h1.5M124 446h1.5M143 451h1.5M125.5 447.5h1.5M145.5 462h1.5M123.5 443h1.5M78 480h1.5M73.5 464h1.5M165.5 453.5h1.5M63 445h1.5M63 460.5h1.5M144.5 455.5h1.5M131 447h1.5M178 457h1.5M71.5 489.5h1.5M157 454.5h1.5M108 449h1.5M83 463.5h1.5M66.5 472h1.5M145.5 463h1.5M143.5 490.5h1.5M74 464h1.5M130.5 447h1.5M108.5 432.5h1.5M131.5 466.5h1.5M131.5 454h1.5M148 457h1.5M130 442.5h1.5M112.5 433.5h1.5M75 462h1.5M94 433.5h1.5M171 451h1.5M124.5 442h1.5M164 444h1.5M101 436h1.5M75.5 455.5h1.5M112 433.5h1.5M135.5 457h1.5M148.5 455.5h1.5M142.5 454h1.5M148 468h1.5M97.5 424.5h1.5M161 459h1.5M102.5 447.5h1.5M162 460.5h1.5M94 442.5h1.5M90 435h1.5M167 471.5h1.5M150 458h1.5M120.5 449.5h1.5M93.5 422.5h1.5M164 454.5h1.5M93 418.5h1.5M68 466.5h1.5M63.5 466h1.5M74 478h1.5M115.5 448h1.5M168 464.5h1.5M59 517h1.5M68.5 499.5h1.5M90 509h1.5M91 388h1.5" stroke="#21a246" stroke-width="1.5" fill="none"/>
<path d="M51.5 464.9h0M52.7 464.7h0M54.0 465.3h0M55.2 465.3h0M56.5 464.6h0M57.7 464.5h0M59.0 465.2h0M60.2 464.6h0M61.5 465.1h0M62.7 465.0h0M64.0 464.8h0M65.2 466.2h0M66.4 465.3h0M67.7 465.1h0M68.9 465.1h0M70.2 465.3h0M71.4 464.8h0M72.7 465.3h0M73.9 465.5h0M75.2 465.3h0M76.4 464.5h0M77.6 466.1h0M78.9 465.8h0M80.1 465.6h0M81.4 465.5h0M82.6 464.8h0M83.9 463.8h0M85.1 463.0h0M86.4 460.4h0M87.6 454.6h0M88.9 445.9h0M90.1 435.2h0M91.3 424.3h0M92.6 421.7h0M93.8 428.1h0M95.1 432.1h0M96.3 432.7h0M97.6 434.0h0M98.8 434.3h0M100.1 435.3h0M101.3 434.4h0M102.5 433.8h0M103.8 434.7h0M105.0 433.1h0M106.3 434.4h0M107.5 434.9h0M108.8 434.9h0M110.0 435.4h0M111.3 439.4h0M112.5 443.8h0M113.8 445.6h0M115.0 445.3h0M116.2 444.6h0M117.5 445.3h0M118.7 445.6h0M120.0 446.2h0M121.2 447.8h0M122.5 446.6h0M123.7 445.7h0M125.0 445.1h0M126.2 445.9h0M127.5 446.0h0M128.7 447.1h0M129.9 446.9h0M131.2 447.3h0M132.4 447.6h0M133.7 447.5h0M134.9 447.5h0M136.2 447.5h0M137.4 447.3h0M138.7 447.6h0M139.9 448.2h0M141.1 450.2h0M142.4 452.9h0M143.6 455.0h0M144.9 457.1h0M146.1 456.9h0M147.4 457.9h0M148.6 457.0h0M149.9 456.8h0M151.1 456.9h0M152.4 458.0h0M153.6 457.5h0M154.8 458.3h0M156.1 456.7h0M157.3 456.8h0M158.6 456.6h0M159.8 456.8h0M161.1 457.1h0M162.3 458.7h0M163.6 459.5h0M164.8 460.1h0M166.0 460.0h0M167.3 459.6h0M168.5 460.3h0M169.8 459.8h0M171.0 459.9h0M172.3 458.7h0M173.5 458.0h0M174.8 457.9h0M176.0 456.5h0M177.3 457.3h0M178.5 457.5h0" stroke="#000" stroke-width="3.9" fill="none" stroke-linecap="round"/>
<text x="55.6" y="391.4" font-size="13.6" text-anchor="start" font-weight="bold" font-style="italic" >rnhA</text>
<text x="49.0" y="380.6" font-size="8.3" text-anchor="end" font-weight="normal" font-style="normal" >1.6</text>
<text x="49.0" y="403.9" font-size="8.3" text-anchor="end" font-weight="normal" font-style="normal" >1.4</text>
<text x="49.0" y="427.2" font-size="8.3" text-anchor="end" font-weight="normal" font-style="normal" >1.2</text>
<text x="49.0" y="450.5" font-size="8.3" text-anchor="end" font-weight="normal" font-style="normal" >1.0</text>
<text x="49.0" y="473.8" font-size="8.3" text-anchor="end" font-weight="normal" font-style="normal" >0.8</text>
<text x="49.0" y="497.1" font-size="8.3" text-anchor="end" font-weight="normal" font-style="normal" >0.6</text>
<text x="49.0" y="520.4" font-size="8.3" text-anchor="end" font-weight="normal" font-style="normal" >0.4</text>
</g>
<text x="11.6" y="389.7" font-size="17.2" text-anchor="start" font-weight="normal" font-style="normal" >D)</text>
<text x="0" y="0" font-size="9.05" text-anchor="middle" font-weight="normal" font-style="normal" transform="translate(30.6 450) rotate(-90)">relative copy number</text>
<text x="51.9" y="528.7" font-size="8.3" text-anchor="middle" font-weight="normal" font-style="normal" >0</text>
<text x="79.3" y="528.7" font-size="8.3" text-anchor="middle" font-weight="normal" font-style="normal" >1</text>
<text x="106.7" y="528.7" font-size="8.3" text-anchor="middle" font-weight="normal" font-style="normal" >2</text>
<text x="134.1" y="528.7" font-size="8.3" text-anchor="middle" font-weight="normal" font-style="normal" >3</text>
<text x="161.5" y="528.7" font-size="8.3" text-anchor="middle" font-weight="normal" font-style="normal" >4</text>
<text x="112.8" y="538.0" font-size="9.05" text-anchor="middle" font-weight="normal" font-style="normal" >chromosome position (Mb)</text>
<text x="91.0" y="518.0" font-size="8.9" text-anchor="middle" font-weight="normal" font-style="normal" >terminus</text>
<path d="M86.3 506.4A7.1 5.0 0 0 0 100.6 506.4" stroke="#000" stroke-width="0.9" fill="none"/>
<text x="152.4" y="518.6" font-size="8.9" text-anchor="middle" font-weight="normal" font-style="italic" >oriC</text>
<path d="M152.6 504.4V512.3" stroke="#000" stroke-width="0.8" fill="none"/>
<g id="plotD2">
<path d="M211.0 375.6H341.3M211.0 396.0H341.3M211.0 416.5H341.3M211.0 436.9H341.3M211.0 457.3H341.3M211.0 477.8H341.3M211.0 498.2H341.3M211.0 518.6H341.3M266.6 375.6V518.6M322.8 375.6V518.6M211.0 375.6V518.6" stroke="#d9d9d9" stroke-width="0.9" fill="none"/>
<path d="M308 442.5h1.5M224.5 470h1.5M299 451.5h1.5M224.5 463.5h1.5M226.5 476.5h1.5M255 481h1.5M271.5 467.5h1.5M240.5 472h1.5M225 463.5h1.5M230 463h1.5M240 477.5h1.5M294.5 459h1.5M224.5 457.5h1.5M217.5 457h1.5M300.5 442h1.5M221 465h1.5M235 463h1.5M297.5 446.5h1.5M293 460.5h1.5M225 470.5h1.5M217.5 459h1.5M291 447h1.5M213 457.5h1.5M290 449h1.5M233 467.5h1.5M212.5 463h1.5M236 475.5h1.5M242.5 472.5h1.5M287 450.5h1.5M323.5 433h1.5M285 485h1.5M302 435.5h1.5M241.5 478.5h1.5M322 433.5h1.5M241.5 473.5h1.5M225 462h1.5M243 473.5h1.5M306 433.5h1.5M310 434.5h1.5M228 484h1.5M276.5 466h1.5M257 467h1.5M223 460.5h1.5M231 477.5h1.5M332 443.5h1.5M309 428h1.5M260.5 473.5h1.5M244 468h1.5M264.5 463.5h1.5M335 443.5h1.5M235 465.5h1.5M243 469h1.5M314.5 414.5h1.5M255 460h1.5M292 454.5h1.5M251 467h1.5M242.5 467.5h1.5M244 473h1.5M337 453h1.5M255.5 463.5h1.5M305.5 441.5h1.5M268 469h1.5M292.5 453.5h1.5M295 442.5h1.5M273 472h1.5M241 484.5h1.5M221.5 460h1.5M217 467h1.5M224 458h1.5M300 454.5h1.5M271.5 465h1.5M260.5 463h1.5M289 464h1.5M258.5 457h1.5M288 455h1.5M249 477.5h1.5M273 454h1.5M268.5 467h1.5M254.5 476.5h1.5M213 459.5h1.5M260 478h1.5M311 426.5h1.5M268 462h1.5M327.5 447.5h1.5M299 434.5h1.5M219 468h1.5M297.5 447.5h1.5M283 461.5h1.5M279.5 469h1.5M216.5 451h1.5M233 473.5h1.5M248 478h1.5M264.5 464.5h1.5M270.5 464h1.5M284 459.5h1.5M315 423h1.5M228.5 468.5h1.5M239.5 473h1.5M320.5 433.5h1.5M310 431.5h1.5M308.5 423h1.5M309 436h1.5M235.5 472h1.5M230 455h1.5M284 465h1.5M318.5 427.5h1.5M297.5 442.5h1.5M250.5 466.5h1.5M226.5 463.5h1.5M245.5 476h1.5M270 468h1.5M324.5 440.5h1.5M336 442h1.5M303.5 423h1.5M249 475h1.5M253.5 469.5h1.5M299 439h1.5M276 459.5h1.5M289.5 453.5h1.5M247.5 473.5h1.5M271.5 459.5h1.5M252.5 472h1.5M219 465h1.5M226 480h1.5M268 471h1.5M292.5 440h1.5M312 419.5h1.5M305 464h1.5M228 459h1.5M226.5 463h1.5M214 460.5h1.5M231.5 471.5h1.5M293 450h1.5M289 446h1.5M295 452.5h1.5M290.5 451.5h1.5M269 465h1.5M249.5 473.5h1.5M307.5 431h1.5M255 465h1.5M240.5 470h1.5M337 446.5h1.5M226 465.5h1.5M268.5 468.5h1.5M236.5 475h1.5M232.5 465.5h1.5M336.5 453.5h1.5M223 446.5h1.5M218.5 463h1.5M236 470h1.5M256 461.5h1.5M333.5 451h1.5M278.5 466.5h1.5M215.5 453.5h1.5M338.5 456.5h1.5M243 458.5h1.5M278 461.5h1.5M270 462h1.5M235.5 472h1.5M259 471h1.5M225 467h1.5M258.5 468h1.5M283 455.5h1.5M269 458h1.5M305.5 436.5h1.5M329 448.5h1.5M242 475h1.5M256.5 471h1.5M334 448h1.5M329.5 439.5h1.5M311 430h1.5M257.5 468.5h1.5M265 467h1.5M336 450h1.5M309.5 426h1.5M212.5 460.5h1.5M273 463.5h1.5M255.5 469h1.5M236 474h1.5M277.5 450.5h1.5M286 464h1.5M263 468.5h1.5M251 463.5h1.5M250 480.5h1.5M337.5 438.5h1.5M241.5 475.5h1.5M230 475.5h1.5M321 430h1.5M334.5 444h1.5M339 462h1.5M315.5 427.5h1.5M285 458.5h1.5M254.5 473.5h1.5M314 428.5h1.5M311.5 423.5h1.5M287 457.5h1.5M260 464h1.5M263.5 479.5h1.5M261 471.5h1.5M253.5 470h1.5M316 421.5h1.5M295.5 449h1.5M336.5 452h1.5M246.5 477h1.5M311.5 432h1.5M233.5 469.5h1.5M222.5 458h1.5M279 471h1.5M258 474h1.5M276 465h1.5M309.5 441h1.5M236.5 457.5h1.5M239.5 465.5h1.5M289 456h1.5M323 432.5h1.5M334.5 454h1.5M330 453h1.5M277 463.5h1.5M269 469.5h1.5M275.5 459.5h1.5M285.5 454h1.5M244 472.5h1.5M247.5 474.5h1.5M294.5 449h1.5M312 418h1.5M251 473h1.5M271 466.5h1.5M327 444h1.5M304.5 433h1.5M327 444h1.5M225 460.5h1.5M305.5 441.5h1.5M292.5 447.5h1.5M233 465h1.5M309.5 453.5h1.5M322 440h1.5M328 437.5h1.5M294 447h1.5M303.5 438.5h1.5M267.5 473.5h1.5M333 452.5h1.5M281 451.5h1.5M239.5 476h1.5M256.5 466.5h1.5M320.5 431.5h1.5M257 463.5h1.5M245 471.5h1.5M250.5 481h1.5M311 433.5h1.5M248.5 474h1.5M316 424h1.5M291.5 455h1.5M321 446h1.5M329.5 446.5h1.5M267.5 472.5h1.5M266 468h1.5M290 444h1.5M334.5 446.5h1.5M225 467.5h1.5M241.5 471h1.5M214 465h1.5M247 471h1.5M322.5 436h1.5M249 483.5h1.5M250 474.5h1.5M273 456h1.5M238.5 467h1.5M267 464.5h1.5M305 440h1.5M231 472h1.5M318 420h1.5M319.5 433.5h1.5M330.5 456.5h1.5M239.5 468h1.5M234 467h1.5M281.5 462.5h1.5M326 444.5h1.5M290.5 453.5h1.5M291 450.5h1.5M215.5 452h1.5M253.5 471h1.5M234.5 467.5h1.5M263 488h1.5M300 432h1.5M262.5 467h1.5M273.5 467h1.5M283.5 456h1.5M262.5 462.5h1.5M233 461.5h1.5M302 442h1.5M227 473.5h1.5M268.5 482h1.5M321.5 431h1.5M242.5 466h1.5M272.5 466.5h1.5M240 477h1.5M244 477h1.5M298 443h1.5M330 456.5h1.5M216.5 455.5h1.5M329.5 446.5h1.5M257 469.5h1.5M227 468.5h1.5M234.5 468h1.5M255 461.5h1.5M220.5 469h1.5M230.5 477h1.5M337 465.5h1.5M329.5 438.5h1.5M235 475.5h1.5M214.5 465h1.5M318 423h1.5M331 452h1.5M330.5 461.5h1.5M256.5 466.5h1.5M227.5 464.5h1.5M232.5 463h1.5M295.5 448.5h1.5M258.5 470h1.5M288.5 455h1.5M254 482.5h1.5M311 423h1.5M293 453h1.5M265 463.5h1.5M245.5 472h1.5M236.5 467.5h1.5M241.5 465h1.5M264.5 474h1.5M239.5 476.5h1.5M237 478.5h1.5M240 473.5h1.5M271 467h1.5M252.5 463h1.5M282.5 470h1.5M258.5 493h1.5M272.5 455.5h1.5M216.5 463.5h1.5M315.5 419.5h1.5M227 461h1.5M280 473h1.5M280.5 460h1.5M259.5 474h1.5M220 469.5h1.5M298 440h1.5M220.5 462.5h1.5M289 453.5h1.5M320.5 427.5h1.5M241.5 471.5h1.5M301 437.5h1.5M230 466h1.5M317 432h1.5M308 437.5h1.5M220.5 463h1.5M237 469h1.5M219.5 466h1.5M240 472h1.5M330.5 441h1.5M238.5 475.5h1.5M225.5 466.5h1.5M285 455h1.5M299.5 439.5h1.5M215 457.5h1.5M314.5 421.5h1.5M259.5 468h1.5M303.5 443.5h1.5M263 469.5h1.5M239 477h1.5M255 464h1.5M284 461.5h1.5M323.5 431.5h1.5M292 451.5h1.5M273 468h1.5M238.5 470h1.5M257 470h1.5M211.5 454h1.5M307.5 436.5h1.5M285 457.5h1.5M230.5 446h1.5M266 467h1.5M336 459h1.5M328 446h1.5M272 464.5h1.5M303 445h1.5M226.5 469.5h1.5M254 471.5h1.5M335.5 449.5h1.5M243.5 470.5h1.5M275.5 456h1.5M272 463.5h1.5M230 449h1.5M333 454h1.5M218.5 455.5h1.5M336.5 449.5h1.5M226 465.5h1.5M223.5 464h1.5M249 475.5h1.5M276.5 450h1.5M254.5 476.5h1.5M251.5 467h1.5M268 462h1.5M287 455.5h1.5M293 445h1.5M239 469.5h1.5M325.5 444h1.5M291.5 461h1.5M257 478.5h1.5M262.5 471h1.5M284 455h1.5M240 469h1.5M229.5 476h1.5M331.5 441.5h1.5M242 472.5h1.5M237 472h1.5M245.5 483h1.5M250.5 475h1.5M226 462h1.5M255.5 463h1.5M304.5 439.5h1.5M274.5 464.5h1.5M314 417.5h1.5M268 461.5h1.5M327.5 432.5h1.5M270 463.5h1.5M221 460.5h1.5M212 456h1.5M285.5 460h1.5M319 429h1.5M233.5 469.5h1.5M215 446h1.5M296.5 439.5h1.5M308.5 434h1.5M324 432.5h1.5M272 465h1.5M257 469h1.5M229 465h1.5M246.5 475.5h1.5M337.5 451h1.5M233.5 450h1.5M312 425h1.5M261.5 476.5h1.5M213 450h1.5M307 425h1.5M310 432.5h1.5M223 463h1.5M314.5 419h1.5M211.5 453.5h1.5M226.5 466h1.5M288 448.5h1.5M240.5 465.5h1.5M320 428h1.5M265.5 468h1.5M307.5 426.5h1.5M312 428h1.5M256 472.5h1.5M259 475h1.5M281 456h1.5M327 431.5h1.5M266.5 482h1.5M248.5 475h1.5M316 420.5h1.5M290 451h1.5M274 468.5h1.5M324 437.5h1.5M246.5 468h1.5M214 456h1.5M302 432h1.5M247 477h1.5M214 459.5h1.5M311 430h1.5M311.5 435h1.5M314.5 425h1.5M213 449h1.5M236 480h1.5M238.5 469h1.5M338.5 453.5h1.5M282 465h1.5M324 434.5h1.5M296 443h1.5M254.5 482.5h1.5M253.5 472h1.5M221 475.5h1.5M309 421.5h1.5M300 446.5h1.5M322 435.5h1.5M285.5 462.5h1.5M212 469h1.5M253.5 480.5h1.5M254.5 478.5h1.5M243 467h1.5M333 444.5h1.5M265.5 478h1.5M286.5 456h1.5M328 438h1.5M224 461.5h1.5M310 435.5h1.5M236.5 466h1.5M258.5 467h1.5M247 472.5h1.5M337 452h1.5M305.5 448h1.5M307.5 428.5h1.5M270.5 468h1.5M325 432.5h1.5M268 468h1.5M296.5 439.5h1.5M308.5 426h1.5M270.5 462.5h1.5M228 498.5h1.5M262 462.5h1.5M238.5 473h1.5M267 475.5h1.5M328 447h1.5M266 468.5h1.5M325.5 440h1.5M302 436.5h1.5M292 449.5h1.5M279 466.5h1.5M230 454h1.5M242.5 468.5h1.5M214 454.5h1.5M217.5 461.5h1.5M282 458.5h1.5M293.5 454h1.5M248 478.5h1.5M307.5 430h1.5M325.5 436.5h1.5M215 456h1.5M257 465.5h1.5M246.5 470h1.5M230.5 463h1.5M333.5 446h1.5M279.5 459.5h1.5M214.5 454h1.5M336.5 463.5h1.5M242.5 466.5h1.5M290 456h1.5M228 455h1.5M261 464h1.5M301 442h1.5M245.5 460.5h1.5M313.5 418.5h1.5M265.5 471.5h1.5M224 481h1.5M324 425.5h1.5M328.5 438.5h1.5M329 438h1.5M300.5 446.5h1.5M271.5 459.5h1.5M248.5 476.5h1.5M239.5 466.5h1.5M216.5 464h1.5M256 443.5h1.5M331.5 447h1.5M312 432h1.5M261 474.5h1.5M278 464h1.5M281 459.5h1.5M301.5 447h1.5M251.5 456.5h1.5M305 438.5h1.5M263.5 474h1.5M285.5 463.5h1.5M298 453.5h1.5M282 462.5h1.5M335 453h1.5M287 466h1.5M303 441.5h1.5M308.5 423.5h1.5M244.5 473h1.5M281 468h1.5M274.5 460h1.5M253.5 462h1.5M320 426.5h1.5M287.5 456h1.5M219 454.5h1.5M303 446h1.5M292.5 451h1.5M310.5 429.5h1.5M333.5 453h1.5M332 451.5h1.5M313 421h1.5M227 462.5h1.5M224 460h1.5M244 467h1.5M249.5 464.5h1.5M319 421h1.5M235 465.5h1.5M332.5 453.5h1.5M331 441h1.5M280 463h1.5M322 427h1.5M260.5 472.5h1.5M215.5 467h1.5M332.5 442.5h1.5M269.5 464.5h1.5M284 453h1.5M311.5 423h1.5M215 466.5h1.5M228 468h1.5M300.5 435h1.5M257 475.5h1.5M274.5 462h1.5M299 446.5h1.5M333 451.5h1.5M306.5 441h1.5M264 469.5h1.5M234.5 470.5h1.5M251 477.5h1.5M292 452h1.5M255 475.5h1.5M214.5 465h1.5M285 447.5h1.5M232 461.5h1.5M271.5 459.5h1.5M334.5 453.5h1.5M238.5 473.5h1.5M330 449.5h1.5M250.5 471.5h1.5M312.5 425h1.5M298 447.5h1.5M328.5 446.5h1.5M262 454h1.5M306.5 436h1.5M224.5 465h1.5M312.5 428.5h1.5M229.5 471.5h1.5M231 454.5h1.5M313 443h1.5M224.5 462h1.5M291 452h1.5M284.5 461h1.5M250 471.5h1.5M263.5 461.5h1.5M234.5 475h1.5M239 468.5h1.5M252 467.5h1.5M221 465.5h1.5M235 453.5h1.5M307.5 436.5h1.5M218 461h1.5M288.5 453.5h1.5M225.5 468.5h1.5M315 412.5h1.5M242 473h1.5M222.5 449.5h1.5M336.5 440.5h1.5M231 477h1.5M292 458.5h1.5M308.5 429.5h1.5M279 464.5h1.5M225.5 459.5h1.5M234 469h1.5M325 444h1.5M219.5 457.5h1.5M339 448.5h1.5M225.5 463h1.5M322.5 426h1.5M252 479h1.5M284 463h1.5M233.5 470.5h1.5M272 467h1.5M286 466.5h1.5M330.5 444.5h1.5M307.5 440h1.5M313.5 424.5h1.5M318 419.5h1.5M235.5 455h1.5M327.5 447h1.5M274 461h1.5M290 449h1.5M318.5 434h1.5M321.5 417.5h1.5M221.5 474h1.5M238 467.5h1.5M302.5 445h1.5M301.5 439.5h1.5M280 466h1.5M298.5 447h1.5M290 442.5h1.5M239 465.5h1.5M228.5 459.5h1.5M225.5 452h1.5M213 460h1.5M330.5 445.5h1.5M291.5 453.5h1.5M286.5 451h1.5M260 471.5h1.5M275 456.5h1.5M275 460h1.5M300 447h1.5M215 464.5h1.5M288.5 455.5h1.5M254 465.5h1.5M337.5 448.5h1.5M233 480.5h1.5M282 453.5h1.5M276 475h1.5M250.5 474h1.5M283 454h1.5M299 440.5h1.5M246 468h1.5M270 470h1.5M307.5 437h1.5M271 467.5h1.5M251.5 471.5h1.5M294 445h1.5M234.5 477h1.5M265.5 473.5h1.5M240.5 477h1.5M252.5 465h1.5M217 466.5h1.5M235 463h1.5M309.5 437h1.5M294.5 451.5h1.5M226.5 466.5h1.5M222.5 471.5h1.5M249.5 478.5h1.5M333 450h1.5M296.5 444.5h1.5M222.5 456.5h1.5M337 453h1.5M214 480h1.5M292 453.5h1.5M228.5 474.5h1.5M260.5 477.5h1.5M315.5 413h1.5M309.5 434h1.5M248 465.5h1.5M215.5 461h1.5M268.5 478h1.5M331 446h1.5M296 437h1.5M332 449.5h1.5M303.5 427.5h1.5M338.5 462.5h1.5M249.5 478h1.5M289.5 449h1.5M339 454.5h1.5M261.5 469h1.5M323.5 431.5h1.5M285 450h1.5M250.5 471h1.5M270 469.5h1.5M282.5 452.5h1.5M286.5 460.5h1.5M214.5 458h1.5M243.5 461.5h1.5M260.5 466.5h1.5M322.5 438.5h1.5M327 442.5h1.5M313 426.5h1.5M280.5 472h1.5M296 441h1.5M273 462h1.5M236 468.5h1.5M219 452.5h1.5M321.5 438.5h1.5M331 453h1.5M238 472h1.5M287.5 453h1.5M255.5 473.5h1.5M329 448.5h1.5M224 475.5h1.5M276.5 475h1.5M291.5 458.5h1.5M299.5 422.5h1.5M311.5 425h1.5M232.5 464h1.5M241.5 472h1.5M276 466h1.5M270 468h1.5M307.5 434.5h1.5M329 439h1.5M305 439h1.5M294.5 451h1.5M220.5 465.5h1.5M218.5 462h1.5M302.5 440h1.5M326 428.5h1.5M267 460.5h1.5M213.5 452h1.5M301 441h1.5M256 477h1.5M322 440.5h1.5M276 462.5h1.5M213 453.5h1.5M254 470.5h1.5M279 465h1.5M295.5 447h1.5M285 454h1.5M256.5 472h1.5M251.5 478h1.5M219.5 466h1.5M260.5 465.5h1.5M312.5 431.5h1.5M322.5 430.5h1.5M298.5 442h1.5M251.5 480h1.5M296.5 447h1.5M328 439h1.5M313 424.5h1.5M270.5 463h1.5M313.5 416.5h1.5M213 454h1.5M288.5 466h1.5M312.5 432h1.5M288 460h1.5M272.5 454h1.5M333 449h1.5M214.5 457.5h1.5M273.5 472.5h1.5M214 457.5h1.5M277.5 459h1.5M287 457h1.5M267.5 459.5h1.5M280 459h1.5M240 479.5h1.5M299.5 439h1.5M279 460h1.5M227.5 458.5h1.5M279.5 459.5h1.5M316.5 421h1.5M236 472h1.5M265.5 462h1.5M300 439.5h1.5M332.5 452h1.5M336.5 451h1.5M321 428.5h1.5M328.5 441.5h1.5M222 456.5h1.5M334.5 459.5h1.5M233 471h1.5M275 457.5h1.5M328.5 441.5h1.5M212 445h1.5M299 444.5h1.5M262 471.5h1.5M321.5 422h1.5M312.5 426h1.5M300 436h1.5M215 460h1.5M242 467.5h1.5M277.5 456.5h1.5M216.5 466.5h1.5M246 484h1.5M315.5 427h1.5M276 455.5h1.5M296 446.5h1.5M242.5 471.5h1.5M246.5 483h1.5M299 448h1.5M299.5 442h1.5M276.5 464h1.5M220.5 452h1.5M247.5 474.5h1.5M258.5 463.5h1.5M324 438.5h1.5M284 465h1.5M263.5 473h1.5M296 450.5h1.5M331.5 453.5h1.5M301 441.5h1.5M318 433h1.5M215 463h1.5M246.5 473h1.5M307 430h1.5M245 482.5h1.5M308 437h1.5M297.5 450.5h1.5M332.5 448.5h1.5M321.5 423h1.5M268 460.5h1.5M289 457h1.5M246.5 479.5h1.5M327.5 440.5h1.5M319.5 422.5h1.5M332 456h1.5M301 448.5h1.5M284 460.5h1.5M245 478h1.5M287 458h1.5M231 460.5h1.5M238 499h1.5M213 448h1.5M224.5 468.5h1.5M287 443h1.5M253 479h1.5M252.5 468.5h1.5M252.5 462h1.5M284 459.5h1.5M211.5 451.5h1.5M268 462.5h1.5M220.5 453.5h1.5M323 432h1.5M311 428.5h1.5M301 442.5h1.5M333.5 445.5h1.5M286.5 459.5h1.5M250 472h1.5M234 478.5h1.5M321 426.5h1.5M325 445h1.5M303.5 439.5h1.5M266.5 463h1.5M226 466h1.5M216.5 457h1.5M326 444h1.5M257.5 481h1.5M238.5 469h1.5M283 447h1.5M313.5 427.5h1.5M331.5 445h1.5M322 449.5h1.5M222 459.5h1.5M229 465.5h1.5M220 467h1.5M311 426h1.5M239 470h1.5M225 466.5h1.5M314.5 417.5h1.5M302 439h1.5M335 447.5h1.5M299.5 440.5h1.5M266 463h1.5M314 429h1.5M306.5 424h1.5M269.5 461h1.5M247 472h1.5M299 434.5h1.5M325 435.5h1.5M282 448.5h1.5M240.5 462.5h1.5M334.5 449h1.5M218 469h1.5M298 437h1.5M253.5 480.5h1.5M277 454.5h1.5M256.5 467.5h1.5M238 474h1.5M319.5 428h1.5M297 446.5h1.5M285 455h1.5M327 449h1.5M220 466.5h1.5M234.5 473.5h1.5M268 475.5h1.5M294 453h1.5M260 465h1.5M261 471h1.5M335 448.5h1.5M302 430h1.5M255.5 475.5h1.5M250.5 472.5h1.5M258 469.5h1.5M326 436h1.5M264.5 476.5h1.5M236 482h1.5M281 454h1.5M280.5 462.5h1.5M227.5 465.5h1.5M270 469h1.5M312.5 435h1.5M251 470.5h1.5M299.5 441h1.5M321 429.5h1.5M265 471.5h1.5M262 471.5h1.5M215.5 462h1.5M261 469h1.5M318.5 428h1.5M335 455.5h1.5M308.5 426h1.5M248.5 471h1.5M299 439h1.5M230.5 468.5h1.5M230.5 467.5h1.5M228 462h1.5M236 470.5h1.5M236 460h1.5M257.5 478h1.5M291 451h1.5M317 420h1.5M274.5 456.5h1.5M219.5 471h1.5M284 453h1.5M257 475.5h1.5M228.5 476h1.5M212.5 463h1.5M234 476.5h1.5M309.5 423.5h1.5M231.5 469h1.5M332 441.5h1.5M214.5 461.5h1.5M235.5 468h1.5M310 434h1.5M245 468h1.5M249.5 474h1.5M290.5 466.5h1.5M308 431.5h1.5M295.5 447.5h1.5M226.5 461.5h1.5M241 469.5h1.5M229.5 465.5h1.5M249 482h1.5M310 426h1.5M238 480.5h1.5M288.5 461h1.5M316 430.5h1.5M334.5 459.5h1.5M273 463.5h1.5M318 436.5h1.5M226 475.5h1.5M295 450h1.5M306.5 432.5h1.5M269 471h1.5M296.5 455.5h1.5M233 472.5h1.5M220 463h1.5M212.5 465.5h1.5M221 466h1.5M312.5 431h1.5M245 487h1.5M215.5 461.5h1.5M319.5 436h1.5M274 472h1.5M224.5 469.5h1.5M282.5 459h1.5M211.5 458.5h1.5M298 448.5h1.5M337 451.5h1.5M289 455.5h1.5M320.5 429.5h1.5M308 432.5h1.5M308.5 427.5h1.5M305 439.5h1.5M314 420.5h1.5M327.5 444.5h1.5M270.5 469.5h1.5M271 473.5h1.5M303.5 432h1.5M313.5 425h1.5M252.5 476.5h1.5M221.5 466h1.5M272.5 454h1.5M238 472h1.5M305 441.5h1.5M334 465.5h1.5M320.5 431.5h1.5M318.5 438.5h1.5M250.5 466.5h1.5M273.5 460.5h1.5M239 460h1.5M325 443.5h1.5M324 433h1.5M258 470h1.5M313.5 424h1.5M300.5 452h1.5M303 437.5h1.5M272.5 463h1.5M238.5 472.5h1.5M318.5 432h1.5M285.5 451h1.5M320 431.5h1.5M231.5 467h1.5M260.5 468h1.5M240.5 470h1.5M244.5 467.5h1.5M212.5 445.5h1.5M252.5 477h1.5M246 467.5h1.5M218.5 460h1.5M229.5 464.5h1.5M301 447h1.5M215.5 452.5h1.5M296.5 440.5h1.5M263.5 463h1.5M323 433.5h1.5M215 461h1.5M229 466h1.5M320.5 431h1.5M322.5 435h1.5M282.5 456.5h1.5M298.5 441h1.5M334.5 464.5h1.5M268 460.5h1.5M310.5 438h1.5M232 454.5h1.5M265.5 460h1.5M306 435.5h1.5M326.5 446.5h1.5M337 458h1.5M273 475h1.5M220 450h1.5M223.5 460.5h1.5M216 465h1.5M266.5 470h1.5M293 448.5h1.5M271 472.5h1.5M218 456h1.5M219 461.5h1.5M314 414h1.5M282.5 462h1.5M247.5 481.5h1.5M227 470.5h1.5M224.5 465.5h1.5M260 469.5h1.5M214 450.5h1.5M234 459.5h1.5M237.5 479.5h1.5M325 438h1.5M212 452h1.5M226 474.5h1.5M239.5 467h1.5M252 481.5h1.5M274.5 460.5h1.5M317 431.5h1.5M331.5 452.5h1.5M239.5 475.5h1.5M262.5 474.5h1.5M297 450h1.5M248 471h1.5M222.5 464h1.5M239 463.5h1.5M213 454.5h1.5M247.5 465h1.5M334.5 451.5h1.5M315.5 399.5h1.5M277 460h1.5M329.5 435.5h1.5M227.5 472h1.5M312.5 413.5h1.5M332.5 441.5h1.5M327.5 417.5h1.5M226.5 481.5h1.5M262.5 464.5h1.5M259 466h1.5M275.5 463.5h1.5M252.5 474.5h1.5M241.5 472.5h1.5M317 418h1.5M266.5 465h1.5M283 452.5h1.5M316.5 423.5h1.5M300.5 444.5h1.5M271.5 464h1.5M232 463.5h1.5M275.5 456.5h1.5M287.5 460.5h1.5M304 440.5h1.5M299.5 438.5h1.5M273.5 463h1.5M295.5 451h1.5M297.5 456.5h1.5M255.5 474h1.5M219 461.5h1.5M259.5 472h1.5M269.5 469.5h1.5M331.5 448h1.5M263.5 471h1.5M213 466.5h1.5M232.5 469.5h1.5M299 428h1.5M300 445.5h1.5M320.5 434.5h1.5M308.5 421h1.5M308 445h1.5M262 475h1.5M264.5 474h1.5M325 434.5h1.5M257.5 470h1.5M330.5 448h1.5M220 460.5h1.5M243 466.5h1.5M218.5 473.5h1.5M256.5 463h1.5M317 422.5h1.5M243.5 474.5h1.5M271.5 467h1.5M323 436.5h1.5M214 461.5h1.5M241.5 473h1.5M231.5 469.5h1.5M235.5 461h1.5M244 475.5h1.5M292 451h1.5M302.5 442h1.5M214.5 458.5h1.5M303 439h1.5M213 454h1.5M320 428h1.5M215.5 461h1.5M335.5 462.5h1.5M226 470h1.5M259.5 476h1.5M326.5 444h1.5M320.5 431h1.5M227.5 462.5h1.5M291 461h1.5M213.5 455.5h1.5M283 458.5h1.5M221.5 450h1.5M322.5 432h1.5M301.5 430.5h1.5M327 443h1.5M255.5 480.5h1.5M301 453h1.5M294 447h1.5M250.5 478h1.5M246.5 464.5h1.5M242 450.5h1.5M255.5 457.5h1.5M252 469h1.5M244 474.5h1.5M300.5 475h1.5M266.5 465h1.5M322 433h1.5M259 475h1.5M301 445h1.5M279 453.5h1.5M284 459.5h1.5M262.5 475.5h1.5M290.5 449.5h1.5M243 475h1.5M234.5 485h1.5M228.5 461.5h1.5M269 454h1.5M214.5 460h1.5M215 442h1.5M284 455.5h1.5M282 455h1.5M336.5 450.5h1.5M257 503h1.5M291.5 455.5h1.5M286.5 454h1.5M332.5 459.5h1.5M286 457h1.5M242.5 472.5h1.5M289.5 452h1.5M331 449.5h1.5M322.5 435.5h1.5M292.5 454h1.5M305 427h1.5M289.5 455h1.5M267.5 474h1.5M271 468h1.5M255.5 466h1.5M255 469.5h1.5M333 448h1.5M233 470h1.5M279 469h1.5M246.5 464h1.5M226.5 468.5h1.5M298.5 440h1.5M329.5 437h1.5M281 460.5h1.5M233.5 464h1.5M243.5 475h1.5M234.5 468h1.5M317 421h1.5M326 433h1.5M284.5 453h1.5M229 463.5h1.5M261 467.5h1.5M269 463.5h1.5M332.5 454h1.5M290.5 455.5h1.5M234 472h1.5M283.5 464h1.5M258 465.5h1.5M256 471h1.5M262 474h1.5M228 459.5h1.5M325.5 431.5h1.5M280 465h1.5M253 474.5h1.5M290 445h1.5M233.5 459.5h1.5M273 463.5h1.5M232.5 466h1.5M283.5 453.5h1.5M261 458.5h1.5M261 471h1.5M244.5 464h1.5M287.5 463.5h1.5M263 467h1.5M224 461.5h1.5M229.5 466.5h1.5M211.5 460.5h1.5M314 418.5h1.5M282.5 449.5h1.5M227.5 465h1.5M264.5 470h1.5M228.5 468h1.5M282.5 469h1.5M223 467.5h1.5M212.5 454h1.5M217 463.5h1.5M230.5 455h1.5M313.5 454h1.5M301.5 437.5h1.5M254.5 458.5h1.5M295.5 442.5h1.5M329 445h1.5M309.5 432h1.5M314.5 426h1.5M318.5 438.5h1.5M310.5 425h1.5M215.5 461h1.5M337 450h1.5M261 468.5h1.5M213.5 454.5h1.5M332.5 456h1.5M230 451.5h1.5M266.5 471.5h1.5M228.5 469.5h1.5M330 451h1.5M233.5 474.5h1.5M290 447.5h1.5M246.5 474h1.5M330.5 441.5h1.5M293.5 468h1.5M226 466.5h1.5M293 432.5h1.5M306.5 436.5h1.5M300.5 450.5h1.5M251.5 472h1.5M315.5 427h1.5M241.5 466h1.5M331.5 443h1.5M285.5 453h1.5M297.5 442h1.5M321 434h1.5M329 445h1.5M229 459.5h1.5M271 444h1.5M328 451h1.5M240.5 466h1.5M331.5 445.5h1.5M250.5 483h1.5M321 436h1.5M231.5 495h1.5M222 470.5h1.5M297 448.5h1.5M228 473.5h1.5M224.5 461.5h1.5M338.5 455.5h1.5M234 468.5h1.5M291 452h1.5M260 477h1.5M271.5 470h1.5M219.5 466h1.5M264 471.5h1.5M293.5 449.5h1.5M328 445h1.5M285 454.5h1.5M265.5 475h1.5M317 424h1.5M234.5 472.5h1.5M334.5 454.5h1.5M292 449.5h1.5M263 471.5h1.5M314 425h1.5M269 466h1.5M245.5 472.5h1.5M248 466h1.5M315.5 420h1.5M217 465.5h1.5M254.5 479.5h1.5M314 430h1.5M322 437.5h1.5M231 462h1.5M298.5 452h1.5M253.5 485.5h1.5M246 464h1.5M247.5 454.5h1.5M307 440h1.5M221 453h1.5M266 461.5h1.5M256.5 466h1.5M278 460.5h1.5M264 466h1.5M335 450.5h1.5M315.5 427.5h1.5M262 472.5h1.5M240 476h1.5M285 456h1.5M271 461h1.5M301 437.5h1.5M297 449h1.5M335 443.5h1.5M239.5 466.5h1.5M300 442h1.5M272 453h1.5M255 475h1.5M274.5 467.5h1.5M319.5 437.5h1.5M246 466.5h1.5M252 475h1.5M315.5 426h1.5M323.5 436.5h1.5M276 468h1.5M280 462h1.5M256 469.5h1.5M330 446.5h1.5M312.5 415.5h1.5M339 473.5h1.5M314.5 423h1.5M240.5 477h1.5M255 473.5h1.5M334 451h1.5M322 425.5h1.5M267 466.5h1.5M214.5 459.5h1.5M229 478.5h1.5M318 412.5h1.5M311 419.5h1.5M245.5 480h1.5M314 429h1.5M321.5 436.5h1.5M223.5 466.5h1.5M297.5 439.5h1.5M303.5 437h1.5M242.5 477.5h1.5M216 472h1.5M237.5 471h1.5M212 456h1.5M328 443.5h1.5M339 452h1.5M304 439h1.5M283 456.5h1.5M301 447.5h1.5M249.5 464.5h1.5M284 455h1.5M308 438h1.5M302 448h1.5M292 451.5h1.5M227.5 452.5h1.5M286.5 446.5h1.5M336.5 450.5h1.5M244.5 471h1.5M268.5 458.5h1.5M266.5 470.5h1.5M303.5 440h1.5M232.5 469h1.5M238 468.5h1.5M291 463h1.5M271 472h1.5M270.5 456.5h1.5M278 456.5h1.5M251 470.5h1.5M331.5 442.5h1.5M327.5 447.5h1.5M295.5 442h1.5M236 477h1.5M304.5 434h1.5M298 442h1.5M231.5 464.5h1.5M272.5 458.5h1.5M264 472h1.5M269 469h1.5M276.5 452.5h1.5M283.5 436.5h1.5M292 449.5h1.5M312 424h1.5M334.5 442h1.5M284 465h1.5M296.5 451h1.5M269 465.5h1.5M254.5 448h1.5M306 435.5h1.5M313 419.5h1.5M313.5 431.5h1.5M235.5 466h1.5M237 470.5h1.5M283.5 442h1.5M320 434.5h1.5M249 475h1.5M216.5 461h1.5M320 432h1.5M319 436.5h1.5M323.5 433.5h1.5M267 465.5h1.5M295.5 437h1.5M284.5 469.5h1.5M309.5 428.5h1.5M295 452.5h1.5M315.5 417.5h1.5M219 464h1.5M324.5 442h1.5M261.5 467h1.5M291 448.5h1.5M308.5 422h1.5M294 446.5h1.5M224.5 478.5h1.5M283.5 472h1.5M295.5 452h1.5M225.5 466h1.5M267.5 477h1.5M315 428.5h1.5M299.5 448.5h1.5M258 475.5h1.5M215 462.5h1.5M291.5 457.5h1.5M261.5 470.5h1.5M231.5 475h1.5M298.5 442.5h1.5M233.5 473.5h1.5M315 421h1.5M302.5 435.5h1.5M252 464h1.5M264.5 474.5h1.5M215.5 468h1.5M272.5 471.5h1.5M238 464.5h1.5M238.5 465h1.5M338.5 455.5h1.5M243 478h1.5M313.5 426.5h1.5M249 472h1.5M337.5 451h1.5M211.5 464.5h1.5M289 438.5h1.5M335.5 445.5h1.5M255 470h1.5M276 464h1.5M285 453h1.5M278 463.5h1.5M268.5 470.5h1.5M301 439.5h1.5M214 461.5h1.5M308 420.5h1.5M337 447.5h1.5M310 423h1.5M227.5 477h1.5M330 440.5h1.5M246 466.5h1.5M274.5 466h1.5M266 465.5h1.5M311.5 421.5h1.5M262 461h1.5M311.5 436.5h1.5M267 470h1.5M239 460.5h1.5M214.5 457.5h1.5M265 472.5h1.5M242.5 478h1.5M214 455.5h1.5M287.5 457.5h1.5M243 473.5h1.5M319 433.5h1.5M238 463.5h1.5M240 465.5h1.5M242 474h1.5M256 466h1.5M241.5 475h1.5M250.5 460.5h1.5M263 464.5h1.5M293 450.5h1.5M322 424.5h1.5M273 466.5h1.5M269.5 470.5h1.5M317.5 434h1.5M328 446.5h1.5M324.5 443.5h1.5M290.5 463h1.5M290.5 451.5h1.5M292.5 451h1.5M222.5 459.5h1.5M296.5 435.5h1.5M277 456h1.5M222.5 454h1.5M265 468h1.5M221 457.5h1.5M316 412h1.5M280.5 465h1.5M268.5 469.5h1.5M308 437.5h1.5M260.5 468.5h1.5M251.5 470.5h1.5M288.5 452h1.5M306.5 424.5h1.5M260.5 479h1.5M308.5 435.5h1.5M249.5 465h1.5M326 438.5h1.5M219.5 461.5h1.5M241 475.5h1.5M297 446.5h1.5M230.5 465.5h1.5M322 431.5h1.5M283.5 459.5h1.5M288 456.5h1.5M292 439.5h1.5M272.5 464h1.5M274 475h1.5M233 462h1.5M270 458h1.5M228.5 464.5h1.5M266.5 458.5h1.5M323 437h1.5M221 473.5h1.5M335 440.5h1.5M297.5 452h1.5M240 470.5h1.5M301 446.5h1.5M237 479.5h1.5M226 464.5h1.5M220 456h1.5M327 441.5h1.5M226.5 466h1.5M318.5 433h1.5M262 486h1.5M303 447.5h1.5M277 469h1.5M259 479.5h1.5M282.5 458.5h1.5M234 462.5h1.5M328.5 447h1.5M245 472.5h1.5M316 427h1.5M255 471.5h1.5M240.5 471.5h1.5M230 466.5h1.5M238.5 476h1.5M213.5 452h1.5M338 448.5h1.5M255 471h1.5M266 469h1.5M251.5 476h1.5M234.5 479h1.5M259.5 473h1.5M237 464.5h1.5M284 451.5h1.5M242 474.5h1.5M275.5 456h1.5M276.5 466h1.5M281 453.5h1.5M224 459.5h1.5M298 454h1.5M250 471.5h1.5M304.5 439.5h1.5M290.5 450h1.5M225.5 465h1.5M296.5 448.5h1.5M223.5 446.5h1.5M273 458h1.5M246.5 478h1.5M327 439h1.5M248 478h1.5M292.5 443.5h1.5M315.5 412.5h1.5M224 461h1.5M289.5 451h1.5M233.5 465h1.5M295.5 442.5h1.5M233 471.5h1.5M297 444h1.5M219.5 467h1.5M230 468.5h1.5M330 454h1.5M253.5 463.5h1.5M257.5 473h1.5M338.5 467h1.5M334 449h1.5M330 421.5h1.5M316.5 424h1.5M239 465h1.5M218 455.5h1.5M260.5 467.5h1.5M276.5 463.5h1.5M256.5 467.5h1.5M323 436.5h1.5M337 455h1.5M291.5 450h1.5M237.5 474.5h1.5M325.5 427.5h1.5M232.5 468.5h1.5M282.5 468.5h1.5M314.5 413.5h1.5M243 466h1.5M239.5 477h1.5M283 468h1.5M260.5 488h1.5M242.5 475h1.5M320 433.5h1.5M270 461h1.5M265 467h1.5M234 483.5h1.5M264 465h1.5M214.5 453.5h1.5M311.5 429h1.5M308.5 434.5h1.5M314.5 425.5h1.5M249 472.5h1.5M299 423.5h1.5M304 425.5h1.5M318 431.5h1.5M226.5 483.5h1.5M241 470.5h1.5M233.5 464h1.5M261 471h1.5M323 429h1.5M281 454.5h1.5M326 443.5h1.5M224 464h1.5M306 429.5h1.5M274 471h1.5M271 473h1.5M262.5 474h1.5M289.5 451.5h1.5M247.5 467h1.5M292.5 454.5h1.5M306 418h1.5M252.5 464h1.5M223.5 454.5h1.5M259 471h1.5M241 468h1.5M215.5 461.5h1.5M316.5 435.5h1.5M303 436.5h1.5M219 460h1.5M256 466.5h1.5M251 469.5h1.5M315 430h1.5M281.5 469h1.5M264 462h1.5M328 442h1.5M244.5 473.5h1.5M272.5 465h1.5M322.5 436.5h1.5M221 470.5h1.5M323 434.5h1.5M260.5 468.5h1.5M305.5 440.5h1.5M251.5 477.5h1.5M282 448.5h1.5M334 454.5h1.5M309.5 424h1.5M290 454h1.5M272.5 453.5h1.5M274 464h1.5M305.5 444.5h1.5M291 460.5h1.5M251.5 468h1.5M292.5 450h1.5M296 455h1.5M276 465.5h1.5M327.5 441.5h1.5M284 455h1.5M263 473.5h1.5M307.5 430.5h1.5M300 448h1.5M276 458.5h1.5M218 468h1.5M332 456.5h1.5M245.5 477h1.5M316 416h1.5M251.5 463.5h1.5M325 436.5h1.5M275 477h1.5M270.5 459h1.5M291.5 446.5h1.5M327.5 439h1.5M230 462.5h1.5M265 464.5h1.5M289 471.5h1.5M224.5 452.5h1.5M237 471h1.5M211.5 454h1.5M323.5 439h1.5M245.5 475.5h1.5M321 433h1.5M318 428.5h1.5M268.5 456h1.5M279 461h1.5M224 455h1.5M226 464.5h1.5M256 465.5h1.5M227 462h1.5M323.5 439h1.5M287.5 467h1.5M271 461h1.5M333.5 459.5h1.5M227 473h1.5M221 462.5h1.5M303.5 437.5h1.5M312.5 416.5h1.5M242.5 472h1.5M262.5 475.5h1.5M221.5 450.5h1.5M329.5 433h1.5M215.5 454h1.5M260 476.5h1.5M253 480.5h1.5M244.5 477.5h1.5M336.5 456.5h1.5M302 447.5h1.5M307 435.5h1.5M301.5 445.5h1.5M303.5 438h1.5M269 467.5h1.5M306 421h1.5M312.5 417.5h1.5M246.5 470h1.5M331.5 451h1.5M259 466.5h1.5M229.5 464h1.5M267 434h1.5M223 466h1.5M323 439.5h1.5M232 472.5h1.5M236.5 467h1.5M296.5 443h1.5M299 447.5h1.5M280.5 457.5h1.5M292 482.5h1.5M237.5 475.5h1.5M216 466.5h1.5M333 450h1.5M299 439h1.5M262 467h1.5M236 474h1.5M282 462.5h1.5M288 462h1.5M247 480.5h1.5M333.5 448h1.5M217.5 466.5h1.5M337.5 447.5h1.5M274 460.5h1.5M313 420h1.5M252.5 476h1.5M279.5 459.5h1.5M243.5 470h1.5M317 424h1.5M285.5 462.5h1.5M256 484h1.5M221.5 469.5h1.5M221 467.5h1.5M320 427h1.5M268 464h1.5M327.5 453.5h1.5M299.5 444h1.5M280 469.5h1.5M300 439.5h1.5M219 457h1.5M293 459.5h1.5M258 483h1.5M289.5 460h1.5M213 466.5h1.5M253.5 470.5h1.5M226 473h1.5M247.5 481.5h1.5M231.5 465.5h1.5M321 434h1.5M218.5 461h1.5M245.5 465.5h1.5M326 436h1.5M214 458h1.5M333.5 445h1.5M280.5 469h1.5M305.5 436.5h1.5M305.5 441.5h1.5M237.5 469h1.5M324.5 436.5h1.5M250.5 469h1.5M300 445.5h1.5M312 422h1.5M255.5 468.5h1.5M234.5 462.5h1.5M312 436.5h1.5M288 451h1.5M313 423h1.5M294.5 446.5h1.5M255 460h1.5M220 458.5h1.5M329.5 438h1.5M256.5 448h1.5M253 478h1.5M313.5 414.5h1.5M290.5 448h1.5M338.5 452.5h1.5M250.5 465h1.5M224 475.5h1.5M323.5 427.5h1.5M260 477h1.5M334.5 457.5h1.5M235.5 472.5h1.5M305.5 439.5h1.5M211.5 460h1.5M336 448.5h1.5M271 460h1.5M307.5 434.5h1.5M227.5 462h1.5M315 422h1.5M278.5 458h1.5M262.5 478h1.5M292 447h1.5M258.5 471.5h1.5M300.5 437.5h1.5M314 423.5h1.5M270.5 483.5h1.5M282 460h1.5M333.5 451.5h1.5M286.5 464.5h1.5M280.5 458.5h1.5M313 425h1.5M234 471h1.5M267.5 461.5h1.5M304.5 435h1.5M215 449.5h1.5M259 479h1.5M251.5 475h1.5M224 456.5h1.5M333 454h1.5M277 469.5h1.5M211.5 463.5h1.5M338 457.5h1.5M252 464h1.5M281.5 467.5h1.5M263 474.5h1.5M238.5 462h1.5M216 468.5h1.5M232.5 467h1.5M313 429.5h1.5M236.5 466.5h1.5M285 458h1.5M211.5 460h1.5M252.5 469.5h1.5M225.5 463h1.5M216.5 468h1.5M331.5 439h1.5M313.5 430h1.5M328 444h1.5M269.5 469h1.5M250.5 475.5h1.5M280 458.5h1.5M328 443h1.5M271 459.5h1.5M327.5 440h1.5M277 470h1.5M323 449.5h1.5M228 461.5h1.5M270.5 463.5h1.5M309.5 432h1.5M222 458.5h1.5M300 446.5h1.5M324.5 445h1.5M255 475h1.5M300 451.5h1.5M239 482h1.5M254 482h1.5M250 472.5h1.5M236.5 465.5h1.5M321.5 443h1.5M267 465h1.5M237 475.5h1.5M245 475.5h1.5M231 466h1.5M322 434h1.5M313 416.5h1.5M322.5 433h1.5M333.5 438.5h1.5M221.5 463h1.5M336 461h1.5M248.5 464.5h1.5M224.5 453.5h1.5M333 448.5h1.5M299.5 448.5h1.5M324.5 438h1.5M284.5 449.5h1.5M227 472h1.5M264 473.5h1.5M278.5 461.5h1.5M223 463h1.5M265.5 469h1.5M334 450.5h1.5M319 428h1.5M334.5 453h1.5M268.5 475.5h1.5M225 471h1.5M233.5 460.5h1.5M221 469h1.5M319 430h1.5M280 465.5h1.5M302 439h1.5M296 447h1.5M297.5 447.5h1.5M222 459.5h1.5M286 458.5h1.5M285.5 454.5h1.5M237.5 466h1.5M285 462h1.5M276.5 467h1.5M316.5 436h1.5M279 455.5h1.5M287.5 452h1.5M260 466h1.5M225 468h1.5M336 459.5h1.5M266 465.5h1.5M339 460.5h1.5M323.5 441.5h1.5M258.5 468h1.5M256.5 470.5h1.5M282 464.5h1.5M235.5 469.5h1.5M309.5 433.5h1.5M245.5 483.5h1.5M266.5 468.5h1.5M239 474h1.5M316.5 418h1.5M289 450h1.5M216 452.5h1.5M288.5 456.5h1.5M213 450h1.5M298.5 442h1.5M235 479h1.5M308 442h1.5M294.5 446.5h1.5M230 480h1.5M336.5 448h1.5M249.5 476h1.5M225.5 464h1.5M232.5 467.5h1.5M337 461h1.5M297.5 447h1.5M329 445.5h1.5M221.5 458h1.5M222.5 474h1.5M292 452h1.5M267 474.5h1.5M320 429.5h1.5M310.5 423.5h1.5M338 463.5h1.5M271.5 441.5h1.5M315 425.5h1.5M281.5 459.5h1.5M270.5 469.5h1.5M267.5 469.5h1.5M232.5 472.5h1.5M285 459h1.5M219 459.5h1.5M317.5 428h1.5M328.5 449.5h1.5M249.5 467.5h1.5M213 443.5h1.5M264 472h1.5M288 461.5h1.5M272.5 463.5h1.5M270 470h1.5M240.5 462h1.5M320 430h1.5M266.5 481.5h1.5M319.5 427.5h1.5M286.5 457h1.5M304 441h1.5M297.5 440.5h1.5M219 450h1.5M255.5 464h1.5M255.5 491h1.5M312 426h1.5M301 449.5h1.5M320.5 427h1.5M212 457.5h1.5M293.5 444.5h1.5M285.5 452h1.5M315 409h1.5M239.5 477h1.5M258.5 462h1.5M252.5 474h1.5M320.5 438h1.5M331.5 462.5h1.5M313.5 427h1.5M222.5 465.5h1.5M245.5 465.5h1.5M334.5 448h1.5M315 424.5h1.5M250 483.5h1.5M278 478.5h1.5M272 453.5h1.5M264.5 473h1.5M224 456h1.5M240.5 473h1.5M319 439h1.5M224 465h1.5M287 453.5h1.5M276.5 469.5h1.5M294.5 442.5h1.5M300.5 429h1.5M313.5 432.5h1.5M261.5 468h1.5M214 459.5h1.5M234.5 465.5h1.5M282 459h1.5M283.5 469h1.5M306 417.5h1.5M253 459.5h1.5M249.5 478.5h1.5M328 443h1.5M246 474h1.5M233 473h1.5M308 431h1.5M309.5 430h1.5M272 464.5h1.5M264.5 470.5h1.5M275.5 462h1.5M307 436h1.5M250.5 465h1.5M216 463h1.5M214 461.5h1.5M266 499.5h1.5M249 488h1.5M285 461h1.5M216.5 452h1.5M218 457.5h1.5M239 472.5h1.5M278 454.5h1.5M256.5 478.5h1.5M294.5 444h1.5M267.5 464h1.5M290 464h1.5M266.5 464.5h1.5M331.5 466.5h1.5M253.5 476h1.5M329 441h1.5M278.5 482h1.5M325 444h1.5M298.5 443h1.5M244.5 481h1.5M269.5 470h1.5M335.5 450h1.5M236 465h1.5M299 444h1.5M273 470h1.5M243 472h1.5M261 470.5h1.5M330.5 443.5h1.5M318 424.5h1.5M258.5 468h1.5M287.5 459.5h1.5M300 430.5h1.5M319 440h1.5M295 444h1.5M262.5 469.5h1.5M337 451.5h1.5M216.5 457.5h1.5M253 478h1.5M264 464h1.5M261 471.5h1.5M275.5 468.5h1.5M306 434h1.5M301.5 436h1.5M253 478h1.5M260.5 473.5h1.5M295.5 450h1.5M219 458.5h1.5M242 473h1.5M251.5 473h1.5M333.5 454h1.5M263.5 479h1.5M231 469h1.5M277.5 459.5h1.5M231 464h1.5M223 471h1.5M333.5 457.5h1.5M234 467h1.5M267 469h1.5M302.5 434h1.5M244 477h1.5M247.5 477h1.5M253 473h1.5M272.5 459.5h1.5M294.5 448.5h1.5M251 472.5h1.5M259 468.5h1.5M309.5 422.5h1.5M239 461.5h1.5M286 456h1.5M274.5 457.5h1.5M298 449.5h1.5M310 432h1.5M301.5 450.5h1.5M302.5 431.5h1.5M324.5 435.5h1.5M270.5 466.5h1.5M286.5 455.5h1.5M267 463.5h1.5M272 461.5h1.5M276.5 457h1.5M304 447h1.5M233 463h1.5M283 460h1.5M260.5 466h1.5M215.5 453.5h1.5M288.5 461h1.5M329.5 443h1.5M235.5 471.5h1.5M217.5 442.5h1.5M244 478.5h1.5M294 452h1.5M298.5 448.5h1.5M259 473.5h1.5M249.5 478.5h1.5M255.5 473h1.5M259.5 474h1.5M228.5 465h1.5M256 469h1.5M250.5 473h1.5M278.5 455h1.5M289 441.5h1.5M283 446h1.5M245 477.5h1.5M286.5 460.5h1.5M251 473h1.5M227 465.5h1.5M336.5 448.5h1.5M277 469.5h1.5M295.5 449.5h1.5M233 455.5h1.5M306 431.5h1.5M218.5 449h1.5M307.5 448h1.5M278.5 469.5h1.5M324 437.5h1.5M279.5 452.5h1.5M233 465h1.5M254 455.5h1.5M222.5 463h1.5M298.5 456h1.5M251 471.5h1.5M272 461h1.5M231.5 471.5h1.5M247.5 474h1.5M320 442.5h1.5M266.5 460.5h1.5M239.5 469.5h1.5M333 463h1.5M269.5 467.5h1.5M277 462h1.5M307 430.5h1.5M228.5 466.5h1.5M274.5 466.5h1.5M228 469h1.5M268.5 463.5h1.5M307 434.5h1.5M222 458h1.5M239 466h1.5M259.5 471h1.5M247.5 469h1.5M273.5 462.5h1.5M237 476.5h1.5M294.5 445h1.5M272.5 466h1.5M294.5 447h1.5M302 444h1.5M227 472h1.5M240 478h1.5M245.5 464h1.5M326 455h1.5M315 416.5h1.5M300.5 441h1.5M327 421h1.5M252.5 452h1.5M270 465h1.5M263.5 466h1.5M240.5 462.5h1.5M264 466h1.5M235.5 470.5h1.5M305 423h1.5M219 464h1.5M298.5 438h1.5M218.5 458h1.5M323 438.5h1.5M323.5 441.5h1.5M291.5 456.5h1.5M273 469h1.5M291 459.5h1.5M292.5 450.5h1.5M253 481h1.5M237.5 473h1.5M298 440.5h1.5M311.5 426h1.5M298 443h1.5M224.5 468.5h1.5M265.5 481h1.5M310 428h1.5M235.5 460h1.5M234.5 489h1.5M337.5 457h1.5M301 452h1.5M297.5 449h1.5M269 459h1.5M309 426.5h1.5M252 457.5h1.5M257 469.5h1.5M233 471.5h1.5M271 457.5h1.5M237 470h1.5M328 447.5h1.5M330 428.5h1.5M337.5 450.5h1.5M324.5 452h1.5M279 454h1.5M219 451h1.5M277.5 458h1.5M285.5 461h1.5M323.5 426h1.5M317 433.5h1.5M285 476h1.5M329.5 450h1.5M299.5 451.5h1.5M282.5 462.5h1.5M298.5 444h1.5M240.5 472h1.5M301.5 448h1.5M237 477.5h1.5M267.5 466h1.5M231.5 465h1.5M280 463h1.5M310 439.5h1.5M250 479h1.5M311.5 429.5h1.5M225 456.5h1.5M231.5 462h1.5M334.5 449h1.5M221 455h1.5M219.5 459.5h1.5M307 429h1.5M337 450h1.5M296 450h1.5M265.5 462.5h1.5M281 445h1.5M260 466h1.5M241.5 475h1.5M313 423.5h1.5M224.5 463.5h1.5M273.5 468.5h1.5M253.5 473.5h1.5M253.5 474.5h1.5M255 477h1.5M288 448.5h1.5M259 470.5h1.5M265.5 479.5h1.5M244 460h1.5M240 470.5h1.5M249 473.5h1.5M262 468.5h1.5M284.5 459h1.5M293 454.5h1.5M279.5 449h1.5M223.5 466h1.5M319 433h1.5M258.5 467h1.5M269 457.5h1.5M251.5 477h1.5M265.5 465h1.5M225.5 460h1.5M224 466h1.5M323 432.5h1.5M232.5 477h1.5M315.5 421h1.5M281.5 456.5h1.5M291 448h1.5M315.5 426h1.5M275.5 460.5h1.5M248 479.5h1.5M314.5 430h1.5M215.5 470h1.5M335.5 459.5h1.5M338 454h1.5M261 478.5h1.5M214.5 457h1.5M248 474h1.5M290.5 458.5h1.5M304 443.5h1.5M303 432.5h1.5M315 420h1.5M318 426h1.5M268 469h1.5M253.5 464h1.5M287 454h1.5M320 431.5h1.5M240.5 474.5h1.5M313 428.5h1.5M250.5 477h1.5M232 477.5h1.5M314.5 416h1.5M311 423.5h1.5M280.5 457.5h1.5M224.5 467h1.5M283 461.5h1.5M289 462.5h1.5M283 451.5h1.5M213 453.5h1.5M328 438.5h1.5M289 449.5h1.5M258 462h1.5M223.5 459.5h1.5M213.5 469h1.5M225.5 470.5h1.5M236 473h1.5M319.5 435h1.5M321.5 423.5h1.5M299 448h1.5M338 464h1.5M271.5 467h1.5M234.5 464h1.5M304.5 432.5h1.5M229 458.5h1.5M326 435h1.5M321 436.5h1.5M298 449h1.5M324.5 427.5h1.5M283 445h1.5M287.5 458.5h1.5M264 458.5h1.5M249.5 475h1.5M226 480.5h1.5M310.5 422.5h1.5M246.5 474h1.5M239.5 461.5h1.5M301 444h1.5M335 451h1.5M299.5 448.5h1.5M247.5 478.5h1.5M252 467.5h1.5M273 465.5h1.5M305 442h1.5M275.5 461.5h1.5M299 448.5h1.5M276 464.5h1.5M293 450h1.5M258.5 474h1.5M255.5 475h1.5M287.5 449h1.5M301.5 441h1.5M319 432.5h1.5M224 462.5h1.5M247.5 473h1.5M296 449h1.5M302.5 437h1.5M319.5 429.5h1.5M335 449h1.5M232.5 461.5h1.5M294 453.5h1.5M287.5 457h1.5M238 472h1.5M332.5 452.5h1.5M325 442.5h1.5M307.5 442h1.5M334 453h1.5M218 459h1.5M278 472h1.5M243 476.5h1.5M304 437.5h1.5M336 448h1.5M311 427h1.5M284.5 456h1.5M330 451.5h1.5M213.5 460.5h1.5M301 453.5h1.5M255 473.5h1.5M235.5 468h1.5M252 467h1.5M275 465.5h1.5M248.5 470h1.5M320 430h1.5M276.5 457h1.5M309.5 438h1.5M274 469.5h1.5M289.5 453.5h1.5M300 437.5h1.5M316 432.5h1.5M268 461h1.5M267 473.5h1.5M293 448.5h1.5M302 432.5h1.5M338.5 443h1.5M259.5 463h1.5M276 475.5h1.5M288 444.5h1.5M247.5 478h1.5M304 446.5h1.5M259 463h1.5M233.5 468h1.5M266.5 470h1.5M255.5 475h1.5M325 438.5h1.5M330 447.5h1.5M259.5 477.5h1.5M264 468h1.5M240 459.5h1.5M223.5 466.5h1.5M242 473h1.5M246 467h1.5M324 439h1.5M294.5 453.5h1.5M268.5 465h1.5M310 426.5h1.5M213 444h1.5M224.5 478.5h1.5M256.5 470.5h1.5M287.5 461.5h1.5M309.5 434h1.5M299.5 452h1.5M234.5 468h1.5M261 474.5h1.5M228.5 463h1.5M317.5 436h1.5M226 469h1.5M327 442.5h1.5M281 456h1.5M275.5 459.5h1.5M229.5 464h1.5M304.5 436h1.5M335.5 442h1.5M218.5 470.5h1.5M314 428h1.5M279 458h1.5M257.5 475.5h1.5M301 440.5h1.5M265.5 472.5h1.5M285 455.5h1.5M314.5 419.5h1.5M276.5 452h1.5M219 454.5h1.5M324 448h1.5M275 465h1.5M261 461h1.5M315 432h1.5M303 441.5h1.5M317.5 436h1.5M256.5 481.5h1.5M293 448.5h1.5M243.5 464h1.5M230.5 468h1.5M224 459h1.5M310 424.5h1.5M268 472.5h1.5M223.5 454.5h1.5M338 460.5h1.5M321 429.5h1.5M306 440h1.5M331 429.5h1.5M326.5 438.5h1.5M240 484h1.5M286.5 464.5h1.5M284.5 453.5h1.5M331 457h1.5M238.5 461.5h1.5M264.5 450h1.5M331 442.5h1.5M334.5 443.5h1.5M246.5 472.5h1.5M243.5 472.5h1.5M289.5 457.5h1.5M238 466h1.5M270.5 469.5h1.5M283.5 448h1.5M337 449h1.5M311 431h1.5M225 456.5h1.5M276 460h1.5M304 436.5h1.5M309.5 437h1.5M244 475.5h1.5M299 438h1.5M249 472h1.5M327.5 447.5h1.5M305.5 441h1.5M283.5 454h1.5M235.5 473h1.5M239.5 465.5h1.5M299 455.5h1.5M277 462h1.5M270.5 474.5h1.5M249.5 469.5h1.5M300 444h1.5M253 474.5h1.5M252 474h1.5M320 430.5h1.5M259.5 477.5h1.5M234 465h1.5M277.5 471.5h1.5M230 463h1.5M227 463h1.5M276.5 461.5h1.5M285 455h1.5M337.5 448.5h1.5M231.5 465.5h1.5M256.5 473.5h1.5M323 430.5h1.5M296.5 445.5h1.5M311 426.5h1.5M335.5 455h1.5M248 484h1.5M285.5 462h1.5M322 438h1.5M220.5 459.5h1.5M324 431h1.5M243 458.5h1.5M212 458.5h1.5M248 474.5h1.5M212 459h1.5M276 472h1.5M222.5 467h1.5M304 448.5h1.5M241 464.5h1.5M335.5 448h1.5M254.5 473.5h1.5M245 473h1.5M275.5 468h1.5M286 463.5h1.5M292 457.5h1.5M313.5 430h1.5M328 451h1.5M237 472h1.5M305 428.5h1.5M250 466h1.5M330 454h1.5M242 475.5h1.5M299 444.5h1.5M275 466h1.5M324.5 444h1.5M231.5 458h1.5M277 450.5h1.5M310 426.5h1.5M294.5 450.5h1.5M263 476h1.5M299 448h1.5M312 435h1.5M251.5 472h1.5M219 462.5h1.5M322 440h1.5M283.5 465h1.5M216 462.5h1.5M266 462h1.5M338 458h1.5M265.5 457h1.5M328 439h1.5M331.5 461h1.5M240.5 470.5h1.5M214.5 456.5h1.5M328.5 447.5h1.5M297 445h1.5M260.5 460h1.5M241 479h1.5M249 469.5h1.5M248 469.5h1.5M320 422h1.5M236.5 464.5h1.5M221 468.5h1.5M214 455h1.5M254.5 464.5h1.5M312.5 423h1.5M274 463h1.5M255 470h1.5M303 444.5h1.5M214.5 464.5h1.5M305 426.5h1.5M287 456h1.5M219 457h1.5M241.5 481h1.5M216.5 464h1.5M217 462h1.5M218.5 462h1.5M219 460.5h1.5M318 418h1.5M302 434h1.5M319.5 437h1.5M328 443h1.5M307 437h1.5M307.5 444h1.5M287 457h1.5M226 474.5h1.5M248.5 475.5h1.5M309 431.5h1.5M254 484h1.5M211.5 454h1.5M277 465.5h1.5M267 460h1.5M257 466h1.5M275 464h1.5M257 464.5h1.5M262 472.5h1.5M230 478.5h1.5M254 476.5h1.5M319.5 437h1.5M312 418h1.5M278 460h1.5M232.5 473h1.5M225.5 462.5h1.5M262.5 465.5h1.5M247.5 476.5h1.5M235.5 473h1.5M280 461h1.5M312 420.5h1.5M226 473.5h1.5M301 436h1.5M279.5 471h1.5M214.5 457.5h1.5M261.5 460.5h1.5M308.5 430h1.5M283.5 467.5h1.5M299 446.5h1.5M291 458.5h1.5M254 491h1.5M335 446.5h1.5M238.5 472h1.5M258.5 477h1.5M238 467.5h1.5M222 462h1.5M259.5 465.5h1.5M269.5 458h1.5M294.5 463h1.5M319 414.5h1.5M331.5 443.5h1.5M231 479h1.5M311 423.5h1.5M252 480h1.5M313.5 426h1.5M285.5 452.5h1.5M324.5 439h1.5M316 416.5h1.5M230 455h1.5M276 465h1.5M313 430.5h1.5M308.5 421.5h1.5M248 474.5h1.5M314.5 406.5h1.5M320.5 431h1.5M325.5 440h1.5M255.5 470h1.5M285 458h1.5M256 469h1.5M272 469.5h1.5M259 462.5h1.5M221 465h1.5M242.5 470h1.5M295.5 450.5h1.5M281.5 464.5h1.5M310 432h1.5M331.5 447.5h1.5M231 468.5h1.5M304 433h1.5M230 465.5h1.5M262 463h1.5M331.5 447h1.5M212 455.5h1.5M281 459.5h1.5M225.5 467h1.5M246.5 478.5h1.5M241 468h1.5M274.5 481h1.5M250.5 475h1.5M214.5 449.5h1.5M281 458h1.5M326 435.5h1.5M281.5 464.5h1.5M324 432.5h1.5M293.5 448.5h1.5M229 474h1.5M300 438h1.5M239.5 463h1.5M292 451.5h1.5M308 437.5h1.5M250.5 467.5h1.5M303.5 444h1.5M250.5 462.5h1.5M254.5 470.5h1.5M276 495.5h1.5M279.5 459h1.5M290.5 453h1.5M211.5 454h1.5M311 435h1.5M303 432h1.5M291.5 445.5h1.5M265.5 467.5h1.5M339 460h1.5M338 447h1.5M218.5 457h1.5M278.5 460.5h1.5M272 464h1.5M267 463h1.5M282 461h1.5M328.5 432.5h1.5M311 429h1.5M249 468h1.5M252.5 474h1.5M238.5 462h1.5M249.5 477h1.5M287.5 447.5h1.5M220 458h1.5M233 471h1.5M310 430h1.5M260 458.5h1.5M320.5 422.5h1.5M238.5 470.5h1.5M296 446.5h1.5M238.5 478.5h1.5M222.5 467h1.5M243 478h1.5M274 452.5h1.5M277.5 447.5h1.5M295 454.5h1.5M274 463.5h1.5M282.5 457.5h1.5M218 461h1.5M249.5 480.5h1.5M270 470h1.5M298.5 442h1.5M218 462.5h1.5M276 473h1.5M225 469h1.5M309.5 430.5h1.5M319 414.5h1.5M223.5 471h1.5M296 447h1.5M329 443h1.5M213 459.5h1.5M322.5 433h1.5M224.5 466h1.5M310.5 436.5h1.5M269 453.5h1.5M280 457h1.5M315.5 414.5h1.5M234.5 461.5h1.5M276.5 455h1.5M336 448h1.5M330.5 440.5h1.5M255 470.5h1.5M318.5 427.5h1.5M320.5 428h1.5M285.5 455.5h1.5M314.5 426h1.5M226 463.5h1.5M328.5 436h1.5M329.5 442h1.5M281.5 461h1.5M287.5 461.5h1.5M311.5 420.5h1.5M309.5 427.5h1.5M257 473.5h1.5M309 429.5h1.5M325.5 439h1.5M282 478.5h1.5M213.5 459h1.5M253 476h1.5M318 423h1.5M320.5 429h1.5M299.5 436h1.5M234.5 476h1.5M232 481.5h1.5M298.5 446h1.5M253 493h1.5M262.5 465h1.5M218 473h1.5M296 440h1.5M237 447.5h1.5M272.5 464h1.5M298.5 447h1.5M233.5 490h1.5M239.5 474.5h1.5M282 455.5h1.5M216.5 467h1.5M272 460.5h1.5M336 447h1.5M308 424h1.5M330.5 438.5h1.5M336.5 452h1.5M308 428h1.5M330.5 450.5h1.5M237 476h1.5M295.5 449h1.5M244.5 467.5h1.5M300 444h1.5M253 477.5h1.5M273 463h1.5M282 443h1.5M338 453h1.5M323 430h1.5M288.5 453h1.5M324 437h1.5M235 459.5h1.5M307.5 433h1.5M293.5 457h1.5M268 460.5h1.5M268 470.5h1.5M234 469.5h1.5M248.5 469.5h1.5M267 470.5h1.5M221.5 462h1.5M306 436h1.5M212.5 461h1.5M300.5 437.5h1.5M261 474.5h1.5M225.5 462.5h1.5M252.5 472.5h1.5M234 464.5h1.5M241 475.5h1.5M282 459h1.5M322 422h1.5M270.5 462.5h1.5M241 476h1.5M305.5 429h1.5M308.5 451h1.5M312 423.5h1.5M328.5 445h1.5M244 470.5h1.5M223.5 462h1.5M269 466h1.5M214.5 458.5h1.5M286.5 455.5h1.5M232.5 466.5h1.5M323 436.5h1.5M335.5 454h1.5M281.5 463h1.5M294 454h1.5M240.5 471h1.5M270.5 447.5h1.5M219.5 457.5h1.5M254.5 473h1.5M264.5 472h1.5M216.5 456h1.5M314 422.5h1.5M239.5 472.5h1.5M302.5 449.5h1.5M336.5 458h1.5M254 478h1.5M309 432h1.5M314.5 423.5h1.5M213 469h1.5M326 438.5h1.5M282.5 464h1.5M232.5 466h1.5M335 441.5h1.5M254 466h1.5M332.5 440.5h1.5M212.5 453.5h1.5M265.5 470h1.5M212 453.5h1.5M236.5 473.5h1.5M254 475h1.5M265 478.5h1.5M272 459h1.5M214 455.5h1.5M250.5 468.5h1.5M278.5 451.5h1.5M251 479.5h1.5M219.5 456h1.5M307 428.5h1.5M211.5 457.5h1.5M232 482.5h1.5M292 450h1.5M317 433h1.5M220 469h1.5M295.5 435.5h1.5M243 472.5h1.5M247 472.5h1.5M264.5 471h1.5M228.5 467h1.5M220 456h1.5M286.5 461.5h1.5M223.5 470h1.5M328 444h1.5M294 442h1.5M243.5 473.5h1.5M329 448h1.5M293 449.5h1.5M254.5 469.5h1.5M263 473.5h1.5M315 420h1.5M216.5 463h1.5M289.5 454.5h1.5M293.5 441.5h1.5M222 455h1.5M324.5 428.5h1.5M235.5 469.5h1.5M305.5 417h1.5M293.5 449.5h1.5M317.5 429.5h1.5M221 462h1.5M250.5 465h1.5M216 456.5h1.5M273 461h1.5M227 463.5h1.5M245 474h1.5M238 468h1.5M321 441.5h1.5M212.5 463h1.5M226.5 468.5h1.5M265.5 477h1.5M311.5 417h1.5M313 423h1.5M321.5 428h1.5M242.5 469.5h1.5M296.5 439h1.5M262.5 473h1.5M221 461h1.5M323.5 434h1.5M280.5 469.5h1.5M298.5 448.5h1.5M227 465h1.5M242.5 470.5h1.5M232.5 468h1.5M214.5 467.5h1.5M307.5 428h1.5M263.5 464h1.5M325 431h1.5M286.5 455h1.5M244 474.5h1.5M304 431.5h1.5M227 463h1.5M318 422.5h1.5M286.5 455h1.5M284 459h1.5M293.5 442.5h1.5M290.5 452h1.5M312.5 438h1.5M250 480h1.5M237 469.5h1.5M317 422h1.5M244.5 477.5h1.5M293 446.5h1.5M283.5 457.5h1.5M329.5 442.5h1.5M218.5 469h1.5M254 478.5h1.5M213.5 459h1.5M292 452h1.5M284 463.5h1.5M217.5 456.5h1.5M299.5 442.5h1.5M254.5 480.5h1.5M224.5 465h1.5M298 441h1.5M277.5 458h1.5M262.5 468h1.5M231.5 463h1.5M244.5 476.5h1.5M226 468h1.5M314 411.5h1.5M231 476h1.5M240.5 466h1.5M289 453.5h1.5M223 457.5h1.5M318.5 419.5h1.5M280 467h1.5M257.5 465.5h1.5M264.5 448h1.5M336 452.5h1.5M315 419h1.5M228.5 467h1.5M262.5 470.5h1.5M308 431h1.5M218 468h1.5M215 471.5h1.5M253.5 466h1.5M250 477.5h1.5M275 467.5h1.5M243 478h1.5M240 474h1.5M255 474.5h1.5M336 453.5h1.5M220.5 445h1.5M321.5 433h1.5M273 471h1.5M217.5 469h1.5M289.5 459h1.5M304 445.5h1.5M242.5 485.5h1.5M330 445h1.5M238 465.5h1.5M268.5 468h1.5M253.5 466h1.5M306 436h1.5M233 471h1.5M219.5 461h1.5M225.5 468h1.5M240.5 473h1.5M309.5 426h1.5M283 463h1.5M328 437.5h1.5M327 443h1.5M307 428.5h1.5M252.5 466h1.5M338.5 445.5h1.5M260.5 478h1.5M293 458h1.5M322 440.5h1.5M293.5 454.5h1.5M311.5 429.5h1.5M237.5 442.5h1.5M275.5 459.5h1.5M226.5 463.5h1.5M230.5 470.5h1.5M234.5 465.5h1.5M241 482h1.5M303.5 430.5h1.5M319 428.5h1.5M278 461.5h1.5M227.5 478.5h1.5M273 469.5h1.5M314 421h1.5M218 471.5h1.5M246.5 474h1.5M231 477.5h1.5M246.5 481h1.5M249.5 474h1.5M241 472h1.5M316 417.5h1.5M217.5 458h1.5M312 428.5h1.5M315 420h1.5M247 480h1.5M310.5 437h1.5M286 456h1.5M245 472.5h1.5M271 457.5h1.5M298 438.5h1.5M284.5 466h1.5M336 447.5h1.5M222 468h1.5M308 412.5h1.5M231 468.5h1.5M260.5 470h1.5M306 431.5h1.5M247 468.5h1.5M225 459.5h1.5M257.5 464h1.5M321 428h1.5M230 462h1.5M316 429h1.5M325 433h1.5M230 466.5h1.5M281 456h1.5M332.5 439h1.5M284 453h1.5M295 444h1.5M327 439h1.5M302.5 441.5h1.5M330 442.5h1.5M248 468h1.5M292.5 443h1.5M299 441.5h1.5M236.5 461.5h1.5M271.5 472h1.5M245.5 472h1.5M326.5 446h1.5M333 449.5h1.5M299.5 446.5h1.5M281 460h1.5M271.5 456h1.5M257 478h1.5M282.5 462h1.5M228 464.5h1.5M227.5 473.5h1.5M328 444.5h1.5M317.5 425h1.5M275 460h1.5M243 467h1.5M213 460h1.5M240.5 468.5h1.5M286.5 454h1.5M255.5 472.5h1.5M312.5 426.5h1.5M296.5 444.5h1.5M248.5 474h1.5M236.5 470h1.5M289.5 444h1.5M227 464h1.5M263.5 469.5h1.5M248 483h1.5M268 465h1.5M236.5 468.5h1.5M308.5 427.5h1.5M260 468h1.5M261.5 480h1.5M246.5 474.5h1.5M230 468.5h1.5M290 453.5h1.5M236.5 465.5h1.5M332 454.5h1.5M264.5 460h1.5M327.5 453.5h1.5M222.5 456h1.5M281 461.5h1.5M270 444h1.5M239.5 475h1.5M300 442.5h1.5M238.5 470.5h1.5M318 423.5h1.5M276.5 455h1.5M263 470.5h1.5M307 426h1.5M313.5 429.5h1.5M252.5 479.5h1.5M280.5 464h1.5M292.5 449.5h1.5M234.5 461h1.5M257 474h1.5M298 456.5h1.5M300 451.5h1.5M215.5 473h1.5M239 471.5h1.5M290 453.5h1.5M227 470.5h1.5M235 467.5h1.5M215.5 462.5h1.5M302.5 445.5h1.5M265 466h1.5M325 438.5h1.5M241.5 477h1.5M254.5 468h1.5M215.5 451h1.5M245 471h1.5M247.5 488h1.5M260 482h1.5M243 478h1.5M339 449h1.5M302.5 437h1.5M319.5 428.5h1.5M318 432.5h1.5M331.5 454.5h1.5M258.5 465h1.5M267.5 468h1.5M247 464.5h1.5M268.5 457.5h1.5M279.5 458h1.5M315.5 435h1.5M266 466h1.5M256.5 468.5h1.5M253 469h1.5M214 459.5h1.5M244 478h1.5M272.5 468h1.5M227.5 464.5h1.5M325.5 445.5h1.5M216 458.5h1.5M319 428.5h1.5M236 475.5h1.5M234 462.5h1.5M221 465.5h1.5M235.5 475h1.5M259 463.5h1.5M301.5 439.5h1.5M290.5 448h1.5M326 431h1.5M215 459h1.5M307 437.5h1.5M222.5 467h1.5M252 467h1.5M255.5 474h1.5M292 452h1.5M273.5 456h1.5M228 479h1.5M276.5 461h1.5M298 450h1.5M254 475h1.5M288.5 467.5h1.5M245 466.5h1.5M324 440.5h1.5M253.5 466.5h1.5M246 472h1.5M270.5 452.5h1.5M286.5 442.5h1.5M220 473h1.5M334.5 475h1.5M337.5 453h1.5M287.5 442.5h1.5M338 458.5h1.5M267 469h1.5M316.5 418h1.5M336 450h1.5M302.5 440h1.5M321 428.5h1.5M301.5 442.5h1.5M263 474.5h1.5M323 437.5h1.5M217 458h1.5M322.5 436.5h1.5M221.5 469h1.5M232.5 474h1.5M231 461.5h1.5M300.5 441.5h1.5M264.5 462.5h1.5M308.5 428.5h1.5M226 461.5h1.5M217 465h1.5M326 433h1.5M238.5 470h1.5M251 478.5h1.5M246.5 471.5h1.5M336 454.5h1.5M254 475.5h1.5M269.5 462.5h1.5M338 458.5h1.5M303.5 450.5h1.5M215.5 457.5h1.5M292.5 434.5h1.5M257.5 480.5h1.5M270.5 471h1.5M227 470h1.5M305.5 421.5h1.5M228 491.5h1.5M265 471h1.5M229.5 469h1.5M338 466.5h1.5M327 447.5h1.5M323 437.5h1.5M268 463.5h1.5M287.5 458.5h1.5M235 464h1.5M223 470.5h1.5M240 478.5h1.5M244.5 477.5h1.5M227 453h1.5M333.5 445.5h1.5M288 447.5h1.5M274.5 459.5h1.5M263 472.5h1.5M271.5 464.5h1.5M328 444.5h1.5M271 459h1.5M273.5 466.5h1.5M235.5 475.5h1.5M327 451h1.5M257 469h1.5M257 471h1.5M276.5 471h1.5M258 472.5h1.5M338 459.5h1.5M299 453.5h1.5M297 449.5h1.5M252.5 469h1.5M328.5 456.5h1.5M241.5 476.5h1.5M292.5 455.5h1.5M319 435.5h1.5M328.5 444.5h1.5M219 452.5h1.5M257 459h1.5M224 465h1.5M236.5 469h1.5M290 443.5h1.5M266.5 461.5h1.5M282 460h1.5M264.5 469h1.5M338 465h1.5M230.5 471h1.5M322 435h1.5M236.5 470.5h1.5M258.5 479h1.5M333.5 457.5h1.5M322.5 442.5h1.5M325.5 443h1.5M284.5 471h1.5M335 457.5h1.5M229 468.5h1.5M300 451.5h1.5M298 446h1.5M258.5 469h1.5M217.5 458.5h1.5M257 475h1.5M279 456h1.5M239 464h1.5M213 454h1.5M217 467.5h1.5M327 439.5h1.5M228.5 461h1.5M212.5 453h1.5M218.5 453.5h1.5M306 438h1.5M279.5 480.5h1.5M260.5 464.5h1.5M278.5 455.5h1.5M231.5 487.5h1.5M214.5 452h1.5M222 457h1.5M305.5 442h1.5M322 431.5h1.5M225.5 463h1.5M269.5 466.5h1.5M212.5 457h1.5M242.5 472h1.5M276.5 456.5h1.5M310 433.5h1.5M325 434h1.5M283 438.5h1.5M337 458h1.5M305 435.5h1.5M241.5 470.5h1.5M269 469h1.5M222 471h1.5M229 461.5h1.5M213.5 458h1.5M254 462h1.5M224 456.5h1.5M212 454.5h1.5M305 430h1.5M279 456.5h1.5M325.5 452h1.5M328.5 442h1.5M274 469h1.5M285.5 463.5h1.5M224 459h1.5M311 426.5h1.5M248 470.5h1.5M258.5 483h1.5M292.5 459h1.5M335.5 441h1.5M254.5 471h1.5M323 435.5h1.5M272 462.5h1.5M324.5 453.5h1.5M245 471.5h1.5M246.5 471.5h1.5M249.5 472h1.5M302.5 447h1.5M214.5 450.5h1.5M237 471.5h1.5M291.5 444h1.5M230 445h1.5M280 463h1.5M314 425h1.5M257 472h1.5M338.5 474h1.5M215 449.5h1.5M300 443h1.5M268.5 456.5h1.5M276.5 468.5h1.5M236 473h1.5M331 448.5h1.5M292 440.5h1.5M283 454.5h1.5M284 454.5h1.5M294.5 446h1.5M258 470h1.5M264 473h1.5M216 455h1.5M280 468h1.5M230.5 468h1.5M227.5 468h1.5M294.5 458h1.5M294.5 455h1.5M331 445h1.5M239.5 464h1.5M252.5 486h1.5M328.5 433h1.5M247.5 480.5h1.5M250 475h1.5M319 435.5h1.5M325.5 442.5h1.5M232 471.5h1.5M213.5 466h1.5M230 470.5h1.5M310.5 419h1.5M253.5 480.5h1.5M271 472.5h1.5M221.5 462h1.5M318.5 426h1.5M299.5 445h1.5M254.5 466.5h1.5M257.5 467.5h1.5M256 480.5h1.5M244.5 465.5h1.5M318 420.5h1.5M267 472.5h1.5M330 445h1.5M336 459.5h1.5M309.5 437h1.5M287 452.5h1.5M336.5 453h1.5M250.5 471.5h1.5M326 434h1.5M232 471.5h1.5M220.5 451.5h1.5M281 457.5h1.5M290.5 454.5h1.5M242.5 479.5h1.5M241.5 481h1.5M311.5 426.5h1.5M253 464.5h1.5M224 453.5h1.5M328.5 427h1.5M268 465.5h1.5M336.5 443h1.5M282 446.5h1.5M301 433h1.5M318 425h1.5M230 464.5h1.5M324 437h1.5M303.5 443h1.5M334 441.5h1.5M300.5 450h1.5M312.5 422.5h1.5M224.5 459h1.5M312.5 420.5h1.5M231.5 470.5h1.5M313 430.5h1.5M271 465h1.5M312.5 428h1.5M287 461h1.5M265.5 468.5h1.5M282 458.5h1.5M221 455.5h1.5M287 464.5h1.5M327.5 438.5h1.5M260.5 462h1.5M281 456h1.5M248.5 471.5h1.5M251.5 474h1.5M270 456h1.5M312.5 411h1.5M299 451.5h1.5M230 466.5h1.5M290.5 444.5h1.5M239 477h1.5M221.5 465h1.5M219 466.5h1.5M233 457h1.5M307.5 433.5h1.5M246.5 472h1.5M299.5 437h1.5M227 468h1.5M324 431h1.5M263.5 472h1.5M273.5 474.5h1.5M324.5 443.5h1.5M324.5 442.5h1.5M221 454.5h1.5M253.5 474h1.5M221.5 457.5h1.5M264.5 465h1.5M298.5 439h1.5M328.5 443.5h1.5M321.5 432h1.5M308.5 431.5h1.5M321 432.5h1.5M320.5 430h1.5M336 459.5h1.5M246 471h1.5M330.5 441.5h1.5M248 476.5h1.5M240 466h1.5M319.5 420.5h1.5M294.5 459h1.5M253 469h1.5M324 439.5h1.5M297.5 446.5h1.5M262 458h1.5M310.5 429h1.5M246.5 476.5h1.5M322.5 442h1.5M288.5 460.5h1.5M294 448h1.5M222 466h1.5M324.5 446.5h1.5M298 447.5h1.5M276.5 463h1.5M278.5 461.5h1.5M323 435.5h1.5M258.5 465h1.5M286 466.5h1.5M313.5 442h1.5M260.5 486.5h1.5M330 449h1.5M266 478.5h1.5M280 470h1.5M227 467.5h1.5M319 425h1.5M338.5 459.5h1.5M317.5 424h1.5M231.5 474h1.5M262 474.5h1.5M224 464h1.5M277.5 458.5h1.5M282 455h1.5M256 466h1.5M227 479h1.5M307 438.5h1.5M274 457h1.5M271.5 457.5h1.5M235 471h1.5M228.5 452h1.5M283 454.5h1.5M215.5 453h1.5M260.5 474h1.5M222 465h1.5M318.5 417.5h1.5M279.5 460h1.5M243 470.5h1.5M302.5 434h1.5M217 465h1.5M221 471.5h1.5M291 459.5h1.5M215.5 469h1.5M262 467.5h1.5M334.5 453h1.5M296.5 440h1.5M322 433.5h1.5M223 460h1.5M336.5 464h1.5M292 453h1.5M223.5 462.5h1.5M283 458h1.5M271.5 473h1.5M311.5 422.5h1.5M307 437h1.5M326 438h1.5M300 449h1.5M316 414.5h1.5M303.5 431.5h1.5M242 490h1.5M217 459.5h1.5M325 430.5h1.5M249 475.5h1.5M220 462h1.5M300.5 442.5h1.5M284.5 454.5h1.5M215 461h1.5M272 464h1.5M303.5 448.5h1.5M282 459h1.5M313 435h1.5M223 454h1.5M337.5 452h1.5M213 446.5h1.5M300.5 456h1.5M213.5 465.5h1.5M332.5 449h1.5M280.5 464h1.5M230 463.5h1.5M217.5 453h1.5M306 440.5h1.5M228.5 466h1.5M232 466.5h1.5M232 461h1.5M221 462h1.5M319.5 426h1.5M333.5 445h1.5M285 451h1.5M298.5 438.5h1.5M240 475h1.5M270 482h1.5M261.5 481h1.5M224 467.5h1.5M219 463.5h1.5M317.5 437.5h1.5M281 460.5h1.5M273.5 467.5h1.5M224.5 459.5h1.5M321 437h1.5M306.5 439h1.5M273.5 454.5h1.5M265.5 467.5h1.5M238.5 471h1.5M314 419h1.5M283.5 455h1.5M290.5 457.5h1.5M277 462h1.5M287.5 455h1.5M260.5 460h1.5M289 464.5h1.5M227 457.5h1.5M235 474.5h1.5M312.5 418.5h1.5M321.5 438h1.5M264.5 464h1.5M316 420h1.5M319 425.5h1.5M248 472h1.5M321 436h1.5M334.5 442h1.5M220 459.5h1.5M310.5 424h1.5M225 453h1.5M229.5 468.5h1.5M286.5 453h1.5M260.5 476h1.5M252.5 465.5h1.5M280 458h1.5M225.5 474h1.5M267.5 469.5h1.5M277.5 461.5h1.5M222.5 460.5h1.5M309 429.5h1.5M250 472h1.5M229.5 471.5h1.5M309 433.5h1.5M296 456.5h1.5M317.5 424.5h1.5M311.5 427h1.5M238 468h1.5M320.5 421.5h1.5M268.5 461h1.5M314 420.5h1.5M269 461.5h1.5M283.5 458h1.5M216.5 448h1.5M235 466h1.5M327.5 435.5h1.5M262.5 461h1.5M319 429.5h1.5M338.5 454.5h1.5M335 451h1.5M337.5 458h1.5M229 460h1.5M317 429h1.5M311 429.5h1.5M280.5 460.5h1.5M323.5 438.5h1.5M269 466.5h1.5M318.5 425.5h1.5M239.5 472.5h1.5M287 457h1.5M255 473h1.5M293.5 460h1.5M237.5 468.5h1.5M300 446.5h1.5M250.5 477.5h1.5M238 471h1.5M222 461.5h1.5M311.5 424h1.5M296 450h1.5M259 473h1.5M217 465.5h1.5M235 468h1.5M216.5 463.5h1.5M308 430.5h1.5M258.5 457h1.5M222 470h1.5M251 467.5h1.5M320.5 425.5h1.5M293 435.5h1.5M232 466.5h1.5M281 459h1.5M234.5 466h1.5M316 428h1.5M225 471.5h1.5M286.5 450h1.5M286 452.5h1.5M314 425.5h1.5M241.5 458.5h1.5M253.5 471h1.5M331 440h1.5M324 436.5h1.5M332 444.5h1.5M338 461.5h1.5M217 464h1.5M323.5 441.5h1.5M216.5 467.5h1.5M238.5 471.5h1.5M302 434h1.5M234 472h1.5M228 458h1.5M300.5 438h1.5M329.5 453h1.5M227.5 456h1.5M213 459.5h1.5M233.5 464h1.5M286 459.5h1.5M335 453h1.5M240.5 482.5h1.5M284.5 461h1.5M318.5 432.5h1.5M298 457.5h1.5M221 460.5h1.5M291.5 459.5h1.5M268.5 468.5h1.5M257 464.5h1.5M263.5 466h1.5M304.5 447.5h1.5M237 471.5h1.5M324.5 434h1.5M243 474.5h1.5M266.5 466h1.5M319.5 430.5h1.5M212.5 454.5h1.5M268.5 472h1.5M217.5 450h1.5M227.5 463.5h1.5M263 468.5h1.5M212.5 468h1.5M276.5 465.5h1.5M335 447.5h1.5M216.5 460.5h1.5M263 470h1.5M282.5 455.5h1.5M323 432h1.5M281.5 466h1.5M259 472h1.5M248 476.5h1.5M255.5 472h1.5M228 471h1.5M314.5 429h1.5M262 463h1.5M268 475h1.5M266 470.5h1.5M296.5 453h1.5M315.5 430.5h1.5M321.5 432h1.5M315.5 429h1.5M229 458.5h1.5M330 438.5h1.5M332.5 456.5h1.5M259 467.5h1.5M271 468.5h1.5M244.5 477h1.5M325.5 428h1.5M271.5 463.5h1.5M240.5 471.5h1.5M316.5 426.5h1.5M279.5 464h1.5M267 465h1.5M314 427h1.5M250 472.5h1.5M309 432.5h1.5M306 430h1.5M214 459h1.5M239.5 461.5h1.5M295.5 441.5h1.5M285.5 459h1.5M329 448h1.5M316 445.5h1.5M297 440.5h1.5M291.5 451.5h1.5M272 465h1.5M231.5 466h1.5M218.5 458.5h1.5M213.5 460h1.5M314.5 422h1.5M308.5 428h1.5M314.5 419h1.5M258.5 466.5h1.5M338.5 459h1.5M311.5 432h1.5M329.5 450h1.5M252.5 469.5h1.5M326.5 432h1.5M334.5 452.5h1.5M258 463h1.5M338 461.5h1.5M301 441.5h1.5M262.5 475.5h1.5M309.5 429.5h1.5M226.5 460.5h1.5M284 452.5h1.5M272 464.5h1.5M270 457h1.5M276 461h1.5M263.5 463.5h1.5M238.5 478h1.5M266 469h1.5M251.5 479.5h1.5M270.5 470.5h1.5M273 466h1.5M251.5 472h1.5M236.5 472.5h1.5M315 418h1.5M221.5 465.5h1.5M258.5 465.5h1.5M295.5 442h1.5M276.5 466.5h1.5M317 425.5h1.5M237 468h1.5M269.5 476.5h1.5M296 448h1.5M322 424h1.5M301.5 428h1.5M337 463h1.5M239.5 468h1.5M260.5 463.5h1.5M269 473h1.5M319.5 422h1.5M268.5 460.5h1.5M339 452h1.5M338.5 454.5h1.5M232 464h1.5M319 437h1.5M250.5 474.5h1.5M276 467h1.5M315.5 417.5h1.5M217.5 464h1.5M270 459.5h1.5M287 458.5h1.5M333 464h1.5M229.5 460.5h1.5M283 449h1.5M223.5 464.5h1.5M300.5 448.5h1.5M288 433.5h1.5M222 460.5h1.5M241.5 463.5h1.5M310 407h1.5M287 457.5h1.5M296.5 444.5h1.5M212 452h1.5M331 443h1.5M213 453h1.5M331 450.5h1.5M264 467.5h1.5M250 475h1.5M280 451h1.5M245 467h1.5M265 475.5h1.5M308 431h1.5M320 435h1.5M305.5 442.5h1.5M330.5 447h1.5M245 467h1.5M326 442.5h1.5M256.5 481.5h1.5M261.5 467h1.5M255 469.5h1.5M299.5 440.5h1.5M236.5 482.5h1.5M338.5 454h1.5M268 473.5h1.5M244 459.5h1.5M279 460.5h1.5M286.5 461h1.5M333.5 448h1.5M227.5 461.5h1.5M292.5 456.5h1.5M212 456h1.5M213 460.5h1.5M310.5 427h1.5M239 454h1.5M305 440.5h1.5M236.5 475.5h1.5M296.5 449h1.5M216.5 458.5h1.5M333.5 452.5h1.5M306.5 438.5h1.5M274.5 455.5h1.5M231.5 477h1.5M249 470.5h1.5M277 462.5h1.5M335 445.5h1.5M217.5 458.5h1.5M314 423.5h1.5M275 469h1.5M242 474h1.5M310 427.5h1.5M233 457.5h1.5M312.5 424.5h1.5M236.5 472h1.5M287.5 428h1.5M322.5 447h1.5M296.5 444h1.5M285.5 469h1.5M326 441h1.5M220 459.5h1.5M270 471h1.5M243 470.5h1.5M338.5 456.5h1.5M227.5 463h1.5M337 456h1.5M248.5 474.5h1.5M242 473h1.5M218.5 466.5h1.5M270.5 464h1.5M290 450.5h1.5M319 423h1.5M218.5 454h1.5M271 474h1.5M236 477h1.5M255 466.5h1.5M315.5 429.5h1.5M313.5 434h1.5M301 433.5h1.5M299.5 447.5h1.5M219 467.5h1.5M242.5 470h1.5M299.5 446h1.5M307.5 426h1.5M287 437.5h1.5M231 470.5h1.5M285 457h1.5M321.5 436.5h1.5M281 455h1.5M285 453.5h1.5M335 452h1.5M218 474.5h1.5M246.5 475.5h1.5M283 459h1.5M254.5 478.5h1.5M231.5 470h1.5M296.5 451h1.5M269 466.5h1.5M218.5 462h1.5M213.5 449.5h1.5M241 466h1.5M324.5 432.5h1.5M218.5 453.5h1.5M224 463.5h1.5M222 466.5h1.5M286.5 465.5h1.5M280.5 463.5h1.5M240 479h1.5M244.5 473.5h1.5M317 424.5h1.5M264.5 463.5h1.5M322 428.5h1.5M335 459h1.5M259.5 477.5h1.5M239.5 475h1.5M326.5 440.5h1.5M256.5 464h1.5M298 441.5h1.5M257 474.5h1.5M223 463.5h1.5M277.5 470h1.5M254 478h1.5M283.5 456h1.5M295 440h1.5M319 436.5h1.5M232 470h1.5M314 418h1.5M301.5 442.5h1.5M269 468.5h1.5M213 455h1.5M327.5 444h1.5M266.5 465h1.5M236 467.5h1.5M315 428.5h1.5M256.5 472h1.5M339 459h1.5M308.5 423.5h1.5M272 463h1.5M266.5 463.5h1.5M322.5 431h1.5M275.5 461.5h1.5M288 455.5h1.5M246.5 470h1.5M299 446h1.5M333 450.5h1.5M242.5 470h1.5M301.5 428h1.5M294 455h1.5M290 463.5h1.5M317 423h1.5M310.5 430h1.5M262.5 466h1.5M321 434h1.5M250.5 479h1.5M248.5 470.5h1.5M305.5 434h1.5M271.5 460.5h1.5M335.5 458h1.5M229 467h1.5M225 463.5h1.5M313.5 432h1.5M295 444h1.5M279.5 464h1.5M239.5 479.5h1.5M298 445.5h1.5M333 453h1.5M261.5 474.5h1.5M279 463.5h1.5M246.5 467.5h1.5M317.5 410h1.5M248.5 472.5h1.5M253 471h1.5M310 434h1.5M236.5 479h1.5M293.5 446h1.5M278 458h1.5M324 447.5h1.5M214 462.5h1.5M250 482.5h1.5M274.5 472h1.5M226 473h1.5M336.5 447h1.5M257.5 464h1.5M220.5 470.5h1.5M224.5 473h1.5M328 439.5h1.5M268 469.5h1.5M264 477h1.5M284 458.5h1.5M239 469h1.5M268.5 460h1.5M292.5 452.5h1.5M221 465.5h1.5M246.5 472h1.5M329 444h1.5M260 473h1.5M226 462.5h1.5M222 467.5h1.5M232.5 462h1.5M251.5 475h1.5M248 473h1.5M215 451.5h1.5M257.5 462.5h1.5M262.5 451h1.5M311.5 433.5h1.5M249 470.5h1.5M276 465h1.5M255.5 473h1.5M233.5 472h1.5M307 438h1.5M287.5 468.5h1.5M249.5 478h1.5M224 469.5h1.5M240 476.5h1.5M298 440h1.5M281.5 457h1.5M280.5 463h1.5M310 438h1.5M261.5 460h1.5M268.5 471h1.5M325 436h1.5M307.5 432.5h1.5M283 470h1.5M319 421h1.5M337.5 463h1.5M219 451.5h1.5M254 475h1.5M250.5 465.5h1.5M297.5 448.5h1.5M290 457.5h1.5M251 478h1.5M257.5 474h1.5M329.5 447.5h1.5M288.5 448.5h1.5M283 464h1.5M337 459h1.5M274.5 468.5h1.5M231.5 470h1.5M320 438h1.5M290.5 459.5h1.5M258 470.5h1.5M231.5 461.5h1.5M320.5 427h1.5M294 451h1.5M295.5 448h1.5M216.5 467h1.5M272.5 464.5h1.5M281.5 468h1.5M306.5 426h1.5M336 459h1.5M212 449h1.5M235.5 460.5h1.5M270.5 464h1.5M234.5 471h1.5M277.5 468h1.5M335.5 450h1.5M222.5 450.5h1.5M249 474h1.5M272 463h1.5M323 440.5h1.5M288 455.5h1.5M311.5 429.5h1.5M255 467.5h1.5M319.5 434.5h1.5M231.5 470.5h1.5M219 459h1.5M288.5 448h1.5M254.5 471h1.5M276 465h1.5M250 471.5h1.5M240.5 474.5h1.5M223 465.5h1.5M331 445.5h1.5M220.5 453.5h1.5M295 449h1.5M287.5 452.5h1.5M238.5 473h1.5M286.5 457h1.5M339 454h1.5M306.5 431h1.5M330 444.5h1.5M283.5 451h1.5M216 456.5h1.5M243.5 475.5h1.5M222.5 472h1.5M216 457.5h1.5M333 438.5h1.5M321.5 429.5h1.5M263 474.5h1.5M246 466.5h1.5M291 458h1.5M245.5 464h1.5M300.5 445h1.5M270.5 465h1.5M257.5 469.5h1.5M261 478.5h1.5M221 471h1.5M260.5 475h1.5M266 472h1.5M213.5 466.5h1.5M271 471.5h1.5M236 469.5h1.5M281.5 458h1.5M243.5 465.5h1.5M233.5 462.5h1.5M261 454h1.5M269 468.5h1.5M290.5 449h1.5M236.5 476.5h1.5M303.5 426.5h1.5M255.5 464.5h1.5M310 426.5h1.5M249 469h1.5M320 433.5h1.5M322.5 478h1.5M276 460h1.5M220.5 470.5h1.5M232.5 471.5h1.5M299.5 435.5h1.5M255.5 467h1.5M258.5 464.5h1.5M218.5 446.5h1.5M255 475h1.5M228 459h1.5M291 443.5h1.5M227.5 475h1.5M286 448h1.5M235.5 471h1.5M282.5 454.5h1.5M292.5 439.5h1.5M243.5 470.5h1.5M226.5 465.5h1.5M329.5 440.5h1.5M308.5 434h1.5M234 467.5h1.5M326.5 433h1.5M322.5 444h1.5M309 430.5h1.5M241.5 462.5h1.5M267 466.5h1.5M232.5 464.5h1.5M245.5 472.5h1.5M302 430h1.5M269 465.5h1.5M262.5 475.5h1.5M268 465.5h1.5M313 423h1.5M262 470h1.5M228.5 460.5h1.5M258.5 467.5h1.5M225.5 462h1.5M311.5 425.5h1.5M336.5 451.5h1.5M289.5 462h1.5M251.5 471h1.5M299.5 444h1.5M255 471.5h1.5M301 456h1.5M331.5 450h1.5M318 434h1.5M227.5 465.5h1.5M320.5 440h1.5M282 459.5h1.5M333.5 453.5h1.5M284 452h1.5M253.5 461.5h1.5M337.5 459.5h1.5M321.5 425.5h1.5M314 429.5h1.5M311.5 426h1.5M263.5 466.5h1.5M223.5 457h1.5M313 425.5h1.5M272.5 466.5h1.5M318 431.5h1.5M290 456.5h1.5M288 461h1.5M281 460h1.5M241.5 467h1.5M230 464.5h1.5M308 433.5h1.5M261 471.5h1.5M279 491h1.5M304.5 451h1.5M273.5 471.5h1.5M300 441.5h1.5M236.5 468h1.5M223 471.5h1.5M324 430h1.5M293 459h1.5M249.5 475h1.5M338 465.5h1.5M308 434h1.5M296 441h1.5M284.5 453.5h1.5M258 471h1.5M318.5 418.5h1.5M273 465h1.5M332 449h1.5M258.5 466.5h1.5M336 455h1.5M335 436h1.5M273.5 488h1.5M246 461.5h1.5M236 471h1.5M284.5 451.5h1.5M299.5 445.5h1.5M214 509.5h1.5" stroke="#21a246" stroke-width="1.5" fill="none"/>
<path d="M211.8 455.8h0M213.0 457.2h0M214.3 458.4h0M215.5 459.7h0M216.8 460.9h0M218.0 462.6h0M219.3 462.9h0M220.5 463.0h0M221.8 464.5h0M223.0 464.8h0M224.3 464.8h0M225.5 464.8h0M226.7 465.6h0M228.0 466.6h0M229.2 466.8h0M230.5 468.0h0M231.7 469.4h0M233.0 469.5h0M234.2 470.3h0M235.5 469.6h0M236.7 470.5h0M237.9 470.7h0M239.2 470.9h0M240.4 471.9h0M241.7 472.0h0M242.9 471.8h0M244.2 473.2h0M245.4 473.3h0M246.7 473.2h0M247.9 473.3h0M249.2 473.3h0M250.4 473.6h0M251.6 472.4h0M252.9 471.7h0M254.1 471.9h0M255.4 471.4h0M256.6 471.9h0M257.9 472.0h0M259.1 471.0h0M260.4 470.4h0M261.6 469.0h0M262.8 468.5h0M264.1 467.7h0M265.3 467.1h0M266.6 466.3h0M267.8 465.8h0M269.1 465.4h0M270.3 465.0h0M271.6 464.9h0M272.8 464.7h0M274.1 464.1h0M275.3 463.8h0M276.5 462.6h0M277.8 461.9h0M279.0 460.6h0M280.3 460.2h0M281.5 458.8h0M282.8 458.1h0M284.0 457.4h0M285.3 456.7h0M286.5 456.3h0M287.8 455.6h0M289.0 454.8h0M290.2 452.7h0M291.5 451.3h0M292.7 450.3h0M294.0 448.8h0M295.2 448.4h0M296.5 445.8h0M297.7 445.0h0M299.0 443.4h0M300.2 441.9h0M301.4 440.6h0M302.7 439.0h0M303.9 437.9h0M305.2 436.0h0M306.4 434.8h0M307.7 433.7h0M308.9 431.6h0M310.2 429.3h0M311.4 427.6h0M312.7 424.9h0M313.9 423.6h0M315.1 422.0h0M316.4 424.6h0M317.6 426.3h0M318.9 428.5h0M320.1 431.0h0M321.4 431.9h0M322.6 435.1h0M323.9 435.0h0M325.1 437.8h0M326.3 440.2h0M327.6 442.5h0M328.8 444.9h0M330.1 446.0h0M331.3 447.5h0M332.6 448.6h0M333.8 449.6h0M335.1 451.2h0M336.3 452.2h0M337.6 453.4h0M338.8 456.1h0" stroke="#000" stroke-width="3.9" fill="none" stroke-linecap="round"/>
<text x="215.4" y="391.4" font-size="13.6" text-anchor="start" font-weight="bold" font-style="italic" >rnhB</text>
</g>
<text x="211.4" y="528.7" font-size="8.3" text-anchor="middle" font-weight="normal" font-style="normal" >0</text>
<text x="238.8" y="528.7" font-size="8.3" text-anchor="middle" font-weight="normal" font-style="normal" >1</text>
<text x="266.2" y="528.7" font-size="8.3" text-anchor="middle" font-weight="normal" font-style="normal" >2</text>
<text x="293.6" y="528.7" font-size="8.3" text-anchor="middle" font-weight="normal" font-style="normal" >3</text>
<text x="321.0" y="528.7" font-size="8.3" text-anchor="middle" font-weight="normal" font-style="normal" >4</text>
<text x="272.0" y="538.0" font-size="9.05" text-anchor="middle" font-weight="normal" font-style="normal" >chromosome position (Mb)</text>
<text x="251.0" y="518.0" font-size="8.9" text-anchor="middle" font-weight="normal" font-style="normal" >terminus</text>
<path d="M243.4 505.6A7.6 5.4 0 0 0 258.6 505.6" stroke="#000" stroke-width="0.9" fill="none"/>
<text x="312.4" y="518.6" font-size="8.9" text-anchor="middle" font-weight="normal" font-style="italic" >oriC</text>
<path d="M312.6 504.4V512.3" stroke="#000" stroke-width="0.8" fill="none"/>
<g id="panelA">
<text x="11.5" y="25.2" font-size="17.2" text-anchor="start" font-weight="normal" font-style="normal" >A)</text>
<text x="37.5" y="15.6" font-size="9.05" text-anchor="start" font-weight="normal" font-style="normal" >Purify DNA from a replicating culture</text>
<text x="37.5" y="76.2" font-size="9.05" text-anchor="start" font-weight="normal" font-style="normal" >Fragment DNA and sequence</text>
<text x="37.5" y="141.6" font-size="9.05" text-anchor="start" font-weight="normal" font-style="normal" >Count sequences and map</text>
<text x="41.2" y="212.2" font-size="9.05" text-anchor="start" font-weight="normal" font-style="normal" >Map position on chromosome</text>
<path d="M58.1 30.5A19.0 19.0 0 1 1 37.9 30.5" fill="none" stroke="#000" stroke-width="3.5" stroke-linecap="round" stroke-linejoin="round"/>
<ellipse cx="48" cy="29.1" rx="9.9" ry="5.7" fill="none" stroke="#000" stroke-width="3.5" stroke-linecap="round" stroke-linejoin="round"/>
<circle cx="48.0" cy="24.6" r="3.6" fill="#0b7d14"/>
<circle cx="48.0" cy="33.3" r="3.6" fill="#0b7d14"/>
<circle cx="31.5" cy="37.4" r="3.6" fill="#ffee00"/>
<circle cx="63.4" cy="37.8" r="3.6" fill="#0a14f0"/>
<circle cx="32.2" cy="55.7" r="3.6" fill="#ff7d0a"/>
<circle cx="63.2" cy="55.2" r="3.6" fill="#47108c"/>
<circle cx="49.2" cy="64.4" r="3.6" fill="#ff0a0a"/>
<path d="M82.6 42 C80.5 52 88 63 100 63 C112 63 119.5 52 117.6 42" fill="none" stroke="#000" stroke-width="3.5" stroke-linecap="round" stroke-linejoin="round"/>
<path d="M82.6 42 C79 40 77.5 37.5 79.5 34 C84 26 91 22.2 99.3 22.2 C108 22.2 115.5 26.5 119.6 34.5 C121.2 38 120.5 40.5 117.6 42" fill="none" stroke="#000" stroke-width="3.5" stroke-linecap="round" stroke-linejoin="round"/>
<path d="M82.6 42 C84 40 86 39.5 88 38.5 C91 35 95 32 99.3 32 C104 32 108 35 111 38.5 C113.5 40 116 40 117.6 42" fill="none" stroke="#000" stroke-width="3.5" stroke-linecap="round" stroke-linejoin="round"/>
<circle cx="99.2" cy="22.2" r="3.6" fill="#0b7d14"/>
<circle cx="99.2" cy="32.0" r="3.6" fill="#0b7d14"/>
<circle cx="78.8" cy="35.1" r="3.6" fill="#ffee00"/>
<circle cx="87.8" cy="39.2" r="3.6" fill="#ffee00"/>
<circle cx="111.2" cy="39.2" r="3.6" fill="#0a14f0"/>
<circle cx="120.0" cy="35.6" r="3.6" fill="#0a14f0"/>
<circle cx="85.3" cy="55.4" r="3.6" fill="#ff7d0a"/>
<circle cx="114.9" cy="54.9" r="3.6" fill="#47108c"/>
<circle cx="99.3" cy="62.9" r="3.6" fill="#ff0a0a"/>
<path d="M146 59.6 C142 62.5 136 61.5 133 57 C127.5 48.5 129.5 35.5 136.5 28.5 C145 20 161 19.5 170.5 28.5 C178.5 36 179 50 173 57.5 C169.5 62 164 62 160.5 59.6" fill="none" stroke="#000" stroke-width="3.5" stroke-linecap="round" stroke-linejoin="round"/>
<path d="M146 59.6 C147 57 146 55.5 143.8 53 C139 47 140.5 38.5 145.5 34.5 C150 31 157 30.5 161.5 34 C167 38.5 168.5 46.5 164.5 52.5 C162 55.5 160 57 160.5 59.6" fill="none" stroke="#000" stroke-width="3.5" stroke-linecap="round" stroke-linejoin="round"/>
<path d="M146 59.6 C149 62.5 157 62.8 160.5 59.6" fill="none" stroke="#000" stroke-width="3.5" stroke-linecap="round" stroke-linejoin="round"/>
<circle cx="151.9" cy="21.5" r="3.6" fill="#0b7d14"/>
<circle cx="151.9" cy="31.2" r="3.6" fill="#0b7d14"/>
<circle cx="133.2" cy="33.2" r="3.6" fill="#ffee00"/>
<circle cx="142.4" cy="38.5" r="3.6" fill="#ffee00"/>
<circle cx="164.9" cy="38.0" r="3.6" fill="#0a14f0"/>
<circle cx="174.2" cy="34.2" r="3.6" fill="#0a14f0"/>
<circle cx="142.4" cy="51.5" r="3.6" fill="#ff7d0a"/>
<circle cx="134.0" cy="56.6" r="3.6" fill="#ff7d0a"/>
<circle cx="164.0" cy="52.4" r="3.6" fill="#47108c"/>
<circle cx="172.2" cy="57.5" r="3.6" fill="#47108c"/>
<circle cx="153.0" cy="62.2" r="3.6" fill="#ff0a0a"/>
<path d="M160.9 64.6V75.5" stroke="#000" stroke-width="2.9" fill="none"/>
<path d="M155.4 74.0L160.9 80.6L166.4 74.0L160.9 74.9Z" fill="#000"/>
<path d="M160.7 133.0V143.8" stroke="#000" stroke-width="2.9" fill="none"/>
<path d="M155.2 142.3L160.7 148.9L166.2 142.3L160.7 143.20000000000002Z" fill="#000"/>
<path d="M40.8 92.2Q48.0 89.0 55.2 92.2" stroke="#000" stroke-width="5.3" fill="none"/>
<path d="M40.8 97.0Q48.0 100.2 55.2 97.0" stroke="#000" stroke-width="5.3" fill="none"/>
<path d="M23.9 105.9Q30.9 101.9 38.3 105.1" stroke="#000" stroke-width="5.3" fill="none"/>
<path d="M60.8 97.3Q64.4 104.0 63.3 111.5" stroke="#000" stroke-width="5.3" fill="none"/>
<path d="M34.0 114.5Q30.7 121.4 32.2 128.8" stroke="#000" stroke-width="5.3" fill="none"/>
<path d="M55.8 120.1Q63.4 122.3 70.1 118.1" stroke="#000" stroke-width="5.3" fill="none"/>
<path d="M42.4 127.4Q48.9 131.8 56.6 129.9" stroke="#000" stroke-width="5.3" fill="none"/>
<path d="M92.0 90.1Q99.2 86.9 106.4 90.1" stroke="#000" stroke-width="5.3" fill="none"/>
<path d="M92.8 100.9Q100.0 98.4 107.1 101.5" stroke="#000" stroke-width="5.3" fill="none"/>
<path d="M81.0 93.8Q77.8 100.5 78.5 108.0" stroke="#000" stroke-width="5.3" fill="none"/>
<path d="M89.2 98.3Q86.8 105.3 88.4 112.6" stroke="#000" stroke-width="5.3" fill="none"/>
<path d="M118.6 94.4Q121.0 101.4 119.4 108.7" stroke="#000" stroke-width="5.3" fill="none"/>
<path d="M103.2 107.6Q105.7 114.6 104.2 122.0" stroke="#000" stroke-width="5.3" fill="none"/>
<path d="M86.4 114.1Q83.9 121.1 85.4 128.5" stroke="#000" stroke-width="5.3" fill="none"/>
<path d="M112.4 113.7Q115.4 120.6 114.4 128.0" stroke="#000" stroke-width="5.3" fill="none"/>
<path d="M92.1 127.3Q99.1 130.9 106.5 128.1" stroke="#000" stroke-width="5.3" fill="none"/>
<path d="M132.6 87.4Q140.0 84.8 146.9 88.6" stroke="#000" stroke-width="5.3" fill="none"/>
<path d="M151.6 84.1Q155.8 90.4 155.3 98.0" stroke="#000" stroke-width="5.3" fill="none"/>
<path d="M132.1 107.5Q131.2 100.0 135.1 93.4" stroke="#000" stroke-width="5.3" fill="none"/>
<path d="M138.7 102.5Q146.2 101.0 152.8 105.0" stroke="#000" stroke-width="5.3" fill="none"/>
<path d="M161.1 91.3Q165.3 97.6 164.8 105.2" stroke="#000" stroke-width="5.3" fill="none"/>
<path d="M172.4 93.1Q175.4 100.1 173.6 107.5" stroke="#000" stroke-width="5.3" fill="none"/>
<path d="M129.6 112.8Q137.3 111.9 143.5 116.5" stroke="#000" stroke-width="5.3" fill="none"/>
<path d="M126.3 122.0Q133.8 120.5 140.4 124.5" stroke="#000" stroke-width="5.3" fill="none"/>
<path d="M149.3 122.5Q156.0 118.7 163.5 120.5" stroke="#000" stroke-width="5.3" fill="none"/>
<path d="M142.6 128.1Q149.1 132.5 156.8 130.6" stroke="#000" stroke-width="5.3" fill="none"/>
<path d="M172.6 109.2Q172.4 116 169.4 121.5" stroke="#000" stroke-width="5.3" fill="none"/>
<circle cx="48.0" cy="90.6" r="3.5" fill="#0b7d14"/>
<circle cx="48.0" cy="98.6" r="3.5" fill="#0b7d14"/>
<circle cx="31.0" cy="103.7" r="3.5" fill="#ffee00"/>
<circle cx="63.2" cy="104.2" r="3.5" fill="#0a14f0"/>
<circle cx="31.9" cy="121.5" r="3.5" fill="#ff7d0a"/>
<circle cx="63.2" cy="120.7" r="3.5" fill="#47108c"/>
<circle cx="49.2" cy="130.2" r="3.5" fill="#ff0a0a"/>
<circle cx="99.2" cy="88.5" r="3.5" fill="#0b7d14"/>
<circle cx="100.0" cy="99.8" r="3.5" fill="#0b7d14"/>
<circle cx="78.8" cy="100.7" r="3.5" fill="#ffee00"/>
<circle cx="87.8" cy="105.4" r="3.5" fill="#ffee00"/>
<circle cx="120.0" cy="101.5" r="3.5" fill="#0a14f0"/>
<circle cx="104.7" cy="114.7" r="3.5" fill="#0a14f0"/>
<circle cx="84.9" cy="121.2" r="3.5" fill="#ff7d0a"/>
<circle cx="114.4" cy="120.7" r="3.5" fill="#47108c"/>
<circle cx="99.2" cy="129.3" r="3.5" fill="#ff0a0a"/>
<circle cx="139.9" cy="86.4" r="3.5" fill="#0b7d14"/>
<circle cx="154.6" cy="90.7" r="3.5" fill="#0b7d14"/>
<circle cx="132.4" cy="100.2" r="3.5" fill="#ffee00"/>
<circle cx="146.0" cy="102.4" r="3.5" fill="#ffee00"/>
<circle cx="164.1" cy="97.9" r="3.5" fill="#0a14f0"/>
<circle cx="174.2" cy="100.2" r="3.5" fill="#0a14f0"/>
<circle cx="136.9" cy="113.3" r="3.5" fill="#ff7d0a"/>
<circle cx="133.6" cy="121.9" r="3.5" fill="#ff7d0a"/>
<circle cx="156.2" cy="120.1" r="3.5" fill="#47108c"/>
<circle cx="149.4" cy="130.9" r="3.5" fill="#ff0a0a"/>
<circle cx="168.8" cy="121.2" r="3.5" fill="#47108c"/>
<path d="M47.6 154.5V203.8H155" stroke="#222" stroke-width="0.9" fill="none"/>
<path d="M42.5 200.5V157" stroke="#000" stroke-width="0.9" fill="none"/>
<path d="M40.3 158.6L42.5 153.2L44.7 158.6Z" fill="#000"/>
<text x="0" y="0" font-size="9.05" text-anchor="middle" font-weight="normal" font-style="normal" transform="translate(36.2 176.5) rotate(-90)">copy number</text>
<circle cx="60.8" cy="198.0" r="3.8" fill="#47108c"/>
<circle cx="60.8" cy="189.3" r="3.8" fill="#47108c"/>
<circle cx="60.8" cy="180.6" r="3.8" fill="#47108c"/>
<circle cx="60.8" cy="171.9" r="3.8" fill="#47108c"/>
<circle cx="75.3" cy="198.0" r="3.8" fill="#ff0a0a"/>
<circle cx="75.3" cy="189.3" r="3.8" fill="#ff0a0a"/>
<circle cx="75.3" cy="180.6" r="3.8" fill="#ff0a0a"/>
<circle cx="89.3" cy="198.0" r="3.8" fill="#ff7d0a"/>
<circle cx="89.3" cy="189.3" r="3.8" fill="#ff7d0a"/>
<circle cx="89.3" cy="180.6" r="3.8" fill="#ff7d0a"/>
<circle cx="89.3" cy="171.9" r="3.8" fill="#ff7d0a"/>
<circle cx="103.9" cy="198.0" r="3.8" fill="#ffee00"/>
<circle cx="103.9" cy="189.3" r="3.8" fill="#ffee00"/>
<circle cx="103.9" cy="180.6" r="3.8" fill="#ffee00"/>
<circle cx="103.9" cy="171.9" r="3.8" fill="#ffee00"/>
<circle cx="103.9" cy="163.2" r="3.8" fill="#ffee00"/>
<circle cx="118.7" cy="198.0" r="3.8" fill="#0b7d14"/>
<circle cx="118.7" cy="189.3" r="3.8" fill="#0b7d14"/>
<circle cx="118.7" cy="180.6" r="3.8" fill="#0b7d14"/>
<circle cx="118.7" cy="171.9" r="3.8" fill="#0b7d14"/>
<circle cx="118.7" cy="163.2" r="3.8" fill="#0b7d14"/>
<circle cx="118.7" cy="154.5" r="3.8" fill="#0b7d14"/>
<circle cx="132.7" cy="198.0" r="3.8" fill="#0a14f0"/>
<circle cx="132.7" cy="189.3" r="3.8" fill="#0a14f0"/>
<circle cx="132.7" cy="180.6" r="3.8" fill="#0a14f0"/>
<circle cx="132.7" cy="171.9" r="3.8" fill="#0a14f0"/>
<circle cx="132.7" cy="163.2" r="3.8" fill="#0a14f0"/>
<path d="M55.5 160.3L75.3 176L118.7 147.8L143.5 164" stroke="#000" stroke-width="1.4" stroke-dasharray="3.4 1.8" fill="none"/>
</g>
</svg></body></html>
